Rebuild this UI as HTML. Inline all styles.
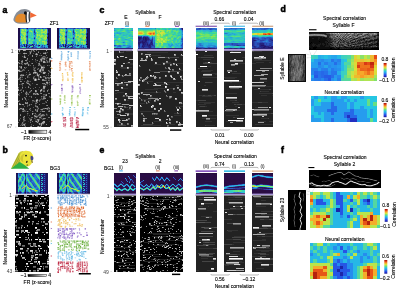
<!DOCTYPE html>
<html><head><meta charset="utf-8"><style>
html,body{margin:0;padding:0;background:#fff;}
body{width:400px;height:300px;overflow:hidden;position:relative;}
svg{position:absolute;left:0;top:0;}
text{font-family:"Liberation Sans",Arial,sans-serif;}
</style></head><body>
<svg width="400" height="300" viewBox="0 0 400 300" >
<rect width="400" height="300" fill="#fff"/>
<defs><filter id="bl" x="-5%" y="-5%" width="110%" height="110%"><feGaussianBlur stdDeviation="0.35"/></filter><filter id="bl2" x="-2%" y="-2%" width="104%" height="104%"><feGaussianBlur stdDeviation="0.3"/></filter><filter id="bl3" x="-2%" y="-2%" width="104%" height="104%"><feGaussianBlur stdDeviation="0.6"/></filter></defs>
<text x="2.6" y="12.6" font-size="8.7" text-anchor="start" font-weight="bold" fill="#000" stroke="#000" stroke-width="0.5">a</text>
<g transform="translate(0 0)">
<path d="M13.3 20.0 C14.2 15.5 17.0 11.2 21.0 9.6 C24.5 8.3 28.5 8.8 30.6 11.6 L30.4 20.6 C30.0 22.4 28.6 23.7 26.8 23.8 L20.0 23.8 C16.8 23.6 14.2 22.4 13.3 20.0Z" fill="#878e98"/>
<path d="M15.2 20.2 C15.0 16.8 17.6 14.0 21.2 13.8 C23.2 13.7 24.8 14.2 25.8 15.0 L26.0 22.4 L18.2 22.6 C16.5 22.4 15.3 21.5 15.2 20.2Z" fill="#e28a2c"/>
<path d="M26.6 12.2 C27.6 11.8 28.6 11.9 29.0 12.4 C28.4 15.5 28.4 18.8 29.2 21.8 L27.2 22.4 C26.6 19.0 26.6 15.0 26.6 12.2Z" fill="#f6f6f6"/>
<path d="M25.5 14.0 L26.6 14.0 C26.4 16.8 26.5 19.6 27.0 22.3 L26.0 22.4 C25.6 19.4 25.4 16.6 25.5 14.0Z" fill="#151515"/>
<circle cx="25.4" cy="12.9" r="1.55" fill="#111"/>
<path d="M29.0 12.2 L29.9 12.0 C29.5 15.2 29.5 18.4 30.1 21.2 L29.3 21.8 C28.6 18.8 28.5 15.4 29.0 12.2Z" fill="#2a2a2a"/>
<path d="M30.2 12.2 L36.8 15.4 L30.2 18.0Z" fill="#f26a36"/>
</g>
<text x="49.7" y="25" font-size="5" text-anchor="start" font-weight="normal" fill="#000" stroke="#000" stroke-width="0.1">ZF1</text>
<g filter="url(#bl)" shape-rendering="crispEdges"><rect x="18.1" y="28.2" width="32.5" height="20.4" fill="#1f155d"/>
<path fill="#1b0f48" d="M18.1 28.2h1.97v1.02h-1.97zM18.1 29.22h1.97v1.02h-1.97zM18.1 30.24h1.97v1.02h-1.97zM47.65 30.24h0.98v1.02h-0.98zM18.1 31.26h1.97v1.02h-1.97zM18.1 32.28h1.97v1.02h-1.97zM18.1 33.3h1.97v1.02h-1.97zM18.1 34.32h1.97v1.02h-1.97zM18.1 35.34h1.97v1.02h-1.97zM47.65 35.34h0.98v1.02h-0.98zM18.1 36.36h1.97v1.02h-1.97zM18.1 37.38h1.97v1.02h-1.97zM18.1 38.4h1.97v1.02h-1.97zM18.1 39.42h1.97v1.02h-1.97zM18.1 40.44h1.97v1.02h-1.97zM47.65 40.44h0.98v1.02h-0.98zM18.1 41.46h1.97v1.02h-1.97zM47.65 41.46h0.98v1.02h-0.98zM18.1 42.48h1.97v1.02h-1.97zM47.65 42.48h0.98v1.02h-0.98zM18.1 43.5h1.97v1.02h-1.97zM18.1 44.52h1.97v1.02h-1.97zM25.98 44.52h0.98v1.02h-0.98zM38.78 44.52h0.98v1.02h-0.98zM18.1 45.54h1.97v1.02h-1.97zM25.98 45.54h0.98v1.02h-0.98zM47.65 45.54h0.98v1.02h-0.98zM18.1 46.56h1.97v1.02h-1.97zM18.1 47.58h1.97v1.02h-1.97z"/>
<path fill="#2c52bd" d="M20.07 28.2h0.98v1.02h-0.98zM30.9 28.2h2.95v1.02h-2.95zM35.83 28.2h0.98v1.02h-0.98zM37.8 28.2h1.97v1.02h-1.97zM42.72 28.2h0.98v1.02h-0.98zM44.69 28.2h1.97v1.02h-1.97zM26.96 31.26h0.98v1.02h-0.98zM26.96 33.3h0.98v1.02h-0.98zM34.84 33.3h0.98v1.02h-0.98zM33.86 34.32h0.98v1.02h-0.98zM26.96 35.34h0.98v1.02h-0.98zM46.66 36.36h0.98v1.02h-0.98zM33.86 37.38h0.98v1.02h-0.98zM26.96 38.4h0.98v1.02h-0.98zM26.96 39.42h0.98v1.02h-0.98zM46.66 39.42h0.98v1.02h-0.98zM46.66 40.44h0.98v1.02h-0.98zM46.66 42.48h0.98v1.02h-0.98zM26.96 43.5h0.98v1.02h-0.98zM28.93 43.5h0.98v1.02h-0.98zM35.83 43.5h0.98v1.02h-0.98zM20.07 44.52h1.97v1.02h-1.97zM27.95 44.52h1.97v1.02h-1.97zM31.89 44.52h0.98v1.02h-0.98zM35.83 44.52h0.98v1.02h-0.98zM43.71 44.52h0.98v1.02h-0.98zM33.86 45.54h0.98v1.02h-0.98zM37.8 45.54h0.98v1.02h-0.98zM40.75 45.54h1.97v1.02h-1.97zM30.9 46.56h0.98v1.02h-0.98zM34.84 46.56h0.98v1.02h-0.98zM41.74 46.56h0.98v1.02h-0.98z"/>
<path fill="#2c68cb" d="M21.05 28.2h2.95v1.02h-2.95zM27.95 28.2h2.95v1.02h-2.95zM39.77 28.2h1.97v1.02h-1.97zM43.71 28.2h0.98v1.02h-0.98zM26.96 29.22h0.98v1.02h-0.98zM33.86 29.22h0.98v1.02h-0.98zM46.66 29.22h0.98v1.02h-0.98zM34.84 32.28h0.98v1.02h-0.98zM33.86 33.3h0.98v1.02h-0.98zM26.96 34.32h0.98v1.02h-0.98zM46.66 35.34h0.98v1.02h-0.98zM20.07 36.36h0.98v1.02h-0.98zM25.98 40.44h0.98v1.02h-0.98zM21.05 43.5h0.98v1.02h-0.98zM30.9 43.5h0.98v1.02h-0.98zM34.84 44.52h0.98v1.02h-0.98zM21.05 45.54h0.98v1.02h-0.98zM26.96 45.54h1.97v1.02h-1.97zM43.71 45.54h0.98v1.02h-0.98zM26.96 46.56h0.98v1.02h-0.98zM33.86 46.56h0.98v1.02h-0.98zM35.83 46.56h0.98v1.02h-0.98zM40.75 46.56h0.98v1.02h-0.98zM42.72 46.56h0.98v1.02h-0.98zM45.68 46.56h0.98v1.02h-0.98z"/>
<path fill="#2b81d2" d="M24.01 28.2h1.97v1.02h-1.97zM36.81 28.2h0.98v1.02h-0.98zM46.66 30.24h0.98v1.02h-0.98zM27.95 31.26h0.98v1.02h-0.98zM46.66 31.26h0.98v1.02h-0.98zM25.98 32.28h0.98v1.02h-0.98zM46.66 32.28h0.98v1.02h-0.98zM20.07 33.3h0.98v1.02h-0.98zM34.84 34.32h0.98v1.02h-0.98zM34.84 35.34h0.98v1.02h-0.98zM20.07 37.38h0.98v1.02h-0.98zM25.98 37.38h0.98v1.02h-0.98zM33.86 39.42h0.98v1.02h-0.98zM20.07 42.48h0.98v1.02h-0.98zM32.87 42.48h1.97v1.02h-1.97zM24.99 43.5h0.98v1.02h-0.98zM29.92 43.5h0.98v1.02h-0.98zM22.04 44.52h1.97v1.02h-1.97zM36.81 44.52h0.98v1.02h-0.98zM46.66 44.52h0.98v1.02h-0.98zM20.07 45.54h0.98v1.02h-0.98zM34.84 45.54h0.98v1.02h-0.98zM46.66 45.54h0.98v1.02h-0.98zM20.07 46.56h0.98v1.02h-0.98zM28.93 46.56h0.98v1.02h-0.98zM39.77 46.56h0.98v1.02h-0.98zM44.69 46.56h0.98v1.02h-0.98z"/>
<path fill="#2941a5" d="M25.98 28.2h0.98v1.02h-0.98zM33.86 28.2h0.98v1.02h-0.98zM41.74 28.2h0.98v1.02h-0.98zM33.86 30.24h0.98v1.02h-0.98zM46.66 33.3h0.98v1.02h-0.98zM25.98 36.36h0.98v1.02h-0.98zM26.96 37.38h0.98v1.02h-0.98zM26.96 40.44h0.98v1.02h-0.98zM23.02 43.5h0.98v1.02h-0.98zM32.87 43.5h1.97v1.02h-1.97zM41.74 44.52h0.98v1.02h-0.98zM24.99 45.54h0.98v1.02h-0.98z"/>
<path fill="#262f8c" d="M34.84 28.2h0.98v1.02h-0.98zM33.86 31.26h0.98v1.02h-0.98zM26.96 32.28h0.98v1.02h-0.98zM33.86 32.28h0.98v1.02h-0.98zM46.66 34.32h0.98v1.02h-0.98zM26.96 36.36h0.98v1.02h-0.98zM46.66 38.4h0.98v1.02h-0.98zM26.96 41.46h0.98v1.02h-0.98zM46.66 41.46h0.98v1.02h-0.98zM26.96 42.48h0.98v1.02h-0.98zM24.01 43.5h0.98v1.02h-0.98zM26.96 44.52h0.98v1.02h-0.98zM29.92 44.52h1.97v1.02h-1.97zM37.8 44.52h0.98v1.02h-0.98zM22.04 45.54h0.98v1.02h-0.98zM24.01 45.54h0.98v1.02h-0.98zM32.87 45.54h0.98v1.02h-0.98zM25.98 46.56h0.98v1.02h-0.98zM27.95 46.56h0.98v1.02h-0.98zM32.87 46.56h0.98v1.02h-0.98zM43.71 46.56h0.98v1.02h-0.98z"/>
<path fill="#241d74" d="M46.66 28.2h0.98v1.02h-0.98zM47.65 32.28h0.98v1.02h-0.98zM33.86 38.4h0.98v1.02h-0.98zM25.98 43.5h0.98v1.02h-0.98zM32.87 44.52h0.98v1.02h-0.98zM47.65 44.52h0.98v1.02h-0.98zM31.89 46.56h0.98v1.02h-0.98z"/>
<path fill="#299ad8" d="M20.07 29.22h0.98v1.02h-0.98zM27.95 29.22h0.98v1.02h-0.98zM20.07 30.24h0.98v1.02h-0.98zM26.96 30.24h1.97v1.02h-1.97zM20.07 31.26h0.98v1.02h-0.98zM32.87 31.26h0.98v1.02h-0.98zM20.07 32.28h0.98v1.02h-0.98zM27.95 32.28h0.98v1.02h-0.98zM32.87 32.28h0.98v1.02h-0.98zM20.07 34.32h0.98v1.02h-0.98zM25.98 35.34h0.98v1.02h-0.98zM34.84 36.36h0.98v1.02h-0.98zM34.84 37.38h0.98v1.02h-0.98zM32.87 38.4h0.98v1.02h-0.98zM34.84 38.4h0.98v1.02h-0.98zM20.07 39.42h0.98v1.02h-0.98zM25.98 39.42h0.98v1.02h-0.98zM25.98 41.46h0.98v1.02h-0.98zM32.87 41.46h1.97v1.02h-1.97zM25.98 42.48h0.98v1.02h-0.98zM37.8 43.5h0.98v1.02h-0.98zM45.68 43.5h0.98v1.02h-0.98zM24.99 44.52h0.98v1.02h-0.98zM39.77 44.52h1.97v1.02h-1.97zM42.72 44.52h0.98v1.02h-0.98zM44.69 44.52h0.98v1.02h-0.98zM23.02 45.54h0.98v1.02h-0.98zM38.78 45.54h0.98v1.02h-0.98zM21.05 46.56h0.98v1.02h-0.98zM29.92 46.56h0.98v1.02h-0.98z"/>
<path fill="#85e656" d="M21.05 29.22h0.98v1.02h-0.98zM24.99 29.22h0.98v1.02h-0.98zM36.81 29.22h0.98v1.02h-0.98zM40.75 29.22h1.97v1.02h-1.97zM21.05 31.26h1.97v1.02h-1.97zM29.92 31.26h0.98v1.02h-0.98zM40.75 31.26h2.95v1.02h-2.95zM24.99 32.28h0.98v1.02h-0.98zM44.69 32.28h0.98v1.02h-0.98zM22.04 33.3h1.97v1.02h-1.97zM40.75 33.3h0.98v1.02h-0.98zM38.78 34.32h0.98v1.02h-0.98zM37.8 35.34h0.98v1.02h-0.98zM39.77 35.34h0.98v1.02h-0.98zM42.72 35.34h0.98v1.02h-0.98zM44.69 35.34h0.98v1.02h-0.98zM36.81 36.36h0.98v1.02h-0.98zM41.74 36.36h1.97v1.02h-1.97zM45.68 36.36h0.98v1.02h-0.98zM21.05 37.38h0.98v1.02h-0.98zM39.77 37.38h1.97v1.02h-1.97zM22.04 38.4h1.97v1.02h-1.97zM37.8 38.4h1.97v1.02h-1.97zM42.72 38.4h0.98v1.02h-0.98zM22.04 39.42h0.98v1.02h-0.98zM28.93 39.42h0.98v1.02h-0.98zM38.78 39.42h1.97v1.02h-1.97zM43.71 39.42h0.98v1.02h-0.98zM21.05 40.44h1.97v1.02h-1.97zM24.01 40.44h1.97v1.02h-1.97zM22.04 42.48h0.98v1.02h-0.98zM28.93 42.48h0.98v1.02h-0.98zM36.81 42.48h0.98v1.02h-0.98zM44.69 42.48h1.97v1.02h-1.97z"/>
<path fill="#a9e64b" d="M22.04 29.22h0.98v1.02h-0.98zM45.68 29.22h0.98v1.02h-0.98zM22.04 30.24h1.97v1.02h-1.97zM24.99 30.24h0.98v1.02h-0.98zM40.75 30.24h1.97v1.02h-1.97zM44.69 30.24h1.97v1.02h-1.97zM30.9 31.26h0.98v1.02h-0.98zM35.83 31.26h0.98v1.02h-0.98zM43.71 31.26h2.95v1.02h-2.95zM21.05 32.28h3.94v1.02h-3.94zM36.81 32.28h0.98v1.02h-0.98zM40.75 32.28h3.94v1.02h-3.94zM45.68 32.28h0.98v1.02h-0.98zM24.01 33.3h1.97v1.02h-1.97zM44.69 33.3h0.98v1.02h-0.98zM23.02 34.32h2.95v1.02h-2.95zM36.81 34.32h0.98v1.02h-0.98zM24.01 35.34h0.98v1.02h-0.98zM36.81 35.34h0.98v1.02h-0.98zM38.78 35.34h0.98v1.02h-0.98zM40.75 35.34h1.97v1.02h-1.97zM45.68 35.34h0.98v1.02h-0.98zM21.05 36.36h0.98v1.02h-0.98zM24.01 36.36h0.98v1.02h-0.98zM39.77 36.36h1.97v1.02h-1.97zM44.69 36.36h0.98v1.02h-0.98zM23.02 37.38h1.97v1.02h-1.97zM35.83 37.38h0.98v1.02h-0.98zM43.71 37.38h2.95v1.02h-2.95zM21.05 38.4h0.98v1.02h-0.98zM24.01 38.4h1.97v1.02h-1.97zM43.71 38.4h2.95v1.02h-2.95zM24.01 39.42h1.97v1.02h-1.97zM44.69 39.42h0.98v1.02h-0.98zM38.78 40.44h0.98v1.02h-0.98zM24.99 41.46h0.98v1.02h-0.98zM41.74 41.46h2.95v1.02h-2.95zM23.02 42.48h0.98v1.02h-0.98zM24.99 42.48h0.98v1.02h-0.98zM43.71 42.48h0.98v1.02h-0.98z"/>
<path fill="#69e26b" d="M23.02 29.22h0.98v1.02h-0.98zM37.8 29.22h1.97v1.02h-1.97zM44.69 29.22h0.98v1.02h-0.98zM21.05 30.24h0.98v1.02h-0.98zM24.01 30.24h0.98v1.02h-0.98zM28.93 30.24h1.97v1.02h-1.97zM35.83 30.24h0.98v1.02h-0.98zM39.77 30.24h0.98v1.02h-0.98zM23.02 31.26h0.98v1.02h-0.98zM24.99 31.26h0.98v1.02h-0.98zM28.93 31.26h0.98v1.02h-0.98zM37.8 32.28h0.98v1.02h-0.98zM36.81 33.3h0.98v1.02h-0.98zM43.71 33.3h0.98v1.02h-0.98zM45.68 33.3h0.98v1.02h-0.98zM22.04 34.32h0.98v1.02h-0.98zM35.83 34.32h0.98v1.02h-0.98zM37.8 34.32h0.98v1.02h-0.98zM40.75 34.32h1.97v1.02h-1.97zM23.02 35.34h0.98v1.02h-0.98zM24.99 35.34h0.98v1.02h-0.98zM43.71 35.34h0.98v1.02h-0.98zM22.04 36.36h0.98v1.02h-0.98zM43.71 36.36h0.98v1.02h-0.98zM24.99 37.38h0.98v1.02h-0.98zM36.81 37.38h0.98v1.02h-0.98zM38.78 37.38h0.98v1.02h-0.98zM41.74 37.38h1.97v1.02h-1.97zM36.81 38.4h0.98v1.02h-0.98zM39.77 38.4h0.98v1.02h-0.98zM23.02 39.42h0.98v1.02h-0.98zM31.89 40.44h0.98v1.02h-0.98zM39.77 40.44h0.98v1.02h-0.98zM43.71 40.44h0.98v1.02h-0.98zM23.02 41.46h0.98v1.02h-0.98zM38.78 41.46h0.98v1.02h-0.98zM44.69 41.46h1.97v1.02h-1.97zM41.74 42.48h0.98v1.02h-0.98zM43.71 43.5h1.97v1.02h-1.97zM30.9 45.54h0.98v1.02h-0.98zM23.02 46.56h0.98v1.02h-0.98z"/>
<path fill="#52db86" d="M24.01 29.22h0.98v1.02h-0.98zM35.83 29.22h0.98v1.02h-0.98zM43.71 29.22h0.98v1.02h-0.98zM43.71 30.24h0.98v1.02h-0.98zM24.01 31.26h0.98v1.02h-0.98zM31.89 31.26h0.98v1.02h-0.98zM36.81 31.26h3.94v1.02h-3.94zM30.9 32.28h1.97v1.02h-1.97zM38.78 32.28h1.97v1.02h-1.97zM21.05 33.3h0.98v1.02h-0.98zM31.89 33.3h0.98v1.02h-0.98zM38.78 33.3h1.97v1.02h-1.97zM41.74 33.3h0.98v1.02h-0.98zM29.92 34.32h0.98v1.02h-0.98zM31.89 34.32h0.98v1.02h-0.98zM39.77 34.32h0.98v1.02h-0.98zM43.71 34.32h2.95v1.02h-2.95zM21.05 35.34h0.98v1.02h-0.98zM35.83 35.34h0.98v1.02h-0.98zM23.02 36.36h0.98v1.02h-0.98zM24.99 36.36h0.98v1.02h-0.98zM31.89 36.36h0.98v1.02h-0.98zM35.83 36.36h0.98v1.02h-0.98zM38.78 36.36h0.98v1.02h-0.98zM22.04 37.38h0.98v1.02h-0.98zM31.89 37.38h0.98v1.02h-0.98zM28.93 38.4h0.98v1.02h-0.98zM35.83 38.4h0.98v1.02h-0.98zM41.74 38.4h0.98v1.02h-0.98zM21.05 39.42h0.98v1.02h-0.98zM29.92 39.42h0.98v1.02h-0.98zM36.81 39.42h1.97v1.02h-1.97zM40.75 39.42h0.98v1.02h-0.98zM42.72 39.42h0.98v1.02h-0.98zM23.02 40.44h0.98v1.02h-0.98zM28.93 40.44h0.98v1.02h-0.98zM37.8 40.44h0.98v1.02h-0.98zM41.74 40.44h0.98v1.02h-0.98zM21.05 41.46h1.97v1.02h-1.97zM24.01 41.46h0.98v1.02h-0.98zM30.9 41.46h0.98v1.02h-0.98zM35.83 41.46h1.97v1.02h-1.97zM39.77 41.46h1.97v1.02h-1.97zM24.01 42.48h0.98v1.02h-0.98zM29.92 42.48h1.97v1.02h-1.97zM37.8 42.48h0.98v1.02h-0.98zM39.77 42.48h0.98v1.02h-0.98zM42.72 42.48h0.98v1.02h-0.98zM36.81 43.5h0.98v1.02h-0.98z"/>
<path fill="#29afd6" d="M25.98 29.22h0.98v1.02h-0.98zM30.9 29.22h0.98v1.02h-0.98zM34.84 29.22h0.98v1.02h-0.98zM34.84 30.24h0.98v1.02h-0.98zM34.84 31.26h0.98v1.02h-0.98zM25.98 33.3h0.98v1.02h-0.98zM32.87 33.3h0.98v1.02h-0.98zM32.87 34.32h0.98v1.02h-0.98zM20.07 35.34h0.98v1.02h-0.98zM27.95 35.34h0.98v1.02h-0.98zM33.86 36.36h0.98v1.02h-0.98zM25.98 38.4h0.98v1.02h-0.98zM34.84 39.42h0.98v1.02h-0.98zM20.07 40.44h0.98v1.02h-0.98zM34.84 40.44h0.98v1.02h-0.98zM27.95 41.46h0.98v1.02h-0.98zM34.84 42.48h0.98v1.02h-0.98zM27.95 43.5h0.98v1.02h-0.98zM34.84 43.5h0.98v1.02h-0.98zM40.75 43.5h0.98v1.02h-0.98zM35.83 45.54h1.97v1.02h-1.97zM42.72 45.54h0.98v1.02h-0.98zM44.69 45.54h0.98v1.02h-0.98zM24.99 46.56h0.98v1.02h-0.98z"/>
<path fill="#30c9b5" d="M28.93 29.22h1.97v1.02h-1.97zM31.89 29.22h0.98v1.02h-0.98zM25.98 30.24h0.98v1.02h-0.98zM31.89 30.24h0.98v1.02h-0.98zM42.72 30.24h0.98v1.02h-0.98zM28.93 32.28h1.97v1.02h-1.97zM28.93 33.3h0.98v1.02h-0.98zM30.9 33.3h0.98v1.02h-0.98zM30.9 34.32h0.98v1.02h-0.98zM22.04 35.34h0.98v1.02h-0.98zM30.9 35.34h0.98v1.02h-0.98zM32.87 35.34h0.98v1.02h-0.98zM32.87 36.36h0.98v1.02h-0.98zM32.87 37.38h0.98v1.02h-0.98zM27.95 39.42h0.98v1.02h-0.98zM30.9 39.42h0.98v1.02h-0.98zM35.83 39.42h0.98v1.02h-0.98zM41.74 39.42h0.98v1.02h-0.98zM45.68 39.42h0.98v1.02h-0.98zM35.83 40.44h0.98v1.02h-0.98zM45.68 40.44h0.98v1.02h-0.98zM28.93 41.46h0.98v1.02h-0.98zM27.95 42.48h0.98v1.02h-0.98zM39.77 43.5h0.98v1.02h-0.98zM42.72 43.5h0.98v1.02h-0.98zM33.86 44.52h0.98v1.02h-0.98zM24.01 46.56h0.98v1.02h-0.98z"/>
<path fill="#2cbcc6" d="M32.87 29.22h0.98v1.02h-0.98zM42.72 29.22h0.98v1.02h-0.98zM32.87 30.24h0.98v1.02h-0.98zM25.98 31.26h0.98v1.02h-0.98zM27.95 33.3h0.98v1.02h-0.98zM25.98 34.32h0.98v1.02h-0.98zM27.95 34.32h0.98v1.02h-0.98zM42.72 34.32h0.98v1.02h-0.98zM28.93 35.34h0.98v1.02h-0.98zM33.86 35.34h0.98v1.02h-0.98zM27.95 36.36h0.98v1.02h-0.98zM27.95 37.38h2.95v1.02h-2.95zM20.07 38.4h0.98v1.02h-0.98zM30.9 38.4h1.97v1.02h-1.97zM40.75 38.4h0.98v1.02h-0.98zM27.95 40.44h0.98v1.02h-0.98zM33.86 40.44h0.98v1.02h-0.98zM20.07 41.46h0.98v1.02h-0.98zM31.89 41.46h0.98v1.02h-0.98zM34.84 41.46h0.98v1.02h-0.98zM21.05 42.48h0.98v1.02h-0.98zM35.83 42.48h0.98v1.02h-0.98zM38.78 42.48h0.98v1.02h-0.98zM20.07 43.5h0.98v1.02h-0.98zM22.04 43.5h0.98v1.02h-0.98zM41.74 43.5h0.98v1.02h-0.98zM45.68 44.52h0.98v1.02h-0.98zM29.92 45.54h0.98v1.02h-0.98zM39.77 45.54h0.98v1.02h-0.98zM45.68 45.54h0.98v1.02h-0.98zM36.81 46.56h0.98v1.02h-0.98zM46.66 46.56h0.98v1.02h-0.98z"/>
<path fill="#3ad4a1" d="M39.77 29.22h0.98v1.02h-0.98zM30.9 30.24h0.98v1.02h-0.98zM36.81 30.24h2.95v1.02h-2.95zM35.83 32.28h0.98v1.02h-0.98zM29.92 33.3h0.98v1.02h-0.98zM35.83 33.3h0.98v1.02h-0.98zM37.8 33.3h0.98v1.02h-0.98zM42.72 33.3h0.98v1.02h-0.98zM21.05 34.32h0.98v1.02h-0.98zM28.93 34.32h0.98v1.02h-0.98zM29.92 35.34h0.98v1.02h-0.98zM31.89 35.34h0.98v1.02h-0.98zM28.93 36.36h2.95v1.02h-2.95zM37.8 36.36h0.98v1.02h-0.98zM30.9 37.38h0.98v1.02h-0.98zM37.8 37.38h0.98v1.02h-0.98zM27.95 38.4h0.98v1.02h-0.98zM29.92 38.4h0.98v1.02h-0.98zM31.89 39.42h1.97v1.02h-1.97zM29.92 40.44h1.97v1.02h-1.97zM32.87 40.44h0.98v1.02h-0.98zM36.81 40.44h0.98v1.02h-0.98zM40.75 40.44h0.98v1.02h-0.98zM42.72 40.44h0.98v1.02h-0.98zM44.69 40.44h0.98v1.02h-0.98zM29.92 41.46h0.98v1.02h-0.98zM37.8 41.46h0.98v1.02h-0.98zM31.89 42.48h0.98v1.02h-0.98zM40.75 42.48h0.98v1.02h-0.98zM38.78 43.5h0.98v1.02h-0.98zM31.89 45.54h0.98v1.02h-0.98zM22.04 46.56h0.98v1.02h-0.98zM37.8 46.56h1.97v1.02h-1.97z"/>
<path fill="#160a32" d="M47.65 33.3h0.98v1.02h-0.98zM47.65 34.32h0.98v1.02h-0.98zM47.65 36.36h0.98v1.02h-0.98zM47.65 37.38h0.98v1.02h-0.98zM47.65 38.4h0.98v1.02h-0.98zM47.65 39.42h0.98v1.02h-0.98zM46.66 43.5h1.97v1.02h-1.97z"/></g>
<g transform="translate(39 0)"><g filter="url(#bl)" shape-rendering="crispEdges"><rect x="18.1" y="28.2" width="32.5" height="20.4" fill="#1f155d"/>
<path fill="#1b0f48" d="M18.1 28.2h1.97v1.02h-1.97zM18.1 29.22h1.97v1.02h-1.97zM18.1 30.24h1.97v1.02h-1.97zM47.65 30.24h0.98v1.02h-0.98zM18.1 31.26h1.97v1.02h-1.97zM18.1 32.28h1.97v1.02h-1.97zM18.1 33.3h1.97v1.02h-1.97zM18.1 34.32h1.97v1.02h-1.97zM18.1 35.34h1.97v1.02h-1.97zM47.65 35.34h0.98v1.02h-0.98zM18.1 36.36h1.97v1.02h-1.97zM18.1 37.38h1.97v1.02h-1.97zM18.1 38.4h1.97v1.02h-1.97zM18.1 39.42h1.97v1.02h-1.97zM18.1 40.44h1.97v1.02h-1.97zM47.65 40.44h0.98v1.02h-0.98zM18.1 41.46h1.97v1.02h-1.97zM47.65 41.46h0.98v1.02h-0.98zM18.1 42.48h1.97v1.02h-1.97zM47.65 42.48h0.98v1.02h-0.98zM18.1 43.5h1.97v1.02h-1.97zM18.1 44.52h1.97v1.02h-1.97zM25.98 44.52h0.98v1.02h-0.98zM38.78 44.52h0.98v1.02h-0.98zM18.1 45.54h1.97v1.02h-1.97zM25.98 45.54h0.98v1.02h-0.98zM47.65 45.54h0.98v1.02h-0.98zM18.1 46.56h1.97v1.02h-1.97zM18.1 47.58h1.97v1.02h-1.97z"/>
<path fill="#2c52bd" d="M20.07 28.2h0.98v1.02h-0.98zM30.9 28.2h2.95v1.02h-2.95zM35.83 28.2h0.98v1.02h-0.98zM37.8 28.2h1.97v1.02h-1.97zM42.72 28.2h0.98v1.02h-0.98zM44.69 28.2h1.97v1.02h-1.97zM26.96 31.26h0.98v1.02h-0.98zM26.96 33.3h0.98v1.02h-0.98zM34.84 33.3h0.98v1.02h-0.98zM33.86 34.32h0.98v1.02h-0.98zM26.96 35.34h0.98v1.02h-0.98zM46.66 36.36h0.98v1.02h-0.98zM33.86 37.38h0.98v1.02h-0.98zM26.96 38.4h0.98v1.02h-0.98zM26.96 39.42h0.98v1.02h-0.98zM46.66 39.42h0.98v1.02h-0.98zM46.66 40.44h0.98v1.02h-0.98zM46.66 42.48h0.98v1.02h-0.98zM26.96 43.5h0.98v1.02h-0.98zM28.93 43.5h0.98v1.02h-0.98zM35.83 43.5h0.98v1.02h-0.98zM20.07 44.52h1.97v1.02h-1.97zM27.95 44.52h1.97v1.02h-1.97zM31.89 44.52h0.98v1.02h-0.98zM35.83 44.52h0.98v1.02h-0.98zM43.71 44.52h0.98v1.02h-0.98zM33.86 45.54h0.98v1.02h-0.98zM37.8 45.54h0.98v1.02h-0.98zM40.75 45.54h1.97v1.02h-1.97zM30.9 46.56h0.98v1.02h-0.98zM34.84 46.56h0.98v1.02h-0.98zM41.74 46.56h0.98v1.02h-0.98z"/>
<path fill="#2c68cb" d="M21.05 28.2h2.95v1.02h-2.95zM27.95 28.2h2.95v1.02h-2.95zM39.77 28.2h1.97v1.02h-1.97zM43.71 28.2h0.98v1.02h-0.98zM26.96 29.22h0.98v1.02h-0.98zM33.86 29.22h0.98v1.02h-0.98zM46.66 29.22h0.98v1.02h-0.98zM34.84 32.28h0.98v1.02h-0.98zM33.86 33.3h0.98v1.02h-0.98zM26.96 34.32h0.98v1.02h-0.98zM46.66 35.34h0.98v1.02h-0.98zM20.07 36.36h0.98v1.02h-0.98zM25.98 40.44h0.98v1.02h-0.98zM21.05 43.5h0.98v1.02h-0.98zM30.9 43.5h0.98v1.02h-0.98zM34.84 44.52h0.98v1.02h-0.98zM21.05 45.54h0.98v1.02h-0.98zM26.96 45.54h1.97v1.02h-1.97zM43.71 45.54h0.98v1.02h-0.98zM26.96 46.56h0.98v1.02h-0.98zM33.86 46.56h0.98v1.02h-0.98zM35.83 46.56h0.98v1.02h-0.98zM40.75 46.56h0.98v1.02h-0.98zM42.72 46.56h0.98v1.02h-0.98zM45.68 46.56h0.98v1.02h-0.98z"/>
<path fill="#2b81d2" d="M24.01 28.2h1.97v1.02h-1.97zM36.81 28.2h0.98v1.02h-0.98zM46.66 30.24h0.98v1.02h-0.98zM27.95 31.26h0.98v1.02h-0.98zM46.66 31.26h0.98v1.02h-0.98zM25.98 32.28h0.98v1.02h-0.98zM46.66 32.28h0.98v1.02h-0.98zM20.07 33.3h0.98v1.02h-0.98zM34.84 34.32h0.98v1.02h-0.98zM34.84 35.34h0.98v1.02h-0.98zM20.07 37.38h0.98v1.02h-0.98zM25.98 37.38h0.98v1.02h-0.98zM33.86 39.42h0.98v1.02h-0.98zM20.07 42.48h0.98v1.02h-0.98zM32.87 42.48h1.97v1.02h-1.97zM24.99 43.5h0.98v1.02h-0.98zM29.92 43.5h0.98v1.02h-0.98zM22.04 44.52h1.97v1.02h-1.97zM36.81 44.52h0.98v1.02h-0.98zM46.66 44.52h0.98v1.02h-0.98zM20.07 45.54h0.98v1.02h-0.98zM34.84 45.54h0.98v1.02h-0.98zM46.66 45.54h0.98v1.02h-0.98zM20.07 46.56h0.98v1.02h-0.98zM28.93 46.56h0.98v1.02h-0.98zM39.77 46.56h0.98v1.02h-0.98zM44.69 46.56h0.98v1.02h-0.98z"/>
<path fill="#2941a5" d="M25.98 28.2h0.98v1.02h-0.98zM33.86 28.2h0.98v1.02h-0.98zM41.74 28.2h0.98v1.02h-0.98zM33.86 30.24h0.98v1.02h-0.98zM46.66 33.3h0.98v1.02h-0.98zM25.98 36.36h0.98v1.02h-0.98zM26.96 37.38h0.98v1.02h-0.98zM26.96 40.44h0.98v1.02h-0.98zM23.02 43.5h0.98v1.02h-0.98zM32.87 43.5h1.97v1.02h-1.97zM41.74 44.52h0.98v1.02h-0.98zM24.99 45.54h0.98v1.02h-0.98z"/>
<path fill="#262f8c" d="M34.84 28.2h0.98v1.02h-0.98zM33.86 31.26h0.98v1.02h-0.98zM26.96 32.28h0.98v1.02h-0.98zM33.86 32.28h0.98v1.02h-0.98zM46.66 34.32h0.98v1.02h-0.98zM26.96 36.36h0.98v1.02h-0.98zM46.66 38.4h0.98v1.02h-0.98zM26.96 41.46h0.98v1.02h-0.98zM46.66 41.46h0.98v1.02h-0.98zM26.96 42.48h0.98v1.02h-0.98zM24.01 43.5h0.98v1.02h-0.98zM26.96 44.52h0.98v1.02h-0.98zM29.92 44.52h1.97v1.02h-1.97zM37.8 44.52h0.98v1.02h-0.98zM22.04 45.54h0.98v1.02h-0.98zM24.01 45.54h0.98v1.02h-0.98zM32.87 45.54h0.98v1.02h-0.98zM25.98 46.56h0.98v1.02h-0.98zM27.95 46.56h0.98v1.02h-0.98zM32.87 46.56h0.98v1.02h-0.98zM43.71 46.56h0.98v1.02h-0.98z"/>
<path fill="#241d74" d="M46.66 28.2h0.98v1.02h-0.98zM47.65 32.28h0.98v1.02h-0.98zM33.86 38.4h0.98v1.02h-0.98zM25.98 43.5h0.98v1.02h-0.98zM32.87 44.52h0.98v1.02h-0.98zM47.65 44.52h0.98v1.02h-0.98zM31.89 46.56h0.98v1.02h-0.98z"/>
<path fill="#299ad8" d="M20.07 29.22h0.98v1.02h-0.98zM27.95 29.22h0.98v1.02h-0.98zM20.07 30.24h0.98v1.02h-0.98zM26.96 30.24h1.97v1.02h-1.97zM20.07 31.26h0.98v1.02h-0.98zM32.87 31.26h0.98v1.02h-0.98zM20.07 32.28h0.98v1.02h-0.98zM27.95 32.28h0.98v1.02h-0.98zM32.87 32.28h0.98v1.02h-0.98zM20.07 34.32h0.98v1.02h-0.98zM25.98 35.34h0.98v1.02h-0.98zM34.84 36.36h0.98v1.02h-0.98zM34.84 37.38h0.98v1.02h-0.98zM32.87 38.4h0.98v1.02h-0.98zM34.84 38.4h0.98v1.02h-0.98zM20.07 39.42h0.98v1.02h-0.98zM25.98 39.42h0.98v1.02h-0.98zM25.98 41.46h0.98v1.02h-0.98zM32.87 41.46h1.97v1.02h-1.97zM25.98 42.48h0.98v1.02h-0.98zM37.8 43.5h0.98v1.02h-0.98zM45.68 43.5h0.98v1.02h-0.98zM24.99 44.52h0.98v1.02h-0.98zM39.77 44.52h1.97v1.02h-1.97zM42.72 44.52h0.98v1.02h-0.98zM44.69 44.52h0.98v1.02h-0.98zM23.02 45.54h0.98v1.02h-0.98zM38.78 45.54h0.98v1.02h-0.98zM21.05 46.56h0.98v1.02h-0.98zM29.92 46.56h0.98v1.02h-0.98z"/>
<path fill="#85e656" d="M21.05 29.22h0.98v1.02h-0.98zM24.99 29.22h0.98v1.02h-0.98zM36.81 29.22h0.98v1.02h-0.98zM40.75 29.22h1.97v1.02h-1.97zM21.05 31.26h1.97v1.02h-1.97zM29.92 31.26h0.98v1.02h-0.98zM40.75 31.26h2.95v1.02h-2.95zM24.99 32.28h0.98v1.02h-0.98zM44.69 32.28h0.98v1.02h-0.98zM22.04 33.3h1.97v1.02h-1.97zM40.75 33.3h0.98v1.02h-0.98zM38.78 34.32h0.98v1.02h-0.98zM37.8 35.34h0.98v1.02h-0.98zM39.77 35.34h0.98v1.02h-0.98zM42.72 35.34h0.98v1.02h-0.98zM44.69 35.34h0.98v1.02h-0.98zM36.81 36.36h0.98v1.02h-0.98zM41.74 36.36h1.97v1.02h-1.97zM45.68 36.36h0.98v1.02h-0.98zM21.05 37.38h0.98v1.02h-0.98zM39.77 37.38h1.97v1.02h-1.97zM22.04 38.4h1.97v1.02h-1.97zM37.8 38.4h1.97v1.02h-1.97zM42.72 38.4h0.98v1.02h-0.98zM22.04 39.42h0.98v1.02h-0.98zM28.93 39.42h0.98v1.02h-0.98zM38.78 39.42h1.97v1.02h-1.97zM43.71 39.42h0.98v1.02h-0.98zM21.05 40.44h1.97v1.02h-1.97zM24.01 40.44h1.97v1.02h-1.97zM22.04 42.48h0.98v1.02h-0.98zM28.93 42.48h0.98v1.02h-0.98zM36.81 42.48h0.98v1.02h-0.98zM44.69 42.48h1.97v1.02h-1.97z"/>
<path fill="#a9e64b" d="M22.04 29.22h0.98v1.02h-0.98zM45.68 29.22h0.98v1.02h-0.98zM22.04 30.24h1.97v1.02h-1.97zM24.99 30.24h0.98v1.02h-0.98zM40.75 30.24h1.97v1.02h-1.97zM44.69 30.24h1.97v1.02h-1.97zM30.9 31.26h0.98v1.02h-0.98zM35.83 31.26h0.98v1.02h-0.98zM43.71 31.26h2.95v1.02h-2.95zM21.05 32.28h3.94v1.02h-3.94zM36.81 32.28h0.98v1.02h-0.98zM40.75 32.28h3.94v1.02h-3.94zM45.68 32.28h0.98v1.02h-0.98zM24.01 33.3h1.97v1.02h-1.97zM44.69 33.3h0.98v1.02h-0.98zM23.02 34.32h2.95v1.02h-2.95zM36.81 34.32h0.98v1.02h-0.98zM24.01 35.34h0.98v1.02h-0.98zM36.81 35.34h0.98v1.02h-0.98zM38.78 35.34h0.98v1.02h-0.98zM40.75 35.34h1.97v1.02h-1.97zM45.68 35.34h0.98v1.02h-0.98zM21.05 36.36h0.98v1.02h-0.98zM24.01 36.36h0.98v1.02h-0.98zM39.77 36.36h1.97v1.02h-1.97zM44.69 36.36h0.98v1.02h-0.98zM23.02 37.38h1.97v1.02h-1.97zM35.83 37.38h0.98v1.02h-0.98zM43.71 37.38h2.95v1.02h-2.95zM21.05 38.4h0.98v1.02h-0.98zM24.01 38.4h1.97v1.02h-1.97zM43.71 38.4h2.95v1.02h-2.95zM24.01 39.42h1.97v1.02h-1.97zM44.69 39.42h0.98v1.02h-0.98zM38.78 40.44h0.98v1.02h-0.98zM24.99 41.46h0.98v1.02h-0.98zM41.74 41.46h2.95v1.02h-2.95zM23.02 42.48h0.98v1.02h-0.98zM24.99 42.48h0.98v1.02h-0.98zM43.71 42.48h0.98v1.02h-0.98z"/>
<path fill="#69e26b" d="M23.02 29.22h0.98v1.02h-0.98zM37.8 29.22h1.97v1.02h-1.97zM44.69 29.22h0.98v1.02h-0.98zM21.05 30.24h0.98v1.02h-0.98zM24.01 30.24h0.98v1.02h-0.98zM28.93 30.24h1.97v1.02h-1.97zM35.83 30.24h0.98v1.02h-0.98zM39.77 30.24h0.98v1.02h-0.98zM23.02 31.26h0.98v1.02h-0.98zM24.99 31.26h0.98v1.02h-0.98zM28.93 31.26h0.98v1.02h-0.98zM37.8 32.28h0.98v1.02h-0.98zM36.81 33.3h0.98v1.02h-0.98zM43.71 33.3h0.98v1.02h-0.98zM45.68 33.3h0.98v1.02h-0.98zM22.04 34.32h0.98v1.02h-0.98zM35.83 34.32h0.98v1.02h-0.98zM37.8 34.32h0.98v1.02h-0.98zM40.75 34.32h1.97v1.02h-1.97zM23.02 35.34h0.98v1.02h-0.98zM24.99 35.34h0.98v1.02h-0.98zM43.71 35.34h0.98v1.02h-0.98zM22.04 36.36h0.98v1.02h-0.98zM43.71 36.36h0.98v1.02h-0.98zM24.99 37.38h0.98v1.02h-0.98zM36.81 37.38h0.98v1.02h-0.98zM38.78 37.38h0.98v1.02h-0.98zM41.74 37.38h1.97v1.02h-1.97zM36.81 38.4h0.98v1.02h-0.98zM39.77 38.4h0.98v1.02h-0.98zM23.02 39.42h0.98v1.02h-0.98zM31.89 40.44h0.98v1.02h-0.98zM39.77 40.44h0.98v1.02h-0.98zM43.71 40.44h0.98v1.02h-0.98zM23.02 41.46h0.98v1.02h-0.98zM38.78 41.46h0.98v1.02h-0.98zM44.69 41.46h1.97v1.02h-1.97zM41.74 42.48h0.98v1.02h-0.98zM43.71 43.5h1.97v1.02h-1.97zM30.9 45.54h0.98v1.02h-0.98zM23.02 46.56h0.98v1.02h-0.98z"/>
<path fill="#52db86" d="M24.01 29.22h0.98v1.02h-0.98zM35.83 29.22h0.98v1.02h-0.98zM43.71 29.22h0.98v1.02h-0.98zM43.71 30.24h0.98v1.02h-0.98zM24.01 31.26h0.98v1.02h-0.98zM31.89 31.26h0.98v1.02h-0.98zM36.81 31.26h3.94v1.02h-3.94zM30.9 32.28h1.97v1.02h-1.97zM38.78 32.28h1.97v1.02h-1.97zM21.05 33.3h0.98v1.02h-0.98zM31.89 33.3h0.98v1.02h-0.98zM38.78 33.3h1.97v1.02h-1.97zM41.74 33.3h0.98v1.02h-0.98zM29.92 34.32h0.98v1.02h-0.98zM31.89 34.32h0.98v1.02h-0.98zM39.77 34.32h0.98v1.02h-0.98zM43.71 34.32h2.95v1.02h-2.95zM21.05 35.34h0.98v1.02h-0.98zM35.83 35.34h0.98v1.02h-0.98zM23.02 36.36h0.98v1.02h-0.98zM24.99 36.36h0.98v1.02h-0.98zM31.89 36.36h0.98v1.02h-0.98zM35.83 36.36h0.98v1.02h-0.98zM38.78 36.36h0.98v1.02h-0.98zM22.04 37.38h0.98v1.02h-0.98zM31.89 37.38h0.98v1.02h-0.98zM28.93 38.4h0.98v1.02h-0.98zM35.83 38.4h0.98v1.02h-0.98zM41.74 38.4h0.98v1.02h-0.98zM21.05 39.42h0.98v1.02h-0.98zM29.92 39.42h0.98v1.02h-0.98zM36.81 39.42h1.97v1.02h-1.97zM40.75 39.42h0.98v1.02h-0.98zM42.72 39.42h0.98v1.02h-0.98zM23.02 40.44h0.98v1.02h-0.98zM28.93 40.44h0.98v1.02h-0.98zM37.8 40.44h0.98v1.02h-0.98zM41.74 40.44h0.98v1.02h-0.98zM21.05 41.46h1.97v1.02h-1.97zM24.01 41.46h0.98v1.02h-0.98zM30.9 41.46h0.98v1.02h-0.98zM35.83 41.46h1.97v1.02h-1.97zM39.77 41.46h1.97v1.02h-1.97zM24.01 42.48h0.98v1.02h-0.98zM29.92 42.48h1.97v1.02h-1.97zM37.8 42.48h0.98v1.02h-0.98zM39.77 42.48h0.98v1.02h-0.98zM42.72 42.48h0.98v1.02h-0.98zM36.81 43.5h0.98v1.02h-0.98z"/>
<path fill="#29afd6" d="M25.98 29.22h0.98v1.02h-0.98zM30.9 29.22h0.98v1.02h-0.98zM34.84 29.22h0.98v1.02h-0.98zM34.84 30.24h0.98v1.02h-0.98zM34.84 31.26h0.98v1.02h-0.98zM25.98 33.3h0.98v1.02h-0.98zM32.87 33.3h0.98v1.02h-0.98zM32.87 34.32h0.98v1.02h-0.98zM20.07 35.34h0.98v1.02h-0.98zM27.95 35.34h0.98v1.02h-0.98zM33.86 36.36h0.98v1.02h-0.98zM25.98 38.4h0.98v1.02h-0.98zM34.84 39.42h0.98v1.02h-0.98zM20.07 40.44h0.98v1.02h-0.98zM34.84 40.44h0.98v1.02h-0.98zM27.95 41.46h0.98v1.02h-0.98zM34.84 42.48h0.98v1.02h-0.98zM27.95 43.5h0.98v1.02h-0.98zM34.84 43.5h0.98v1.02h-0.98zM40.75 43.5h0.98v1.02h-0.98zM35.83 45.54h1.97v1.02h-1.97zM42.72 45.54h0.98v1.02h-0.98zM44.69 45.54h0.98v1.02h-0.98zM24.99 46.56h0.98v1.02h-0.98z"/>
<path fill="#30c9b5" d="M28.93 29.22h1.97v1.02h-1.97zM31.89 29.22h0.98v1.02h-0.98zM25.98 30.24h0.98v1.02h-0.98zM31.89 30.24h0.98v1.02h-0.98zM42.72 30.24h0.98v1.02h-0.98zM28.93 32.28h1.97v1.02h-1.97zM28.93 33.3h0.98v1.02h-0.98zM30.9 33.3h0.98v1.02h-0.98zM30.9 34.32h0.98v1.02h-0.98zM22.04 35.34h0.98v1.02h-0.98zM30.9 35.34h0.98v1.02h-0.98zM32.87 35.34h0.98v1.02h-0.98zM32.87 36.36h0.98v1.02h-0.98zM32.87 37.38h0.98v1.02h-0.98zM27.95 39.42h0.98v1.02h-0.98zM30.9 39.42h0.98v1.02h-0.98zM35.83 39.42h0.98v1.02h-0.98zM41.74 39.42h0.98v1.02h-0.98zM45.68 39.42h0.98v1.02h-0.98zM35.83 40.44h0.98v1.02h-0.98zM45.68 40.44h0.98v1.02h-0.98zM28.93 41.46h0.98v1.02h-0.98zM27.95 42.48h0.98v1.02h-0.98zM39.77 43.5h0.98v1.02h-0.98zM42.72 43.5h0.98v1.02h-0.98zM33.86 44.52h0.98v1.02h-0.98zM24.01 46.56h0.98v1.02h-0.98z"/>
<path fill="#2cbcc6" d="M32.87 29.22h0.98v1.02h-0.98zM42.72 29.22h0.98v1.02h-0.98zM32.87 30.24h0.98v1.02h-0.98zM25.98 31.26h0.98v1.02h-0.98zM27.95 33.3h0.98v1.02h-0.98zM25.98 34.32h0.98v1.02h-0.98zM27.95 34.32h0.98v1.02h-0.98zM42.72 34.32h0.98v1.02h-0.98zM28.93 35.34h0.98v1.02h-0.98zM33.86 35.34h0.98v1.02h-0.98zM27.95 36.36h0.98v1.02h-0.98zM27.95 37.38h2.95v1.02h-2.95zM20.07 38.4h0.98v1.02h-0.98zM30.9 38.4h1.97v1.02h-1.97zM40.75 38.4h0.98v1.02h-0.98zM27.95 40.44h0.98v1.02h-0.98zM33.86 40.44h0.98v1.02h-0.98zM20.07 41.46h0.98v1.02h-0.98zM31.89 41.46h0.98v1.02h-0.98zM34.84 41.46h0.98v1.02h-0.98zM21.05 42.48h0.98v1.02h-0.98zM35.83 42.48h0.98v1.02h-0.98zM38.78 42.48h0.98v1.02h-0.98zM20.07 43.5h0.98v1.02h-0.98zM22.04 43.5h0.98v1.02h-0.98zM41.74 43.5h0.98v1.02h-0.98zM45.68 44.52h0.98v1.02h-0.98zM29.92 45.54h0.98v1.02h-0.98zM39.77 45.54h0.98v1.02h-0.98zM45.68 45.54h0.98v1.02h-0.98zM36.81 46.56h0.98v1.02h-0.98zM46.66 46.56h0.98v1.02h-0.98z"/>
<path fill="#3ad4a1" d="M39.77 29.22h0.98v1.02h-0.98zM30.9 30.24h0.98v1.02h-0.98zM36.81 30.24h2.95v1.02h-2.95zM35.83 32.28h0.98v1.02h-0.98zM29.92 33.3h0.98v1.02h-0.98zM35.83 33.3h0.98v1.02h-0.98zM37.8 33.3h0.98v1.02h-0.98zM42.72 33.3h0.98v1.02h-0.98zM21.05 34.32h0.98v1.02h-0.98zM28.93 34.32h0.98v1.02h-0.98zM29.92 35.34h0.98v1.02h-0.98zM31.89 35.34h0.98v1.02h-0.98zM28.93 36.36h2.95v1.02h-2.95zM37.8 36.36h0.98v1.02h-0.98zM30.9 37.38h0.98v1.02h-0.98zM37.8 37.38h0.98v1.02h-0.98zM27.95 38.4h0.98v1.02h-0.98zM29.92 38.4h0.98v1.02h-0.98zM31.89 39.42h1.97v1.02h-1.97zM29.92 40.44h1.97v1.02h-1.97zM32.87 40.44h0.98v1.02h-0.98zM36.81 40.44h0.98v1.02h-0.98zM40.75 40.44h0.98v1.02h-0.98zM42.72 40.44h0.98v1.02h-0.98zM44.69 40.44h0.98v1.02h-0.98zM29.92 41.46h0.98v1.02h-0.98zM37.8 41.46h0.98v1.02h-0.98zM31.89 42.48h0.98v1.02h-0.98zM40.75 42.48h0.98v1.02h-0.98zM38.78 43.5h0.98v1.02h-0.98zM31.89 45.54h0.98v1.02h-0.98zM22.04 46.56h0.98v1.02h-0.98zM37.8 46.56h1.97v1.02h-1.97z"/>
<path fill="#160a32" d="M47.65 33.3h0.98v1.02h-0.98zM47.65 34.32h0.98v1.02h-0.98zM47.65 36.36h0.98v1.02h-0.98zM47.65 37.38h0.98v1.02h-0.98zM47.65 38.4h0.98v1.02h-0.98zM47.65 39.42h0.98v1.02h-0.98zM46.66 43.5h1.97v1.02h-1.97z"/></g></g>
<rect x="18.1" y="48.7" width="32.5" height="1.2" fill="#c4bed4"/>
<rect x="57.1" y="48.7" width="32.3" height="1.2" fill="#c4bed4"/>
<g filter="url(#bl2)" shape-rendering="crispEdges"><rect x="18.1" y="49.9" width="32.5" height="77.5" fill="#1c1c1c"/>
<path fill="#393939" d="M18.1 49.9h1.02v0.99h-1.02zM20.13 49.9h1.02v0.99h-1.02zM32.32 49.9h1.02v0.99h-1.02zM34.35 49.9h1.02v0.99h-1.02zM33.33 50.89h1.02v0.99h-1.02zM24.19 51.89h1.02v0.99h-1.02zM29.27 51.89h1.02v0.99h-1.02zM31.3 51.89h1.02v0.99h-1.02zM43.49 51.89h1.02v0.99h-1.02zM45.52 51.89h1.02v0.99h-1.02zM19.12 52.88h2.03v0.99h-2.03zM29.27 52.88h1.02v0.99h-1.02zM35.37 52.88h1.02v0.99h-1.02zM37.4 52.88h1.02v0.99h-1.02zM45.52 52.88h1.02v0.99h-1.02zM24.19 53.87h1.02v0.99h-1.02zM29.27 53.87h2.03v0.99h-2.03zM44.51 53.87h1.02v0.99h-1.02zM36.38 54.87h2.03v0.99h-2.03zM40.44 54.87h1.02v0.99h-1.02zM23.18 55.86h1.02v0.99h-1.02zM25.21 55.86h1.02v0.99h-1.02zM42.48 55.86h1.02v0.99h-1.02zM44.51 55.86h1.02v0.99h-1.02zM23.18 56.86h1.02v0.99h-1.02zM41.46 56.86h1.02v0.99h-1.02zM45.52 56.86h1.02v0.99h-1.02zM40.44 57.85h1.02v0.99h-1.02zM44.51 57.85h1.02v0.99h-1.02zM46.54 57.85h1.02v0.99h-1.02zM26.23 58.84h1.02v0.99h-1.02zM44.51 58.84h2.03v0.99h-2.03zM21.15 59.84h1.02v0.99h-1.02zM27.24 59.84h1.02v0.99h-1.02zM35.37 59.84h2.03v0.99h-2.03zM42.48 59.84h2.03v0.99h-2.03zM46.54 59.84h1.02v0.99h-1.02zM26.23 60.83h1.02v0.99h-1.02zM35.37 60.83h1.02v0.99h-1.02zM40.44 60.83h1.02v0.99h-1.02zM42.48 60.83h1.02v0.99h-1.02zM44.51 60.83h2.03v0.99h-2.03zM47.55 60.83h1.02v0.99h-1.02zM19.12 61.82h1.02v0.99h-1.02zM26.23 61.82h1.02v0.99h-1.02zM36.38 61.82h1.02v0.99h-1.02zM39.43 61.82h1.02v0.99h-1.02zM45.52 61.82h1.02v0.99h-1.02zM47.55 61.82h1.02v0.99h-1.02zM18.1 62.82h1.02v0.99h-1.02zM20.13 62.82h1.02v0.99h-1.02zM22.16 62.82h1.02v0.99h-1.02zM28.26 62.82h1.02v0.99h-1.02zM21.15 63.81h1.02v0.99h-1.02zM24.19 63.81h1.02v0.99h-1.02zM26.23 63.81h2.03v0.99h-2.03zM29.27 63.81h1.02v0.99h-1.02zM40.44 63.81h1.02v0.99h-1.02zM29.27 64.8h1.02v0.99h-1.02zM41.46 64.8h1.02v0.99h-1.02zM43.49 64.8h1.02v0.99h-1.02zM47.55 64.8h1.02v0.99h-1.02zM33.33 65.8h1.02v0.99h-1.02zM40.44 65.8h1.02v0.99h-1.02zM43.49 65.8h1.02v0.99h-1.02zM19.12 66.79h1.02v0.99h-1.02zM25.21 66.79h1.02v0.99h-1.02zM34.35 66.79h1.02v0.99h-1.02zM20.13 67.78h1.02v0.99h-1.02zM24.19 67.78h1.02v0.99h-1.02zM33.33 67.78h1.02v0.99h-1.02zM35.37 67.78h1.02v0.99h-1.02zM37.4 67.78h1.02v0.99h-1.02zM40.44 67.78h1.02v0.99h-1.02zM43.49 67.78h1.02v0.99h-1.02zM18.1 68.78h1.02v0.99h-1.02zM22.16 68.78h1.02v0.99h-1.02zM24.19 68.78h1.02v0.99h-1.02zM38.41 68.78h2.03v0.99h-2.03zM20.13 69.77h2.03v0.99h-2.03zM33.33 69.77h1.02v0.99h-1.02zM48.57 69.77h1.02v0.99h-1.02zM22.16 70.77h1.02v0.99h-1.02zM41.46 70.77h3.05v0.99h-3.05zM47.55 70.77h1.02v0.99h-1.02zM49.58 70.77h1.02v0.99h-1.02zM37.4 71.76h1.02v0.99h-1.02zM40.44 71.76h1.02v0.99h-1.02zM42.48 71.76h1.02v0.99h-1.02zM48.57 71.76h1.02v0.99h-1.02zM29.27 72.75h2.03v0.99h-2.03zM42.48 72.75h1.02v0.99h-1.02zM44.51 72.75h1.02v0.99h-1.02zM20.13 73.75h1.02v0.99h-1.02zM28.26 73.75h1.02v0.99h-1.02zM36.38 73.75h1.02v0.99h-1.02zM47.55 73.75h1.02v0.99h-1.02zM24.19 74.74h2.03v0.99h-2.03zM27.24 74.74h1.02v0.99h-1.02zM29.27 74.74h1.02v0.99h-1.02zM35.37 74.74h2.03v0.99h-2.03zM39.43 74.74h1.02v0.99h-1.02zM20.13 75.73h3.05v0.99h-3.05zM28.26 75.73h1.02v0.99h-1.02zM33.33 75.73h1.02v0.99h-1.02zM37.4 75.73h1.02v0.99h-1.02zM39.43 75.73h1.02v0.99h-1.02zM41.46 75.73h1.02v0.99h-1.02zM44.51 75.73h1.02v0.99h-1.02zM49.58 75.73h1.02v0.99h-1.02zM19.12 76.73h1.02v0.99h-1.02zM21.15 76.73h1.02v0.99h-1.02zM28.26 76.73h2.03v0.99h-2.03zM34.35 76.73h1.02v0.99h-1.02zM39.43 76.73h1.02v0.99h-1.02zM43.49 76.73h1.02v0.99h-1.02zM18.1 77.72h1.02v0.99h-1.02zM36.38 77.72h1.02v0.99h-1.02zM39.43 77.72h1.02v0.99h-1.02zM46.54 77.72h1.02v0.99h-1.02zM49.58 77.72h1.02v0.99h-1.02zM21.15 78.71h1.02v0.99h-1.02zM33.33 78.71h1.02v0.99h-1.02zM37.4 78.71h1.02v0.99h-1.02zM43.49 78.71h3.05v0.99h-3.05zM47.55 78.71h2.03v0.99h-2.03zM20.13 79.71h1.02v0.99h-1.02zM28.26 79.71h1.02v0.99h-1.02zM26.23 80.7h1.02v0.99h-1.02zM29.27 80.7h1.02v0.99h-1.02zM45.52 80.7h2.03v0.99h-2.03zM48.57 80.7h1.02v0.99h-1.02zM28.26 81.69h1.02v0.99h-1.02zM47.55 81.69h1.02v0.99h-1.02zM21.15 82.69h1.02v0.99h-1.02zM26.23 82.69h1.02v0.99h-1.02zM29.27 82.69h1.02v0.99h-1.02zM44.51 82.69h1.02v0.99h-1.02zM47.55 82.69h2.03v0.99h-2.03zM20.13 83.68h1.02v0.99h-1.02zM28.26 83.68h1.02v0.99h-1.02zM30.29 83.68h1.02v0.99h-1.02zM43.49 83.68h1.02v0.99h-1.02zM45.52 83.68h2.03v0.99h-2.03zM29.27 84.68h1.02v0.99h-1.02zM43.49 84.68h2.03v0.99h-2.03zM46.54 84.68h1.02v0.99h-1.02zM22.16 85.67h1.02v0.99h-1.02zM29.27 86.66h1.02v0.99h-1.02zM44.51 86.66h1.02v0.99h-1.02zM18.1 87.66h1.02v0.99h-1.02zM42.48 87.66h1.02v0.99h-1.02zM20.13 88.65h1.02v0.99h-1.02zM38.41 88.65h1.02v0.99h-1.02zM40.44 88.65h1.02v0.99h-1.02zM42.48 88.65h2.03v0.99h-2.03zM19.12 89.64h1.02v0.99h-1.02zM21.15 89.64h1.02v0.99h-1.02zM30.29 89.64h1.02v0.99h-1.02zM42.48 89.64h1.02v0.99h-1.02zM47.55 89.64h1.02v0.99h-1.02zM29.27 90.64h1.02v0.99h-1.02zM31.3 90.64h1.02v0.99h-1.02zM41.46 90.64h1.02v0.99h-1.02zM25.21 91.63h1.02v0.99h-1.02zM27.24 91.63h1.02v0.99h-1.02zM30.29 91.63h1.02v0.99h-1.02zM35.37 91.63h2.03v0.99h-2.03zM40.44 91.63h1.02v0.99h-1.02zM28.26 92.62h1.02v0.99h-1.02zM38.41 92.62h1.02v0.99h-1.02zM19.12 93.62h1.02v0.99h-1.02zM25.21 93.62h1.02v0.99h-1.02zM27.24 93.62h1.02v0.99h-1.02zM18.1 94.61h1.02v0.99h-1.02zM26.23 94.61h1.02v0.99h-1.02zM43.49 94.61h1.02v0.99h-1.02zM30.29 95.61h1.02v0.99h-1.02zM42.48 95.61h1.02v0.99h-1.02zM44.51 95.61h1.02v0.99h-1.02zM49.58 95.61h1.02v0.99h-1.02zM25.21 96.6h1.02v0.99h-1.02zM41.46 96.6h1.02v0.99h-1.02zM44.51 96.6h1.02v0.99h-1.02zM48.57 96.6h1.02v0.99h-1.02zM24.19 97.59h1.02v0.99h-1.02zM42.48 97.59h1.02v0.99h-1.02zM26.23 98.59h1.02v0.99h-1.02zM28.26 98.59h1.02v0.99h-1.02zM39.43 98.59h1.02v0.99h-1.02zM41.46 98.59h1.02v0.99h-1.02zM43.49 98.59h1.02v0.99h-1.02zM18.1 99.58h1.02v0.99h-1.02zM34.35 99.58h2.03v0.99h-2.03zM38.41 99.58h1.02v0.99h-1.02zM40.44 99.58h1.02v0.99h-1.02zM19.12 100.57h1.02v0.99h-1.02zM32.32 100.57h2.03v0.99h-2.03zM35.37 100.57h1.02v0.99h-1.02zM45.52 100.57h1.02v0.99h-1.02zM32.32 101.57h1.02v0.99h-1.02zM35.37 101.57h1.02v0.99h-1.02zM44.51 101.57h1.02v0.99h-1.02zM20.13 102.56h1.02v0.99h-1.02zM21.15 103.55h1.02v0.99h-1.02zM27.24 103.55h1.02v0.99h-1.02zM30.29 103.55h1.02v0.99h-1.02zM35.37 103.55h1.02v0.99h-1.02zM23.18 104.55h1.02v0.99h-1.02zM28.26 104.55h1.02v0.99h-1.02zM36.38 104.55h1.02v0.99h-1.02zM36.38 106.53h1.02v0.99h-1.02zM38.41 106.53h1.02v0.99h-1.02zM46.54 106.53h1.02v0.99h-1.02zM48.57 106.53h1.02v0.99h-1.02zM19.12 107.53h1.02v0.99h-1.02zM29.27 107.53h1.02v0.99h-1.02zM37.4 107.53h1.02v0.99h-1.02zM42.48 107.53h1.02v0.99h-1.02zM20.13 108.52h2.03v0.99h-2.03zM24.19 108.52h1.02v0.99h-1.02zM26.23 108.52h1.02v0.99h-1.02zM30.29 108.52h1.02v0.99h-1.02zM36.38 108.52h1.02v0.99h-1.02zM38.41 108.52h1.02v0.99h-1.02zM43.49 108.52h1.02v0.99h-1.02zM45.52 108.52h1.02v0.99h-1.02zM47.55 108.52h2.03v0.99h-2.03zM22.16 109.52h1.02v0.99h-1.02zM25.21 109.52h1.02v0.99h-1.02zM41.46 109.52h2.03v0.99h-2.03zM47.55 109.52h1.02v0.99h-1.02zM26.23 110.51h1.02v0.99h-1.02zM28.26 110.51h1.02v0.99h-1.02zM33.33 110.51h1.02v0.99h-1.02zM41.46 110.51h1.02v0.99h-1.02zM22.16 111.5h1.02v0.99h-1.02zM24.19 111.5h1.02v0.99h-1.02zM27.24 111.5h1.02v0.99h-1.02zM29.27 111.5h1.02v0.99h-1.02zM34.35 111.5h1.02v0.99h-1.02zM42.48 111.5h1.02v0.99h-1.02zM23.18 112.5h1.02v0.99h-1.02zM27.24 112.5h1.02v0.99h-1.02zM35.37 112.5h1.02v0.99h-1.02zM28.26 113.49h1.02v0.99h-1.02zM34.35 113.49h1.02v0.99h-1.02zM39.43 113.49h1.02v0.99h-1.02zM45.52 113.49h1.02v0.99h-1.02zM27.24 114.48h1.02v0.99h-1.02zM35.37 114.48h2.03v0.99h-2.03zM38.41 114.48h1.02v0.99h-1.02zM41.46 114.48h1.02v0.99h-1.02zM43.49 114.48h1.02v0.99h-1.02zM46.54 114.48h1.02v0.99h-1.02zM27.24 115.48h1.02v0.99h-1.02zM36.38 115.48h2.03v0.99h-2.03zM45.52 115.48h2.03v0.99h-2.03zM23.18 116.47h1.02v0.99h-1.02zM38.41 116.47h2.03v0.99h-2.03zM42.48 116.47h1.02v0.99h-1.02zM49.58 116.47h1.02v0.99h-1.02zM28.26 117.46h1.02v0.99h-1.02zM34.35 117.46h2.03v0.99h-2.03zM37.4 117.46h1.02v0.99h-1.02zM41.46 117.46h1.02v0.99h-1.02zM30.29 118.46h2.03v0.99h-2.03zM35.37 118.46h1.02v0.99h-1.02zM39.43 118.46h2.03v0.99h-2.03zM42.48 118.46h1.02v0.99h-1.02zM29.27 119.45h1.02v0.99h-1.02zM35.37 119.45h2.03v0.99h-2.03zM43.49 119.45h1.02v0.99h-1.02zM46.54 119.45h1.02v0.99h-1.02zM35.37 120.44h2.03v0.99h-2.03zM39.43 120.44h1.02v0.99h-1.02zM24.19 121.44h1.02v0.99h-1.02zM28.26 121.44h1.02v0.99h-1.02zM30.29 121.44h1.02v0.99h-1.02zM42.48 121.44h1.02v0.99h-1.02zM48.57 121.44h1.02v0.99h-1.02zM23.18 122.43h1.02v0.99h-1.02zM36.38 122.43h1.02v0.99h-1.02zM38.41 122.43h1.02v0.99h-1.02zM41.46 122.43h1.02v0.99h-1.02zM21.15 123.43h1.02v0.99h-1.02zM23.18 123.43h2.03v0.99h-2.03zM38.41 123.43h1.02v0.99h-1.02zM43.49 123.43h1.02v0.99h-1.02zM25.21 124.42h1.02v0.99h-1.02zM42.48 124.42h1.02v0.99h-1.02zM21.15 125.41h1.02v0.99h-1.02zM25.21 125.41h1.02v0.99h-1.02zM31.3 125.41h1.02v0.99h-1.02zM40.44 125.41h1.02v0.99h-1.02zM24.19 126.41h1.02v0.99h-1.02zM41.46 126.41h1.02v0.99h-1.02z"/>
<path fill="#aaaaaa" d="M19.12 49.9h1.02v0.99h-1.02zM23.18 49.9h2.03v0.99h-2.03zM45.52 49.9h1.02v0.99h-1.02zM24.19 52.88h1.02v0.99h-1.02zM44.51 52.88h1.02v0.99h-1.02zM36.38 53.87h1.02v0.99h-1.02zM24.19 55.86h1.02v0.99h-1.02zM24.19 56.86h1.02v0.99h-1.02zM41.46 58.84h1.02v0.99h-1.02zM48.57 58.84h1.02v0.99h-1.02zM41.46 59.84h1.02v0.99h-1.02zM43.49 60.83h1.02v0.99h-1.02zM43.49 61.82h1.02v0.99h-1.02zM21.15 66.79h1.02v0.99h-1.02zM41.46 67.78h1.02v0.99h-1.02zM40.44 68.78h1.02v0.99h-1.02zM19.12 69.77h1.02v0.99h-1.02zM19.12 70.77h1.02v0.99h-1.02zM40.44 70.77h1.02v0.99h-1.02zM34.35 71.76h1.02v0.99h-1.02zM43.49 71.76h1.02v0.99h-1.02zM43.49 72.75h1.02v0.99h-1.02zM29.27 73.75h1.02v0.99h-1.02zM37.4 73.75h1.02v0.99h-1.02zM23.18 74.74h1.02v0.99h-1.02zM37.4 74.74h2.03v0.99h-2.03zM40.44 75.73h1.02v0.99h-1.02zM40.44 76.73h1.02v0.99h-1.02zM49.58 76.73h1.02v0.99h-1.02zM38.41 78.71h1.02v0.99h-1.02zM45.52 81.69h2.03v0.99h-2.03zM43.49 85.67h1.02v0.99h-1.02zM43.49 86.66h1.02v0.99h-1.02zM41.46 88.65h1.02v0.99h-1.02zM18.1 89.64h1.02v0.99h-1.02zM35.37 89.64h1.02v0.99h-1.02zM40.44 89.64h2.03v0.99h-2.03zM35.37 90.64h1.02v0.99h-1.02zM37.4 92.62h1.02v0.99h-1.02zM45.52 94.61h1.02v0.99h-1.02zM37.4 99.58h1.02v0.99h-1.02zM36.38 100.57h1.02v0.99h-1.02zM19.12 103.55h2.03v0.99h-2.03zM44.51 107.53h1.02v0.99h-1.02zM23.18 108.52h1.02v0.99h-1.02zM23.18 111.5h1.02v0.99h-1.02zM33.33 111.5h1.02v0.99h-1.02zM32.32 112.5h1.02v0.99h-1.02zM32.32 113.49h1.02v0.99h-1.02zM35.37 116.47h1.02v0.99h-1.02zM38.41 120.44h1.02v0.99h-1.02zM36.38 121.44h1.02v0.99h-1.02zM43.49 121.44h1.02v0.99h-1.02zM42.48 122.43h2.03v0.99h-2.03zM41.46 123.43h1.02v0.99h-1.02zM24.19 124.42h1.02v0.99h-1.02zM41.46 124.42h1.02v0.99h-1.02zM38.41 126.41h1.02v0.99h-1.02z"/>
<path fill="#8e8e8e" d="M25.21 49.9h1.02v0.99h-1.02zM33.33 49.9h1.02v0.99h-1.02zM19.12 50.89h1.02v0.99h-1.02zM30.29 51.89h1.02v0.99h-1.02zM38.41 51.89h1.02v0.99h-1.02zM18.1 52.88h1.02v0.99h-1.02zM23.18 52.88h1.02v0.99h-1.02zM25.21 52.88h2.03v0.99h-2.03zM30.29 52.88h1.02v0.99h-1.02zM36.38 52.88h1.02v0.99h-1.02zM43.49 52.88h1.02v0.99h-1.02zM37.4 53.87h1.02v0.99h-1.02zM32.32 54.87h1.02v0.99h-1.02zM32.32 55.86h1.02v0.99h-1.02zM25.21 56.86h1.02v0.99h-1.02zM27.24 57.85h1.02v0.99h-1.02zM42.48 57.85h2.03v0.99h-2.03zM48.57 57.85h1.02v0.99h-1.02zM40.44 58.84h1.02v0.99h-1.02zM43.49 58.84h1.02v0.99h-1.02zM25.21 59.84h2.03v0.99h-2.03zM48.57 59.84h1.02v0.99h-1.02zM21.15 60.83h2.03v0.99h-2.03zM48.57 60.83h1.02v0.99h-1.02zM18.1 61.82h1.02v0.99h-1.02zM27.24 61.82h1.02v0.99h-1.02zM19.12 62.82h1.02v0.99h-1.02zM24.19 62.82h4.06v0.99h-4.06zM32.32 62.82h1.02v0.99h-1.02zM39.43 62.82h1.02v0.99h-1.02zM28.26 63.81h1.02v0.99h-1.02zM39.43 63.81h1.02v0.99h-1.02zM28.26 64.8h1.02v0.99h-1.02zM21.15 65.8h1.02v0.99h-1.02zM41.46 65.8h1.02v0.99h-1.02zM24.19 66.79h1.02v0.99h-1.02zM43.49 66.79h1.02v0.99h-1.02zM49.58 66.79h1.02v0.99h-1.02zM42.48 68.78h1.02v0.99h-1.02zM34.35 69.77h1.02v0.99h-1.02zM39.43 69.77h1.02v0.99h-1.02zM42.48 69.77h1.02v0.99h-1.02zM20.13 70.77h1.02v0.99h-1.02zM39.43 70.77h1.02v0.99h-1.02zM33.33 71.76h1.02v0.99h-1.02zM36.38 71.76h1.02v0.99h-1.02zM44.51 71.76h1.02v0.99h-1.02zM33.33 72.75h1.02v0.99h-1.02zM37.4 72.75h1.02v0.99h-1.02zM30.29 73.75h1.02v0.99h-1.02zM20.13 74.74h3.05v0.99h-3.05zM20.13 76.73h1.02v0.99h-1.02zM44.51 76.73h1.02v0.99h-1.02zM33.33 77.72h1.02v0.99h-1.02zM44.51 77.72h1.02v0.99h-1.02zM34.35 78.71h1.02v0.99h-1.02zM36.38 78.71h1.02v0.99h-1.02zM39.43 78.71h1.02v0.99h-1.02zM42.48 78.71h1.02v0.99h-1.02zM34.35 79.71h1.02v0.99h-1.02zM42.48 79.71h2.03v0.99h-2.03zM20.13 80.7h1.02v0.99h-1.02zM22.16 82.69h2.03v0.99h-2.03zM27.24 82.69h2.03v0.99h-2.03zM43.49 82.69h1.02v0.99h-1.02zM46.54 82.69h1.02v0.99h-1.02zM29.27 83.68h1.02v0.99h-1.02zM44.51 83.68h1.02v0.99h-1.02zM22.16 86.66h1.02v0.99h-1.02zM28.26 86.66h1.02v0.99h-1.02zM43.49 87.66h1.02v0.99h-1.02zM18.1 88.65h1.02v0.99h-1.02zM31.3 89.64h1.02v0.99h-1.02zM46.54 89.64h1.02v0.99h-1.02zM36.38 90.64h1.02v0.99h-1.02zM40.44 90.64h1.02v0.99h-1.02zM26.23 91.63h1.02v0.99h-1.02zM33.33 92.62h2.03v0.99h-2.03zM41.46 92.62h1.02v0.99h-1.02zM26.23 93.62h1.02v0.99h-1.02zM35.37 93.62h1.02v0.99h-1.02zM37.4 93.62h2.03v0.99h-2.03zM45.52 93.62h1.02v0.99h-1.02zM25.21 97.59h1.02v0.99h-1.02zM43.49 97.59h2.03v0.99h-2.03zM22.16 98.59h1.02v0.99h-1.02zM37.4 98.59h1.02v0.99h-1.02zM46.54 99.58h1.02v0.99h-1.02zM18.1 100.57h1.02v0.99h-1.02zM25.21 101.57h1.02v0.99h-1.02zM27.24 101.57h1.02v0.99h-1.02zM19.12 102.56h1.02v0.99h-1.02zM25.21 102.56h3.05v0.99h-3.05zM22.16 103.55h2.03v0.99h-2.03zM46.54 104.55h1.02v0.99h-1.02zM37.4 105.54h1.02v0.99h-1.02zM20.13 107.53h2.03v0.99h-2.03zM23.18 107.53h1.02v0.99h-1.02zM45.52 107.53h2.03v0.99h-2.03zM48.57 107.53h1.02v0.99h-1.02zM22.16 108.52h1.02v0.99h-1.02zM35.37 108.52h1.02v0.99h-1.02zM41.46 108.52h2.03v0.99h-2.03zM37.4 109.52h1.02v0.99h-1.02zM23.18 110.51h1.02v0.99h-1.02zM27.24 110.51h1.02v0.99h-1.02zM37.4 110.51h1.02v0.99h-1.02zM42.48 110.51h2.03v0.99h-2.03zM48.57 110.51h1.02v0.99h-1.02zM28.26 111.5h1.02v0.99h-1.02zM45.52 111.5h1.02v0.99h-1.02zM28.26 112.5h1.02v0.99h-1.02zM34.35 112.5h1.02v0.99h-1.02zM45.52 112.5h1.02v0.99h-1.02zM32.32 114.48h1.02v0.99h-1.02zM39.43 114.48h1.02v0.99h-1.02zM20.13 115.48h1.02v0.99h-1.02zM34.35 115.48h1.02v0.99h-1.02zM41.46 115.48h2.03v0.99h-2.03zM49.58 115.48h1.02v0.99h-1.02zM24.19 116.47h1.02v0.99h-1.02zM36.38 116.47h1.02v0.99h-1.02zM23.18 117.46h1.02v0.99h-1.02zM39.43 117.46h2.03v0.99h-2.03zM43.49 118.46h1.02v0.99h-1.02zM23.18 119.45h1.02v0.99h-1.02zM31.3 119.45h1.02v0.99h-1.02zM37.4 119.45h2.03v0.99h-2.03zM30.29 120.44h1.02v0.99h-1.02zM38.41 121.44h1.02v0.99h-1.02zM37.4 122.43h1.02v0.99h-1.02zM39.43 123.43h1.02v0.99h-1.02zM42.48 123.43h1.02v0.99h-1.02zM23.18 124.42h1.02v0.99h-1.02zM39.43 124.42h1.02v0.99h-1.02zM45.52 124.42h1.02v0.99h-1.02zM22.16 125.41h1.02v0.99h-1.02zM24.19 125.41h1.02v0.99h-1.02zM41.46 125.41h1.02v0.99h-1.02zM31.3 126.41h1.02v0.99h-1.02zM40.44 126.41h1.02v0.99h-1.02z"/>
<path fill="#717171" d="M31.3 49.9h1.02v0.99h-1.02zM36.38 49.9h1.02v0.99h-1.02zM31.3 50.89h1.02v0.99h-1.02zM34.35 50.89h1.02v0.99h-1.02zM44.51 51.89h1.02v0.99h-1.02zM35.37 53.87h1.02v0.99h-1.02zM41.46 54.87h1.02v0.99h-1.02zM45.52 54.87h1.02v0.99h-1.02zM36.38 55.86h1.02v0.99h-1.02zM43.49 55.86h1.02v0.99h-1.02zM42.48 56.86h1.02v0.99h-1.02zM46.54 56.86h1.02v0.99h-1.02zM41.46 57.85h1.02v0.99h-1.02zM27.24 58.84h1.02v0.99h-1.02zM32.32 58.84h1.02v0.99h-1.02zM35.37 58.84h1.02v0.99h-1.02zM22.16 59.84h1.02v0.99h-1.02zM37.4 59.84h1.02v0.99h-1.02zM45.52 59.84h1.02v0.99h-1.02zM39.43 60.83h1.02v0.99h-1.02zM41.46 60.83h1.02v0.99h-1.02zM46.54 60.83h1.02v0.99h-1.02zM22.16 61.82h1.02v0.99h-1.02zM44.51 61.82h1.02v0.99h-1.02zM46.54 61.82h1.02v0.99h-1.02zM21.15 62.82h1.02v0.99h-1.02zM38.41 62.82h1.02v0.99h-1.02zM25.21 63.81h1.02v0.99h-1.02zM33.33 64.8h1.02v0.99h-1.02zM38.41 64.8h1.02v0.99h-1.02zM40.44 64.8h1.02v0.99h-1.02zM46.54 64.8h1.02v0.99h-1.02zM19.12 65.8h1.02v0.99h-1.02zM20.13 66.79h1.02v0.99h-1.02zM21.15 67.78h1.02v0.99h-1.02zM34.35 67.78h1.02v0.99h-1.02zM38.41 67.78h1.02v0.99h-1.02zM42.48 67.78h1.02v0.99h-1.02zM23.18 68.78h1.02v0.99h-1.02zM37.4 68.78h1.02v0.99h-1.02zM41.46 68.78h1.02v0.99h-1.02zM22.16 69.77h1.02v0.99h-1.02zM28.26 69.77h1.02v0.99h-1.02zM35.37 69.77h1.02v0.99h-1.02zM47.55 69.77h1.02v0.99h-1.02zM21.15 70.77h1.02v0.99h-1.02zM48.57 70.77h1.02v0.99h-1.02zM49.58 71.76h1.02v0.99h-1.02zM35.37 72.75h1.02v0.99h-1.02zM47.55 72.75h1.02v0.99h-1.02zM21.15 73.75h1.02v0.99h-1.02zM39.43 73.75h1.02v0.99h-1.02zM49.58 74.74h1.02v0.99h-1.02zM27.24 75.73h1.02v0.99h-1.02zM38.41 75.73h1.02v0.99h-1.02zM43.49 75.73h1.02v0.99h-1.02zM27.24 76.73h1.02v0.99h-1.02zM33.33 76.73h1.02v0.99h-1.02zM41.46 76.73h1.02v0.99h-1.02zM46.54 76.73h2.03v0.99h-2.03zM19.12 77.72h1.02v0.99h-1.02zM25.21 77.72h1.02v0.99h-1.02zM35.37 77.72h1.02v0.99h-1.02zM38.41 77.72h1.02v0.99h-1.02zM45.52 77.72h1.02v0.99h-1.02zM47.55 77.72h2.03v0.99h-2.03zM18.1 78.71h1.02v0.99h-1.02zM20.13 78.71h1.02v0.99h-1.02zM27.24 79.71h1.02v0.99h-1.02zM36.38 79.71h1.02v0.99h-1.02zM44.51 79.71h1.02v0.99h-1.02zM47.55 79.71h1.02v0.99h-1.02zM21.15 80.7h1.02v0.99h-1.02zM27.24 80.7h2.03v0.99h-2.03zM26.23 81.69h1.02v0.99h-1.02zM48.57 81.69h1.02v0.99h-1.02zM42.48 82.69h1.02v0.99h-1.02zM36.38 83.68h2.03v0.99h-2.03zM28.26 85.67h1.02v0.99h-1.02zM44.51 85.67h1.02v0.99h-1.02zM18.1 86.66h1.02v0.99h-1.02zM35.37 86.66h1.02v0.99h-1.02zM30.29 87.66h1.02v0.99h-1.02zM20.13 89.64h1.02v0.99h-1.02zM23.18 89.64h1.02v0.99h-1.02zM36.38 89.64h1.02v0.99h-1.02zM23.18 90.64h1.02v0.99h-1.02zM30.29 90.64h1.02v0.99h-1.02zM43.49 90.64h1.02v0.99h-1.02zM46.54 90.64h1.02v0.99h-1.02zM21.15 91.63h1.02v0.99h-1.02zM29.27 91.63h1.02v0.99h-1.02zM25.21 92.62h2.03v0.99h-2.03zM36.38 92.62h1.02v0.99h-1.02zM40.44 92.62h1.02v0.99h-1.02zM47.55 92.62h2.03v0.99h-2.03zM18.1 93.62h1.02v0.99h-1.02zM28.26 93.62h1.02v0.99h-1.02zM33.33 93.62h1.02v0.99h-1.02zM44.51 94.61h1.02v0.99h-1.02zM26.23 95.61h1.02v0.99h-1.02zM31.3 95.61h1.02v0.99h-1.02zM41.46 95.61h1.02v0.99h-1.02zM43.49 95.61h1.02v0.99h-1.02zM48.57 95.61h1.02v0.99h-1.02zM24.19 96.6h1.02v0.99h-1.02zM31.3 96.6h1.02v0.99h-1.02zM43.49 96.6h1.02v0.99h-1.02zM22.16 97.59h1.02v0.99h-1.02zM25.21 98.59h1.02v0.99h-1.02zM36.38 98.59h1.02v0.99h-1.02zM32.32 99.58h2.03v0.99h-2.03zM39.43 99.58h1.02v0.99h-1.02zM37.4 101.57h1.02v0.99h-1.02zM45.52 101.57h1.02v0.99h-1.02zM35.37 102.56h2.03v0.99h-2.03zM29.27 103.55h1.02v0.99h-1.02zM31.3 103.55h1.02v0.99h-1.02zM39.43 103.55h1.02v0.99h-1.02zM29.27 104.55h1.02v0.99h-1.02zM35.37 104.55h1.02v0.99h-1.02zM45.52 104.55h1.02v0.99h-1.02zM35.37 105.54h2.03v0.99h-2.03zM37.4 106.53h1.02v0.99h-1.02zM47.55 106.53h1.02v0.99h-1.02zM30.29 107.53h1.02v0.99h-1.02zM38.41 107.53h1.02v0.99h-1.02zM43.49 107.53h1.02v0.99h-1.02zM19.12 108.52h1.02v0.99h-1.02zM29.27 108.52h1.02v0.99h-1.02zM37.4 108.52h1.02v0.99h-1.02zM46.54 108.52h1.02v0.99h-1.02zM24.19 109.52h1.02v0.99h-1.02zM35.37 109.52h1.02v0.99h-1.02zM48.57 109.52h1.02v0.99h-1.02zM22.16 110.51h1.02v0.99h-1.02zM32.32 110.51h1.02v0.99h-1.02zM47.55 110.51h1.02v0.99h-1.02zM24.19 112.5h1.02v0.99h-1.02zM27.24 113.49h1.02v0.99h-1.02zM35.37 113.49h1.02v0.99h-1.02zM40.44 113.49h1.02v0.99h-1.02zM20.13 114.48h1.02v0.99h-1.02zM42.48 114.48h1.02v0.99h-1.02zM45.52 114.48h1.02v0.99h-1.02zM38.41 115.48h1.02v0.99h-1.02zM43.49 115.48h1.02v0.99h-1.02zM34.35 116.47h1.02v0.99h-1.02zM37.4 116.47h1.02v0.99h-1.02zM41.46 116.47h1.02v0.99h-1.02zM31.3 117.46h2.03v0.99h-2.03zM36.38 117.46h1.02v0.99h-1.02zM47.55 117.46h2.03v0.99h-2.03zM44.51 118.46h1.02v0.99h-1.02zM30.29 119.45h1.02v0.99h-1.02zM19.12 120.44h1.02v0.99h-1.02zM24.19 120.44h1.02v0.99h-1.02zM32.32 121.44h1.02v0.99h-1.02zM35.37 121.44h1.02v0.99h-1.02zM18.1 122.43h1.02v0.99h-1.02zM22.16 122.43h1.02v0.99h-1.02zM30.29 122.43h1.02v0.99h-1.02zM22.16 123.43h1.02v0.99h-1.02zM33.33 125.41h1.02v0.99h-1.02zM25.21 126.41h1.02v0.99h-1.02zM30.29 126.41h1.02v0.99h-1.02zM37.4 126.41h1.02v0.99h-1.02z"/>
<path fill="#555555" d="M29.27 50.89h2.03v0.99h-2.03zM38.41 50.89h1.02v0.99h-1.02zM46.54 51.89h1.02v0.99h-1.02zM33.33 52.88h1.02v0.99h-1.02zM40.44 52.88h1.02v0.99h-1.02zM24.19 54.87h1.02v0.99h-1.02zM28.26 54.87h1.02v0.99h-1.02zM39.43 54.87h1.02v0.99h-1.02zM22.16 55.86h1.02v0.99h-1.02zM43.49 56.86h2.03v0.99h-2.03zM45.52 57.85h1.02v0.99h-1.02zM42.48 58.84h1.02v0.99h-1.02zM19.12 59.84h1.02v0.99h-1.02zM40.44 59.84h1.02v0.99h-1.02zM49.58 59.84h1.02v0.99h-1.02zM29.27 60.83h1.02v0.99h-1.02zM21.15 61.82h1.02v0.99h-1.02zM48.57 61.82h1.02v0.99h-1.02zM31.3 62.82h1.02v0.99h-1.02zM22.16 63.81h1.02v0.99h-1.02zM38.41 63.81h1.02v0.99h-1.02zM30.29 64.8h1.02v0.99h-1.02zM39.43 64.8h1.02v0.99h-1.02zM48.57 64.8h1.02v0.99h-1.02zM20.13 65.8h1.02v0.99h-1.02zM42.48 65.8h1.02v0.99h-1.02zM26.23 66.79h1.02v0.99h-1.02zM33.33 66.79h1.02v0.99h-1.02zM35.37 66.79h1.02v0.99h-1.02zM25.21 67.78h1.02v0.99h-1.02zM19.12 68.78h1.02v0.99h-1.02zM33.33 68.78h2.03v0.99h-2.03zM23.18 69.77h2.03v0.99h-2.03zM41.46 69.77h1.02v0.99h-1.02zM18.1 70.77h1.02v0.99h-1.02zM34.35 70.77h2.03v0.99h-2.03zM26.23 71.76h1.02v0.99h-1.02zM29.27 71.76h1.02v0.99h-1.02zM41.46 71.76h1.02v0.99h-1.02zM34.35 72.75h1.02v0.99h-1.02zM36.38 72.75h1.02v0.99h-1.02zM22.16 73.75h2.03v0.99h-2.03zM26.23 73.75h1.02v0.99h-1.02zM38.41 73.75h1.02v0.99h-1.02zM28.26 74.74h1.02v0.99h-1.02zM45.52 74.74h1.02v0.99h-1.02zM47.55 74.74h1.02v0.99h-1.02zM34.35 75.73h1.02v0.99h-1.02zM22.16 76.73h1.02v0.99h-1.02zM38.41 76.73h1.02v0.99h-1.02zM45.52 76.73h1.02v0.99h-1.02zM48.57 76.73h1.02v0.99h-1.02zM20.13 77.72h1.02v0.99h-1.02zM34.35 77.72h1.02v0.99h-1.02zM19.12 78.71h1.02v0.99h-1.02zM22.16 78.71h1.02v0.99h-1.02zM45.52 79.71h1.02v0.99h-1.02zM48.57 79.71h1.02v0.99h-1.02zM24.19 80.7h1.02v0.99h-1.02zM30.29 80.7h1.02v0.99h-1.02zM27.24 81.69h1.02v0.99h-1.02zM32.32 82.69h1.02v0.99h-1.02zM45.52 82.69h1.02v0.99h-1.02zM19.12 83.68h1.02v0.99h-1.02zM21.15 83.68h2.03v0.99h-2.03zM48.57 83.68h1.02v0.99h-1.02zM22.16 84.68h1.02v0.99h-1.02zM30.29 84.68h1.02v0.99h-1.02zM25.21 86.66h1.02v0.99h-1.02zM39.43 86.66h1.02v0.99h-1.02zM22.16 87.66h1.02v0.99h-1.02zM33.33 87.66h1.02v0.99h-1.02zM21.15 88.65h1.02v0.99h-1.02zM47.55 88.65h1.02v0.99h-1.02zM49.58 88.65h1.02v0.99h-1.02zM43.49 89.64h1.02v0.99h-1.02zM26.23 90.64h1.02v0.99h-1.02zM19.12 92.62h1.02v0.99h-1.02zM27.24 92.62h1.02v0.99h-1.02zM35.37 92.62h1.02v0.99h-1.02zM34.35 93.62h1.02v0.99h-1.02zM36.38 93.62h1.02v0.99h-1.02zM43.49 93.62h2.03v0.99h-2.03zM19.12 94.61h1.02v0.99h-1.02zM29.27 95.61h1.02v0.99h-1.02zM35.37 96.6h1.02v0.99h-1.02zM49.58 96.6h1.02v0.99h-1.02zM41.46 97.59h1.02v0.99h-1.02zM40.44 98.59h1.02v0.99h-1.02zM42.48 98.59h1.02v0.99h-1.02zM19.12 99.58h1.02v0.99h-1.02zM26.23 99.58h1.02v0.99h-1.02zM34.35 100.57h1.02v0.99h-1.02zM37.4 100.57h1.02v0.99h-1.02zM39.43 100.57h1.02v0.99h-1.02zM44.51 100.57h1.02v0.99h-1.02zM26.23 101.57h1.02v0.99h-1.02zM36.38 101.57h1.02v0.99h-1.02zM42.48 102.56h2.03v0.99h-2.03zM27.24 104.55h1.02v0.99h-1.02zM24.19 105.54h1.02v0.99h-1.02zM27.24 105.54h1.02v0.99h-1.02zM33.33 106.53h1.02v0.99h-1.02zM22.16 107.53h1.02v0.99h-1.02zM47.55 107.53h1.02v0.99h-1.02zM40.44 108.52h1.02v0.99h-1.02zM23.18 109.52h1.02v0.99h-1.02zM30.29 109.52h1.02v0.99h-1.02zM36.38 109.52h1.02v0.99h-1.02zM24.19 110.51h2.03v0.99h-2.03zM36.38 110.51h1.02v0.99h-1.02zM40.44 110.51h1.02v0.99h-1.02zM30.29 111.5h1.02v0.99h-1.02zM32.32 111.5h1.02v0.99h-1.02zM41.46 111.5h1.02v0.99h-1.02zM29.27 112.5h1.02v0.99h-1.02zM33.33 113.49h1.02v0.99h-1.02zM40.44 114.48h1.02v0.99h-1.02zM29.27 115.48h1.02v0.99h-1.02zM35.37 115.48h1.02v0.99h-1.02zM39.43 115.48h2.03v0.99h-2.03zM40.44 116.47h1.02v0.99h-1.02zM24.19 117.46h1.02v0.99h-1.02zM20.13 118.46h1.02v0.99h-1.02zM23.18 118.46h2.03v0.99h-2.03zM29.27 118.46h1.02v0.99h-1.02zM34.35 118.46h1.02v0.99h-1.02zM41.46 118.46h1.02v0.99h-1.02zM19.12 119.45h1.02v0.99h-1.02zM24.19 119.45h1.02v0.99h-1.02zM39.43 119.45h1.02v0.99h-1.02zM42.48 119.45h1.02v0.99h-1.02zM23.18 120.44h1.02v0.99h-1.02zM25.21 120.44h1.02v0.99h-1.02zM31.3 120.44h1.02v0.99h-1.02zM37.4 120.44h1.02v0.99h-1.02zM23.18 121.44h1.02v0.99h-1.02zM37.4 121.44h1.02v0.99h-1.02zM25.21 123.43h1.02v0.99h-1.02zM40.44 123.43h1.02v0.99h-1.02zM21.15 124.42h2.03v0.99h-2.03zM31.3 124.42h1.02v0.99h-1.02zM40.44 124.42h1.02v0.99h-1.02zM20.13 125.41h1.02v0.99h-1.02zM23.18 125.41h1.02v0.99h-1.02zM39.43 126.41h1.02v0.99h-1.02z"/>
<path fill="#c6c6c6" d="M49.58 57.85h1.02v0.99h-1.02zM41.46 66.79h2.03v0.99h-2.03zM18.1 69.77h1.02v0.99h-1.02zM40.44 69.77h1.02v0.99h-1.02zM35.37 71.76h1.02v0.99h-1.02zM35.37 79.71h1.02v0.99h-1.02zM36.38 99.58h1.02v0.99h-1.02zM33.33 112.5h1.02v0.99h-1.02zM49.58 126.41h1.02v0.99h-1.02z"/>
<path fill="#e3e3e3" d="M49.58 58.84h1.02v0.99h-1.02zM35.37 78.71h1.02v0.99h-1.02z"/></g>
<path fill="#6aaee0" fill-opacity="0.75" d="M60.83 51h1.25v1.07h-1.25zM60.97 52.56h1.61v0.85h-1.61zM60.91 53.75h1.62v1.2h-1.62zM60.66 55.04h1.59v1.17h-1.59zM60.86 56.21h1.56v0.76h-1.56zM60.83 57.06h1.5v1.07h-1.5zM60.78 58.32h1.37v0.72h-1.37zM67.75 52.02h1.21v0.95h-1.21zM67.3 54.11h1.43v1h-1.43zM67.31 55.48h1.45v0.94h-1.45zM67.27 56.81h1.67v1.14h-1.67zM67.7 58.01h1.61v1.02h-1.61zM67.22 59.33h1.79v1.15h-1.79zM70.65 53.68h1.41v1.06h-1.41zM70.61 54.82h1.41v0.94h-1.41zM70.55 55.95h1.55v1.06h-1.55zM77.35 51h1.47v1.01h-1.47zM77.32 52.35h1.75v1.16h-1.75zM77.15 54.96h1.57v0.61h-1.57zM77.46 55.71h1.22v0.62h-1.22zM77.03 56.43h1.78v1.18h-1.78zM76.94 57.95h1.38v0.76h-1.38zM88.92 52.13h1.43v0.68h-1.43zM89.26 56.74h1.25v0.74h-1.25z"/>
<path fill="#6aaee0" fill-opacity="1" d="M60.75 59.14h1.44v1.15h-1.44zM67.59 51h1.78v0.98h-1.78zM70.37 52.51h1.69v1.03h-1.69zM77.38 53.63h1.49v0.94h-1.49zM77.43 58.72h1.45v0.61h-1.45zM89.37 51h1.41v0.94h-1.41zM89.27 53.16h1.7v1.2h-1.7zM89.38 55.59h1.54v1.01h-1.54zM89.04 57.81h1.48v0.77h-1.48z"/>
<path fill="#e58a5a" fill-opacity="0.75" d="M59.54 61h1.65v0.76h-1.65zM59.45 63.95h1.74v0.78h-1.74zM59.04 64.91h1.63v0.62h-1.63zM59.33 65.76h1.41v0.76h-1.41zM59.24 66.98h1.51v1.16h-1.51zM59.57 68.62h1.59v0.86h-1.59zM65.14 61h1.24v0.61h-1.24zM64.89 63.11h1.26v0.91h-1.26zM65.17 65.51h1.55v1.12h-1.55zM64.7 69.53h1.54v0.61h-1.54zM68.74 61h1.76v0.66h-1.76zM69.22 61.8h1.6v0.79h-1.6zM68.89 63.79h1.67v0.92h-1.67zM68.8 65.05h1.73v0.74h-1.73zM68.8 65.9h1.29v0.99h-1.29zM68.99 67.05h1.59v1.14h-1.59zM68.87 69.57h1.4v0.79h-1.4zM71.19 61.73h1.4v1.07h-1.4zM71.24 63.2h1.36v0.65h-1.36zM71.27 65.61h1.45v1h-1.45zM70.79 69.2h1.34v0.8h-1.34zM71.23 70.32h1.44v1.18h-1.44zM88.91 61h1.69v0.96h-1.69zM88.99 62.44h1.64v0.76h-1.64zM89.05 63.32h1.56v0.94h-1.56zM89.29 64.58h1.46v1.06h-1.46zM89.06 65.88h1.38v1.04h-1.38zM89.13 67.18h1.29v0.67h-1.29zM88.98 68.31h1.53v1.1h-1.53zM89.21 69.6h1.67v1.17h-1.67z"/>
<path fill="#e58a5a" fill-opacity="1" d="M59.09 62.81h1.7v1.12h-1.7zM59.16 69.75h1.42v1.09h-1.42zM64.74 61.89h1.76v0.78h-1.76zM64.72 64.18h1.67v1.12h-1.67zM69.26 62.78h1.62v0.89h-1.62zM70.76 61h1.36v0.67h-1.36zM71.14 68h1.58v0.92h-1.58z"/>
<path fill="#f2c35a" fill-opacity="1" d="M61.88 72.92h1.2v1.14h-1.2zM62.08 76.63h1.28v0.91h-1.28zM67 74.09h1.41v0.76h-1.41zM67.3 80.29h1.44v0.7h-1.44zM72.22 72.68h1.21v0.76h-1.21zM71.72 73.75h1.49v0.8h-1.49zM71.95 80.43h1.52v0.91h-1.52zM81.27 72h1.27v0.74h-1.27zM81.01 76.94h1.65v0.99h-1.65zM81.17 80.36h1.69v1.07h-1.69z"/>
<path fill="#f2c35a" fill-opacity="0.75" d="M61.73 74.53h1.53v0.86h-1.53zM61.99 75.67h1.5v0.78h-1.5zM62.09 77.63h1.67v0.99h-1.67zM61.88 79.12h1.76v1.13h-1.76zM61.99 80.32h1.36v0.85h-1.36zM66.78 72h1.41v0.83h-1.41zM66.8 72.84h1.29v0.94h-1.29zM67.04 75.31h1.41v0.72h-1.41zM67.18 77.64h1.33v0.99h-1.33zM67.23 79.03h1.49v1.13h-1.49zM72.03 72h1.65v0.66h-1.65zM71.77 74.7h1.45v0.94h-1.45zM72.01 75.76h1.63v0.96h-1.63zM71.82 78.02h1.63v1.11h-1.63zM71.7 79.31h1.75v0.99h-1.75zM71.84 81.83h1.34v0.97h-1.34zM81.06 73.23h1.61v1.15h-1.61zM81.11 74.43h1.27v1.03h-1.27zM81.16 75.85h1.25v0.83h-1.25zM80.99 78.05h1.64v1.04h-1.64zM80.99 79.4h1.45v0.76h-1.45zM81.03 81.69h1.72v0.91h-1.72z"/>
<path fill="#9068c0" fill-opacity="0.75" d="M60.92 84h1.76v1.07h-1.76zM61.03 85.31h1.35v0.88h-1.35zM71.56 85.34h1.56v0.8h-1.56zM71.76 88.39h1.38v1.17h-1.38zM71.7 89.7h1.59v0.61h-1.59zM79.23 87.89h1.66v0.82h-1.66zM79.78 89.01h1.41v0.82h-1.41zM79.69 90.28h1.33v0.85h-1.33zM79.62 92.89h1.48v0.79h-1.48z"/>
<path fill="#9068c0" fill-opacity="1" d="M61.02 87.86h1.66v1.18h-1.66zM61.49 89.19h1.27v0.83h-1.27zM61.21 90.25h1.48v1.03h-1.48zM61.16 92.63h1.59v0.65h-1.59zM71.57 86.27h1.76v1.01h-1.76zM71.87 87.46h1.75v0.88h-1.75zM71.58 90.8h1.75v1.03h-1.75zM71.42 92.19h1.3v0.63h-1.3zM79.23 84h1.34v1.09h-1.34zM79.43 86.84h1.2v1.01h-1.2zM79.34 91.51h1.32v1.02h-1.32z"/>
<path fill="#a0c860" fill-opacity="0.75" d="M59.51 95h1.59v0.78h-1.59zM59.48 95.8h1.78v0.88h-1.78zM59.39 98.14h1.77v0.88h-1.77zM59.39 104.29h1.57v0.66h-1.57zM64.15 95h1.29v0.96h-1.29zM63.73 98.78h1.55v0.98h-1.55zM63.85 99.92h1.7v0.97h-1.7zM71.12 95h1.77v0.92h-1.77zM71.05 96.1h1.5v1.11h-1.5zM71.05 97.52h1.56v0.94h-1.56zM71 104.9h1.43v0.65h-1.43zM77.15 95h1.62v1.04h-1.62zM76.77 97.44h1.74v0.7h-1.74zM76.72 100.66h1.29v1.04h-1.29zM76.88 102.01h1.58v0.97h-1.58zM77.01 103.29h1.28v1h-1.28zM89.22 96.49h1.32v0.95h-1.32zM88.94 99.78h1.55v0.8h-1.55zM88.73 101.59h1.69v1.03h-1.69zM89.28 104.35h1.22v0.7h-1.22z"/>
<path fill="#a0c860" fill-opacity="1" d="M59.51 99.25h1.76v0.79h-1.76zM59.69 100.5h1.47v0.64h-1.47zM59.64 101.37h1.46v1.06h-1.46zM59.8 102.79h1.25v1.06h-1.25zM63.87 96.24h1.62v0.9h-1.62zM64.21 97.54h1.26v1.04h-1.26zM64.02 102.47h1.69v0.87h-1.69zM70.79 98.55h1.71v0.86h-1.71zM71.29 100.49h1.37v1.02h-1.37zM70.98 101.98h1.65v1.17h-1.65zM71.03 103.38h1.56v1.06h-1.56zM76.86 96.33h1.76v0.75h-1.76zM76.91 104.62h1.65v1.1h-1.65zM89.06 95h1.79v1.01h-1.79zM88.96 98.89h1.38v0.78h-1.38zM88.91 102.73h1.69v1.16h-1.69z"/>
<path fill="#6cc0ea" fill-opacity="0.75" d="M61.89 107h1.3v1.14h-1.3zM61.75 109.75h1.26v1.04h-1.26zM61.91 115.29h1.51v0.98h-1.51zM69.2 108.94h1.4v1.14h-1.4zM69.16 110.14h1.4v1.12h-1.4zM68.9 111.29h1.51v0.8h-1.51zM68.76 115.38h1.52v0.71h-1.52zM73.81 107h1.34v1.08h-1.34zM74.26 109.39h1.5v0.68h-1.5zM74.26 111.59h1.73v1.16h-1.73zM74.12 115.53h1.38v1.01h-1.38zM82.23 107h1.38v1.16h-1.38zM82.12 111.88h1.54v0.86h-1.54zM81.98 112.82h1.74v1.17h-1.74zM86.81 112.34h1.3v1.13h-1.3zM86.94 113.63h1.7v0.63h-1.7z"/>
<path fill="#6cc0ea" fill-opacity="1" d="M62.22 108.53h1.31v0.74h-1.31zM61.74 112.69h1.43v1.06h-1.43zM62.12 113.87h1.71v1.11h-1.71zM69.29 107h1.65v0.95h-1.65zM69.06 112.52h1.76v0.72h-1.76zM68.72 113.25h1.27v0.7h-1.27zM68.94 114.19h1.51v1.11h-1.51zM74.3 113.09h1.3v0.65h-1.3zM73.95 114.2h1.56v1.1h-1.56zM82.25 108.65h1.67v0.99h-1.67zM82.19 109.81h1.79v0.71h-1.79zM81.94 110.76h1.28v0.82h-1.28zM81.73 114.24h1.77v0.92h-1.77zM81.76 115.25h1.42v0.94h-1.42zM87.25 107h1.71v1.16h-1.71zM86.9 108.65h1.43v0.94h-1.43zM87.2 109.93h1.44v0.87h-1.44z"/>
<path fill="#c03a5a" fill-opacity="0.75" d="M62.84 117h1.51v1.12h-1.51zM62.72 118.35h1.22v1.13h-1.22zM63.07 119.97h1.71v0.94h-1.71zM62.93 121.31h1.49v0.64h-1.49zM62.75 123.1h1.46v0.64h-1.46zM63 125.16h1.76v0.62h-1.76zM63.01 126.2h1.38v0.81h-1.38zM64.3 118.1h1.42v0.99h-1.42zM64.7 120.33h1.6v1.07h-1.6zM64.68 123.25h1.44v0.67h-1.44zM64.61 124.11h1.48v1.2h-1.48zM64.37 125.37h1.6v0.68h-1.6zM64.49 126.45h1.41v0.83h-1.41zM70.07 117h1.25v0.83h-1.25zM69.71 117.98h1.5v1.11h-1.5zM69.82 119.16h1.26v1.15h-1.26zM70.29 121.54h1.79v0.69h-1.79zM69.94 122.65h1.6v0.75h-1.6zM70.05 123.54h1.59v0.8h-1.59zM70.05 124.82h1.5v1.06h-1.5zM69.8 126.07h1.42v1h-1.42zM71.64 118.09h1.66v0.83h-1.66zM71.51 119.12h1.72v0.67h-1.72zM71.46 119.95h1.53v1.14h-1.53zM71.4 121.45h1.51v1.07h-1.51zM71.73 124.67h1.28v0.67h-1.28zM71.35 125.61h1.52v0.88h-1.52zM75.71 119.8h1.72v0.9h-1.72zM75.75 123.01h1.36v0.87h-1.36zM76.1 124.34h1.78v1.04h-1.78zM77.04 117h1.4v0.6h-1.4zM77.55 118.05h1.54v0.84h-1.54zM77.17 120.5h1.71v0.63h-1.71zM77.28 122.32h1.46v0.8h-1.46zM77.42 123.32h1.32v0.67h-1.32z"/>
<path fill="#c03a5a" fill-opacity="1" d="M63.11 124.23h1.21v0.85h-1.21zM64.31 117h1.75v0.95h-1.75zM64.55 119.31h1.67v0.68h-1.67zM69.97 120.33h1.58v0.9h-1.58zM71.45 117h1.37v0.64h-1.37zM71.53 122.55h1.52v0.63h-1.52zM71.66 123.52h1.3v0.98h-1.3zM71.58 126.77h1.65v0.65h-1.65zM76.12 117h1.53v1.07h-1.53zM76.16 118.38h1.32v0.96h-1.32zM75.89 120.75h1.33v0.85h-1.33zM75.84 122.04h1.53v0.89h-1.53zM75.85 126.87h1.32v0.84h-1.32zM77.27 121.29h1.47v0.9h-1.47zM77.53 124.32h1.74v1.13h-1.74zM77.16 125.86h1.2v0.78h-1.2zM77.05 126.83h1.68v1.14h-1.68z"/>
<path d="M51.2 57.4 l1.6 0.8 l-1.6 0.8z" fill="#3a8ad0"/>
<path d="M51.2 60.1 l1.6 0.8 l-1.6 0.8z" fill="#e0603a"/>
<path d="M51.2 67.4 l1.6 0.8 l-1.6 0.8z" fill="#f0b030"/>
<path d="M51.2 83.9 l1.6 0.8 l-1.6 0.8z" fill="#8050b0"/>
<path d="M51.2 98.2 l1.6 0.8 l-1.6 0.8z" fill="#90b840"/>
<path d="M51.2 113.2 l1.6 0.8 l-1.6 0.8z" fill="#40b0e0"/>
<path d="M51.2 121 l1.6 0.8 l-1.6 0.8z" fill="#c02040"/>
<text x="10.7" y="52.6" font-size="5" text-anchor="start" font-weight="normal" fill="#444">1</text>
<rect x="15.2" y="50.6" width="1.2" height="0.4" fill="#999"/>
<text x="6.8" y="128.3" font-size="5" text-anchor="start" font-weight="normal" fill="#444">67</text>
<rect x="15.2" y="126.8" width="1.2" height="0.4" fill="#999"/>
<text x="7.5" y="90" font-size="5" text-anchor="middle" font-weight="normal" fill="#000" transform="rotate(-90 7.5 90)" stroke="#000" stroke-width="0.1">Neuron number</text>
<defs><linearGradient id="gbar130" x1="0" x2="1"><stop offset="0" stop-color="#000"/><stop offset="1" stop-color="#fff"/></linearGradient></defs>
<rect x="28.8" y="130.2" width="18" height="3.3" fill="url(#gbar130)" stroke="#222" stroke-width="0.5"/>
<text x="21" y="133.8" font-size="5" text-anchor="start" font-weight="normal" fill="#000" stroke="#000" stroke-width="0.1">−1</text>
<text x="48.6" y="133.8" font-size="5" text-anchor="start" font-weight="normal" fill="#000" stroke="#000" stroke-width="0.1">4</text>
<text x="37.3" y="139.8" font-size="5" text-anchor="middle" font-weight="normal" fill="#000" stroke="#000" stroke-width="0.1">FR (z-score)</text>
<rect x="75.2" y="128.8" width="14" height="1.5" fill="#000"/>
<text x="2.6" y="152.5" font-size="8.7" text-anchor="start" font-weight="bold" fill="#000" stroke="#000" stroke-width="0.5">b</text>
<g transform="translate(0 0)">
<path d="M11.0 168.6 L18.6 153.2 C20.0 151.4 22.0 150.8 23.5 151.0 L24.5 156.0 L18.0 166.0 L14.0 168.6Z" fill="#c9cc3a"/>
<path d="M12.6 166.8 L19.4 153.6 M14.2 167.4 L20.8 154.4 M15.8 167.8 L22.0 155.4 M17.4 167.6 L23.2 156.8" stroke="#6f7420" stroke-width="0.45" fill="none"/>
<path d="M19.5 157.0 C19.8 153.2 22.8 150.8 26.5 150.8 C30.6 150.8 33.2 153.6 33.2 157.6 C33.2 162.6 30.6 166.4 27.2 166.4 C23.6 166.4 20.6 163.6 19.8 160.2 Z" fill="#ebe33a"/>
<path d="M20.2 158.5 C21.0 155.0 23.0 153.6 25.0 153.8 C23.0 156.0 22.4 159.0 23.4 162.5 C21.8 161.8 20.6 160.4 20.2 158.5Z" fill="#cfc633"/>
<path d="M10.8 168.8 L19.8 162.0 C22.5 163.6 25.5 165.6 29.2 168.8Z" fill="#2fb043"/>
<ellipse cx="26.0" cy="155.6" rx="1.0" ry="0.9" fill="#222"/>
<ellipse cx="26.8" cy="161.8" rx="0.8" ry="1.2" fill="#3a3418" transform="rotate(25 26.8 161.8)"/>
<ellipse cx="27.3" cy="165.0" rx="0.9" ry="0.6" fill="#3a3418"/>
<path d="M30.8 155.8 C32.4 155.6 33.4 156.8 33.4 158.4 C33.4 159.6 32.6 160.6 31.2 160.6 C30.4 159.2 30.3 157.2 30.8 155.8Z" fill="#43438a"/>
<path d="M31.0 160.4 C32.4 160.6 33.2 161.4 32.8 163.0 C32.2 163.2 31.4 162.4 31.0 160.4Z" fill="#8a7a50"/>
</g>
<text x="50" y="170.1" font-size="5" text-anchor="start" font-weight="normal" fill="#000" stroke="#000" stroke-width="0.1">BG3</text>
<g filter="url(#bl)" shape-rendering="crispEdges"><rect x="15.6" y="172.9" width="32.7" height="20.8" fill="#1f155d"/>
<path fill="#1b0f48" d="M15.6 172.9h1.98v0.99h-1.98zM46.32 172.9h1.98v0.99h-1.98zM15.6 191.72h1.98v0.99h-1.98zM24.52 191.72h0.99v0.99h-0.99zM46.32 191.72h1.98v0.99h-1.98zM15.6 192.71h1.98v0.99h-1.98zM24.52 192.71h0.99v0.99h-0.99zM46.32 192.71h1.98v0.99h-1.98z"/>
<path fill="#2c68cb" d="M17.58 172.9h0.99v0.99h-0.99zM28.48 172.9h0.99v0.99h-0.99zM18.57 173.89h1.98v0.99h-1.98zM44.34 173.89h0.99v0.99h-0.99zM28.48 174.88h1.98v0.99h-1.98zM34.43 174.88h1.98v0.99h-1.98zM21.55 175.87h0.99v0.99h-0.99zM26.5 175.87h0.99v0.99h-0.99zM28.48 175.87h0.99v0.99h-0.99zM34.43 175.87h0.99v0.99h-0.99zM44.34 175.87h0.99v0.99h-0.99zM22.54 176.86h0.99v0.99h-0.99zM29.47 176.86h1.98v0.99h-1.98zM36.41 176.86h0.99v0.99h-0.99zM29.47 177.85h0.99v0.99h-0.99zM31.45 177.85h0.99v0.99h-0.99zM37.4 177.85h0.99v0.99h-0.99zM44.34 177.85h0.99v0.99h-0.99zM21.55 178.84h0.99v0.99h-0.99zM26.5 178.84h0.99v0.99h-0.99zM29.47 178.84h0.99v0.99h-0.99zM36.41 178.84h1.98v0.99h-1.98zM21.55 179.83h0.99v0.99h-0.99zM32.45 179.83h0.99v0.99h-0.99zM36.41 179.83h0.99v0.99h-0.99zM44.34 179.83h0.99v0.99h-0.99zM23.53 180.82h0.99v0.99h-0.99zM31.45 180.82h0.99v0.99h-0.99zM18.57 181.81h0.99v0.99h-0.99zM23.53 181.81h0.99v0.99h-0.99zM25.51 181.81h0.99v0.99h-0.99zM27.49 181.81h0.99v0.99h-0.99zM31.45 181.81h2.97v0.99h-2.97zM37.4 181.81h2.97v0.99h-2.97zM44.34 181.81h0.99v0.99h-0.99zM18.57 182.8h0.99v0.99h-0.99zM23.53 182.8h0.99v0.99h-0.99zM28.48 182.8h0.99v0.99h-0.99zM33.44 182.8h1.98v0.99h-1.98zM38.39 182.8h1.98v0.99h-1.98zM18.57 183.8h1.98v0.99h-1.98zM27.49 183.8h2.97v0.99h-2.97zM34.43 183.8h0.99v0.99h-0.99zM44.34 183.8h0.99v0.99h-0.99zM27.49 184.79h2.97v0.99h-2.97zM34.43 184.79h1.98v0.99h-1.98zM29.47 185.78h0.99v0.99h-0.99zM36.41 185.78h0.99v0.99h-0.99zM44.34 185.78h0.99v0.99h-0.99zM17.58 186.77h0.99v0.99h-0.99zM20.55 186.77h0.99v0.99h-0.99zM26.5 186.77h0.99v0.99h-0.99zM29.47 186.77h0.99v0.99h-0.99zM35.42 186.77h0.99v0.99h-0.99zM37.4 187.76h0.99v0.99h-0.99zM44.34 187.76h0.99v0.99h-0.99zM30.46 188.75h0.99v0.99h-0.99zM36.41 188.75h0.99v0.99h-0.99zM30.46 189.74h0.99v0.99h-0.99zM39.38 189.74h0.99v0.99h-0.99zM44.34 189.74h0.99v0.99h-0.99zM23.53 190.73h0.99v0.99h-0.99zM32.45 190.73h2.97v0.99h-2.97zM38.39 190.73h0.99v0.99h-0.99zM29.47 191.72h0.99v0.99h-0.99zM41.36 191.72h0.99v0.99h-0.99zM20.55 192.71h0.99v0.99h-0.99zM22.54 192.71h0.99v0.99h-0.99zM25.51 192.71h0.99v0.99h-0.99zM36.41 192.71h0.99v0.99h-0.99zM38.39 192.71h0.99v0.99h-0.99z"/>
<path fill="#2941a5" d="M18.57 172.9h1.98v0.99h-1.98zM25.51 172.9h0.99v0.99h-0.99zM27.49 172.9h0.99v0.99h-0.99zM37.4 172.9h0.99v0.99h-0.99zM33.44 173.89h0.99v0.99h-0.99zM24.52 175.87h0.99v0.99h-0.99zM17.58 177.85h0.99v0.99h-0.99zM26.5 177.85h0.99v0.99h-0.99zM24.52 187.76h0.99v0.99h-0.99zM19.56 190.73h0.99v0.99h-0.99zM17.58 191.72h0.99v0.99h-0.99zM20.55 191.72h0.99v0.99h-0.99zM35.42 191.72h0.99v0.99h-0.99zM38.39 191.72h1.98v0.99h-1.98zM39.38 192.71h0.99v0.99h-0.99z"/>
<path fill="#262f8c" d="M20.55 172.9h0.99v0.99h-0.99zM23.53 172.9h0.99v0.99h-0.99zM31.45 172.9h3.96v0.99h-3.96zM38.39 172.9h1.98v0.99h-1.98zM24.52 178.84h0.99v0.99h-0.99zM18.57 191.72h0.99v0.99h-0.99zM23.53 191.72h0.99v0.99h-0.99zM27.49 191.72h1.98v0.99h-1.98zM32.45 191.72h2.97v0.99h-2.97zM44.34 191.72h0.99v0.99h-0.99zM18.57 192.71h1.98v0.99h-1.98zM23.53 192.71h0.99v0.99h-0.99zM27.49 192.71h2.97v0.99h-2.97zM32.45 192.71h0.99v0.99h-0.99z"/>
<path fill="#299ad8" d="M21.55 172.9h0.99v0.99h-0.99zM26.5 172.9h0.99v0.99h-0.99zM29.47 172.9h0.99v0.99h-0.99zM17.58 173.89h0.99v0.99h-0.99zM23.53 173.89h0.99v0.99h-0.99zM38.39 174.88h0.99v0.99h-0.99zM18.57 175.87h0.99v0.99h-0.99zM34.43 177.85h0.99v0.99h-0.99zM22.54 178.84h0.99v0.99h-0.99zM32.45 178.84h0.99v0.99h-0.99zM25.51 180.82h0.99v0.99h-0.99zM36.41 180.82h0.99v0.99h-0.99zM20.55 181.81h0.99v0.99h-0.99zM34.43 181.81h0.99v0.99h-0.99zM17.58 182.8h0.99v0.99h-0.99zM18.57 184.79h0.99v0.99h-0.99zM21.55 184.79h0.99v0.99h-0.99zM30.46 184.79h0.99v0.99h-0.99zM39.38 184.79h0.99v0.99h-0.99zM21.55 185.78h1.98v0.99h-1.98zM21.55 186.77h0.99v0.99h-0.99zM25.51 186.77h0.99v0.99h-0.99zM17.58 187.76h0.99v0.99h-0.99zM20.55 187.76h0.99v0.99h-0.99zM22.54 187.76h0.99v0.99h-0.99zM32.45 187.76h0.99v0.99h-0.99zM35.42 187.76h0.99v0.99h-0.99zM21.55 188.75h0.99v0.99h-0.99zM29.47 188.75h0.99v0.99h-0.99zM19.56 189.74h0.99v0.99h-0.99zM23.53 189.74h0.99v0.99h-0.99zM27.49 189.74h0.99v0.99h-0.99zM33.44 189.74h0.99v0.99h-0.99zM20.55 190.73h0.99v0.99h-0.99zM21.55 191.72h0.99v0.99h-0.99zM26.5 191.72h0.99v0.99h-0.99zM36.41 191.72h0.99v0.99h-0.99zM31.45 192.71h0.99v0.99h-0.99zM37.4 192.71h0.99v0.99h-0.99z"/>
<path fill="#2b81d2" d="M22.54 172.9h0.99v0.99h-0.99zM30.46 172.9h0.99v0.99h-0.99zM35.42 172.9h1.98v0.99h-1.98zM27.49 173.89h1.98v0.99h-1.98zM27.49 174.88h0.99v0.99h-0.99zM27.49 175.87h0.99v0.99h-0.99zM35.42 175.87h1.98v0.99h-1.98zM39.38 175.87h0.99v0.99h-0.99zM17.58 176.86h0.99v0.99h-0.99zM21.55 176.86h0.99v0.99h-0.99zM28.48 176.86h0.99v0.99h-0.99zM34.43 176.86h1.98v0.99h-1.98zM20.55 177.85h2.97v0.99h-2.97zM28.48 177.85h0.99v0.99h-0.99zM35.42 177.85h1.98v0.99h-1.98zM17.58 178.84h0.99v0.99h-0.99zM35.42 178.84h0.99v0.99h-0.99zM29.47 179.83h0.99v0.99h-0.99zM39.38 179.83h0.99v0.99h-0.99zM19.56 180.82h0.99v0.99h-0.99zM27.49 180.82h0.99v0.99h-0.99zM32.45 180.82h1.98v0.99h-1.98zM39.38 180.82h0.99v0.99h-0.99zM32.45 183.8h0.99v0.99h-0.99zM35.42 183.8h0.99v0.99h-0.99zM39.38 183.8h0.99v0.99h-0.99zM36.41 184.79h0.99v0.99h-0.99zM34.43 186.77h0.99v0.99h-0.99zM36.41 186.77h1.98v0.99h-1.98zM26.5 187.76h0.99v0.99h-0.99zM36.41 187.76h0.99v0.99h-0.99zM38.39 187.76h0.99v0.99h-0.99zM38.39 188.75h0.99v0.99h-0.99zM18.57 189.74h0.99v0.99h-0.99zM32.45 189.74h0.99v0.99h-0.99zM38.39 189.74h0.99v0.99h-0.99zM25.51 190.73h0.99v0.99h-0.99zM27.49 190.73h0.99v0.99h-0.99zM39.38 190.73h0.99v0.99h-0.99zM22.54 191.72h0.99v0.99h-0.99zM30.46 191.72h0.99v0.99h-0.99zM37.4 191.72h0.99v0.99h-0.99zM21.55 192.71h0.99v0.99h-0.99zM26.5 192.71h0.99v0.99h-0.99zM30.46 192.71h0.99v0.99h-0.99z"/>
<path fill="#2cbcc6" d="M20.55 173.89h0.99v0.99h-0.99zM25.51 173.89h0.99v0.99h-0.99zM37.4 173.89h0.99v0.99h-0.99zM21.55 174.88h0.99v0.99h-0.99zM19.56 175.87h0.99v0.99h-0.99zM32.45 175.87h0.99v0.99h-0.99zM20.55 176.86h0.99v0.99h-0.99zM27.49 176.86h0.99v0.99h-0.99zM31.45 176.86h0.99v0.99h-0.99zM33.44 176.86h0.99v0.99h-0.99zM38.39 177.85h0.99v0.99h-0.99zM25.51 178.84h0.99v0.99h-0.99zM19.56 179.83h1.98v0.99h-1.98zM25.51 179.83h1.98v0.99h-1.98zM33.44 179.83h0.99v0.99h-0.99zM20.55 180.82h0.99v0.99h-0.99zM22.54 182.8h0.99v0.99h-0.99zM17.58 183.8h0.99v0.99h-0.99zM26.5 183.8h0.99v0.99h-0.99zM38.39 183.8h0.99v0.99h-0.99zM20.55 185.78h0.99v0.99h-0.99zM25.51 185.78h0.99v0.99h-0.99zM37.4 185.78h0.99v0.99h-0.99zM25.51 187.76h0.99v0.99h-0.99zM25.51 188.75h0.99v0.99h-0.99zM20.55 189.74h1.98v0.99h-1.98z"/>
<path fill="#69e26b" d="M21.55 173.89h0.99v0.99h-0.99zM30.46 173.89h0.99v0.99h-0.99zM31.45 175.87h0.99v0.99h-0.99zM19.56 176.86h0.99v0.99h-0.99zM38.39 176.86h0.99v0.99h-0.99zM18.57 177.85h1.98v0.99h-1.98zM27.49 177.85h0.99v0.99h-0.99zM33.44 177.85h0.99v0.99h-0.99zM39.38 177.85h0.99v0.99h-0.99zM18.57 178.84h1.98v0.99h-1.98zM27.49 178.84h0.99v0.99h-0.99zM33.44 178.84h0.99v0.99h-0.99zM28.48 179.83h0.99v0.99h-0.99zM34.43 179.83h0.99v0.99h-0.99zM17.58 180.82h0.99v0.99h-0.99zM26.5 180.82h0.99v0.99h-0.99zM35.42 180.82h0.99v0.99h-0.99zM21.55 181.81h0.99v0.99h-0.99zM26.5 181.81h0.99v0.99h-0.99zM35.42 181.81h1.98v0.99h-1.98zM21.55 182.8h0.99v0.99h-0.99zM30.46 182.8h0.99v0.99h-0.99zM36.41 182.8h0.99v0.99h-0.99zM31.45 183.8h0.99v0.99h-0.99zM37.4 183.8h0.99v0.99h-0.99zM20.55 184.79h0.99v0.99h-0.99zM37.4 184.79h1.98v0.99h-1.98zM38.39 185.78h0.99v0.99h-0.99zM18.57 186.77h1.98v0.99h-1.98zM39.38 186.77h0.99v0.99h-0.99zM18.57 187.76h0.99v0.99h-0.99zM39.38 187.76h0.99v0.99h-0.99zM28.48 188.75h0.99v0.99h-0.99zM34.43 188.75h0.99v0.99h-0.99zM21.55 190.73h0.99v0.99h-0.99zM26.5 190.73h0.99v0.99h-0.99zM29.47 190.73h0.99v0.99h-0.99zM35.42 190.73h0.99v0.99h-0.99z"/>
<path fill="#30c9b5" d="M22.54 173.89h0.99v0.99h-0.99zM41.36 173.89h0.99v0.99h-0.99zM23.53 174.88h0.99v0.99h-0.99zM36.41 174.88h0.99v0.99h-0.99zM41.36 175.87h0.99v0.99h-0.99zM18.57 176.86h0.99v0.99h-0.99zM41.36 177.85h0.99v0.99h-0.99zM28.48 178.84h0.99v0.99h-0.99zM22.54 179.83h0.99v0.99h-0.99zM35.42 179.83h0.99v0.99h-0.99zM41.36 179.83h0.99v0.99h-0.99zM29.47 180.82h0.99v0.99h-0.99zM30.46 181.81h0.99v0.99h-0.99zM41.36 181.81h0.99v0.99h-0.99zM35.42 182.8h0.99v0.99h-0.99zM41.36 183.8h0.99v0.99h-0.99zM17.58 184.79h0.99v0.99h-0.99zM19.56 184.79h0.99v0.99h-0.99zM24.52 184.79h0.99v0.99h-0.99zM32.45 184.79h0.99v0.99h-0.99zM41.36 185.78h0.99v0.99h-0.99zM32.45 186.77h0.99v0.99h-0.99zM41.36 187.76h0.99v0.99h-0.99zM17.58 188.75h2.97v0.99h-2.97zM22.54 188.75h1.98v0.99h-1.98zM41.36 189.74h0.99v0.99h-0.99zM30.46 190.73h0.99v0.99h-0.99z"/>
<path fill="#241d74" d="M24.52 173.89h0.99v0.99h-0.99zM40.37 173.89h0.99v0.99h-0.99zM43.35 173.89h0.99v0.99h-0.99zM45.33 173.89h0.99v0.99h-0.99zM24.52 174.88h0.99v0.99h-0.99zM40.37 174.88h5.95v0.99h-5.95zM40.37 175.87h0.99v0.99h-0.99zM42.35 175.87h1.98v0.99h-1.98zM45.33 175.87h0.99v0.99h-0.99zM40.37 176.86h1.98v0.99h-1.98zM43.35 176.86h2.97v0.99h-2.97zM40.37 177.85h0.99v0.99h-0.99zM43.35 177.85h0.99v0.99h-0.99zM45.33 177.85h0.99v0.99h-0.99zM40.37 178.84h5.95v0.99h-5.95zM40.37 179.83h0.99v0.99h-0.99zM43.35 179.83h0.99v0.99h-0.99zM45.33 179.83h0.99v0.99h-0.99zM40.37 180.82h5.95v0.99h-5.95zM40.37 181.81h0.99v0.99h-0.99zM42.35 181.81h1.98v0.99h-1.98zM45.33 181.81h0.99v0.99h-0.99zM40.37 182.8h1.98v0.99h-1.98zM43.35 182.8h2.97v0.99h-2.97zM24.52 183.8h0.99v0.99h-0.99zM40.37 183.8h0.99v0.99h-0.99zM43.35 183.8h0.99v0.99h-0.99zM45.33 183.8h0.99v0.99h-0.99zM40.37 184.79h5.95v0.99h-5.95zM40.37 185.78h0.99v0.99h-0.99zM43.35 185.78h0.99v0.99h-0.99zM45.33 185.78h0.99v0.99h-0.99zM40.37 186.77h5.95v0.99h-5.95zM40.37 187.76h0.99v0.99h-0.99zM42.35 187.76h1.98v0.99h-1.98zM45.33 187.76h0.99v0.99h-0.99zM24.52 188.75h0.99v0.99h-0.99zM40.37 188.75h1.98v0.99h-1.98zM43.35 188.75h2.97v0.99h-2.97zM40.37 189.74h0.99v0.99h-0.99zM43.35 189.74h0.99v0.99h-0.99zM45.33 189.74h0.99v0.99h-0.99zM24.52 190.73h0.99v0.99h-0.99zM40.37 190.73h5.95v0.99h-5.95zM19.56 191.72h0.99v0.99h-0.99zM33.44 192.71h1.98v0.99h-1.98z"/>
<path fill="#52db86" d="M26.5 173.89h0.99v0.99h-0.99zM29.47 173.89h0.99v0.99h-0.99zM36.41 173.89h0.99v0.99h-0.99zM25.51 174.88h0.99v0.99h-0.99zM30.46 174.88h1.98v0.99h-1.98zM37.4 174.88h0.99v0.99h-0.99zM37.4 175.87h1.98v0.99h-1.98zM32.45 176.86h0.99v0.99h-0.99zM23.53 177.85h0.99v0.99h-0.99zM32.45 177.85h0.99v0.99h-0.99zM23.53 178.84h0.99v0.99h-0.99zM34.43 178.84h0.99v0.99h-0.99zM22.54 180.82h0.99v0.99h-0.99zM22.54 181.81h0.99v0.99h-0.99zM29.47 181.81h0.99v0.99h-0.99zM26.5 182.8h0.99v0.99h-0.99zM20.55 183.8h0.99v0.99h-0.99zM25.51 183.8h0.99v0.99h-0.99zM36.41 183.8h0.99v0.99h-0.99zM31.45 184.79h0.99v0.99h-0.99zM32.45 185.78h0.99v0.99h-0.99zM23.53 186.77h0.99v0.99h-0.99zM19.56 187.76h0.99v0.99h-0.99zM23.53 187.76h0.99v0.99h-0.99zM27.49 187.76h1.98v0.99h-1.98zM31.45 187.76h0.99v0.99h-0.99zM33.44 187.76h1.98v0.99h-1.98zM31.45 188.75h0.99v0.99h-0.99zM22.54 189.74h0.99v0.99h-0.99zM28.48 189.74h1.98v0.99h-1.98zM37.4 189.74h0.99v0.99h-0.99zM36.41 190.73h0.99v0.99h-0.99z"/>
<path fill="#29afd6" d="M31.45 173.89h0.99v0.99h-0.99zM35.42 173.89h0.99v0.99h-0.99zM42.35 173.89h0.99v0.99h-0.99zM17.58 174.88h0.99v0.99h-0.99zM26.5 174.88h0.99v0.99h-0.99zM17.58 175.87h0.99v0.99h-0.99zM22.54 175.87h0.99v0.99h-0.99zM30.46 175.87h0.99v0.99h-0.99zM25.51 176.86h0.99v0.99h-0.99zM37.4 176.86h0.99v0.99h-0.99zM42.35 176.86h0.99v0.99h-0.99zM25.51 177.85h0.99v0.99h-0.99zM42.35 177.85h0.99v0.99h-0.99zM20.55 178.84h0.99v0.99h-0.99zM23.53 179.83h0.99v0.99h-0.99zM42.35 179.83h0.99v0.99h-0.99zM18.57 180.82h0.99v0.99h-0.99zM28.48 181.81h0.99v0.99h-0.99zM20.55 182.8h0.99v0.99h-0.99zM25.51 182.8h0.99v0.99h-0.99zM31.45 182.8h0.99v0.99h-0.99zM42.35 182.8h0.99v0.99h-0.99zM23.53 183.8h0.99v0.99h-0.99zM42.35 183.8h0.99v0.99h-0.99zM17.58 185.78h0.99v0.99h-0.99zM31.45 185.78h0.99v0.99h-0.99zM33.44 185.78h0.99v0.99h-0.99zM42.35 185.78h0.99v0.99h-0.99zM20.55 188.75h0.99v0.99h-0.99zM26.5 188.75h0.99v0.99h-0.99zM39.38 188.75h0.99v0.99h-0.99zM42.35 188.75h0.99v0.99h-0.99zM25.51 189.74h0.99v0.99h-0.99zM42.35 189.74h0.99v0.99h-0.99zM28.48 190.73h0.99v0.99h-0.99z"/>
<path fill="#2c52bd" d="M32.45 173.89h0.99v0.99h-0.99zM34.43 173.89h0.99v0.99h-0.99zM38.39 173.89h1.98v0.99h-1.98zM18.57 174.88h1.98v0.99h-1.98zM32.45 174.88h1.98v0.99h-1.98zM39.38 174.88h0.99v0.99h-0.99zM29.47 175.87h0.99v0.99h-0.99zM33.44 175.87h0.99v0.99h-0.99zM24.52 176.86h0.99v0.99h-0.99zM26.5 176.86h0.99v0.99h-0.99zM24.52 177.85h0.99v0.99h-0.99zM30.46 177.85h0.99v0.99h-0.99zM30.46 178.84h1.98v0.99h-1.98zM38.39 178.84h0.99v0.99h-0.99zM30.46 179.83h1.98v0.99h-1.98zM37.4 179.83h1.98v0.99h-1.98zM30.46 180.82h0.99v0.99h-0.99zM37.4 180.82h1.98v0.99h-1.98zM19.56 181.81h0.99v0.99h-0.99zM19.56 182.8h0.99v0.99h-0.99zM27.49 182.8h0.99v0.99h-0.99zM32.45 182.8h0.99v0.99h-0.99zM33.44 183.8h0.99v0.99h-0.99zM33.44 184.79h0.99v0.99h-0.99zM28.48 185.78h0.99v0.99h-0.99zM30.46 185.78h0.99v0.99h-0.99zM34.43 185.78h1.98v0.99h-1.98zM24.52 186.77h0.99v0.99h-0.99zM30.46 186.77h1.98v0.99h-1.98zM37.4 188.75h0.99v0.99h-0.99zM31.45 189.74h0.99v0.99h-0.99zM18.57 190.73h0.99v0.99h-0.99zM31.45 190.73h0.99v0.99h-0.99zM25.51 191.72h0.99v0.99h-0.99zM31.45 191.72h0.99v0.99h-0.99zM42.35 191.72h0.99v0.99h-0.99zM17.58 192.71h0.99v0.99h-0.99z"/>
<path fill="#3ad4a1" d="M20.55 174.88h0.99v0.99h-0.99zM22.54 174.88h0.99v0.99h-0.99zM20.55 175.87h0.99v0.99h-0.99zM23.53 175.87h0.99v0.99h-0.99zM25.51 175.87h0.99v0.99h-0.99zM23.53 176.86h0.99v0.99h-0.99zM39.38 176.86h0.99v0.99h-0.99zM39.38 178.84h0.99v0.99h-0.99zM17.58 179.83h1.98v0.99h-1.98zM27.49 179.83h0.99v0.99h-0.99zM21.55 180.82h0.99v0.99h-0.99zM28.48 180.82h0.99v0.99h-0.99zM34.43 180.82h0.99v0.99h-0.99zM17.58 181.81h0.99v0.99h-0.99zM29.47 182.8h0.99v0.99h-0.99zM37.4 182.8h0.99v0.99h-0.99zM21.55 183.8h1.98v0.99h-1.98zM30.46 183.8h0.99v0.99h-0.99zM22.54 184.79h1.98v0.99h-1.98zM18.57 185.78h1.98v0.99h-1.98zM39.38 185.78h0.99v0.99h-0.99zM33.44 186.77h0.99v0.99h-0.99zM38.39 186.77h0.99v0.99h-0.99zM27.49 188.75h0.99v0.99h-0.99zM35.42 188.75h0.99v0.99h-0.99zM17.58 189.74h0.99v0.99h-0.99zM26.5 189.74h0.99v0.99h-0.99zM17.58 190.73h0.99v0.99h-0.99zM22.54 190.73h0.99v0.99h-0.99zM37.4 190.73h0.99v0.99h-0.99z"/>
<path fill="#e3d137" d="M25.51 184.79h0.99v0.99h-0.99zM29.47 187.76h1.98v0.99h-1.98zM32.45 188.75h0.99v0.99h-0.99zM35.42 189.74h1.98v0.99h-1.98z"/>
<path fill="#85e656" d="M26.5 184.79h0.99v0.99h-0.99zM24.52 185.78h0.99v0.99h-0.99zM26.5 185.78h1.98v0.99h-1.98zM27.49 186.77h1.98v0.99h-1.98zM34.43 189.74h0.99v0.99h-0.99z"/>
<path fill="#edae2e" d="M23.53 185.78h0.99v0.99h-0.99zM22.54 186.77h0.99v0.99h-0.99zM21.55 187.76h0.99v0.99h-0.99z"/>
<path fill="#cee640" d="M33.44 188.75h0.99v0.99h-0.99z"/></g>
<g transform="translate(41.5 0)"><g filter="url(#bl)" shape-rendering="crispEdges"><rect x="15.6" y="172.9" width="32.7" height="20.8" fill="#1f155d"/>
<path fill="#1b0f48" d="M15.6 172.9h1.98v0.99h-1.98zM46.32 172.9h1.98v0.99h-1.98zM15.6 191.72h1.98v0.99h-1.98zM24.52 191.72h0.99v0.99h-0.99zM46.32 191.72h1.98v0.99h-1.98zM15.6 192.71h1.98v0.99h-1.98zM24.52 192.71h0.99v0.99h-0.99zM46.32 192.71h1.98v0.99h-1.98z"/>
<path fill="#2c68cb" d="M17.58 172.9h0.99v0.99h-0.99zM28.48 172.9h0.99v0.99h-0.99zM18.57 173.89h1.98v0.99h-1.98zM44.34 173.89h0.99v0.99h-0.99zM28.48 174.88h1.98v0.99h-1.98zM34.43 174.88h1.98v0.99h-1.98zM21.55 175.87h0.99v0.99h-0.99zM26.5 175.87h0.99v0.99h-0.99zM28.48 175.87h0.99v0.99h-0.99zM34.43 175.87h0.99v0.99h-0.99zM44.34 175.87h0.99v0.99h-0.99zM22.54 176.86h0.99v0.99h-0.99zM29.47 176.86h1.98v0.99h-1.98zM36.41 176.86h0.99v0.99h-0.99zM29.47 177.85h0.99v0.99h-0.99zM31.45 177.85h0.99v0.99h-0.99zM37.4 177.85h0.99v0.99h-0.99zM44.34 177.85h0.99v0.99h-0.99zM21.55 178.84h0.99v0.99h-0.99zM26.5 178.84h0.99v0.99h-0.99zM29.47 178.84h0.99v0.99h-0.99zM36.41 178.84h1.98v0.99h-1.98zM21.55 179.83h0.99v0.99h-0.99zM32.45 179.83h0.99v0.99h-0.99zM36.41 179.83h0.99v0.99h-0.99zM44.34 179.83h0.99v0.99h-0.99zM23.53 180.82h0.99v0.99h-0.99zM31.45 180.82h0.99v0.99h-0.99zM18.57 181.81h0.99v0.99h-0.99zM23.53 181.81h0.99v0.99h-0.99zM25.51 181.81h0.99v0.99h-0.99zM27.49 181.81h0.99v0.99h-0.99zM31.45 181.81h2.97v0.99h-2.97zM37.4 181.81h2.97v0.99h-2.97zM44.34 181.81h0.99v0.99h-0.99zM18.57 182.8h0.99v0.99h-0.99zM23.53 182.8h0.99v0.99h-0.99zM28.48 182.8h0.99v0.99h-0.99zM33.44 182.8h1.98v0.99h-1.98zM38.39 182.8h1.98v0.99h-1.98zM18.57 183.8h1.98v0.99h-1.98zM27.49 183.8h2.97v0.99h-2.97zM34.43 183.8h0.99v0.99h-0.99zM44.34 183.8h0.99v0.99h-0.99zM27.49 184.79h2.97v0.99h-2.97zM34.43 184.79h1.98v0.99h-1.98zM29.47 185.78h0.99v0.99h-0.99zM36.41 185.78h0.99v0.99h-0.99zM44.34 185.78h0.99v0.99h-0.99zM17.58 186.77h0.99v0.99h-0.99zM20.55 186.77h0.99v0.99h-0.99zM26.5 186.77h0.99v0.99h-0.99zM29.47 186.77h0.99v0.99h-0.99zM35.42 186.77h0.99v0.99h-0.99zM37.4 187.76h0.99v0.99h-0.99zM44.34 187.76h0.99v0.99h-0.99zM30.46 188.75h0.99v0.99h-0.99zM36.41 188.75h0.99v0.99h-0.99zM30.46 189.74h0.99v0.99h-0.99zM39.38 189.74h0.99v0.99h-0.99zM44.34 189.74h0.99v0.99h-0.99zM23.53 190.73h0.99v0.99h-0.99zM32.45 190.73h2.97v0.99h-2.97zM38.39 190.73h0.99v0.99h-0.99zM29.47 191.72h0.99v0.99h-0.99zM41.36 191.72h0.99v0.99h-0.99zM20.55 192.71h0.99v0.99h-0.99zM22.54 192.71h0.99v0.99h-0.99zM25.51 192.71h0.99v0.99h-0.99zM36.41 192.71h0.99v0.99h-0.99zM38.39 192.71h0.99v0.99h-0.99z"/>
<path fill="#2941a5" d="M18.57 172.9h1.98v0.99h-1.98zM25.51 172.9h0.99v0.99h-0.99zM27.49 172.9h0.99v0.99h-0.99zM37.4 172.9h0.99v0.99h-0.99zM33.44 173.89h0.99v0.99h-0.99zM24.52 175.87h0.99v0.99h-0.99zM17.58 177.85h0.99v0.99h-0.99zM26.5 177.85h0.99v0.99h-0.99zM24.52 187.76h0.99v0.99h-0.99zM19.56 190.73h0.99v0.99h-0.99zM17.58 191.72h0.99v0.99h-0.99zM20.55 191.72h0.99v0.99h-0.99zM35.42 191.72h0.99v0.99h-0.99zM38.39 191.72h1.98v0.99h-1.98zM39.38 192.71h0.99v0.99h-0.99z"/>
<path fill="#262f8c" d="M20.55 172.9h0.99v0.99h-0.99zM23.53 172.9h0.99v0.99h-0.99zM31.45 172.9h3.96v0.99h-3.96zM38.39 172.9h1.98v0.99h-1.98zM24.52 178.84h0.99v0.99h-0.99zM18.57 191.72h0.99v0.99h-0.99zM23.53 191.72h0.99v0.99h-0.99zM27.49 191.72h1.98v0.99h-1.98zM32.45 191.72h2.97v0.99h-2.97zM44.34 191.72h0.99v0.99h-0.99zM18.57 192.71h1.98v0.99h-1.98zM23.53 192.71h0.99v0.99h-0.99zM27.49 192.71h2.97v0.99h-2.97zM32.45 192.71h0.99v0.99h-0.99z"/>
<path fill="#299ad8" d="M21.55 172.9h0.99v0.99h-0.99zM26.5 172.9h0.99v0.99h-0.99zM29.47 172.9h0.99v0.99h-0.99zM17.58 173.89h0.99v0.99h-0.99zM23.53 173.89h0.99v0.99h-0.99zM38.39 174.88h0.99v0.99h-0.99zM18.57 175.87h0.99v0.99h-0.99zM34.43 177.85h0.99v0.99h-0.99zM22.54 178.84h0.99v0.99h-0.99zM32.45 178.84h0.99v0.99h-0.99zM25.51 180.82h0.99v0.99h-0.99zM36.41 180.82h0.99v0.99h-0.99zM20.55 181.81h0.99v0.99h-0.99zM34.43 181.81h0.99v0.99h-0.99zM17.58 182.8h0.99v0.99h-0.99zM18.57 184.79h0.99v0.99h-0.99zM21.55 184.79h0.99v0.99h-0.99zM30.46 184.79h0.99v0.99h-0.99zM39.38 184.79h0.99v0.99h-0.99zM21.55 185.78h1.98v0.99h-1.98zM21.55 186.77h0.99v0.99h-0.99zM25.51 186.77h0.99v0.99h-0.99zM17.58 187.76h0.99v0.99h-0.99zM20.55 187.76h0.99v0.99h-0.99zM22.54 187.76h0.99v0.99h-0.99zM32.45 187.76h0.99v0.99h-0.99zM35.42 187.76h0.99v0.99h-0.99zM21.55 188.75h0.99v0.99h-0.99zM29.47 188.75h0.99v0.99h-0.99zM19.56 189.74h0.99v0.99h-0.99zM23.53 189.74h0.99v0.99h-0.99zM27.49 189.74h0.99v0.99h-0.99zM33.44 189.74h0.99v0.99h-0.99zM20.55 190.73h0.99v0.99h-0.99zM21.55 191.72h0.99v0.99h-0.99zM26.5 191.72h0.99v0.99h-0.99zM36.41 191.72h0.99v0.99h-0.99zM31.45 192.71h0.99v0.99h-0.99zM37.4 192.71h0.99v0.99h-0.99z"/>
<path fill="#2b81d2" d="M22.54 172.9h0.99v0.99h-0.99zM30.46 172.9h0.99v0.99h-0.99zM35.42 172.9h1.98v0.99h-1.98zM27.49 173.89h1.98v0.99h-1.98zM27.49 174.88h0.99v0.99h-0.99zM27.49 175.87h0.99v0.99h-0.99zM35.42 175.87h1.98v0.99h-1.98zM39.38 175.87h0.99v0.99h-0.99zM17.58 176.86h0.99v0.99h-0.99zM21.55 176.86h0.99v0.99h-0.99zM28.48 176.86h0.99v0.99h-0.99zM34.43 176.86h1.98v0.99h-1.98zM20.55 177.85h2.97v0.99h-2.97zM28.48 177.85h0.99v0.99h-0.99zM35.42 177.85h1.98v0.99h-1.98zM17.58 178.84h0.99v0.99h-0.99zM35.42 178.84h0.99v0.99h-0.99zM29.47 179.83h0.99v0.99h-0.99zM39.38 179.83h0.99v0.99h-0.99zM19.56 180.82h0.99v0.99h-0.99zM27.49 180.82h0.99v0.99h-0.99zM32.45 180.82h1.98v0.99h-1.98zM39.38 180.82h0.99v0.99h-0.99zM32.45 183.8h0.99v0.99h-0.99zM35.42 183.8h0.99v0.99h-0.99zM39.38 183.8h0.99v0.99h-0.99zM36.41 184.79h0.99v0.99h-0.99zM34.43 186.77h0.99v0.99h-0.99zM36.41 186.77h1.98v0.99h-1.98zM26.5 187.76h0.99v0.99h-0.99zM36.41 187.76h0.99v0.99h-0.99zM38.39 187.76h0.99v0.99h-0.99zM38.39 188.75h0.99v0.99h-0.99zM18.57 189.74h0.99v0.99h-0.99zM32.45 189.74h0.99v0.99h-0.99zM38.39 189.74h0.99v0.99h-0.99zM25.51 190.73h0.99v0.99h-0.99zM27.49 190.73h0.99v0.99h-0.99zM39.38 190.73h0.99v0.99h-0.99zM22.54 191.72h0.99v0.99h-0.99zM30.46 191.72h0.99v0.99h-0.99zM37.4 191.72h0.99v0.99h-0.99zM21.55 192.71h0.99v0.99h-0.99zM26.5 192.71h0.99v0.99h-0.99zM30.46 192.71h0.99v0.99h-0.99z"/>
<path fill="#2cbcc6" d="M20.55 173.89h0.99v0.99h-0.99zM25.51 173.89h0.99v0.99h-0.99zM37.4 173.89h0.99v0.99h-0.99zM21.55 174.88h0.99v0.99h-0.99zM19.56 175.87h0.99v0.99h-0.99zM32.45 175.87h0.99v0.99h-0.99zM20.55 176.86h0.99v0.99h-0.99zM27.49 176.86h0.99v0.99h-0.99zM31.45 176.86h0.99v0.99h-0.99zM33.44 176.86h0.99v0.99h-0.99zM38.39 177.85h0.99v0.99h-0.99zM25.51 178.84h0.99v0.99h-0.99zM19.56 179.83h1.98v0.99h-1.98zM25.51 179.83h1.98v0.99h-1.98zM33.44 179.83h0.99v0.99h-0.99zM20.55 180.82h0.99v0.99h-0.99zM22.54 182.8h0.99v0.99h-0.99zM17.58 183.8h0.99v0.99h-0.99zM26.5 183.8h0.99v0.99h-0.99zM38.39 183.8h0.99v0.99h-0.99zM20.55 185.78h0.99v0.99h-0.99zM25.51 185.78h0.99v0.99h-0.99zM37.4 185.78h0.99v0.99h-0.99zM25.51 187.76h0.99v0.99h-0.99zM25.51 188.75h0.99v0.99h-0.99zM20.55 189.74h1.98v0.99h-1.98z"/>
<path fill="#69e26b" d="M21.55 173.89h0.99v0.99h-0.99zM30.46 173.89h0.99v0.99h-0.99zM31.45 175.87h0.99v0.99h-0.99zM19.56 176.86h0.99v0.99h-0.99zM38.39 176.86h0.99v0.99h-0.99zM18.57 177.85h1.98v0.99h-1.98zM27.49 177.85h0.99v0.99h-0.99zM33.44 177.85h0.99v0.99h-0.99zM39.38 177.85h0.99v0.99h-0.99zM18.57 178.84h1.98v0.99h-1.98zM27.49 178.84h0.99v0.99h-0.99zM33.44 178.84h0.99v0.99h-0.99zM28.48 179.83h0.99v0.99h-0.99zM34.43 179.83h0.99v0.99h-0.99zM17.58 180.82h0.99v0.99h-0.99zM26.5 180.82h0.99v0.99h-0.99zM35.42 180.82h0.99v0.99h-0.99zM21.55 181.81h0.99v0.99h-0.99zM26.5 181.81h0.99v0.99h-0.99zM35.42 181.81h1.98v0.99h-1.98zM21.55 182.8h0.99v0.99h-0.99zM30.46 182.8h0.99v0.99h-0.99zM36.41 182.8h0.99v0.99h-0.99zM31.45 183.8h0.99v0.99h-0.99zM37.4 183.8h0.99v0.99h-0.99zM20.55 184.79h0.99v0.99h-0.99zM37.4 184.79h1.98v0.99h-1.98zM38.39 185.78h0.99v0.99h-0.99zM18.57 186.77h1.98v0.99h-1.98zM39.38 186.77h0.99v0.99h-0.99zM18.57 187.76h0.99v0.99h-0.99zM39.38 187.76h0.99v0.99h-0.99zM28.48 188.75h0.99v0.99h-0.99zM34.43 188.75h0.99v0.99h-0.99zM21.55 190.73h0.99v0.99h-0.99zM26.5 190.73h0.99v0.99h-0.99zM29.47 190.73h0.99v0.99h-0.99zM35.42 190.73h0.99v0.99h-0.99z"/>
<path fill="#30c9b5" d="M22.54 173.89h0.99v0.99h-0.99zM41.36 173.89h0.99v0.99h-0.99zM23.53 174.88h0.99v0.99h-0.99zM36.41 174.88h0.99v0.99h-0.99zM41.36 175.87h0.99v0.99h-0.99zM18.57 176.86h0.99v0.99h-0.99zM41.36 177.85h0.99v0.99h-0.99zM28.48 178.84h0.99v0.99h-0.99zM22.54 179.83h0.99v0.99h-0.99zM35.42 179.83h0.99v0.99h-0.99zM41.36 179.83h0.99v0.99h-0.99zM29.47 180.82h0.99v0.99h-0.99zM30.46 181.81h0.99v0.99h-0.99zM41.36 181.81h0.99v0.99h-0.99zM35.42 182.8h0.99v0.99h-0.99zM41.36 183.8h0.99v0.99h-0.99zM17.58 184.79h0.99v0.99h-0.99zM19.56 184.79h0.99v0.99h-0.99zM24.52 184.79h0.99v0.99h-0.99zM32.45 184.79h0.99v0.99h-0.99zM41.36 185.78h0.99v0.99h-0.99zM32.45 186.77h0.99v0.99h-0.99zM41.36 187.76h0.99v0.99h-0.99zM17.58 188.75h2.97v0.99h-2.97zM22.54 188.75h1.98v0.99h-1.98zM41.36 189.74h0.99v0.99h-0.99zM30.46 190.73h0.99v0.99h-0.99z"/>
<path fill="#241d74" d="M24.52 173.89h0.99v0.99h-0.99zM40.37 173.89h0.99v0.99h-0.99zM43.35 173.89h0.99v0.99h-0.99zM45.33 173.89h0.99v0.99h-0.99zM24.52 174.88h0.99v0.99h-0.99zM40.37 174.88h5.95v0.99h-5.95zM40.37 175.87h0.99v0.99h-0.99zM42.35 175.87h1.98v0.99h-1.98zM45.33 175.87h0.99v0.99h-0.99zM40.37 176.86h1.98v0.99h-1.98zM43.35 176.86h2.97v0.99h-2.97zM40.37 177.85h0.99v0.99h-0.99zM43.35 177.85h0.99v0.99h-0.99zM45.33 177.85h0.99v0.99h-0.99zM40.37 178.84h5.95v0.99h-5.95zM40.37 179.83h0.99v0.99h-0.99zM43.35 179.83h0.99v0.99h-0.99zM45.33 179.83h0.99v0.99h-0.99zM40.37 180.82h5.95v0.99h-5.95zM40.37 181.81h0.99v0.99h-0.99zM42.35 181.81h1.98v0.99h-1.98zM45.33 181.81h0.99v0.99h-0.99zM40.37 182.8h1.98v0.99h-1.98zM43.35 182.8h2.97v0.99h-2.97zM24.52 183.8h0.99v0.99h-0.99zM40.37 183.8h0.99v0.99h-0.99zM43.35 183.8h0.99v0.99h-0.99zM45.33 183.8h0.99v0.99h-0.99zM40.37 184.79h5.95v0.99h-5.95zM40.37 185.78h0.99v0.99h-0.99zM43.35 185.78h0.99v0.99h-0.99zM45.33 185.78h0.99v0.99h-0.99zM40.37 186.77h5.95v0.99h-5.95zM40.37 187.76h0.99v0.99h-0.99zM42.35 187.76h1.98v0.99h-1.98zM45.33 187.76h0.99v0.99h-0.99zM24.52 188.75h0.99v0.99h-0.99zM40.37 188.75h1.98v0.99h-1.98zM43.35 188.75h2.97v0.99h-2.97zM40.37 189.74h0.99v0.99h-0.99zM43.35 189.74h0.99v0.99h-0.99zM45.33 189.74h0.99v0.99h-0.99zM24.52 190.73h0.99v0.99h-0.99zM40.37 190.73h5.95v0.99h-5.95zM19.56 191.72h0.99v0.99h-0.99zM33.44 192.71h1.98v0.99h-1.98z"/>
<path fill="#52db86" d="M26.5 173.89h0.99v0.99h-0.99zM29.47 173.89h0.99v0.99h-0.99zM36.41 173.89h0.99v0.99h-0.99zM25.51 174.88h0.99v0.99h-0.99zM30.46 174.88h1.98v0.99h-1.98zM37.4 174.88h0.99v0.99h-0.99zM37.4 175.87h1.98v0.99h-1.98zM32.45 176.86h0.99v0.99h-0.99zM23.53 177.85h0.99v0.99h-0.99zM32.45 177.85h0.99v0.99h-0.99zM23.53 178.84h0.99v0.99h-0.99zM34.43 178.84h0.99v0.99h-0.99zM22.54 180.82h0.99v0.99h-0.99zM22.54 181.81h0.99v0.99h-0.99zM29.47 181.81h0.99v0.99h-0.99zM26.5 182.8h0.99v0.99h-0.99zM20.55 183.8h0.99v0.99h-0.99zM25.51 183.8h0.99v0.99h-0.99zM36.41 183.8h0.99v0.99h-0.99zM31.45 184.79h0.99v0.99h-0.99zM32.45 185.78h0.99v0.99h-0.99zM23.53 186.77h0.99v0.99h-0.99zM19.56 187.76h0.99v0.99h-0.99zM23.53 187.76h0.99v0.99h-0.99zM27.49 187.76h1.98v0.99h-1.98zM31.45 187.76h0.99v0.99h-0.99zM33.44 187.76h1.98v0.99h-1.98zM31.45 188.75h0.99v0.99h-0.99zM22.54 189.74h0.99v0.99h-0.99zM28.48 189.74h1.98v0.99h-1.98zM37.4 189.74h0.99v0.99h-0.99zM36.41 190.73h0.99v0.99h-0.99z"/>
<path fill="#29afd6" d="M31.45 173.89h0.99v0.99h-0.99zM35.42 173.89h0.99v0.99h-0.99zM42.35 173.89h0.99v0.99h-0.99zM17.58 174.88h0.99v0.99h-0.99zM26.5 174.88h0.99v0.99h-0.99zM17.58 175.87h0.99v0.99h-0.99zM22.54 175.87h0.99v0.99h-0.99zM30.46 175.87h0.99v0.99h-0.99zM25.51 176.86h0.99v0.99h-0.99zM37.4 176.86h0.99v0.99h-0.99zM42.35 176.86h0.99v0.99h-0.99zM25.51 177.85h0.99v0.99h-0.99zM42.35 177.85h0.99v0.99h-0.99zM20.55 178.84h0.99v0.99h-0.99zM23.53 179.83h0.99v0.99h-0.99zM42.35 179.83h0.99v0.99h-0.99zM18.57 180.82h0.99v0.99h-0.99zM28.48 181.81h0.99v0.99h-0.99zM20.55 182.8h0.99v0.99h-0.99zM25.51 182.8h0.99v0.99h-0.99zM31.45 182.8h0.99v0.99h-0.99zM42.35 182.8h0.99v0.99h-0.99zM23.53 183.8h0.99v0.99h-0.99zM42.35 183.8h0.99v0.99h-0.99zM17.58 185.78h0.99v0.99h-0.99zM31.45 185.78h0.99v0.99h-0.99zM33.44 185.78h0.99v0.99h-0.99zM42.35 185.78h0.99v0.99h-0.99zM20.55 188.75h0.99v0.99h-0.99zM26.5 188.75h0.99v0.99h-0.99zM39.38 188.75h0.99v0.99h-0.99zM42.35 188.75h0.99v0.99h-0.99zM25.51 189.74h0.99v0.99h-0.99zM42.35 189.74h0.99v0.99h-0.99zM28.48 190.73h0.99v0.99h-0.99z"/>
<path fill="#2c52bd" d="M32.45 173.89h0.99v0.99h-0.99zM34.43 173.89h0.99v0.99h-0.99zM38.39 173.89h1.98v0.99h-1.98zM18.57 174.88h1.98v0.99h-1.98zM32.45 174.88h1.98v0.99h-1.98zM39.38 174.88h0.99v0.99h-0.99zM29.47 175.87h0.99v0.99h-0.99zM33.44 175.87h0.99v0.99h-0.99zM24.52 176.86h0.99v0.99h-0.99zM26.5 176.86h0.99v0.99h-0.99zM24.52 177.85h0.99v0.99h-0.99zM30.46 177.85h0.99v0.99h-0.99zM30.46 178.84h1.98v0.99h-1.98zM38.39 178.84h0.99v0.99h-0.99zM30.46 179.83h1.98v0.99h-1.98zM37.4 179.83h1.98v0.99h-1.98zM30.46 180.82h0.99v0.99h-0.99zM37.4 180.82h1.98v0.99h-1.98zM19.56 181.81h0.99v0.99h-0.99zM19.56 182.8h0.99v0.99h-0.99zM27.49 182.8h0.99v0.99h-0.99zM32.45 182.8h0.99v0.99h-0.99zM33.44 183.8h0.99v0.99h-0.99zM33.44 184.79h0.99v0.99h-0.99zM28.48 185.78h0.99v0.99h-0.99zM30.46 185.78h0.99v0.99h-0.99zM34.43 185.78h1.98v0.99h-1.98zM24.52 186.77h0.99v0.99h-0.99zM30.46 186.77h1.98v0.99h-1.98zM37.4 188.75h0.99v0.99h-0.99zM31.45 189.74h0.99v0.99h-0.99zM18.57 190.73h0.99v0.99h-0.99zM31.45 190.73h0.99v0.99h-0.99zM25.51 191.72h0.99v0.99h-0.99zM31.45 191.72h0.99v0.99h-0.99zM42.35 191.72h0.99v0.99h-0.99zM17.58 192.71h0.99v0.99h-0.99z"/>
<path fill="#3ad4a1" d="M20.55 174.88h0.99v0.99h-0.99zM22.54 174.88h0.99v0.99h-0.99zM20.55 175.87h0.99v0.99h-0.99zM23.53 175.87h0.99v0.99h-0.99zM25.51 175.87h0.99v0.99h-0.99zM23.53 176.86h0.99v0.99h-0.99zM39.38 176.86h0.99v0.99h-0.99zM39.38 178.84h0.99v0.99h-0.99zM17.58 179.83h1.98v0.99h-1.98zM27.49 179.83h0.99v0.99h-0.99zM21.55 180.82h0.99v0.99h-0.99zM28.48 180.82h0.99v0.99h-0.99zM34.43 180.82h0.99v0.99h-0.99zM17.58 181.81h0.99v0.99h-0.99zM29.47 182.8h0.99v0.99h-0.99zM37.4 182.8h0.99v0.99h-0.99zM21.55 183.8h1.98v0.99h-1.98zM30.46 183.8h0.99v0.99h-0.99zM22.54 184.79h1.98v0.99h-1.98zM18.57 185.78h1.98v0.99h-1.98zM39.38 185.78h0.99v0.99h-0.99zM33.44 186.77h0.99v0.99h-0.99zM38.39 186.77h0.99v0.99h-0.99zM27.49 188.75h0.99v0.99h-0.99zM35.42 188.75h0.99v0.99h-0.99zM17.58 189.74h0.99v0.99h-0.99zM26.5 189.74h0.99v0.99h-0.99zM17.58 190.73h0.99v0.99h-0.99zM22.54 190.73h0.99v0.99h-0.99zM37.4 190.73h0.99v0.99h-0.99z"/>
<path fill="#e3d137" d="M25.51 184.79h0.99v0.99h-0.99zM29.47 187.76h1.98v0.99h-1.98zM32.45 188.75h0.99v0.99h-0.99zM35.42 189.74h1.98v0.99h-1.98z"/>
<path fill="#85e656" d="M26.5 184.79h0.99v0.99h-0.99zM24.52 185.78h0.99v0.99h-0.99zM26.5 185.78h1.98v0.99h-1.98zM27.49 186.77h1.98v0.99h-1.98zM34.43 189.74h0.99v0.99h-0.99z"/>
<path fill="#edae2e" d="M23.53 185.78h0.99v0.99h-0.99zM22.54 186.77h0.99v0.99h-0.99zM21.55 187.76h0.99v0.99h-0.99z"/>
<path fill="#cee640" d="M33.44 188.75h0.99v0.99h-0.99z"/></g></g>
<rect x="15.6" y="193.7" width="32.5" height="0.9" fill="#c4bed4"/>
<rect x="57.1" y="193.7" width="32.9" height="0.9" fill="#c4bed4"/>
<g filter="url(#bl2)" shape-rendering="crispEdges"><rect x="15.2" y="194.6" width="33.5" height="77.1" fill="#000000"/>
<path fill="#929292" d="M15.2 194.6h2.96v1h-2.96zM31.95 194.6h1.97v1h-1.97zM35.89 194.6h1.97v1h-1.97zM24.07 195.6h4.93v1h-4.93zM24.07 198.61h1.97v1h-1.97zM23.08 199.61h2.96v1h-2.96zM27.02 199.61h1.97v1h-1.97zM45.74 201.61h0.99v1h-0.99zM20.13 202.61h1.97v1h-1.97zM27.02 202.61h0.99v1h-0.99zM39.83 202.61h2.96v1h-2.96zM28.99 203.61h2.96v1h-2.96zM34.91 204.61h2.96v1h-2.96zM29.98 206.62h2.96v1h-2.96zM15.2 207.62h0.99v1h-0.99zM39.83 210.62h0.99v1h-0.99zM16.19 211.62h4.93v1h-4.93zM29.98 211.62h1.97v1h-1.97zM38.85 212.62h1.97v1h-1.97zM19.14 213.62h0.99v1h-0.99zM24.07 213.62h2.96v1h-2.96zM31.95 213.62h2.96v1h-2.96zM24.07 214.63h2.96v1h-2.96zM21.11 216.63h1.97v1h-1.97zM15.2 220.63h1.97v1h-1.97zM28.01 220.63h1.97v1h-1.97zM31.95 220.63h1.97v1h-1.97zM37.86 220.63h0.99v1h-0.99zM42.79 220.63h1.97v1h-1.97zM31.95 222.64h0.99v1h-0.99zM35.89 222.64h2.96v1h-2.96zM44.76 222.64h2.96v1h-2.96zM44.76 223.64h2.96v1h-2.96zM15.2 224.64h1.97v1h-1.97zM41.8 224.64h1.97v1h-1.97zM44.76 227.64h0.99v1h-0.99zM36.88 228.64h2.96v1h-2.96zM16.19 229.65h2.96v1h-2.96zM21.11 229.65h2.96v1h-2.96zM35.89 229.65h1.97v1h-1.97zM16.19 230.65h2.96v1h-2.96zM21.11 230.65h2.96v1h-2.96zM21.11 231.65h0.99v1h-0.99zM28.01 234.65h0.99v1h-0.99zM30.96 234.65h0.99v1h-0.99zM28.01 237.66h0.99v1h-0.99zM25.05 238.66h2.96v1h-2.96zM28.99 238.66h0.99v1h-0.99zM16.19 240.66h2.96v1h-2.96zM28.01 242.66h2.96v1h-2.96zM32.94 242.66h2.96v1h-2.96zM18.16 243.66h2.96v1h-2.96zM29.98 244.66h0.99v1h-0.99zM20.13 248.67h2.96v1h-2.96zM45.74 249.67h0.99v1h-0.99zM16.19 250.67h1.97v1h-1.97zM38.85 250.67h0.99v1h-0.99zM31.95 251.67h0.99v1h-0.99zM22.1 252.68h1.97v1h-1.97zM38.85 253.68h2.96v1h-2.96zM15.2 254.68h0.99v1h-0.99zM17.17 254.68h0.99v1h-0.99zM30.96 254.68h2.96v1h-2.96zM34.91 254.68h0.99v1h-0.99zM16.19 255.68h0.99v1h-0.99zM21.11 255.68h0.99v1h-0.99zM22.1 257.68h2.96v1h-2.96zM47.71 257.68h0.99v1h-0.99zM30.96 259.68h0.99v1h-0.99zM15.2 260.69h0.99v1h-0.99zM28.01 260.69h2.96v1h-2.96zM33.92 260.69h1.97v1h-1.97zM46.73 261.69h1.97v1h-1.97zM36.88 262.69h0.99v1h-0.99zM26.04 263.69h1.97v1h-1.97zM38.85 263.69h0.99v1h-0.99zM25.05 265.69h0.99v1h-0.99zM16.19 267.69h0.99v1h-0.99zM26.04 267.69h0.99v1h-0.99zM42.79 267.69h0.99v1h-0.99zM26.04 268.7h0.99v1h-0.99zM38.85 268.7h1.97v1h-1.97zM15.2 269.7h2.96v1h-2.96z"/>
<path fill="#b6b6b6" d="M24.07 194.6h2.96v1h-2.96zM16.19 197.6h2.96v1h-2.96zM37.86 199.61h0.99v1h-0.99zM29.98 200.61h1.97v1h-1.97zM20.13 201.61h1.97v1h-1.97zM24.07 201.61h0.99v1h-0.99zM15.2 204.61h2.96v1h-2.96zM30.96 208.62h0.99v1h-0.99zM19.14 210.62h1.97v1h-1.97zM29.98 210.62h2.96v1h-2.96zM46.73 213.62h1.97v1h-1.97zM21.11 215.63h1.97v1h-1.97zM24.07 215.63h0.99v1h-0.99zM15.2 217.63h0.99v1h-0.99zM47.71 220.63h0.99v1h-0.99zM21.11 226.64h0.99v1h-0.99zM34.91 227.64h1.97v1h-1.97zM45.74 228.64h0.99v1h-0.99zM27.02 231.65h2.96v1h-2.96zM28.01 233.65h0.99v1h-0.99zM30.96 233.65h0.99v1h-0.99zM15.2 236.65h0.99v1h-0.99zM28.01 236.65h0.99v1h-0.99zM41.8 238.66h2.96v1h-2.96zM42.79 240.66h2.96v1h-2.96zM19.14 241.66h0.99v1h-0.99zM18.16 242.66h2.96v1h-2.96zM30.96 245.67h1.97v1h-1.97zM34.91 245.67h1.97v1h-1.97zM38.85 245.67h1.97v1h-1.97zM27.02 247.67h1.97v1h-1.97zM16.19 249.67h1.97v1h-1.97zM38.85 249.67h0.99v1h-0.99zM29.98 250.67h2.96v1h-2.96zM20.13 252.68h0.99v1h-0.99zM45.74 252.68h0.99v1h-0.99zM47.71 252.68h0.99v1h-0.99zM22.1 256.68h2.96v1h-2.96zM30.96 256.68h1.97v1h-1.97zM47.71 256.68h0.99v1h-0.99zM28.99 269.7h1.97v1h-1.97zM36.88 269.7h1.97v1h-1.97z"/>
<path fill="#dbdbdb" d="M34.91 194.6h0.99v1h-0.99zM44.76 194.6h1.97v1h-1.97zM40.82 195.6h2.96v1h-2.96zM24.07 197.6h1.97v1h-1.97zM39.83 197.6h0.99v1h-0.99zM28.99 202.61h2.96v1h-2.96zM42.79 206.62h0.99v1h-0.99zM24.07 207.62h0.99v1h-0.99zM16.19 210.62h1.97v1h-1.97zM24.07 211.62h0.99v1h-0.99zM27.02 211.62h2.96v1h-2.96zM36.88 211.62h0.99v1h-0.99zM38.85 211.62h1.97v1h-1.97zM33.92 215.63h2.96v1h-2.96zM19.14 217.63h2.96v1h-2.96zM28.01 217.63h1.97v1h-1.97zM40.82 217.63h2.96v1h-2.96zM16.19 219.63h0.99v1h-0.99zM27.02 224.64h0.99v1h-0.99zM24.07 226.64h0.99v1h-0.99zM44.76 226.64h0.99v1h-0.99zM25.05 230.65h2.96v1h-2.96zM24.07 231.65h0.99v1h-0.99zM45.74 231.65h1.97v1h-1.97zM34.91 232.65h2.96v1h-2.96zM16.19 233.65h2.96v1h-2.96zM30.96 238.66h0.99v1h-0.99zM46.73 238.66h1.97v1h-1.97zM19.14 240.66h0.99v1h-0.99zM38.85 240.66h2.96v1h-2.96zM37.86 244.66h1.97v1h-1.97zM16.19 245.67h0.99v1h-0.99zM47.71 246.67h0.99v1h-0.99zM20.13 247.67h2.96v1h-2.96zM37.86 247.67h0.99v1h-0.99zM39.83 247.67h1.97v1h-1.97zM29.98 249.67h2.96v1h-2.96zM43.77 249.67h0.99v1h-0.99zM20.13 251.67h0.99v1h-0.99zM22.1 251.67h1.97v1h-1.97zM45.74 251.67h0.99v1h-0.99zM47.71 251.67h0.99v1h-0.99zM15.2 253.68h2.96v1h-2.96zM34.91 253.68h2.96v1h-2.96zM16.19 254.68h0.99v1h-0.99zM21.11 254.68h0.99v1h-0.99zM34.91 256.68h2.96v1h-2.96zM25.05 258.68h0.99v1h-0.99zM30.96 258.68h0.99v1h-0.99zM35.89 260.69h0.99v1h-0.99zM37.86 261.69h1.97v1h-1.97zM29.98 262.69h2.96v1h-2.96zM38.85 262.69h0.99v1h-0.99zM46.73 262.69h1.97v1h-1.97zM27.02 265.69h1.97v1h-1.97zM39.83 265.69h1.97v1h-1.97zM38.85 267.69h1.97v1h-1.97z"/>
<path fill="#6d6d6d" d="M15.2 195.6h2.96v1h-2.96zM31.95 195.6h1.97v1h-1.97zM35.89 195.6h1.97v1h-1.97zM47.71 195.6h0.99v1h-0.99zM43.77 197.6h1.97v1h-1.97zM16.19 198.61h2.96v1h-2.96zM19.14 199.61h1.97v1h-1.97zM46.73 199.61h0.99v1h-0.99zM37.86 200.61h0.99v1h-0.99zM34.91 201.61h2.96v1h-2.96zM38.85 201.61h0.99v1h-0.99zM40.82 201.61h2.96v1h-2.96zM16.19 202.61h1.97v1h-1.97zM37.86 202.61h0.99v1h-0.99zM27.02 203.61h0.99v1h-0.99zM38.85 204.61h0.99v1h-0.99zM47.71 204.61h0.99v1h-0.99zM21.11 206.62h1.97v1h-1.97zM33.92 206.62h2.96v1h-2.96zM29.98 207.62h2.96v1h-2.96zM42.79 207.62h0.99v1h-0.99zM26.04 208.62h2.96v1h-2.96zM26.04 210.62h2.96v1h-2.96zM43.77 210.62h1.97v1h-1.97zM31.95 211.62h1.97v1h-1.97zM34.91 211.62h1.97v1h-1.97zM24.07 212.62h0.99v1h-0.99zM45.74 213.62h0.99v1h-0.99zM19.14 214.63h0.99v1h-0.99zM31.95 214.63h2.96v1h-2.96zM46.73 214.63h1.97v1h-1.97zM24.07 216.63h0.99v1h-0.99zM33.92 216.63h2.96v1h-2.96zM19.14 218.63h2.96v1h-2.96zM40.82 218.63h2.96v1h-2.96zM40.82 220.63h0.99v1h-0.99zM15.2 221.64h1.97v1h-1.97zM42.79 221.64h1.97v1h-1.97zM47.71 221.64h0.99v1h-0.99zM31.95 223.64h0.99v1h-0.99zM21.11 224.64h1.97v1h-1.97zM27.02 225.64h0.99v1h-0.99zM16.19 226.64h0.99v1h-0.99zM18.16 226.64h1.97v1h-1.97zM21.11 227.64h0.99v1h-0.99zM37.86 229.65h1.97v1h-1.97zM41.8 231.65h1.97v1h-1.97zM45.74 232.65h1.97v1h-1.97zM16.19 234.65h2.96v1h-2.96zM25.05 236.65h1.97v1h-1.97zM37.86 236.65h0.99v1h-0.99zM28.99 239.66h0.99v1h-0.99zM30.96 239.66h0.99v1h-0.99zM38.85 239.66h1.97v1h-1.97zM16.19 241.66h2.96v1h-2.96zM42.79 241.66h2.96v1h-2.96zM32.94 243.66h2.96v1h-2.96zM19.14 244.66h1.97v1h-1.97zM22.1 244.66h2.96v1h-2.96zM32.94 244.66h2.96v1h-2.96zM46.73 244.66h0.99v1h-0.99zM29.98 245.67h0.99v1h-0.99zM37.86 245.67h0.99v1h-0.99zM37.86 248.67h0.99v1h-0.99zM26.04 249.67h1.97v1h-1.97zM34.91 249.67h1.97v1h-1.97zM43.77 250.67h0.99v1h-0.99zM45.74 250.67h0.99v1h-0.99zM28.01 251.67h0.99v1h-0.99zM33.92 251.67h0.99v1h-0.99zM35.89 251.67h1.97v1h-1.97zM31.95 252.68h0.99v1h-0.99zM47.71 254.68h0.99v1h-0.99zM30.96 255.68h2.96v1h-2.96zM34.91 257.68h2.96v1h-2.96zM33.92 258.68h2.96v1h-2.96zM46.73 258.68h1.97v1h-1.97zM15.2 261.69h0.99v1h-0.99zM33.92 261.69h2.96v1h-2.96zM41.8 262.69h3.94v1h-3.94zM46.73 263.69h1.97v1h-1.97zM15.2 265.69h1.97v1h-1.97zM32.94 265.69h2.96v1h-2.96zM42.79 265.69h0.99v1h-0.99zM44.76 265.69h2.96v1h-2.96zM36.88 267.69h1.97v1h-1.97zM16.19 268.7h0.99v1h-0.99zM22.1 269.7h1.97v1h-1.97zM32.94 269.7h2.96v1h-2.96zM28.99 270.7h1.97v1h-1.97z"/>
<path fill="#242424" d="M47.71 196.6h0.99v1h-0.99zM43.77 198.61h1.97v1h-1.97zM46.73 200.61h0.99v1h-0.99zM34.91 202.61h2.96v1h-2.96zM35.89 223.64h2.96v1h-2.96zM33.92 252.68h0.99v1h-0.99zM41.8 263.69h0.99v1h-0.99zM15.2 266.69h1.97v1h-1.97z"/>
<path fill="#ffffff" d="M29.98 199.61h1.97v1h-1.97zM16.19 201.61h1.97v1h-1.97zM41.8 204.61h2.96v1h-2.96zM15.2 206.62h0.99v1h-0.99zM24.07 206.62h0.99v1h-0.99zM47.71 208.62h0.99v1h-0.99zM34.91 210.62h2.96v1h-2.96zM34.91 226.64h1.97v1h-1.97zM25.05 229.65h2.96v1h-2.96zM34.91 231.65h2.96v1h-2.96zM43.77 233.65h0.99v1h-0.99zM15.2 235.65h0.99v1h-0.99zM19.14 236.65h1.97v1h-1.97zM34.91 238.66h2.96v1h-2.96zM38.85 238.66h1.97v1h-1.97zM47.71 245.67h0.99v1h-0.99zM37.86 260.69h1.97v1h-1.97zM46.73 260.69h1.97v1h-1.97zM26.04 262.69h1.97v1h-1.97z"/>
<path fill="#494949" d="M19.14 200.61h1.97v1h-1.97zM23.08 200.61h2.96v1h-2.96zM27.02 200.61h1.97v1h-1.97zM42.79 202.61h0.99v1h-0.99zM45.74 202.61h0.99v1h-0.99zM21.11 203.61h0.99v1h-0.99zM37.86 203.61h0.99v1h-0.99zM39.83 203.61h2.96v1h-2.96zM15.2 205.61h2.96v1h-2.96zM34.91 205.61h2.96v1h-2.96zM38.85 205.61h0.99v1h-0.99zM47.71 205.61h0.99v1h-0.99zM21.11 207.62h1.97v1h-1.97zM33.92 207.62h2.96v1h-2.96zM26.04 211.62h0.99v1h-0.99zM43.77 211.62h1.97v1h-1.97zM16.19 212.62h2.96v1h-2.96zM27.02 212.62h2.96v1h-2.96zM34.91 212.62h1.97v1h-1.97zM28.01 221.64h1.97v1h-1.97zM31.95 221.64h1.97v1h-1.97zM40.82 221.64h0.99v1h-0.99zM15.2 225.64h1.97v1h-1.97zM21.11 225.64h1.97v1h-1.97zM16.19 227.64h0.99v1h-0.99zM18.16 227.64h1.97v1h-1.97zM35.89 230.65h1.97v1h-1.97zM37.86 237.66h0.99v1h-0.99zM41.8 239.66h2.96v1h-2.96zM28.01 243.66h2.96v1h-2.96zM22.1 245.67h2.96v1h-2.96zM32.94 245.67h1.97v1h-1.97zM46.73 245.67h0.99v1h-0.99zM27.02 248.67h1.97v1h-1.97zM26.04 250.67h1.97v1h-1.97zM34.91 250.67h1.97v1h-1.97zM28.01 252.68h0.99v1h-0.99zM38.85 254.68h2.96v1h-2.96zM47.71 255.68h0.99v1h-0.99zM30.96 257.68h1.97v1h-1.97zM46.73 259.68h1.97v1h-1.97zM36.88 263.69h0.99v1h-0.99zM32.94 266.69h2.96v1h-2.96zM42.79 266.69h0.99v1h-0.99zM44.76 266.69h2.96v1h-2.96zM36.88 268.7h1.97v1h-1.97zM42.79 268.7h0.99v1h-0.99zM15.2 270.7h2.96v1h-2.96zM32.94 270.7h2.96v1h-2.96zM36.88 270.7h1.97v1h-1.97z"/></g>
<path fill="#4a90d0" fill-opacity="0.75" d="M57.37 195.2h1.46v1.09h-1.46zM57.47 198.29h1.56v1.18h-1.56zM57.71 200.82h1.47v0.95h-1.47zM57.75 202.19h1.41v1.22h-1.41zM59.52 195.2h1.46v0.87h-1.46zM59.87 196.54h1.43v1.37h-1.43zM59.84 198.03h1.65v1.35h-1.65zM59.56 199.8h1.42v1.57h-1.42zM61.45 196.31h1.64v1.57h-1.64zM61.11 199.25h1.17v1.06h-1.17zM61.39 203.59h1.26v1.59h-1.26zM63.77 195.2h1.24v1.39h-1.24zM63.33 198.1h1.35v1.17h-1.35zM63.86 199.35h1.23v1.43h-1.23zM65.3 195.2h1.62v1.49h-1.62zM65.38 196.94h1.47v1.58h-1.47zM65 198.61h1.02v1.54h-1.02zM64.8 200.25h1.38v1.43h-1.38zM67.24 195.2h1.61v1.23h-1.61zM66.73 196.91h1.27v0.84h-1.27zM67.22 198h1.46v1.08h-1.46zM66.7 199.36h1.39v0.85h-1.39zM66.71 200.24h1.55v1.19h-1.55zM66.91 201.76h1.09v1.13h-1.09zM66.95 203.23h1.13v1.05h-1.13zM69.06 195.2h1.1v0.82h-1.1zM69.22 196.26h1.23v1.31h-1.23zM69.31 197.85h1.02v0.87h-1.02zM69.14 198.76h1.16v0.9h-1.16zM69.21 199.97h1.58v1.17h-1.58zM71.15 195.2h1.29v1.03h-1.29zM71 204.36h1.65v1.48h-1.65zM71.9 195.2h1.45v1.36h-1.45zM72.26 198.33h1.36v0.81h-1.36zM72.64 199.63h1.03v1.25h-1.03zM71.94 202.81h1.52v1.18h-1.52zM71.97 204.02h1.51v0.97h-1.51zM74.71 195.2h1.25v0.83h-1.25zM74.32 202.76h1.48v1.6h-1.48zM75.64 195.2h1.24v1.4h-1.24zM76.15 197h1.65v1.08h-1.65zM75.76 198.27h1.63v1.54h-1.63zM75.77 200h1.29v0.84h-1.29zM75.73 200.86h1.23v0.93h-1.23zM75.78 203.65h1.54v1.03h-1.54zM78.1 195.2h1.2v1.15h-1.2zM78.16 196.64h1.1v1.18h-1.1zM78.02 197.86h1.24v1.06h-1.24zM78.21 200.33h1.08v1.37h-1.08zM78.06 201.98h1.38v1.24h-1.38zM79.48 201.02h1.27v0.81h-1.27zM79.6 202.96h1.14v0.88h-1.14zM80 203.88h1.38v1.38h-1.38zM80.13 201.97h1.08v1.12h-1.08zM82.95 199.5h1.19v0.89h-1.19zM83.01 200.52h1.36v0.85h-1.36zM85.02 198.34h1.18v1.15h-1.18zM84.94 199.63h1.13v1.36h-1.13zM85.03 201.37h1.46v1.39h-1.46zM85.15 204.5h1.6v1.23h-1.6zM86.54 195.2h1.06v0.91h-1.06zM86.76 196.44h1.52v0.9h-1.52z"/>
<path fill="#4a90d0" fill-opacity="1" d="M57.34 196.79h1.39v1.48h-1.39zM59.32 201.6h1.41v0.98h-1.41zM59.44 202.99h1.12v1.03h-1.12zM59.69 204.18h1.58v1.35h-1.58zM61.71 195.2h1.52v1.05h-1.52zM61.71 198.04h1.1v0.91h-1.1zM61.24 201.9h1.07v1.33h-1.07zM63.22 196.69h1.1v1.35h-1.1zM63.51 202.47h1.15v1.3h-1.15zM64.99 201.95h1.5v0.84h-1.5zM68.99 201.44h1.24v1.54h-1.24zM68.69 203.27h1.61v1.39h-1.61zM70.92 196.47h1.22v1.49h-1.22zM70.45 199.79h1.13v1.25h-1.13zM71.09 201.49h1.48v0.87h-1.48zM71.06 202.78h1.05v1.2h-1.05zM72.44 196.66h1.24v1.35h-1.24zM72.47 201.28h1.21v1.34h-1.21zM74.38 196.21h1v1.39h-1zM74.18 199.26h1.13v0.9h-1.13zM74.43 200.58h1.03v0.96h-1.03zM75.94 202.27h1.49v1h-1.49zM77.79 199.34h1.5v0.85h-1.5zM79.73 195.2h1.48v1.16h-1.48zM80.13 196.58h1.43v1.49h-1.43zM80.14 199.25h1.23v1.41h-1.23zM79.97 201.85h1.36v0.99h-1.36zM80.04 198.68h1.25v1.46h-1.25zM81.98 195.2h1.2v1.6h-1.2zM81.39 196.97h1.26v0.99h-1.26zM81.86 199.68h1.15v1.41h-1.15zM81.68 201.37h1.25v1.45h-1.25zM83.16 196.22h1.48v1.02h-1.48zM83.66 203.38h1.53v1.4h-1.53zM85.17 202.92h1.05v1.41h-1.05z"/>
<path fill="#e07038" fill-opacity="0.75" d="M57.99 206.5h1.62v1.22h-1.62zM57.57 207.91h1.31v1.31h-1.31zM57.57 209.71h1.54v1.42h-1.54zM57.83 211.44h1.08v1.09h-1.08zM57.44 212.74h1.53v1.18h-1.53zM57.97 214.12h1.18v1.29h-1.18zM59.87 208.29h1.55v1.08h-1.55zM59.72 209.66h1.27v1.4h-1.27zM59.7 214.56h1.19v1.31h-1.19zM61.45 207.84h1.52v1.27h-1.52zM61.19 209.32h1.29v1.49h-1.29zM61.67 213.15h1.1v0.92h-1.1zM63.37 208.19h1.32v1.34h-1.32zM63.64 210.87h1.47v0.88h-1.47zM63.27 211.88h1.64v0.94h-1.64zM63.23 214.54h1.06v1.4h-1.06zM63.16 216.22h1.48v1.18h-1.48zM65.87 206.5h1.28v1.04h-1.28zM65.17 207.54h1.45v1.35h-1.45zM65.15 209.15h1.6v1.54h-1.6zM65.5 212.71h1.44v0.99h-1.44zM67.32 207.64h1.25v1.2h-1.25zM67.08 209.03h1.27v1.4h-1.27zM66.71 212.62h1.39v0.9h-1.39zM67.09 213.61h1.54v1.19h-1.54zM66.69 214.97h1.49v0.92h-1.49zM67.08 215.97h1.6v1.57h-1.6zM68.87 207.82h1.54v1.48h-1.54zM68.88 213.52h1.59v0.94h-1.59zM69.07 214.67h1.47v1.23h-1.47zM68.83 216.21h1.1v0.97h-1.1zM70.22 209.46h1.69v1.07h-1.69zM70.12 210.84h1.54v1.23h-1.54zM70.37 212.45h1.35v1.22h-1.35zM70.32 215.94h1.19v1.58h-1.19zM72.63 211.01h1.12v1.38h-1.12zM72.4 213.64h1.19v1.48h-1.19zM72.15 215.16h1.64v1.25h-1.64zM74.08 208.28h1.06v0.86h-1.06zM73.95 212h1.34v1.06h-1.34zM74.38 213.43h1.58v1.52h-1.58zM76.2 206.5h1.34v0.87h-1.34zM75.9 209.13h1.27v0.82h-1.27zM75.78 214.28h1.03v0.8h-1.03zM76.54 215.41h1.3v1.26h-1.3zM77.26 206.5h1.28v1.15h-1.28zM77.82 207.83h1.42v1.24h-1.42zM77.28 214.41h1.69v0.97h-1.69zM77.93 215.48h1.14v1.51h-1.14zM78.72 212.97h1.31v1.28h-1.31zM79.05 214.71h1.13v1.25h-1.13zM78.81 216.09h1.18v1.24h-1.18zM81.02 208.28h1.61v1.18h-1.61zM81.27 211.23h1.58v1.36h-1.58zM81.04 214.33h1.53v1.06h-1.53zM80.79 215.78h1.51v1.29h-1.51zM82.78 213.48h1.66v1.36h-1.66zM84.11 212.23h1.43v1.57h-1.43z"/>
<path fill="#e07038" fill-opacity="1" d="M57.98 215.84h1.01v1.5h-1.01zM60.22 206.5h1.26v1.56h-1.26zM59.95 211.52h1.58v0.99h-1.58zM60.13 212.89h1.01v1.27h-1.01zM61.64 206.5h1.22v1.05h-1.22zM61.17 214.14h1.02v1.58h-1.02zM61.76 216.03h1.28v1.2h-1.28zM63.52 209.9h1.58v0.88h-1.58zM63.23 212.85h1.65v1.36h-1.65zM65.17 213.94h1.5v1.15h-1.5zM65.12 215.35h1.6v1.23h-1.6zM66.8 210.73h1.42v1.57h-1.42zM68.9 206.5h1.57v1.01h-1.57zM68.69 209.48h1.42v1.12h-1.42zM69.32 210.95h1.5v1.08h-1.5zM70.65 206.5h1.6v1.32h-1.6zM70.52 208.21h1.36v0.83h-1.36zM70.9 213.9h1.3v1.59h-1.3zM72.01 206.5h1.45v1.21h-1.45zM72.62 207.88h1.57v1.02h-1.57zM72.49 209.39h1.43v1.24h-1.43zM72.54 212.64h1.22v0.81h-1.22zM74.13 206.5h1.01v1.42h-1.01zM74.13 209.57h1v0.82h-1zM74.18 210.4h1.25v1.19h-1.25zM74.32 215.24h1.4v1.46h-1.4zM76.51 207.73h1.28v1.34h-1.28zM75.85 210.11h1.19v1.3h-1.19zM76.45 211.77h1.36v0.89h-1.36zM77.33 209.44h1.7v0.83h-1.7zM77.86 210.66h1.14v1.33h-1.14zM78.71 207.77h1.35v0.87h-1.35zM79.22 208.7h1.67v1.29h-1.67zM79.24 210.11h1.37v1.33h-1.37zM78.76 211.6h1.36v1.04h-1.36zM80.87 206.5h1.4v1.47h-1.4zM80.62 212.8h1.16v1.05h-1.16zM82.81 206.5h1.23v1.08h-1.23zM82.84 207.6h1.2v1.4h-1.2zM82.28 216.23h1.33v1.36h-1.33zM83.64 210.59h1.43v1.19h-1.43zM84.32 216.12h1.03v1.49h-1.03z"/>
<path fill="#f0c068" fill-opacity="1" d="M58.05 219.21h1.43v1.49h-1.43zM57.41 220.91h1.25v0.85h-1.25zM57.96 223.54h1.55v0.9h-1.55zM59.28 219.16h1.59v1.11h-1.59zM59.05 220.6h1.24v0.86h-1.24zM58.99 221.72h1.05v0.81h-1.05zM61.03 221.99h1.03v0.89h-1.03zM60.78 225.75h1.51v1.49h-1.51zM63.16 218.7h1.29v1.13h-1.29zM64.98 219.63h1.44v1.55h-1.44zM65.18 222.99h1.48v1.15h-1.48zM64.8 225.75h1.57v0.93h-1.57zM67.07 217.7h1.22v1.03h-1.22zM68.9 219.08h1.25v1.58h-1.25zM75.56 218.96h1.27v1.14h-1.27zM75.28 223.03h1.08v1.22h-1.08zM77.76 219.29h1.01v1.28h-1.01zM77.14 225.26h1.63v1.04h-1.63zM79.45 219.47h1v0.94h-1zM79.27 225.08h1.47v1.27h-1.47z"/>
<path fill="#f0c068" fill-opacity="0.75" d="M57.46 224.57h1.67v1.46h-1.67zM59.32 222.6h1.57v1.05h-1.57zM59.08 224.07h1.65v1.57h-1.65zM59.48 225.97h1.57v1.4h-1.57zM61.19 217.7h1.36v1.35h-1.36zM60.98 222.97h1.29v0.86h-1.29zM62.61 219.91h1.31v0.89h-1.31zM63.19 220.96h1.67v1.46h-1.67zM63.17 222.7h1.28v1.09h-1.28zM65.36 221.45h1.5v1.2h-1.5zM64.67 226.85h1.29v1.3h-1.29zM66.99 222.09h1.57v1.22h-1.57zM67.09 223.62h1.19v1.55h-1.19zM68.97 224.22h1.38v0.98h-1.38zM69.39 225.5h1.29v1.49h-1.29zM71.01 217.7h1.06v1.28h-1.06zM71.35 221.87h1.55v0.9h-1.55zM71.58 225.71h1.1v1.09h-1.1zM73.22 219.07h1.51v1.01h-1.51zM73.63 222.96h1.06v1.6h-1.06zM75.51 217.7h1.12v1.18h-1.12zM75.35 220.52h1.08v1.23h-1.08zM77.72 217.7h1.49v1.38h-1.49zM78.97 223.21h1.38v1.44h-1.38zM81.4 224.1h1.65v1.43h-1.65zM81.21 225.82h1.32v1.15h-1.32z"/>
<path fill="#8a66c8" fill-opacity="0.75" d="M57.56 228.2h1.45v1.3h-1.45zM57.81 229.57h1.64v1.23h-1.64zM57.8 235.39h1.27v1.12h-1.27zM57.32 237h1.07v1.56h-1.07zM59.44 228.2h1.25v0.96h-1.25zM59.3 236.62h1.24v1.41h-1.24zM59.32 238.08h1.13v1.12h-1.13zM61.92 229.54h1.16v0.95h-1.16zM61.87 230.95h1.59v1.51h-1.59zM61.35 233.57h1.06v1.42h-1.06zM61.94 236.77h1.4v1.05h-1.4zM63.59 229.82h1.46v1.5h-1.46zM63.52 231.36h1.25v1.53h-1.25zM63.38 232.9h1.55v0.8h-1.55zM63.32 235.76h1.32v1.38h-1.32zM65.07 229.78h1.58v0.84h-1.58zM65.73 232.69h1.4v1.03h-1.4zM65.16 236.64h1.13v1.15h-1.13zM65.17 238.23h1.34v1.55h-1.34zM67.33 233.88h1.38v1.55h-1.38zM67.17 235.87h1.38v1.26h-1.38zM66.98 237.18h1.6v1.05h-1.6zM68.83 234.26h1.42v1.19h-1.42zM69.73 231.17h1.58v0.92h-1.58zM71.14 229.61h1.38v1.56h-1.38zM71.12 231.4h1.45v1.26h-1.45zM71.49 232.94h1.67v1.21h-1.67zM71.73 236.15h1.07v1.42h-1.07zM73.11 232.15h1.26v0.92h-1.26zM74.95 228.2h1.2v1.09h-1.2zM76.78 232.14h1.44v1.44h-1.44zM77.11 235.51h1.68v1.07h-1.68zM76.82 236.6h1.09v1.1h-1.09zM78.83 228.2h1.03v0.93h-1.03zM78.99 229.56h1.09v0.82h-1.09zM86.02 232.16h1.42v1.02h-1.42z"/>
<path fill="#8a66c8" fill-opacity="1" d="M57.58 230.8h1.44v1.08h-1.44zM57.95 233.38h1.47v1.55h-1.47zM59.6 229.65h1.24v1.37h-1.24zM59.38 232.53h1.51v0.93h-1.51zM59.54 235.11h1.66v1.39h-1.66zM61.77 228.2h1.69v1.01h-1.69zM61.47 232.73h1.04v0.8h-1.04zM63.28 228.2h1.05v1.22h-1.05zM63.4 234.05h1.57v1.31h-1.57zM63.57 237.34h1.34v1.44h-1.34zM65.72 228.2h1.62v1.48h-1.62zM65.52 234.05h1.17v1.06h-1.17zM66.84 228.2h1.04v1.2h-1.04zM67.01 229.66h1.01v0.82h-1.01zM69.09 228.2h1.61v1.29h-1.61zM69.42 232.8h1.33v1.12h-1.33zM68.97 237.37h1.2v1.02h-1.2zM70.09 228.2h1.31v1.45h-1.31zM70.3 235.42h1.5v0.97h-1.5zM71.13 228.2h1.38v1.22h-1.38zM71.76 234.39h1.22v1.51h-1.22zM71.29 237.86h1.3v0.89h-1.3zM73.16 228.2h1.28v1.58h-1.28zM73.36 233.12h1.65v1.22h-1.65zM79.03 232.47h1.31v1.05h-1.31zM80.27 234.36h1.44v0.85h-1.44zM82.83 236.04h1.62v0.8h-1.62zM84.63 228.2h1.39v1.33h-1.39zM86.25 234.61h1.6v1.45h-1.6z"/>
<path fill="#6cb040" fill-opacity="1" d="M57.55 241.91h1.13v1.54h-1.13zM58.02 243.74h1.4v1.49h-1.4zM57.49 247.02h1.32v1.54h-1.32zM59.91 241.4h1.36v0.84h-1.36zM59.57 246.35h1.38v1.19h-1.38zM61.75 244.75h1.34v1.51h-1.34zM63.45 240.5h1.55v0.84h-1.55zM63.94 245.45h1.35v1.28h-1.35zM63.67 248.38h1.05v1.03h-1.05zM65.34 241.91h1.08v1.18h-1.08zM65.54 246.34h1.25v1.1h-1.25zM66.61 243.43h1.44v1.6h-1.44zM68.2 242.04h1.67v1.06h-1.67zM68.1 249.38h1.53v0.85h-1.53zM70.53 244.36h1.23v1.14h-1.23zM70.36 245.75h1.02v1.49h-1.02zM70.96 249.34h1.01v0.89h-1.01zM73.76 240.5h1.59v1.19h-1.59zM73.97 242.13h1.43v1.12h-1.43zM73.79 246.34h1.6v1.12h-1.6zM76.2 240.5h1.69v1.54h-1.69zM75.83 245.92h1.1v1.58h-1.1zM76.2 247.52h1.33v1.56h-1.33zM75.76 249.52h1.45v1.34h-1.45zM78.34 244.88h1.67v1.17h-1.67zM78.18 246.25h1.38v1.44h-1.38zM78.62 249.78h1.29v1.38h-1.29zM80.2 243.37h1.17v0.88h-1.17zM79.99 245.8h1.13v1.13h-1.13zM79.95 247.23h1.02v1.16h-1.02zM81.9 240.5h1.68v1.22h-1.68zM81.76 241.81h1.61v1.21h-1.61zM81.8 243.46h1.18v1.56h-1.18zM82.11 248.47h1.44v0.83h-1.44zM83.71 241.71h1.1v1.57h-1.1zM83.97 244.82h1.27v1.3h-1.27zM85.58 242.36h1.38v0.83h-1.38zM85.34 247.75h1.15v0.95h-1.15zM87.2 242.23h1.11v1.54h-1.11z"/>
<path fill="#6cb040" fill-opacity="0.75" d="M57.56 248.99h1.69v1.13h-1.69zM59.54 240.5h1.44v0.86h-1.44zM60.06 245.11h1.4v0.85h-1.4zM59.47 247.93h1.13v1.47h-1.13zM59.72 249.74h1.5v1.55h-1.5zM62.27 240.5h1.51v1.14h-1.51zM61.62 241.78h1.65v0.93h-1.65zM62.2 248.23h1.03v1.29h-1.03zM61.79 249.65h1.58v1.08h-1.58zM63.88 241.56h1.22v1.01h-1.22zM63.38 242.83h1.14v0.83h-1.14zM63.75 244.01h1.39v1.19h-1.39zM63.52 247.09h1.3v1.12h-1.3zM63.6 249.77h1.45v1.24h-1.45zM65.22 240.5h1.26v1.22h-1.26zM65.13 243.26h1.61v1.5h-1.61zM67.06 240.5h1.54v1.06h-1.54zM66.46 246.48h1.43v1.08h-1.43zM68.7 240.5h1.25v1.42h-1.25zM68.78 243.19h1.38v1.25h-1.38zM68.68 244.71h1.47v1.11h-1.47zM68.34 246.3h1.41v1.04h-1.41zM70.55 240.5h1.6v1.01h-1.6zM70.63 243.22h1.67v0.85h-1.67zM70.94 247.3h1.34v0.9h-1.34zM72.61 240.5h1.33v0.84h-1.33zM72.16 241.39h1.62v1.04h-1.62zM72.49 248.78h1.4v1.03h-1.4zM72.14 249.99h1.26v0.88h-1.26zM75.72 242.24h1.01v0.87h-1.01zM76.21 243.34h1.53v1.48h-1.53zM76.02 244.84h1.3v0.87h-1.3zM78.27 240.5h1.23v1.39h-1.23zM77.98 243.54h1.69v1.28h-1.69zM78.59 248.18h1.23v1.18h-1.23zM79.86 240.5h1.69v1.37h-1.69zM81.38 247.24h1.35v0.9h-1.35zM83.39 243.45h1.36v1.01h-1.36zM83.6 246.23h1.34v1.59h-1.34zM83.85 247.89h1.44v1.2h-1.44zM85.23 240.5h1.08v1.41h-1.08zM85.56 243.35h1.22v1.34h-1.22zM85.86 244.99h1.5v1.27h-1.5zM85.22 246.39h1.19v1.14h-1.19zM87.55 240.5h1.33v1.43h-1.33zM87.26 243.8h1.56v1.33h-1.56zM87.46 245.16h1.47v1.04h-1.47zM87.49 248.23h1.68v1.6h-1.68z"/>
<path fill="#6cbce6" fill-opacity="0.75" d="M58.09 251h1.14v0.85h-1.14zM57.79 254.18h1.13v1.58h-1.13zM57.62 257.85h1.54v0.85h-1.54zM59.45 255.87h1.42v0.84h-1.42zM60.19 257.14h1.34v1.1h-1.34zM60.2 258.32h1.06v1.09h-1.06zM61.43 252.27h1.42v0.98h-1.42zM61.83 253.26h1.4v1.53h-1.4zM61.97 254.97h1.61v1.02h-1.61zM64.02 251h1.31v0.97h-1.31zM63.54 258.9h1.14v1.54h-1.14zM65.98 251h1.19v0.94h-1.19zM66.3 253.48h1.4v1.49h-1.4zM65.89 255.03h1.16v1.28h-1.16zM65.71 256.53h1.25v0.89h-1.25zM66.36 257.85h1.59v1.19h-1.59zM66.32 259.3h1.02v1.28h-1.02zM68.5 251.97h1.47v1h-1.47zM68.12 253.05h1.35v1.02h-1.35zM68.11 254.27h1.39v1.11h-1.39zM68.69 256.66h1.58v1.54h-1.58zM70.46 251h1.28v1.04h-1.28zM70.23 254h1.41v1.53h-1.41zM70.54 259.68h1.07v1.31h-1.07zM72.23 252.28h1.17v0.96h-1.17zM71.93 255.27h1.01v1.19h-1.01zM71.74 258.07h1.05v1.57h-1.05zM74.63 257.45h1.52v0.84h-1.52zM76.4 251h1.66v1.07h-1.66zM76.38 252.56h1.1v0.88h-1.1zM76.67 260.2h1.05v1.38h-1.05zM78.32 254.11h1.2v1.23h-1.2zM78.42 255.74h1.28v1.23h-1.28zM78.44 258.74h1.7v1.08h-1.7zM79.84 252.02h1.03v1.23h-1.03zM80.96 251h1.68v0.95h-1.68zM81.17 252.37h1.55v1.52h-1.55zM81.22 254.03h1.44v1.21h-1.44zM82.94 252.31h1.28v1.42h-1.28zM83.35 253.78h1.03v1.57h-1.03z"/>
<path fill="#6cbce6" fill-opacity="1" d="M57.64 252.31h1.4v1.39h-1.4zM57.43 256.21h1.4v1.25h-1.4zM59.46 251h1.02v1.48h-1.02zM61.64 258.62h1.56v0.83h-1.56zM62.13 259.84h1.06v0.87h-1.06zM64.13 252.45h1.2v1.19h-1.2zM66.09 252.21h1.23v0.92h-1.23zM68.2 255.68h1.09v0.9h-1.09zM68.69 258.43h1.08v1.54h-1.08zM70.86 252.33h1.01v1.35h-1.01zM70.94 255.97h1.67v1.51h-1.67zM70.78 257.8h1.13v1.42h-1.13zM71.95 256.46h1.05v1.17h-1.05zM74.16 253.93h1.12v0.81h-1.12zM76.1 253.51h1.52v1.46h-1.52zM76.56 254.99h1.1v1.29h-1.1zM77.77 252.45h1.15v1.58h-1.15zM79.69 254.88h1.16v1.47h-1.16zM79.25 259.33h1.59v1.17h-1.59zM81.29 255.54h1.51v1.56h-1.51zM83.28 251h1.39v0.93h-1.39zM83.39 256.41h1.12v1.13h-1.12zM84.75 251h1.55v1.23h-1.55zM85 258.2h1.48v0.86h-1.48z"/>
<path fill="#c0304a" fill-opacity="1" d="M57.9 261.5h1.57v1.21h-1.57zM57.79 262.77h1.56v1.23h-1.56zM57.31 268.32h1.06v1.06h-1.06zM57.94 269.48h1.19v1.39h-1.19zM57.43 271.36h1.56v1.56h-1.56zM59.88 261.5h1.63v0.91h-1.63zM59.96 262.71h1.15v1.12h-1.15zM60.28 265.99h1.58v1.2h-1.58zM59.62 268.89h1.09v1.12h-1.09zM61.48 261.5h1.28v1.57h-1.28zM61.64 263.3h1.26v1.01h-1.26zM61.92 265.81h1.66v1.37h-1.66zM63.55 261.5h1.15v1.57h-1.15zM64.26 267.59h1.3v1.33h-1.3zM65.8 262.92h1.56v1.39h-1.56zM66.47 268.14h1.38v1.48h-1.38zM66.37 269.66h1.07v1.15h-1.07zM67.43 262.9h1.42v1.23h-1.42zM67.98 267.51h1.25v1.35h-1.25zM67.73 270.41h1.46v0.88h-1.46zM69.49 265.91h1.02v1.13h-1.02zM69.95 268.44h1.47v1.03h-1.47zM69.51 271.12h1.27v1.34h-1.27zM71.48 266.15h1.61v1.43h-1.61zM72.1 267.97h1.49v0.97h-1.49zM72.23 270.79h1.24v1.54h-1.24zM76.84 262.63h1.48v1.23h-1.48zM76.28 269.99h1.44v1.1h-1.44zM77.85 262.61h1.39v1.08h-1.39zM77.9 264.15h1.43v0.93h-1.43zM77.85 265.22h1.48v1.54h-1.48zM78.27 268.69h1.52v1.43h-1.52zM80.13 261.5h1.03v0.89h-1.03zM79.6 262.69h1.49v0.93h-1.49zM79.95 265.45h1.25v1.27h-1.25zM79.79 269.5h1.15v0.95h-1.15zM80.16 270.73h1.22v0.87h-1.22zM81.71 263.32h1.4v1.35h-1.4zM81.73 264.92h1.64v0.81h-1.64zM81.87 267.31h1.61v0.96h-1.61zM84.17 264.66h1.55v1.36h-1.55zM84.51 267.4h1.07v1.05h-1.07zM86.42 261.5h1.01v1.37h-1.01zM86.09 266.38h1.32v1.36h-1.32zM86.42 269.79h1.4v0.84h-1.4zM86.28 271.03h1.48v1.51h-1.48z"/>
<path fill="#c0304a" fill-opacity="0.75" d="M57.77 264.1h1.49v0.83h-1.49zM58.09 265.19h1.4v0.8h-1.4zM57.74 267.36h1.36v0.81h-1.36zM59.92 267.3h1.04v1.56h-1.04zM60.14 270.17h1v1.19h-1zM61.88 264.38h1.28v1.23h-1.28zM61.67 267.65h1.67v1.07h-1.67zM63.54 263.4h1.43v0.97h-1.43zM64 264.79h1.05v0.89h-1.05zM64.04 266.02h1.47v1.37h-1.47zM66.26 261.5h1.53v1.38h-1.53zM66.23 266.37h1.67v1.5h-1.67zM66.11 271.13h1.32v1.06h-1.32zM67.89 261.5h1.36v1.23h-1.36zM67.77 264.54h1.41v1.37h-1.41zM67.54 269.16h1.36v0.92h-1.36zM69.81 261.5h1.35v1.2h-1.35zM70.06 262.84h1.44v1.28h-1.44zM69.45 269.69h1.24v1.32h-1.24zM72.12 261.5h1.27v1.5h-1.27zM71.85 263.17h1.48v0.93h-1.48zM71.57 264.49h1.09v1.3h-1.09zM76.74 263.87h1.03v1.53h-1.03zM76.46 265.61h1.46v1.38h-1.46zM76.59 267.17h1.15v1.2h-1.15zM76.86 268.69h1.57v0.92h-1.57zM78.34 261.5h1.23v1.03h-1.23zM78.45 266.93h1.41v1.59h-1.41zM78.03 270.53h1.17v0.89h-1.17zM79.63 263.68h1.51v1.46h-1.51zM79.59 267.78h1.6v1.42h-1.6zM81.64 261.5h1.61v1.41h-1.61zM81.95 265.95h1.07v1.06h-1.07zM81.85 268.74h1.66v0.92h-1.66zM82.03 269.71h1.15v1.3h-1.15zM81.98 271.1h1.56v1.43h-1.56zM83.94 261.5h1.36v1.56h-1.36zM84.42 263.3h1.1v1.22h-1.1zM83.83 268.61h1.52v1.02h-1.52zM83.93 269.68h1.29v1.49h-1.29zM84.07 271.35h1.2v0.96h-1.2zM86.54 263.32h1.49v1.24h-1.49zM86.68 264.83h1.23v1.41h-1.23zM86.24 267.94h1.12v1.37h-1.12z"/>
<path d="M50.8 207.3 l1.4 0.7 l-1.4 0.7z" fill="#3a8ad0"/>
<path d="M50.8 221.3 l1.4 0.7 l-1.4 0.7z" fill="#e0603a"/>
<path d="M50.8 227.8 l1.4 0.7 l-1.4 0.7z" fill="#8050b0"/>
<path d="M50.8 240.3 l1.4 0.7 l-1.4 0.7z" fill="#90b840"/>
<path d="M50.8 242.8 l1.4 0.7 l-1.4 0.7z" fill="#40b0e0"/>
<path d="M50.8 255.3 l1.4 0.7 l-1.4 0.7z" fill="#c02040"/>
<text x="9.3" y="197.3" font-size="5" text-anchor="start" font-weight="normal" fill="#444">1</text>
<rect x="13.3" y="195.4" width="1.2" height="0.4" fill="#999"/>
<text x="6.8" y="273.3" font-size="5" text-anchor="start" font-weight="normal" fill="#444">43</text>
<rect x="13.3" y="271.3" width="1.2" height="0.4" fill="#999"/>
<text x="7" y="247" font-size="5" text-anchor="middle" font-weight="normal" fill="#000" transform="rotate(-90 7 247)" stroke="#000" stroke-width="0.1">Neuron number</text>
<defs><linearGradient id="gbar274" x1="0" x2="1"><stop offset="0" stop-color="#000"/><stop offset="1" stop-color="#fff"/></linearGradient></defs>
<rect x="28" y="274.3" width="18.5" height="2.4" fill="url(#gbar274)" stroke="#222" stroke-width="0.5"/>
<text x="20.8" y="277.3" font-size="5" text-anchor="start" font-weight="normal" fill="#000" stroke="#000" stroke-width="0.1">−1</text>
<text x="48.3" y="277.3" font-size="5" text-anchor="start" font-weight="normal" fill="#000" stroke="#000" stroke-width="0.1">4</text>
<text x="37.5" y="284.2" font-size="5" text-anchor="middle" font-weight="normal" fill="#000" stroke="#000" stroke-width="0.1">FR (z-score)</text>
<rect x="78.8" y="273" width="12" height="1.5" fill="#000"/>
<text x="99.4" y="12.6" font-size="8.7" text-anchor="start" font-weight="bold" fill="#000" stroke="#000" stroke-width="0.5">c</text>
<text x="135.2" y="14.3" font-size="5" text-anchor="start" font-weight="normal" fill="#000" stroke="#000" stroke-width="0.1">Syllables</text>
<text x="124.3" y="18.8" font-size="5" text-anchor="start" font-weight="normal" fill="#000" stroke="#000" stroke-width="0.1">E</text>
<text x="158.4" y="18.8" font-size="5" text-anchor="start" font-weight="normal" fill="#000" stroke="#000" stroke-width="0.1">F</text>
<text x="104.8" y="25" font-size="5" text-anchor="start" font-weight="normal" fill="#000" stroke="#000" stroke-width="0.1">ZF7</text>
<text x="127" y="24.6" font-size="4.6" text-anchor="middle" font-weight="normal" fill="#333" stroke="#333" stroke-width="0.08">(i)</text>
<text x="147.5" y="24.6" font-size="4.6" text-anchor="middle" font-weight="normal" fill="#333" stroke="#333" stroke-width="0.08">(ii)</text>
<text x="177" y="24.6" font-size="4.6" text-anchor="middle" font-weight="normal" fill="#333" stroke="#333" stroke-width="0.08">(iii)</text>
<rect x="125" y="25.8" width="4" height="1" fill="#3aa8e8"/>
<rect x="145.3" y="25.8" width="4" height="1" fill="#e07a50"/>
<rect x="175" y="25.8" width="4" height="1" fill="#7a3aa8"/>
<g filter="url(#bl)" shape-rendering="crispEdges"><rect x="114" y="28.1" width="18.6" height="20.5" fill="#30c8b6"/>
<path fill="#2a8ed5" d="M114 28.1h0.98v1.02h-0.98zM120.85 28.1h0.98v1.02h-0.98zM122.81 28.1h0.98v1.02h-0.98zM114 30.15h0.98v1.02h-0.98zM131.62 30.15h0.98v1.02h-0.98zM114 35.27h0.98v1.02h-0.98zM123.79 42.45h0.98v1.02h-0.98zM116.94 44.5h0.98v1.02h-0.98zM124.77 44.5h0.98v1.02h-0.98zM126.73 44.5h2.94v1.02h-2.94zM114 45.52h1.96v1.02h-1.96zM120.85 45.52h0.98v1.02h-0.98zM127.71 45.52h0.98v1.02h-0.98zM116.94 46.55h0.98v1.02h-0.98zM119.87 46.55h0.98v1.02h-0.98zM125.75 46.55h0.98v1.02h-0.98zM129.66 46.55h0.98v1.02h-0.98z"/>
<path fill="#2ab2d3" d="M114.98 28.1h0.98v1.02h-0.98zM123.79 28.1h0.98v1.02h-0.98zM131.62 28.1h0.98v1.02h-0.98zM114.98 30.15h0.98v1.02h-0.98zM126.73 30.15h1.96v1.02h-1.96zM129.66 30.15h0.98v1.02h-0.98zM115.96 32.2h0.98v1.02h-0.98zM117.92 32.2h1.96v1.02h-1.96zM122.81 32.2h0.98v1.02h-0.98zM127.71 32.2h1.96v1.02h-1.96zM114.98 33.23h1.96v1.02h-1.96zM120.85 33.23h0.98v1.02h-0.98zM114 34.25h0.98v1.02h-0.98zM122.81 35.27h1.96v1.02h-1.96zM128.68 35.27h0.98v1.02h-0.98zM114 36.3h0.98v1.02h-0.98zM114 37.33h2.94v1.02h-2.94zM131.62 38.35h0.98v1.02h-0.98zM123.79 39.38h0.98v1.02h-0.98zM126.73 39.38h0.98v1.02h-0.98zM114.98 40.4h0.98v1.02h-0.98zM128.68 40.4h1.96v1.02h-1.96zM129.66 41.42h0.98v1.02h-0.98zM114 42.45h0.98v1.02h-0.98zM114 43.48h0.98v1.02h-0.98zM128.68 43.48h0.98v1.02h-0.98zM130.64 44.5h0.98v1.02h-0.98zM121.83 45.52h0.98v1.02h-0.98zM130.64 46.55h0.98v1.02h-0.98z"/>
<path fill="#2dbdc4" d="M115.96 28.1h2.94v1.02h-2.94zM119.87 28.1h0.98v1.02h-0.98zM126.73 28.1h0.98v1.02h-0.98zM130.64 28.1h0.98v1.02h-0.98zM114 29.12h0.98v1.02h-0.98zM131.62 29.12h0.98v1.02h-0.98zM125.75 30.15h0.98v1.02h-0.98zM128.68 30.15h0.98v1.02h-0.98zM126.73 31.18h1.96v1.02h-1.96zM119.87 32.2h2.94v1.02h-2.94zM126.73 32.2h0.98v1.02h-0.98zM118.89 34.25h1.96v1.02h-1.96zM122.81 34.25h0.98v1.02h-0.98zM125.75 34.25h1.96v1.02h-1.96zM129.66 34.25h0.98v1.02h-0.98zM114.98 35.27h0.98v1.02h-0.98zM124.77 35.27h1.96v1.02h-1.96zM129.66 35.27h0.98v1.02h-0.98zM116.94 36.3h0.98v1.02h-0.98zM128.68 36.3h2.94v1.02h-2.94zM116.94 37.33h0.98v1.02h-0.98zM120.85 37.33h1.96v1.02h-1.96zM121.83 38.35h1.96v1.02h-1.96zM129.66 38.35h1.96v1.02h-1.96zM115.96 39.38h0.98v1.02h-0.98zM121.83 39.38h1.96v1.02h-1.96zM127.71 39.38h0.98v1.02h-0.98zM115.96 40.4h1.96v1.02h-1.96zM121.83 40.4h1.96v1.02h-1.96zM127.71 40.4h0.98v1.02h-0.98zM114 41.42h0.98v1.02h-0.98zM122.81 41.42h1.96v1.02h-1.96zM128.68 41.42h0.98v1.02h-0.98zM120.85 42.45h0.98v1.02h-0.98zM124.77 42.45h0.98v1.02h-0.98zM128.68 42.45h1.96v1.02h-1.96zM122.81 43.48h1.96v1.02h-1.96zM127.71 43.48h0.98v1.02h-0.98zM129.66 43.48h1.96v1.02h-1.96zM131.62 44.5h0.98v1.02h-0.98zM122.81 45.52h3.92v1.02h-3.92zM131.62 45.52h0.98v1.02h-0.98zM121.83 46.55h0.98v1.02h-0.98zM124.77 46.55h0.98v1.02h-0.98zM131.62 46.55h0.98v1.02h-0.98z"/>
<path fill="#2b78d0" d="M121.83 28.1h0.98v1.02h-0.98zM122.81 42.45h0.98v1.02h-0.98zM115.96 44.5h0.98v1.02h-0.98zM117.92 44.5h0.98v1.02h-0.98zM119.87 44.5h0.98v1.02h-0.98zM122.81 44.5h1.96v1.02h-1.96zM116.94 45.52h0.98v1.02h-0.98zM128.68 45.52h1.96v1.02h-1.96zM126.73 46.55h0.98v1.02h-0.98zM128.68 46.55h0.98v1.02h-0.98z"/>
<path fill="#35d3a7" d="M125.75 28.1h0.98v1.02h-0.98zM129.66 28.1h0.98v1.02h-0.98zM115.96 29.12h2.94v1.02h-2.94zM119.87 29.12h0.98v1.02h-0.98zM121.83 29.12h0.98v1.02h-0.98zM124.77 29.12h0.98v1.02h-0.98zM127.71 29.12h0.98v1.02h-0.98zM121.83 30.15h0.98v1.02h-0.98zM124.77 30.15h0.98v1.02h-0.98zM114.98 31.18h0.98v1.02h-0.98zM116.94 31.18h1.96v1.02h-1.96zM119.87 31.18h0.98v1.02h-0.98zM129.66 31.18h0.98v1.02h-0.98zM124.77 32.2h1.96v1.02h-1.96zM129.66 32.2h1.96v1.02h-1.96zM128.68 33.23h1.96v1.02h-1.96zM120.85 34.25h0.98v1.02h-0.98zM115.96 35.27h5.87v1.02h-5.87zM126.73 35.27h0.98v1.02h-0.98zM131.62 35.27h0.98v1.02h-0.98zM122.81 36.3h0.98v1.02h-0.98zM124.77 36.3h0.98v1.02h-0.98zM126.73 36.3h0.98v1.02h-0.98zM118.89 37.33h0.98v1.02h-0.98zM124.77 37.33h0.98v1.02h-0.98zM126.73 37.33h0.98v1.02h-0.98zM115.96 38.35h0.98v1.02h-0.98zM124.77 38.35h0.98v1.02h-0.98zM127.71 38.35h0.98v1.02h-0.98zM116.94 39.38h0.98v1.02h-0.98zM124.77 40.4h1.96v1.02h-1.96zM130.64 40.4h0.98v1.02h-0.98zM119.87 41.42h0.98v1.02h-0.98zM121.83 41.42h0.98v1.02h-0.98zM127.71 41.42h0.98v1.02h-0.98zM114.98 42.45h0.98v1.02h-0.98zM116.94 42.45h1.96v1.02h-1.96zM119.87 42.45h0.98v1.02h-0.98zM125.75 42.45h0.98v1.02h-0.98zM114.98 43.48h0.98v1.02h-0.98zM121.83 43.48h0.98v1.02h-0.98zM124.77 43.48h0.98v1.02h-0.98zM126.73 43.48h0.98v1.02h-0.98z"/>
<path fill="#49d990" d="M128.68 28.1h0.98v1.02h-0.98zM118.89 29.12h0.98v1.02h-0.98zM122.81 29.12h1.96v1.02h-1.96zM129.66 29.12h0.98v1.02h-0.98zM116.94 30.15h0.98v1.02h-0.98zM118.89 30.15h0.98v1.02h-0.98zM122.81 30.15h0.98v1.02h-0.98zM114 31.18h0.98v1.02h-0.98zM120.85 31.18h0.98v1.02h-0.98zM124.77 31.18h0.98v1.02h-0.98zM131.62 32.2h0.98v1.02h-0.98zM130.64 33.23h0.98v1.02h-0.98zM115.96 34.25h0.98v1.02h-0.98zM117.92 34.25h0.98v1.02h-0.98zM131.62 34.25h0.98v1.02h-0.98zM118.89 36.3h1.96v1.02h-1.96zM123.79 36.3h0.98v1.02h-0.98zM129.66 37.33h2.94v1.02h-2.94zM114.98 38.35h0.98v1.02h-0.98zM125.75 38.35h1.96v1.02h-1.96zM119.87 39.38h0.98v1.02h-0.98zM129.66 39.38h0.98v1.02h-0.98zM131.62 39.38h0.98v1.02h-0.98zM118.89 40.4h1.96v1.02h-1.96zM114.98 41.42h0.98v1.02h-0.98zM116.94 41.42h0.98v1.02h-0.98zM120.85 41.42h0.98v1.02h-0.98zM124.77 41.42h0.98v1.02h-0.98zM126.73 41.42h0.98v1.02h-0.98zM115.96 42.45h0.98v1.02h-0.98zM118.89 42.45h0.98v1.02h-0.98zM118.89 43.48h2.94v1.02h-2.94z"/>
<path fill="#5dde79" d="M128.68 29.12h0.98v1.02h-0.98zM117.92 30.15h0.98v1.02h-0.98zM123.79 30.15h0.98v1.02h-0.98zM121.83 31.18h0.98v1.02h-0.98zM123.79 31.18h0.98v1.02h-0.98zM130.64 31.18h0.98v1.02h-0.98zM131.62 33.23h0.98v1.02h-0.98zM116.94 34.25h0.98v1.02h-0.98zM127.71 37.33h1.96v1.02h-1.96zM114 38.35h0.98v1.02h-0.98zM117.92 38.35h0.98v1.02h-0.98zM119.87 38.35h0.98v1.02h-0.98zM114 39.38h0.98v1.02h-0.98zM117.92 39.38h1.96v1.02h-1.96zM130.64 39.38h0.98v1.02h-0.98zM115.96 41.42h0.98v1.02h-0.98zM125.75 41.42h0.98v1.02h-0.98zM115.96 43.48h0.98v1.02h-0.98zM117.92 43.48h0.98v1.02h-0.98zM125.75 43.48h0.98v1.02h-0.98zM114 46.55h0.98v1.02h-0.98z"/>
<path fill="#28a3da" d="M130.64 30.15h0.98v1.02h-0.98zM116.94 32.2h0.98v1.02h-0.98zM114 33.23h0.98v1.02h-0.98zM116.94 33.23h3.92v1.02h-3.92zM131.62 36.3h0.98v1.02h-0.98zM124.77 39.38h1.96v1.02h-1.96zM114 40.4h0.98v1.02h-0.98zM121.83 42.45h0.98v1.02h-0.98zM120.85 44.5h1.96v1.02h-1.96zM125.75 44.5h0.98v1.02h-0.98zM129.66 44.5h0.98v1.02h-0.98zM115.96 45.52h0.98v1.02h-0.98zM126.73 45.52h0.98v1.02h-0.98zM130.64 45.52h0.98v1.02h-0.98zM115.96 46.55h0.98v1.02h-0.98zM117.92 46.55h1.96v1.02h-1.96zM120.85 46.55h0.98v1.02h-0.98z"/>
<path fill="#71e462" d="M122.81 31.18h0.98v1.02h-0.98zM131.62 31.18h0.98v1.02h-0.98zM131.62 40.4h0.98v1.02h-0.98zM116.94 43.48h0.98v1.02h-0.98z"/>
<path fill="#8ce654" d="M118.89 38.35h0.98v1.02h-0.98z"/>
<path fill="#2943a8" d="M114 44.5h0.98v1.02h-0.98z"/>
<path fill="#2c52bc" d="M114.98 44.5h0.98v1.02h-0.98z"/>
<path fill="#2c63ca" d="M118.89 44.5h0.98v1.02h-0.98zM117.92 45.52h2.94v1.02h-2.94zM127.71 46.55h0.98v1.02h-0.98z"/>
<path fill="#22186a" d="M114 47.58h18.6v1.02h-18.6z"/></g>
<rect x="114" y="48.9" width="18.6" height="1.9" fill="#a898d8"/>
<rect x="114" y="50.8" width="18.6" height="0.6" fill="#111"/>
<g filter="url(#bl)" shape-rendering="crispEdges"><rect x="137.5" y="28.1" width="45.2" height="20.5" fill="#49d990"/>
<path fill="#28a3da" d="M137.5 28.1h14.06v0.98h-14.06zM173.66 28.1h1v0.98h-1zM178.68 29.08h1v0.98h-1zM180.69 30.05h1v0.98h-1zM181.7 32.98h1v0.98h-1zM181.7 34.93h1v0.98h-1zM141.52 35.91h1v0.98h-1zM152.57 36.89h1v0.98h-1zM180.69 41.77h1v0.98h-1zM177.68 42.74h1v0.98h-1zM179.69 42.74h2.01v0.98h-2.01zM167.63 43.72h2.01v0.98h-2.01zM170.65 43.72h1v0.98h-1zM175.67 43.72h1v0.98h-1zM167.63 44.7h3.01v0.98h-3.01zM171.65 44.7h1v0.98h-1zM176.67 44.7h1v0.98h-1zM168.64 45.67h1v0.98h-1zM179.69 45.67h1v0.98h-1z"/>
<path fill="#2ab2d3" d="M151.56 28.1h3.01v0.98h-3.01zM164.62 29.08h1v0.98h-1zM171.65 29.08h2.01v0.98h-2.01zM175.67 29.08h1v0.98h-1zM180.69 31.03h1v0.98h-1zM178.68 32h1v0.98h-1zM180.69 32h1v0.98h-1zM180.69 32.98h1v0.98h-1zM180.69 33.96h1v0.98h-1zM180.69 35.91h1v0.98h-1zM149.55 36.89h2.01v0.98h-2.01zM180.69 36.89h1v0.98h-1zM174.66 37.86h1v0.98h-1zM179.69 40.79h1v0.98h-1zM167.63 42.74h1v0.98h-1zM170.65 42.74h1v0.98h-1zM178.68 42.74h1v0.98h-1zM174.66 43.72h1v0.98h-1zM179.69 43.72h1v0.98h-1zM172.66 44.7h1v0.98h-1zM175.67 44.7h1v0.98h-1zM177.68 44.7h1v0.98h-1zM170.65 45.67h1v0.98h-1zM174.66 45.67h2.01v0.98h-2.01zM177.68 45.67h1v0.98h-1zM169.64 46.65h1v0.98h-1zM174.66 46.65h1v0.98h-1zM179.69 46.65h1v0.98h-1z"/>
<path fill="#2b78d0" d="M154.58 28.1h1v0.98h-1zM179.69 28.1h1v0.98h-1zM179.69 29.08h1v0.98h-1zM181.7 31.03h1v0.98h-1zM181.7 33.96h1v0.98h-1zM148.55 36.89h1v0.98h-1zM181.7 36.89h1v0.98h-1zM180.69 37.86h1v0.98h-1zM153.57 39.81h1v0.98h-1zM153.57 40.79h1v0.98h-1zM180.69 40.79h1v0.98h-1zM152.57 42.74h1v0.98h-1zM180.69 43.72h1v0.98h-1zM180.69 45.67h1v0.98h-1zM180.69 46.65h1v0.98h-1z"/>
<path fill="#30c8b6" d="M155.58 28.1h1v0.98h-1zM157.59 28.1h2.01v0.98h-2.01zM161.61 28.1h1v0.98h-1zM163.62 28.1h2.01v0.98h-2.01zM170.65 28.1h1v0.98h-1zM175.67 28.1h1v0.98h-1zM137.5 29.08h4.02v0.98h-4.02zM147.54 29.08h5.02v0.98h-5.02zM157.59 29.08h2.01v0.98h-2.01zM162.61 29.08h2.01v0.98h-2.01zM174.66 29.08h1v0.98h-1zM175.67 30.05h1v0.98h-1zM171.65 31.03h1v0.98h-1zM173.66 32h1v0.98h-1zM179.69 32h1v0.98h-1zM173.66 32.98h1v0.98h-1zM177.68 32.98h2.01v0.98h-2.01zM166.63 33.96h1v0.98h-1zM177.68 33.96h1v0.98h-1zM179.69 33.96h1v0.98h-1zM137.5 34.93h1v0.98h-1zM141.52 34.93h2.01v0.98h-2.01zM145.54 34.93h1v0.98h-1zM165.62 34.93h1v0.98h-1zM176.67 34.93h1v0.98h-1zM179.69 34.93h1v0.98h-1zM152.57 35.91h1v0.98h-1zM168.64 37.86h1v0.98h-1zM178.68 37.86h2.01v0.98h-2.01zM174.66 38.84h1v0.98h-1zM176.67 38.84h1v0.98h-1zM178.68 38.84h2.01v0.98h-2.01zM154.58 39.81h1v0.98h-1zM172.66 39.81h2.01v0.98h-2.01zM176.67 39.81h2.01v0.98h-2.01zM179.69 39.81h1v0.98h-1zM166.63 40.79h1v0.98h-1zM172.66 40.79h2.01v0.98h-2.01zM176.67 40.79h1v0.98h-1zM173.66 41.77h1v0.98h-1zM178.68 41.77h1v0.98h-1zM154.58 42.74h1v0.98h-1zM159.6 42.74h1v0.98h-1zM164.62 42.74h2.01v0.98h-2.01zM168.64 42.74h2.01v0.98h-2.01zM171.65 42.74h1v0.98h-1zM173.66 42.74h1v0.98h-1zM162.61 43.72h5.02v0.98h-5.02zM172.66 43.72h2.01v0.98h-2.01zM174.66 44.7h1v0.98h-1zM154.58 45.67h1v0.98h-1zM162.61 45.67h1v0.98h-1zM165.62 45.67h3.01v0.98h-3.01zM173.66 45.67h1v0.98h-1zM157.59 46.65h1v0.98h-1zM161.61 46.65h1v0.98h-1zM166.63 46.65h1v0.98h-1zM175.67 46.65h2.01v0.98h-2.01z"/>
<path fill="#35d3a7" d="M156.58 28.1h1v0.98h-1zM162.61 28.1h1v0.98h-1zM167.63 28.1h1v0.98h-1zM177.68 28.1h1v0.98h-1zM152.57 29.08h2.01v0.98h-2.01zM160.6 29.08h2.01v0.98h-2.01zM171.65 30.05h1v0.98h-1zM164.62 31.03h1v0.98h-1zM170.65 31.03h1v0.98h-1zM178.68 31.03h2.01v0.98h-2.01zM170.65 32h2.01v0.98h-2.01zM174.66 32h1v0.98h-1zM177.68 32h1v0.98h-1zM174.66 32.98h1v0.98h-1zM176.67 32.98h1v0.98h-1zM179.69 32.98h1v0.98h-1zM165.62 33.96h1v0.98h-1zM171.65 33.96h1v0.98h-1zM173.66 33.96h2.01v0.98h-2.01zM178.68 33.96h1v0.98h-1zM138.5 34.93h3.01v0.98h-3.01zM146.54 34.93h1v0.98h-1zM164.62 34.93h1v0.98h-1zM166.63 34.93h1v0.98h-1zM175.67 34.93h1v0.98h-1zM149.55 35.91h2.01v0.98h-2.01zM154.58 35.91h1v0.98h-1zM171.65 35.91h1v0.98h-1zM176.67 35.91h1v0.98h-1zM173.66 36.89h1v0.98h-1zM175.67 36.89h1v0.98h-1zM167.63 37.86h1v0.98h-1zM169.64 37.86h1v0.98h-1zM172.66 37.86h1v0.98h-1zM175.67 37.86h1v0.98h-1zM172.66 38.84h1v0.98h-1zM175.67 38.84h1v0.98h-1zM177.68 38.84h1v0.98h-1zM171.65 39.81h1v0.98h-1zM174.66 39.81h1v0.98h-1zM167.63 40.79h3.01v0.98h-3.01zM177.68 40.79h1v0.98h-1zM166.63 41.77h1v0.98h-1zM168.64 41.77h1v0.98h-1zM170.65 41.77h1v0.98h-1zM172.66 41.77h1v0.98h-1zM176.67 41.77h1v0.98h-1zM155.58 42.74h1v0.98h-1zM158.59 42.74h1v0.98h-1zM162.61 42.74h1v0.98h-1zM155.58 43.72h1v0.98h-1zM178.68 43.72h1v0.98h-1zM154.58 44.7h1v0.98h-1zM162.61 44.7h5.02v0.98h-5.02zM161.61 45.67h1v0.98h-1zM171.65 45.67h2.01v0.98h-2.01zM154.58 46.65h1v0.98h-1zM156.58 46.65h1v0.98h-1zM173.66 46.65h1v0.98h-1z"/>
<path fill="#5dde79" d="M160.6 28.1h1v0.98h-1zM137.5 30.05h5.02v0.98h-5.02zM146.54 30.05h6.03v0.98h-6.03zM165.62 30.05h1v0.98h-1zM172.66 30.05h3.01v0.98h-3.01zM144.53 31.03h1v0.98h-1zM159.6 31.03h1v0.98h-1zM169.64 31.03h1v0.98h-1zM173.66 31.03h2.01v0.98h-2.01zM155.58 32h1v0.98h-1zM165.62 32h1v0.98h-1zM169.64 32h1v0.98h-1zM175.67 32h2.01v0.98h-2.01zM165.62 32.98h2.01v0.98h-2.01zM175.67 32.98h1v0.98h-1zM144.53 33.96h1v0.98h-1zM168.64 33.96h3.01v0.98h-3.01zM151.56 34.93h1v0.98h-1zM167.63 34.93h2.01v0.98h-2.01zM171.65 34.93h1v0.98h-1zM173.66 34.93h1v0.98h-1zM159.6 35.91h1v0.98h-1zM162.61 35.91h1v0.98h-1zM166.63 35.91h2.01v0.98h-2.01zM172.66 35.91h3.01v0.98h-3.01zM178.68 35.91h2.01v0.98h-2.01zM154.58 36.89h2.01v0.98h-2.01zM160.6 36.89h1v0.98h-1zM162.61 36.89h2.01v0.98h-2.01zM172.66 36.89h1v0.98h-1zM167.63 38.84h1v0.98h-1zM170.65 38.84h1v0.98h-1zM155.58 39.81h1v0.98h-1zM168.64 39.81h1v0.98h-1zM170.65 40.79h1v0.98h-1zM175.67 40.79h1v0.98h-1zM171.65 41.77h1v0.98h-1zM156.58 42.74h1v0.98h-1zM155.58 44.7h1v0.98h-1zM157.59 44.7h1v0.98h-1zM155.58 45.67h3.01v0.98h-3.01zM159.6 45.67h1v0.98h-1zM158.59 46.65h1v0.98h-1zM171.65 46.65h2.01v0.98h-2.01z"/>
<path fill="#2dbdc4" d="M168.64 28.1h2.01v0.98h-2.01zM171.65 28.1h2.01v0.98h-2.01zM174.66 28.1h1v0.98h-1zM141.52 29.08h6.03v0.98h-6.03zM154.58 29.08h1v0.98h-1zM165.62 29.08h1v0.98h-1zM167.63 29.08h2.01v0.98h-2.01zM173.66 29.08h1v0.98h-1zM176.67 29.08h2.01v0.98h-2.01zM178.68 30.05h2.01v0.98h-2.01zM172.66 33.96h1v0.98h-1zM143.53 34.93h2.01v0.98h-2.01zM177.68 34.93h2.01v0.98h-2.01zM180.69 34.93h1v0.98h-1zM148.55 35.91h1v0.98h-1zM153.57 35.91h1v0.98h-1zM173.66 37.86h1v0.98h-1zM173.66 38.84h1v0.98h-1zM179.69 41.77h1v0.98h-1zM163.62 42.74h1v0.98h-1zM166.63 42.74h1v0.98h-1zM174.66 42.74h3.01v0.98h-3.01zM169.64 43.72h1v0.98h-1zM176.67 43.72h2.01v0.98h-2.01zM173.66 44.7h1v0.98h-1zM178.68 44.7h1v0.98h-1zM176.67 45.67h1v0.98h-1zM178.68 45.67h1v0.98h-1zM167.63 46.65h2.01v0.98h-2.01zM170.65 46.65h1v0.98h-1zM177.68 46.65h2.01v0.98h-2.01z"/>
<path fill="#2a8ed5" d="M178.68 28.1h1v0.98h-1zM181.7 32h1v0.98h-1zM147.54 35.91h1v0.98h-1zM151.56 35.91h1v0.98h-1zM181.7 35.91h1v0.98h-1zM153.57 36.89h1v0.98h-1zM149.55 37.86h2.01v0.98h-2.01zM152.57 37.86h2.01v0.98h-2.01zM152.57 38.84h2.01v0.98h-2.01zM152.57 39.81h1v0.98h-1zM180.69 39.81h1v0.98h-1zM152.57 40.79h1v0.98h-1zM152.57 41.77h1v0.98h-1zM171.65 43.72h1v0.98h-1zM170.65 44.7h1v0.98h-1zM179.69 44.7h1v0.98h-1zM169.64 45.67h1v0.98h-1z"/>
<path fill="#273393" d="M180.69 28.1h1v0.98h-1zM141.52 37.86h1v0.98h-1zM140.51 38.84h2.01v0.98h-2.01zM148.55 38.84h1v0.98h-1zM151.56 38.84h1v0.98h-1zM139.51 39.81h2.01v0.98h-2.01zM146.54 39.81h2.01v0.98h-2.01zM149.55 39.81h3.01v0.98h-3.01zM151.56 40.79h1v0.98h-1zM146.54 41.77h1v0.98h-1zM149.55 41.77h1v0.98h-1zM151.56 41.77h1v0.98h-1zM139.51 42.74h1v0.98h-1zM145.54 42.74h1v0.98h-1zM141.52 43.72h1v0.98h-1zM145.54 43.72h1v0.98h-1zM147.54 43.72h1v0.98h-1zM137.5 44.7h1v0.98h-1zM144.53 44.7h2.01v0.98h-2.01zM151.56 44.7h1v0.98h-1zM144.53 45.67h3.01v0.98h-3.01zM138.5 46.65h1v0.98h-1zM141.52 46.65h1v0.98h-1zM147.54 46.65h1v0.98h-1z"/>
<path fill="#22186a" d="M181.7 28.1h1v0.98h-1zM181.7 29.08h1v0.98h-1zM137.5 36.89h3.01v0.98h-3.01zM142.52 36.89h1v0.98h-1zM144.53 36.89h1v0.98h-1zM137.5 37.86h1v0.98h-1zM139.51 37.86h1v0.98h-1zM142.52 37.86h1v0.98h-1zM145.54 37.86h1v0.98h-1zM138.5 38.84h1v0.98h-1zM142.52 38.84h1v0.98h-1zM145.54 38.84h1v0.98h-1zM138.5 39.81h1v0.98h-1zM144.53 39.81h2.01v0.98h-2.01zM141.52 40.79h1v0.98h-1zM144.53 40.79h1v0.98h-1zM137.5 41.77h3.01v0.98h-3.01zM141.52 41.77h3.01v0.98h-3.01zM150.56 41.77h1v0.98h-1zM137.5 42.74h2.01v0.98h-2.01zM142.52 42.74h1v0.98h-1zM138.5 43.72h1v0.98h-1zM142.52 43.72h1v0.98h-1zM146.54 43.72h1v0.98h-1zM148.55 44.7h1v0.98h-1zM141.52 45.67h1v0.98h-1zM137.5 47.62h45.2v0.98h-45.2z"/>
<path fill="#2c52bc" d="M180.69 29.08h1v0.98h-1zM139.51 35.91h1v0.98h-1zM142.52 35.91h1v0.98h-1zM144.53 35.91h3.01v0.98h-3.01zM141.52 36.89h1v0.98h-1zM151.56 36.89h1v0.98h-1zM148.55 37.86h1v0.98h-1zM181.7 37.86h1v0.98h-1zM150.56 38.84h1v0.98h-1zM181.7 39.81h1v0.98h-1zM148.55 40.79h1v0.98h-1zM181.7 40.79h1v0.98h-1zM148.55 41.77h1v0.98h-1zM139.51 43.72h2.01v0.98h-2.01zM139.51 44.7h2.01v0.98h-2.01zM153.57 44.7h1v0.98h-1zM180.69 44.7h2.01v0.98h-2.01zM139.51 45.67h1v0.98h-1zM151.56 45.67h2.01v0.98h-2.01zM181.7 45.67h1v0.98h-1zM139.51 46.65h1v0.98h-1zM150.56 46.65h1v0.98h-1zM153.57 46.65h1v0.98h-1zM181.7 46.65h1v0.98h-1z"/>
<path fill="#8ce654" d="M152.57 30.05h2.01v0.98h-2.01zM157.59 30.05h1v0.98h-1zM162.61 30.05h1v0.98h-1zM166.63 30.05h3.01v0.98h-3.01zM142.52 31.03h1v0.98h-1zM146.54 31.03h1v0.98h-1zM160.6 31.03h1v0.98h-1zM166.63 31.03h1v0.98h-1zM145.54 32h1v0.98h-1zM157.59 32h1v0.98h-1zM143.53 32.98h1v0.98h-1zM145.54 32.98h1v0.98h-1zM156.58 32.98h1v0.98h-1zM158.59 32.98h1v0.98h-1zM164.62 32.98h1v0.98h-1zM142.52 33.96h1v0.98h-1zM145.54 33.96h1v0.98h-1zM155.58 33.96h1v0.98h-1zM158.59 33.96h1v0.98h-1zM162.61 33.96h2.01v0.98h-2.01zM153.57 34.93h1v0.98h-1zM155.58 34.93h1v0.98h-1zM156.58 35.91h1v0.98h-1zM158.59 35.91h1v0.98h-1zM160.6 35.91h1v0.98h-1zM156.58 37.86h1v0.98h-1zM158.59 37.86h1v0.98h-1zM165.62 37.86h1v0.98h-1zM159.6 38.84h1v0.98h-1zM165.62 38.84h1v0.98h-1zM159.6 39.81h1v0.98h-1zM161.61 39.81h1v0.98h-1zM164.62 39.81h2.01v0.98h-2.01zM167.63 39.81h1v0.98h-1zM157.59 40.79h1v0.98h-1zM159.6 40.79h2.01v0.98h-2.01zM164.62 40.79h1v0.98h-1zM155.58 41.77h1v0.98h-1zM158.59 41.77h2.01v0.98h-2.01zM161.61 41.77h4.02v0.98h-4.02zM160.6 42.74h1v0.98h-1zM160.6 43.72h1v0.98h-1zM156.58 44.7h1v0.98h-1zM159.6 46.65h1v0.98h-1z"/>
<path fill="#71e462" d="M155.58 30.05h1v0.98h-1zM163.62 30.05h1v0.98h-1zM169.64 30.05h1v0.98h-1zM143.53 31.03h1v0.98h-1zM145.54 31.03h1v0.98h-1zM155.58 31.03h1v0.98h-1zM163.62 31.03h1v0.98h-1zM165.62 31.03h1v0.98h-1zM168.64 31.03h1v0.98h-1zM175.67 31.03h2.01v0.98h-2.01zM143.53 32h2.01v0.98h-2.01zM168.64 32h1v0.98h-1zM144.53 32.98h1v0.98h-1zM154.58 32.98h1v0.98h-1zM143.53 33.96h1v0.98h-1zM154.58 33.96h1v0.98h-1zM159.6 33.96h1v0.98h-1zM148.55 34.93h1v0.98h-1zM150.56 34.93h1v0.98h-1zM159.6 34.93h1v0.98h-1zM169.64 34.93h2.01v0.98h-2.01zM155.58 35.91h1v0.98h-1zM161.61 35.91h1v0.98h-1zM165.62 35.91h1v0.98h-1zM168.64 35.91h2.01v0.98h-2.01zM159.6 36.89h1v0.98h-1zM164.62 36.89h1v0.98h-1zM166.63 36.89h1v0.98h-1zM177.68 36.89h1v0.98h-1zM155.58 37.86h1v0.98h-1zM162.61 37.86h3.01v0.98h-3.01zM170.65 37.86h2.01v0.98h-2.01zM176.67 37.86h1v0.98h-1zM155.58 38.84h1v0.98h-1zM162.61 38.84h2.01v0.98h-2.01zM166.63 38.84h1v0.98h-1zM168.64 38.84h1v0.98h-1zM171.65 38.84h1v0.98h-1zM166.63 39.81h1v0.98h-1zM155.58 40.79h2.01v0.98h-2.01zM161.61 40.79h1v0.98h-1zM165.62 40.79h1v0.98h-1zM171.65 40.79h1v0.98h-1zM157.59 41.77h1v0.98h-1zM165.62 41.77h1v0.98h-1zM157.59 42.74h1v0.98h-1zM156.58 43.72h2.01v0.98h-2.01zM161.61 43.72h1v0.98h-1zM160.6 44.7h2.01v0.98h-2.01zM163.62 46.65h2.01v0.98h-2.01z"/>
<path fill="#abe64b" d="M156.58 30.05h1v0.98h-1zM158.59 30.05h4.02v0.98h-4.02zM137.5 31.03h2.01v0.98h-2.01zM140.51 31.03h2.01v0.98h-2.01zM147.54 31.03h5.02v0.98h-5.02zM156.58 31.03h2.01v0.98h-2.01zM161.61 31.03h2.01v0.98h-2.01zM142.52 32h1v0.98h-1zM156.58 32h1v0.98h-1zM158.59 32h2.01v0.98h-2.01zM163.62 32h1v0.98h-1zM157.59 32.98h1v0.98h-1zM162.61 32.98h2.01v0.98h-2.01zM161.61 33.96h1v0.98h-1zM149.55 34.93h1v0.98h-1zM152.57 34.93h1v0.98h-1zM158.59 34.93h1v0.98h-1zM160.6 34.93h2.01v0.98h-2.01zM157.59 35.91h1v0.98h-1zM156.58 36.89h3.01v0.98h-3.01zM165.62 36.89h1v0.98h-1zM157.59 37.86h1v0.98h-1zM159.6 37.86h1v0.98h-1zM161.61 37.86h1v0.98h-1zM158.59 38.84h1v0.98h-1zM164.62 38.84h1v0.98h-1zM156.58 39.81h3.01v0.98h-3.01zM160.6 39.81h1v0.98h-1zM162.61 39.81h2.01v0.98h-2.01zM158.59 40.79h1v0.98h-1zM156.58 41.77h1v0.98h-1zM161.61 42.74h1v0.98h-1z"/>
<path fill="#2c63ca" d="M181.7 30.05h1v0.98h-1zM149.55 38.84h1v0.98h-1zM180.69 38.84h1v0.98h-1zM153.57 41.77h1v0.98h-1zM181.7 41.77h1v0.98h-1zM153.57 42.74h1v0.98h-1zM152.57 43.72h2.01v0.98h-2.01zM137.5 46.65h1v0.98h-1zM151.56 46.65h2.01v0.98h-2.01z"/>
<path fill="#c9e642" d="M139.51 31.03h1v0.98h-1zM158.59 31.03h1v0.98h-1zM146.54 32h1v0.98h-1zM160.6 32h1v0.98h-1zM142.52 32.98h1v0.98h-1zM159.6 32.98h3.01v0.98h-3.01zM137.5 33.96h2.01v0.98h-2.01zM140.51 33.96h2.01v0.98h-2.01zM146.54 33.96h1v0.98h-1zM160.6 33.96h1v0.98h-1zM156.58 34.93h2.01v0.98h-2.01zM160.6 37.86h1v0.98h-1zM156.58 38.84h2.01v0.98h-2.01zM160.6 38.84h2.01v0.98h-2.01zM162.61 40.79h2.01v0.98h-2.01zM160.6 41.77h1v0.98h-1z"/>
<path fill="#e0da39" d="M152.57 31.03h2.01v0.98h-2.01zM137.5 32h1v0.98h-1zM141.52 32h1v0.98h-1zM147.54 32h1v0.98h-1zM161.61 32h2.01v0.98h-2.01zM146.54 32.98h1v0.98h-1zM139.51 33.96h1v0.98h-1zM147.54 33.96h1v0.98h-1zM156.58 33.96h1v0.98h-1z"/>
<path fill="#e9bd32" d="M138.5 32h3.01v0.98h-3.01zM148.55 32h4.02v0.98h-4.02zM137.5 32.98h1v0.98h-1zM141.52 32.98h1v0.98h-1zM151.56 33.96h1v0.98h-1zM157.59 33.96h1v0.98h-1z"/>
<path fill="#f29f2a" d="M152.57 32h2.01v0.98h-2.01zM138.5 32.98h3.01v0.98h-3.01zM147.54 32.98h1v0.98h-1zM151.56 32.98h1v0.98h-1zM148.55 33.96h1v0.98h-1zM150.56 33.96h1v0.98h-1zM153.57 33.96h1v0.98h-1z"/>
<path fill="#ed7b24" d="M148.55 32.98h1v0.98h-1zM150.56 32.98h1v0.98h-1zM153.57 32.98h1v0.98h-1zM149.55 33.96h1v0.98h-1zM152.57 33.96h1v0.98h-1z"/>
<path fill="#e2541f" d="M149.55 32.98h1v0.98h-1zM152.57 32.98h1v0.98h-1z"/>
<path fill="#2943a8" d="M137.5 35.91h2.01v0.98h-2.01zM140.51 35.91h1v0.98h-1zM143.53 35.91h1v0.98h-1zM147.54 36.89h1v0.98h-1zM151.56 37.86h1v0.98h-1zM181.7 38.84h1v0.98h-1zM148.55 39.81h1v0.98h-1zM146.54 40.79h2.01v0.98h-2.01zM149.55 40.79h1v0.98h-1zM147.54 41.77h1v0.98h-1zM140.51 42.74h1v0.98h-1zM147.54 42.74h2.01v0.98h-2.01zM181.7 42.74h1v0.98h-1zM181.7 43.72h1v0.98h-1zM150.56 44.7h1v0.98h-1zM152.57 44.7h1v0.98h-1zM137.5 45.67h1v0.98h-1zM140.51 45.67h1v0.98h-1zM150.56 45.67h1v0.98h-1zM153.57 45.67h1v0.98h-1zM140.51 46.65h1v0.98h-1zM143.53 46.65h4.02v0.98h-4.02z"/>
<path fill="#25247e" d="M140.51 36.89h1v0.98h-1zM143.53 36.89h1v0.98h-1zM145.54 36.89h2.01v0.98h-2.01zM140.51 37.86h1v0.98h-1zM143.53 37.86h1v0.98h-1zM146.54 37.86h2.01v0.98h-2.01zM137.5 38.84h1v0.98h-1zM139.51 38.84h1v0.98h-1zM143.53 38.84h1v0.98h-1zM146.54 38.84h2.01v0.98h-2.01zM137.5 39.81h1v0.98h-1zM141.52 39.81h3.01v0.98h-3.01zM137.5 40.79h4.02v0.98h-4.02zM142.52 40.79h2.01v0.98h-2.01zM145.54 40.79h1v0.98h-1zM150.56 40.79h1v0.98h-1zM140.51 41.77h1v0.98h-1zM144.53 41.77h2.01v0.98h-2.01zM141.52 42.74h1v0.98h-1zM143.53 42.74h2.01v0.98h-2.01zM146.54 42.74h1v0.98h-1zM149.55 42.74h3.01v0.98h-3.01zM137.5 43.72h1v0.98h-1zM143.53 43.72h2.01v0.98h-2.01zM148.55 43.72h4.02v0.98h-4.02zM138.5 44.7h1v0.98h-1zM141.52 44.7h3.01v0.98h-3.01zM146.54 44.7h2.01v0.98h-2.01zM149.55 44.7h1v0.98h-1zM138.5 45.67h1v0.98h-1zM142.52 45.67h2.01v0.98h-2.01zM147.54 45.67h3.01v0.98h-3.01zM142.52 46.65h1v0.98h-1zM148.55 46.65h2.01v0.98h-2.01z"/>
<path fill="#1e1357" d="M138.5 37.86h1v0.98h-1zM144.53 37.86h1v0.98h-1zM144.53 38.84h1v0.98h-1z"/></g>
<rect x="137.5" y="48.9" width="45.2" height="1.9" fill="#a898d8"/>
<rect x="137.5" y="50.8" width="45.2" height="0.6" fill="#111"/>
<g filter="url(#bl)" shape-rendering="crispEdges"><rect x="195.6" y="28.1" width="21.3" height="20.5" fill="#35d3a7"/>
<path fill="#2b78d0" d="M195.6 28.1h1.01v1.02h-1.01zM204.73 28.1h2.03v1.02h-2.03zM214.87 28.1h1.01v1.02h-1.01zM200.67 29.12h2.03v1.02h-2.03zM205.74 29.12h3.04v1.02h-3.04zM212.84 29.12h2.03v1.02h-2.03zM198.64 43.48h2.03v1.02h-2.03zM198.64 44.5h1.01v1.02h-1.01zM200.67 44.5h2.03v1.02h-2.03zM197.63 45.52h1.01v1.02h-1.01zM213.86 45.52h2.03v1.02h-2.03zM203.71 46.55h1.01v1.02h-1.01zM206.76 46.55h1.01v1.02h-1.01zM214.87 46.55h1.01v1.02h-1.01z"/>
<path fill="#2c63ca" d="M196.61 28.1h1.01v1.02h-1.01zM200.67 28.1h4.06v1.02h-4.06zM206.76 28.1h1.01v1.02h-1.01zM211.83 28.1h3.04v1.02h-3.04zM199.66 29.12h1.01v1.02h-1.01zM202.7 29.12h3.04v1.02h-3.04zM211.83 29.12h1.01v1.02h-1.01zM214.87 29.12h2.03v1.02h-2.03zM199.66 44.5h1.01v1.02h-1.01zM202.7 46.55h1.01v1.02h-1.01zM209.8 46.55h5.07v1.02h-5.07zM215.89 46.55h1.01v1.02h-1.01z"/>
<path fill="#2c52bc" d="M197.63 28.1h1.01v1.02h-1.01zM207.77 28.1h4.06v1.02h-4.06zM195.6 29.12h4.06v1.02h-4.06zM208.79 29.12h1.01v1.02h-1.01zM210.81 29.12h1.01v1.02h-1.01zM197.63 46.55h5.07v1.02h-5.07zM207.77 46.55h2.03v1.02h-2.03z"/>
<path fill="#2943a8" d="M198.64 28.1h2.03v1.02h-2.03zM209.8 29.12h1.01v1.02h-1.01zM195.6 46.55h2.03v1.02h-2.03z"/>
<path fill="#2a8ed5" d="M215.89 28.1h1.01v1.02h-1.01zM197.63 43.48h1.01v1.02h-1.01zM200.67 43.48h1.01v1.02h-1.01zM195.6 44.5h3.04v1.02h-3.04zM207.77 44.5h7.1v1.02h-7.1zM195.6 45.52h2.03v1.02h-2.03zM198.64 45.52h4.06v1.02h-4.06zM206.76 45.52h3.04v1.02h-3.04zM212.84 45.52h1.01v1.02h-1.01zM215.89 45.52h1.01v1.02h-1.01zM204.73 46.55h2.03v1.02h-2.03z"/>
<path fill="#2ab2d3" d="M195.6 30.15h3.04v1.02h-3.04zM202.7 30.15h7.1v1.02h-7.1zM211.83 30.15h1.01v1.02h-1.01zM214.87 30.15h1.01v1.02h-1.01zM208.79 31.18h1.01v1.02h-1.01zM215.89 31.18h1.01v1.02h-1.01zM207.77 40.4h1.01v1.02h-1.01zM211.83 42.45h1.01v1.02h-1.01zM203.71 43.48h4.06v1.02h-4.06zM211.83 43.48h4.06v1.02h-4.06zM203.71 44.5h2.03v1.02h-2.03zM215.89 44.5h1.01v1.02h-1.01zM203.71 45.52h2.03v1.02h-2.03zM210.81 45.52h1.01v1.02h-1.01z"/>
<path fill="#2dbdc4" d="M198.64 30.15h2.03v1.02h-2.03zM201.69 30.15h1.01v1.02h-1.01zM212.84 30.15h2.03v1.02h-2.03zM195.6 31.18h1.01v1.02h-1.01zM202.7 31.18h3.04v1.02h-3.04zM207.77 31.18h1.01v1.02h-1.01zM211.83 31.18h1.01v1.02h-1.01zM214.87 31.18h1.01v1.02h-1.01zM205.74 40.4h2.03v1.02h-2.03zM208.79 40.4h6.09v1.02h-6.09zM201.69 41.42h1.01v1.02h-1.01zM195.6 42.45h4.06v1.02h-4.06zM200.67 42.45h8.11v1.02h-8.11zM209.8 42.45h2.03v1.02h-2.03zM212.84 42.45h1.01v1.02h-1.01zM195.6 43.48h1.01v1.02h-1.01zM215.89 43.48h1.01v1.02h-1.01z"/>
<path fill="#30c8b6" d="M200.67 30.15h1.01v1.02h-1.01zM196.61 31.18h4.06v1.02h-4.06zM201.69 31.18h1.01v1.02h-1.01zM205.74 31.18h2.03v1.02h-2.03zM212.84 31.18h2.03v1.02h-2.03zM203.71 32.2h1.01v1.02h-1.01zM208.79 32.2h1.01v1.02h-1.01zM208.79 33.23h1.01v1.02h-1.01zM195.6 35.27h3.04v1.02h-3.04zM205.74 39.38h7.1v1.02h-7.1zM200.67 40.4h2.03v1.02h-2.03zM204.73 40.4h1.01v1.02h-1.01zM214.87 40.4h2.03v1.02h-2.03zM195.6 41.42h6.09v1.02h-6.09zM202.7 41.42h1.01v1.02h-1.01zM207.77 41.42h3.04v1.02h-3.04zM215.89 41.42h1.01v1.02h-1.01zM199.66 42.45h1.01v1.02h-1.01zM208.79 42.45h1.01v1.02h-1.01zM213.86 42.45h3.04v1.02h-3.04z"/>
<path fill="#28a3da" d="M209.8 30.15h2.03v1.02h-2.03zM215.89 30.15h1.01v1.02h-1.01zM209.8 31.18h2.03v1.02h-2.03zM196.61 43.48h1.01v1.02h-1.01zM201.69 43.48h2.03v1.02h-2.03zM207.77 43.48h4.06v1.02h-4.06zM202.7 44.5h1.01v1.02h-1.01zM205.74 44.5h2.03v1.02h-2.03zM214.87 44.5h1.01v1.02h-1.01zM202.7 45.52h1.01v1.02h-1.01zM205.74 45.52h1.01v1.02h-1.01zM209.8 45.52h1.01v1.02h-1.01zM211.83 45.52h1.01v1.02h-1.01z"/>
<path fill="#49d990" d="M195.6 32.2h1.01v1.02h-1.01zM200.67 32.2h2.03v1.02h-2.03zM211.83 32.2h2.03v1.02h-2.03zM215.89 32.2h1.01v1.02h-1.01zM201.69 33.23h1.01v1.02h-1.01zM204.73 33.23h3.04v1.02h-3.04zM214.87 33.23h2.03v1.02h-2.03zM196.61 34.25h2.03v1.02h-2.03zM210.81 34.25h2.03v1.02h-2.03zM199.66 35.27h1.01v1.02h-1.01zM214.87 35.27h1.01v1.02h-1.01zM195.6 36.3h1.01v1.02h-1.01zM197.63 36.3h1.01v1.02h-1.01zM202.7 37.33h1.01v1.02h-1.01zM204.73 37.33h2.03v1.02h-2.03zM208.79 37.33h2.03v1.02h-2.03zM214.87 37.33h2.03v1.02h-2.03zM198.64 38.35h6.09v1.02h-6.09zM207.77 38.35h1.01v1.02h-1.01zM200.67 39.38h1.01v1.02h-1.01zM203.71 39.38h1.01v1.02h-1.01zM214.87 39.38h1.01v1.02h-1.01zM197.63 40.4h2.03v1.02h-2.03zM205.74 41.42h1.01v1.02h-1.01z"/>
<path fill="#5dde79" d="M196.61 32.2h2.03v1.02h-2.03zM213.86 32.2h2.03v1.02h-2.03zM195.6 33.23h4.06v1.02h-4.06zM200.67 33.23h1.01v1.02h-1.01zM195.6 34.25h1.01v1.02h-1.01zM198.64 34.25h1.01v1.02h-1.01zM203.71 34.25h2.03v1.02h-2.03zM208.79 34.25h2.03v1.02h-2.03zM215.89 34.25h1.01v1.02h-1.01zM200.67 35.27h4.06v1.02h-4.06zM208.79 35.27h1.01v1.02h-1.01zM211.83 35.27h1.01v1.02h-1.01zM198.64 36.3h1.01v1.02h-1.01zM215.89 36.3h1.01v1.02h-1.01zM195.6 37.33h1.01v1.02h-1.01zM200.67 37.33h2.03v1.02h-2.03zM206.76 37.33h2.03v1.02h-2.03zM212.84 37.33h2.03v1.02h-2.03zM196.61 38.35h2.03v1.02h-2.03zM204.73 38.35h3.04v1.02h-3.04zM208.79 38.35h2.03v1.02h-2.03zM211.83 38.35h4.06v1.02h-4.06zM201.69 39.38h2.03v1.02h-2.03zM215.89 39.38h1.01v1.02h-1.01z"/>
<path fill="#71e462" d="M199.66 33.23h1.01v1.02h-1.01zM199.66 34.25h1.01v1.02h-1.01zM201.69 34.25h2.03v1.02h-2.03zM205.74 34.25h3.04v1.02h-3.04zM212.84 34.25h3.04v1.02h-3.04zM204.73 35.27h4.06v1.02h-4.06zM212.84 35.27h2.03v1.02h-2.03zM199.66 36.3h1.01v1.02h-1.01zM202.7 36.3h8.11v1.02h-8.11zM214.87 36.3h1.01v1.02h-1.01zM196.61 37.33h4.06v1.02h-4.06zM210.81 37.33h2.03v1.02h-2.03zM195.6 38.35h1.01v1.02h-1.01zM210.81 38.35h1.01v1.02h-1.01zM215.89 38.35h1.01v1.02h-1.01z"/>
<path fill="#8ce654" d="M200.67 34.25h1.01v1.02h-1.01zM200.67 36.3h2.03v1.02h-2.03zM210.81 36.3h4.06v1.02h-4.06z"/>
<path fill="#1a0f45" d="M195.6 47.58h3.04v1.02h-3.04z"/>
<path fill="#1e1357" d="M198.64 47.58h1.01v1.02h-1.01zM204.73 47.58h2.03v1.02h-2.03zM208.79 47.58h2.03v1.02h-2.03z"/>
<path fill="#22186a" d="M199.66 47.58h1.01v1.02h-1.01zM203.71 47.58h1.01v1.02h-1.01zM206.76 47.58h2.03v1.02h-2.03zM210.81 47.58h4.06v1.02h-4.06z"/>
<path fill="#25247e" d="M200.67 47.58h1.01v1.02h-1.01zM202.7 47.58h1.01v1.02h-1.01zM214.87 47.58h1.01v1.02h-1.01z"/>
<path fill="#273393" d="M201.69 47.58h1.01v1.02h-1.01zM215.89 47.58h1.01v1.02h-1.01z"/></g>
<rect x="195.6" y="48.9" width="21.3" height="1.9" fill="#a898d8"/>
<rect x="195.6" y="50.8" width="21.3" height="0.6" fill="#111"/>
<g filter="url(#bl)" shape-rendering="crispEdges"><rect x="224" y="28.1" width="21" height="20.5" fill="#30c8b6"/>
<path fill="#2a8ed5" d="M224 28.1h2v1.02h-2zM227 28.1h2v1.02h-2zM243 28.1h2v1.02h-2zM230 29.12h5v1.02h-5zM236 29.12h1v1.02h-1zM244 29.12h1v1.02h-1zM224 33.23h1v1.02h-1zM227 33.23h1v1.02h-1zM226 44.5h2v1.02h-2zM229 44.5h1v1.02h-1zM240 46.55h2v1.02h-2z"/>
<path fill="#2b78d0" d="M226 28.1h1v1.02h-1zM229 28.1h1v1.02h-1zM237 28.1h3v1.02h-3zM242 28.1h1v1.02h-1zM224 29.12h6v1.02h-6zM235 29.12h1v1.02h-1zM225 33.23h2v1.02h-2zM225 44.5h1v1.02h-1zM230 44.5h2v1.02h-2z"/>
<path fill="#2c63ca" d="M230 28.1h1v1.02h-1zM232 28.1h5v1.02h-5zM240 28.1h2v1.02h-2zM225 43.48h6v1.02h-6zM238 43.48h7v1.02h-7zM224 44.5h1v1.02h-1zM232 44.5h2v1.02h-2z"/>
<path fill="#2c52bc" d="M231 28.1h1v1.02h-1zM224 43.48h1v1.02h-1zM231 43.48h1v1.02h-1zM233 43.48h5v1.02h-5zM234 44.5h2v1.02h-2zM241 44.5h2v1.02h-2z"/>
<path fill="#28a3da" d="M237 29.12h1v1.02h-1zM240 29.12h4v1.02h-4zM232 33.23h1v1.02h-1zM242 33.23h2v1.02h-2zM229 34.25h2v1.02h-2zM234 34.25h1v1.02h-1zM228 35.27h1v1.02h-1zM230 37.33h2v1.02h-2zM233 41.42h1v1.02h-1zM228 44.5h1v1.02h-1zM230 46.55h1v1.02h-1zM242 46.55h1v1.02h-1z"/>
<path fill="#2ab2d3" d="M238 29.12h2v1.02h-2zM228 32.2h1v1.02h-1zM244 32.2h1v1.02h-1zM228 33.23h1v1.02h-1zM231 33.23h1v1.02h-1zM233 33.23h2v1.02h-2zM240 33.23h2v1.02h-2zM244 33.23h1v1.02h-1zM225 34.25h4v1.02h-4zM231 34.25h1v1.02h-1zM233 34.25h1v1.02h-1zM235 34.25h1v1.02h-1zM227 35.27h1v1.02h-1zM229 35.27h1v1.02h-1zM244 36.3h1v1.02h-1zM228 37.33h2v1.02h-2zM232 37.33h1v1.02h-1zM224 38.35h2v1.02h-2zM230 38.35h2v1.02h-2zM236 38.35h3v1.02h-3zM244 38.35h1v1.02h-1zM224 39.38h2v1.02h-2zM231 39.38h1v1.02h-1zM244 39.38h1v1.02h-1zM232 41.42h1v1.02h-1zM234 41.42h1v1.02h-1zM239 41.42h1v1.02h-1zM243 41.42h2v1.02h-2zM231 42.45h1v1.02h-1zM241 42.45h4v1.02h-4zM232 45.52h2v1.02h-2zM239 45.52h6v1.02h-6zM228 46.55h2v1.02h-2zM231 46.55h2v1.02h-2zM239 46.55h1v1.02h-1zM243 46.55h1v1.02h-1z"/>
<path fill="#49d990" d="M224 30.15h5v1.02h-5zM241 30.15h1v1.02h-1zM226 31.18h1v1.02h-1zM228 31.18h4v1.02h-4zM236 31.18h1v1.02h-1zM241 31.18h2v1.02h-2zM224 36.3h2v1.02h-2zM231 36.3h1v1.02h-1zM234 36.3h1v1.02h-1zM240 36.3h1v1.02h-1zM228 41.42h2v1.02h-2zM224 45.52h2v1.02h-2z"/>
<path fill="#35d3a7" d="M229 30.15h2v1.02h-2zM233 30.15h1v1.02h-1zM236 30.15h5v1.02h-5zM225 31.18h1v1.02h-1zM227 31.18h1v1.02h-1zM232 31.18h4v1.02h-4zM243 31.18h2v1.02h-2zM233 32.2h3v1.02h-3zM238 34.25h1v1.02h-1zM232 35.27h2v1.02h-2zM236 35.27h4v1.02h-4zM226 36.3h2v1.02h-2zM230 36.3h1v1.02h-1zM241 36.3h1v1.02h-1zM234 37.33h1v1.02h-1zM244 37.33h1v1.02h-1zM225 40.4h7v1.02h-7zM234 40.4h3v1.02h-3zM239 40.4h3v1.02h-3zM227 41.42h1v1.02h-1zM230 41.42h1v1.02h-1zM236 42.45h1v1.02h-1zM226 45.52h4v1.02h-4zM235 45.52h3v1.02h-3zM224 46.55h2v1.02h-2z"/>
<path fill="#5dde79" d="M242 30.15h3v1.02h-3zM237 31.18h4v1.02h-4zM232 36.3h2v1.02h-2zM235 36.3h5v1.02h-5z"/>
<path fill="#2dbdc4" d="M224 32.2h4v1.02h-4zM229 32.2h1v1.02h-1zM238 32.2h3v1.02h-3zM243 32.2h1v1.02h-1zM229 33.23h2v1.02h-2zM235 33.23h1v1.02h-1zM239 33.23h1v1.02h-1zM224 34.25h1v1.02h-1zM232 34.25h1v1.02h-1zM236 34.25h1v1.02h-1zM240 34.25h4v1.02h-4zM226 35.27h1v1.02h-1zM230 35.27h1v1.02h-1zM243 36.3h1v1.02h-1zM224 37.33h1v1.02h-1zM227 37.33h1v1.02h-1zM237 37.33h3v1.02h-3zM241 37.33h2v1.02h-2zM226 38.35h2v1.02h-2zM229 38.35h1v1.02h-1zM232 38.35h1v1.02h-1zM235 38.35h1v1.02h-1zM239 38.35h1v1.02h-1zM242 38.35h2v1.02h-2zM226 39.38h2v1.02h-2zM230 39.38h1v1.02h-1zM232 39.38h1v1.02h-1zM239 39.38h3v1.02h-3zM225 41.42h1v1.02h-1zM231 41.42h1v1.02h-1zM235 41.42h2v1.02h-2zM238 41.42h1v1.02h-1zM240 41.42h1v1.02h-1zM226 42.45h5v1.02h-5zM232 42.45h3v1.02h-3zM239 42.45h2v1.02h-2zM231 45.52h1v1.02h-1zM227 46.55h1v1.02h-1zM233 46.55h1v1.02h-1zM237 46.55h2v1.02h-2zM244 46.55h1v1.02h-1z"/>
<path fill="#2943a8" d="M232 43.48h1v1.02h-1zM236 44.5h1v1.02h-1zM239 44.5h2v1.02h-2zM243 44.5h2v1.02h-2z"/>
<path fill="#273393" d="M237 44.5h2v1.02h-2zM238 47.58h2v1.02h-2z"/>
<path fill="#25247e" d="M224 47.58h5v1.02h-5zM232 47.58h2v1.02h-2zM237 47.58h1v1.02h-1zM244 47.58h1v1.02h-1z"/>
<path fill="#22186a" d="M229 47.58h3v1.02h-3zM234 47.58h3v1.02h-3zM240 47.58h1v1.02h-1zM243 47.58h1v1.02h-1z"/>
<path fill="#1e1357" d="M241 47.58h2v1.02h-2z"/></g>
<rect x="224" y="48.9" width="21" height="1.9" fill="#a898d8"/>
<rect x="224" y="50.8" width="21" height="0.6" fill="#111"/>
<g filter="url(#bl)" shape-rendering="crispEdges"><rect x="252.2" y="28.1" width="21" height="20.5" fill="#2c52bc"/>
<path fill="#2c63ca" d="M253.2 28.1h1v1.02h-1zM260.2 28.1h4v1.02h-4zM268.2 28.1h1v1.02h-1zM252.2 29.12h2v1.02h-2zM257.2 29.12h1v1.02h-1zM261.2 29.12h3v1.02h-3zM265.2 29.12h1v1.02h-1zM252.2 37.33h1v1.02h-1zM255.2 37.33h1v1.02h-1zM262.2 37.33h3v1.02h-3zM266.2 37.33h1v1.02h-1zM271.2 37.33h1v1.02h-1zM261.2 38.35h1v1.02h-1zM256.2 39.38h1v1.02h-1zM260.2 39.38h2v1.02h-2zM266.2 39.38h2v1.02h-2zM257.2 40.4h3v1.02h-3zM265.2 40.4h1v1.02h-1zM256.2 41.42h1v1.02h-1zM259.2 41.42h1v1.02h-1zM262.2 41.42h1v1.02h-1zM268.2 41.42h1v1.02h-1zM266.2 42.45h4v1.02h-4z"/>
<path fill="#2b78d0" d="M254.2 28.1h6v1.02h-6zM269.2 28.1h4v1.02h-4zM254.2 29.12h1v1.02h-1zM256.2 29.12h1v1.02h-1zM258.2 29.12h3v1.02h-3zM266.2 29.12h1v1.02h-1zM271.2 29.12h2v1.02h-2zM256.2 37.33h3v1.02h-3zM261.2 37.33h1v1.02h-1zM265.2 37.33h1v1.02h-1zM272.2 37.33h1v1.02h-1zM259.2 38.35h2v1.02h-2zM266.2 40.4h2v1.02h-2zM257.2 41.42h2v1.02h-2zM263.2 41.42h3v1.02h-3zM267.2 41.42h1v1.02h-1z"/>
<path fill="#2a8ed5" d="M255.2 29.12h1v1.02h-1zM267.2 29.12h1v1.02h-1zM270.2 29.12h1v1.02h-1zM259.2 37.33h2v1.02h-2zM266.2 41.42h1v1.02h-1z"/>
<path fill="#28a3da" d="M268.2 29.12h1v1.02h-1zM254.2 30.15h1v1.02h-1zM272.2 30.15h1v1.02h-1zM269.2 36.3h1v1.02h-1z"/>
<path fill="#2ab2d3" d="M269.2 29.12h1v1.02h-1zM255.2 30.15h2v1.02h-2zM271.2 30.15h1v1.02h-1zM252.2 32.2h1v1.02h-1zM252.2 36.3h6v1.02h-6zM263.2 36.3h1v1.02h-1zM268.2 36.3h1v1.02h-1zM270.2 36.3h3v1.02h-3z"/>
<path fill="#30c8b6" d="M252.2 30.15h1v1.02h-1zM258.2 30.15h1v1.02h-1zM267.2 30.15h1v1.02h-1zM252.2 31.18h1v1.02h-1zM258.2 31.18h3v1.02h-3zM262.2 31.18h1v1.02h-1zM266.2 31.18h1v1.02h-1zM271.2 31.18h1v1.02h-1zM255.2 32.2h1v1.02h-1zM260.2 32.2h1v1.02h-1zM263.2 32.2h1v1.02h-1zM265.2 32.2h1v1.02h-1zM271.2 32.2h1v1.02h-1zM254.2 35.27h1v1.02h-1zM256.2 35.27h1v1.02h-1zM259.2 36.3h1v1.02h-1z"/>
<path fill="#2dbdc4" d="M253.2 30.15h1v1.02h-1zM257.2 30.15h1v1.02h-1zM259.2 30.15h8v1.02h-8zM270.2 30.15h1v1.02h-1zM253.2 31.18h5v1.02h-5zM263.2 31.18h3v1.02h-3zM272.2 31.18h1v1.02h-1zM253.2 32.2h2v1.02h-2zM264.2 32.2h1v1.02h-1zM255.2 35.27h1v1.02h-1zM258.2 36.3h1v1.02h-1zM262.2 36.3h1v1.02h-1zM264.2 36.3h4v1.02h-4z"/>
<path fill="#35d3a7" d="M268.2 30.15h2v1.02h-2zM261.2 31.18h1v1.02h-1zM267.2 31.18h1v1.02h-1zM269.2 31.18h2v1.02h-2zM256.2 32.2h4v1.02h-4zM261.2 32.2h2v1.02h-2zM266.2 32.2h1v1.02h-1zM270.2 32.2h1v1.02h-1zM272.2 32.2h1v1.02h-1zM252.2 35.27h2v1.02h-2zM257.2 35.27h1v1.02h-1zM264.2 35.27h1v1.02h-1zM268.2 35.27h4v1.02h-4zM260.2 36.3h2v1.02h-2z"/>
<path fill="#49d990" d="M268.2 31.18h1v1.02h-1zM262.2 35.27h2v1.02h-2zM265.2 35.27h1v1.02h-1zM267.2 35.27h1v1.02h-1zM272.2 35.27h1v1.02h-1z"/>
<path fill="#5dde79" d="M267.2 32.2h1v1.02h-1zM269.2 32.2h1v1.02h-1zM258.2 35.27h4v1.02h-4zM266.2 35.27h1v1.02h-1z"/>
<path fill="#71e462" d="M268.2 32.2h1v1.02h-1z"/>
<path fill="#abe64b" d="M252.2 33.23h2v1.02h-2z"/>
<path fill="#c9e642" d="M254.2 33.23h1v1.02h-1zM260.2 33.23h2v1.02h-2zM252.2 34.25h3v1.02h-3z"/>
<path fill="#e0da39" d="M255.2 33.23h2v1.02h-2zM259.2 33.23h1v1.02h-1zM262.2 33.23h1v1.02h-1zM255.2 34.25h2v1.02h-2z"/>
<path fill="#e9bd32" d="M257.2 33.23h2v1.02h-2zM257.2 34.25h6v1.02h-6z"/>
<path fill="#ed7b24" d="M263.2 33.23h3v1.02h-3zM267.2 33.23h1v1.02h-1zM270.2 33.23h1v1.02h-1zM267.2 34.25h1v1.02h-1zM271.2 34.25h1v1.02h-1z"/>
<path fill="#f29f2a" d="M266.2 33.23h1v1.02h-1zM271.2 33.23h2v1.02h-2zM272.2 34.25h1v1.02h-1z"/>
<path fill="#e2541f" d="M268.2 33.23h2v1.02h-2zM263.2 34.25h2v1.02h-2zM266.2 34.25h1v1.02h-1zM268.2 34.25h1v1.02h-1zM270.2 34.25h1v1.02h-1z"/>
<path fill="#d72d19" d="M265.2 34.25h1v1.02h-1zM269.2 34.25h1v1.02h-1z"/>
<path fill="#273393" d="M252.2 38.35h3v1.02h-3zM252.2 39.38h2v1.02h-2zM270.2 39.38h2v1.02h-2zM252.2 40.4h1v1.02h-1zM271.2 40.4h1v1.02h-1zM253.2 41.42h1v1.02h-1zM253.2 42.45h1v1.02h-1zM253.2 43.48h1v1.02h-1zM259.2 43.48h1v1.02h-1zM253.2 44.5h1v1.02h-1zM259.2 44.5h1v1.02h-1zM265.2 44.5h1v1.02h-1zM269.2 44.5h2v1.02h-2zM253.2 45.52h1v1.02h-1zM255.2 45.52h1v1.02h-1zM259.2 45.52h1v1.02h-1zM269.2 45.52h1v1.02h-1zM254.2 46.55h2v1.02h-2zM258.2 46.55h3v1.02h-3z"/>
<path fill="#2943a8" d="M255.2 38.35h3v1.02h-3zM264.2 38.35h2v1.02h-2zM269.2 38.35h3v1.02h-3zM254.2 39.38h1v1.02h-1zM258.2 39.38h1v1.02h-1zM269.2 39.38h1v1.02h-1zM272.2 39.38h1v1.02h-1zM256.2 40.4h1v1.02h-1zM260.2 40.4h4v1.02h-4zM269.2 40.4h2v1.02h-2zM254.2 41.42h1v1.02h-1zM269.2 41.42h4v1.02h-4zM254.2 42.45h1v1.02h-1zM260.2 42.45h3v1.02h-3zM271.2 42.45h2v1.02h-2zM254.2 43.48h1v1.02h-1zM257.2 43.48h2v1.02h-2zM264.2 43.48h1v1.02h-1zM266.2 43.48h1v1.02h-1zM269.2 43.48h3v1.02h-3zM254.2 44.5h1v1.02h-1zM266.2 44.5h3v1.02h-3zM271.2 44.5h1v1.02h-1zM252.2 45.52h1v1.02h-1zM256.2 45.52h1v1.02h-1zM270.2 45.52h1v1.02h-1zM253.2 46.55h1v1.02h-1zM256.2 46.55h2v1.02h-2z"/>
<path fill="#25247e" d="M253.2 40.4h1v1.02h-1zM255.2 40.4h1v1.02h-1zM272.2 40.4h1v1.02h-1zM252.2 41.42h1v1.02h-1zM252.2 42.45h1v1.02h-1zM252.2 43.48h1v1.02h-1zM260.2 43.48h4v1.02h-4zM252.2 44.5h1v1.02h-1zM260.2 44.5h1v1.02h-1zM264.2 44.5h1v1.02h-1zM254.2 45.52h1v1.02h-1zM260.2 45.52h4v1.02h-4zM266.2 45.52h3v1.02h-3zM271.2 45.52h1v1.02h-1zM261.2 46.55h2v1.02h-2zM265.2 46.55h3v1.02h-3z"/>
<path fill="#22186a" d="M254.2 40.4h1v1.02h-1zM261.2 44.5h3v1.02h-3zM264.2 45.52h2v1.02h-2zM272.2 45.52h1v1.02h-1zM263.2 46.55h2v1.02h-2zM268.2 46.55h5v1.02h-5zM252.2 47.58h21v1.02h-21z"/></g>
<rect x="252.2" y="48.9" width="21" height="1.9" fill="#a898d8"/>
<rect x="252.2" y="50.8" width="21" height="0.6" fill="#111"/>
<g filter="url(#bl2)" shape-rendering="crispEdges"><rect x="114" y="51.3" width="18.6" height="76.1" fill="#222222"/>
<path fill="#aaaaaa" d="M118.89 51.3h0.98v1h-0.98zM122.81 56.31h0.98v1h-0.98zM116.94 57.31h0.98v1h-0.98zM128.68 59.31h3.92v1h-3.92zM114 60.31h1.96v1h-1.96zM120.85 66.32h1.96v1h-1.96zM127.71 67.32h0.98v1h-0.98zM126.73 68.32h0.98v1h-0.98zM121.83 75.33h0.98v1h-0.98zM114.98 83.34h6.85v1h-6.85zM121.83 88.35h0.98v1h-0.98zM114.98 98.36h1.96v1h-1.96zM116.94 104.37h0.98v1h-0.98zM119.87 111.38h0.98v1h-0.98zM118.89 112.38h0.98v1h-0.98zM126.73 115.38h0.98v1h-0.98zM120.85 123.39h0.98v1h-0.98z"/>
<path fill="#333333" d="M122.81 51.3h0.98v1h-0.98zM125.75 51.3h5.87v1h-5.87zM126.73 57.31h0.98v1h-0.98zM126.73 62.31h0.98v1h-0.98zM125.75 63.32h6.85v1h-6.85zM129.66 64.32h2.94v1h-2.94zM119.87 67.32h6.85v1h-6.85zM128.68 67.32h2.94v1h-2.94zM120.85 68.32h5.87v1h-5.87zM119.87 75.33h1.96v1h-1.96zM122.81 75.33h0.98v1h-0.98zM114.98 80.34h1.96v1h-1.96zM122.81 80.34h1.96v1h-1.96zM114.98 81.34h2.94v1h-2.94zM119.87 84.34h5.87v1h-5.87zM115.96 85.34h0.98v1h-0.98zM118.89 85.34h5.87v1h-5.87zM122.81 88.35h4.89v1h-4.89zM116.94 92.35h6.85v1h-6.85zM114.98 93.36h1.96v1h-1.96zM121.83 96.36h0.98v1h-0.98zM126.73 100.36h1.96v1h-1.96zM118.89 104.37h2.94v1h-2.94zM128.68 104.37h0.98v1h-0.98zM122.81 106.37h0.98v1h-0.98zM127.71 106.37h3.92v1h-3.92zM116.94 107.37h5.87v1h-5.87zM126.73 109.38h4.89v1h-4.89zM120.85 111.38h2.94v1h-2.94zM128.68 113.38h3.92v1h-3.92zM128.68 114.38h3.92v1h-3.92zM114.98 117.39h2.94v1h-2.94zM120.85 118.39h3.92v1h-3.92zM116.94 124.4h3.92v1h-3.92zM122.81 124.4h1.96v1h-1.96zM116.94 125.4h1.96v1h-1.96z"/>
<path fill="#888888" d="M118.89 52.3h0.98v1h-0.98zM127.71 68.32h0.98v1h-0.98zM115.96 71.33h1.96v1h-1.96zM129.66 73.33h0.98v1h-0.98zM123.79 75.33h0.98v1h-0.98zM125.75 75.33h4.89v1h-4.89zM115.96 77.33h0.98v1h-0.98zM123.79 82.34h6.85v1h-6.85zM121.83 83.34h0.98v1h-0.98zM116.94 85.34h0.98v1h-0.98zM120.85 88.35h0.98v1h-0.98zM122.81 95.36h0.98v1h-0.98zM125.75 95.36h0.98v1h-0.98zM128.68 97.36h0.98v1h-0.98zM123.79 100.36h0.98v1h-0.98zM114.98 103.37h1.96v1h-1.96zM118.89 103.37h1.96v1h-1.96zM114 108.38h2.94v1h-2.94zM119.87 109.38h0.98v1h-0.98zM122.81 109.38h0.98v1h-0.98zM121.83 110.38h0.98v1h-0.98zM115.96 111.38h2.94v1h-2.94zM124.77 113.38h3.92v1h-3.92zM116.94 114.38h3.92v1h-3.92zM127.71 118.39h1.96v1h-1.96zM126.73 119.39h0.98v1h-0.98zM126.73 123.39h0.98v1h-0.98zM130.64 126.4h1.96v1h-1.96z"/>
<path fill="#555555" d="M119.87 52.3h0.98v1h-0.98zM123.79 96.36h0.98v1h-0.98zM125.75 96.36h1.96v1h-1.96zM124.77 106.37h0.98v1h-0.98zM123.79 107.37h0.98v1h-0.98zM128.68 119.39h0.98v1h-0.98z"/>
<path fill="#444444" d="M120.85 52.3h2.94v1h-2.94zM118.89 84.34h0.98v1h-0.98zM125.75 107.37h1.96v1h-1.96zM129.66 108.38h0.98v1h-0.98zM118.89 125.4h6.85v1h-6.85z"/>
<path fill="#dddddd" d="M116.94 56.31h0.98v1h-0.98zM114 59.31h0.98v1h-0.98zM114 63.32h0.98v1h-0.98zM126.73 67.32h0.98v1h-0.98zM115.96 70.33h0.98v1h-0.98zM117.92 74.33h0.98v1h-0.98zM120.85 82.34h0.98v1h-0.98zM120.85 87.35h0.98v1h-0.98zM124.77 93.36h1.96v1h-1.96zM119.87 108.38h0.98v1h-0.98zM118.89 119.39h0.98v1h-0.98z"/>
<path fill="#cccccc" d="M119.87 56.31h2.94v1h-2.94zM124.77 57.31h1.96v1h-1.96zM114.98 59.31h0.98v1h-0.98zM120.85 65.32h0.98v1h-0.98zM115.96 72.33h1.96v1h-1.96zM127.71 81.34h4.89v1h-4.89zM121.83 82.34h0.98v1h-0.98zM121.83 87.35h0.98v1h-0.98zM127.71 96.36h0.98v1h-0.98zM127.71 98.36h4.89v1h-4.89zM123.79 99.36h0.98v1h-0.98zM116.94 103.37h1.96v1h-1.96zM128.68 105.37h3.92v1h-3.92zM120.85 108.38h0.98v1h-0.98zM121.83 109.38h0.98v1h-0.98zM118.89 111.38h0.98v1h-0.98zM126.73 114.38h0.98v1h-0.98zM119.87 115.38h5.87v1h-5.87zM125.75 119.39h0.98v1h-0.98zM117.92 120.39h0.98v1h-0.98z"/>
<path fill="#999999" d="M117.92 57.31h0.98v1h-0.98zM114 61.31h0.98v1h-0.98zM127.71 62.31h1.96v1h-1.96zM114.98 63.32h0.98v1h-0.98zM114.98 64.32h0.98v1h-0.98zM128.68 73.33h0.98v1h-0.98zM125.75 74.33h0.98v1h-0.98zM118.89 75.33h0.98v1h-0.98zM124.77 75.33h0.98v1h-0.98zM116.94 84.34h0.98v1h-0.98zM114.98 90.35h3.92v1h-3.92zM127.71 97.36h0.98v1h-0.98zM124.77 100.36h0.98v1h-0.98zM121.83 104.37h6.85v1h-6.85zM118.89 110.38h0.98v1h-0.98zM126.73 120.39h0.98v1h-0.98zM118.89 122.39h0.98v1h-0.98zM120.85 124.4h0.98v1h-0.98z"/>
<path fill="#666666" d="M114.98 61.31h0.98v1h-0.98zM129.66 74.33h0.98v1h-0.98zM121.83 76.33h1.96v1h-1.96zM116.94 78.34h0.98v1h-0.98zM123.79 95.36h0.98v1h-0.98zM126.73 95.36h0.98v1h-0.98zM122.81 96.36h0.98v1h-0.98zM124.77 107.37h0.98v1h-0.98zM128.68 108.38h0.98v1h-0.98zM119.87 122.39h0.98v1h-0.98zM127.71 123.39h0.98v1h-0.98zM127.71 124.4h0.98v1h-0.98z"/>
<path fill="#bbbbbb" d="M122.81 63.32h1.96v1h-1.96zM114 64.32h0.98v1h-0.98zM121.83 65.32h0.98v1h-0.98zM118.89 74.33h0.98v1h-0.98zM124.77 74.33h0.98v1h-0.98zM117.92 75.33h0.98v1h-0.98zM125.75 84.34h1.96v1h-1.96zM124.77 94.36h0.98v1h-0.98zM128.68 96.36h3.92v1h-3.92zM124.77 99.36h0.98v1h-0.98zM117.92 106.37h4.89v1h-4.89zM127.71 114.38h0.98v1h-0.98zM118.89 120.39h0.98v1h-0.98zM121.83 120.39h4.89v1h-4.89zM118.89 121.39h0.98v1h-0.98zM130.64 125.4h1.96v1h-1.96z"/>
<path fill="#777777" d="M128.68 74.33h0.98v1h-0.98zM115.96 78.34h0.98v1h-0.98zM117.92 84.34h0.98v1h-0.98zM117.92 85.34h0.98v1h-0.98zM125.75 85.34h1.96v1h-1.96zM125.75 94.36h0.98v1h-0.98zM114.98 99.36h1.96v1h-1.96zM117.92 104.37h0.98v1h-0.98zM123.79 106.37h0.98v1h-0.98zM128.68 107.37h1.96v1h-1.96zM120.85 109.38h0.98v1h-0.98zM119.87 110.38h0.98v1h-0.98zM122.81 110.38h0.98v1h-0.98zM119.87 112.38h0.98v1h-0.98zM127.71 115.38h0.98v1h-0.98zM127.71 119.39h0.98v1h-0.98zM119.87 120.39h0.98v1h-0.98zM121.83 123.39h0.98v1h-0.98zM121.83 124.4h0.98v1h-0.98zM126.73 124.4h0.98v1h-0.98z"/>
<path fill="#eeeeee" d="M117.92 119.39h0.98v1h-0.98z"/></g>
<g filter="url(#bl2)" shape-rendering="crispEdges"><rect x="137.5" y="51.3" width="45.2" height="76.1" fill="#222222"/>
<path fill="#333333" d="M146.54 52.3h21.09v1h-21.09zM143.53 55.31h5.02v1h-5.02zM149.55 55.31h11.05v1h-11.05zM179.69 55.31h1v1h-1zM161.61 62.31h4.02v1h-4.02zM167.63 62.31h3.01v1h-3.01zM164.62 63.32h8.04v1h-8.04zM174.66 63.32h8.04v1h-8.04zM153.57 64.32h7.03v1h-7.03zM179.69 70.33h3.01v1h-3.01zM178.68 75.33h4.02v1h-4.02zM143.53 81.34h9.04v1h-9.04zM155.58 82.34h8.04v1h-8.04zM165.62 82.34h17.08v1h-17.08zM156.58 84.34h9.04v1h-9.04zM167.63 84.34h2.01v1h-2.01zM153.57 88.35h19.08v1h-19.08zM144.53 89.35h13.06v1h-13.06zM139.51 92.35h1v1h-1zM142.52 92.35h13.06v1h-13.06zM157.59 92.35h3.01v1h-3.01zM165.62 92.35h1v1h-1zM172.66 92.35h3.01v1h-3.01zM149.55 97.36h3.01v1h-3.01zM141.52 99.36h9.04v1h-9.04zM147.54 100.36h3.01v1h-3.01zM139.51 103.37h5.02v1h-5.02zM174.66 106.37h8.04v1h-8.04zM139.51 111.38h14.06v1h-14.06zM173.66 113.38h3.01v1h-3.01zM178.68 113.38h2.01v1h-2.01zM173.66 115.38h7.03v1h-7.03zM153.57 121.39h8.04v1h-8.04zM169.64 124.4h5.02v1h-5.02zM140.51 125.4h20.09v1h-20.09z"/>
<path fill="#999999" d="M140.51 53.3h1v1h-1zM174.66 54.3h1v1h-1zM181.7 55.31h1v1h-1zM146.54 57.31h1v1h-1zM157.59 57.31h7.03v1h-7.03zM144.53 59.31h1v1h-1zM166.63 61.31h1v1h-1zM155.58 62.31h1v1h-1zM175.67 65.32h1v1h-1zM167.63 68.32h1v1h-1zM165.62 75.33h1v1h-1zM170.65 75.33h1v1h-1zM146.54 76.33h1v1h-1zM149.55 76.33h2.01v1h-2.01zM169.64 76.33h1v1h-1zM139.51 77.33h1v1h-1zM158.59 77.33h1v1h-1zM179.69 77.33h1v1h-1zM153.57 78.34h2.01v1h-2.01zM180.69 78.34h1v1h-1zM144.53 79.34h1v1h-1zM172.66 79.34h1v1h-1zM142.52 80.34h1v1h-1zM146.54 82.34h1v1h-1zM164.62 83.34h1v1h-1zM138.5 85.34h1v1h-1zM176.67 88.35h1v1h-1zM167.63 90.35h1v1h-1zM178.68 90.35h2.01v1h-2.01zM181.7 93.36h1v1h-1zM137.5 94.36h2.01v1h-2.01zM170.65 96.36h1v1h-1zM138.5 97.36h1v1h-1zM169.64 97.36h1v1h-1zM154.58 99.36h2.01v1h-2.01zM174.66 99.36h2.01v1h-2.01zM154.58 100.36h1v1h-1zM158.59 104.37h1v1h-1zM140.51 106.37h1v1h-1zM152.57 106.37h1v1h-1zM151.56 107.37h1v1h-1zM178.68 107.37h1v1h-1zM154.58 108.38h1v1h-1zM154.58 109.38h1v1h-1zM153.57 113.38h1v1h-1zM169.64 119.39h1v1h-1zM142.52 121.39h2.01v1h-2.01zM176.67 121.39h1v1h-1zM175.67 122.39h1v1h-1zM166.63 123.39h1v1h-1zM178.68 123.39h1v1h-1z"/>
<path fill="#777777" d="M141.52 53.3h1v1h-1zM180.69 55.31h1v1h-1zM148.55 56.31h1v1h-1zM141.52 59.31h1v1h-1zM165.62 62.31h2.01v1h-2.01zM163.62 64.32h1v1h-1zM172.66 64.32h1v1h-1zM164.62 67.32h1v1h-1zM172.66 69.32h1v1h-1zM148.55 70.33h1v1h-1zM167.63 72.33h1v1h-1zM165.62 76.33h1v1h-1zM140.51 77.33h1v1h-1zM147.54 77.33h1v1h-1zM155.58 77.33h1v1h-1zM159.6 77.33h1v1h-1zM180.69 77.33h1v1h-1zM145.54 78.34h1v1h-1zM158.59 78.34h1v1h-1zM174.66 79.34h1v1h-1zM181.7 79.34h1v1h-1zM143.53 80.34h1v1h-1zM166.63 84.34h1v1h-1zM173.66 88.35h1v1h-1zM172.66 89.35h1v1h-1zM163.62 90.35h1v1h-1zM164.62 91.35h1v1h-1zM155.58 92.35h1v1h-1zM168.64 97.36h1v1h-1zM140.51 99.36h1v1h-1zM143.53 100.36h1v1h-1zM156.58 100.36h2.01v1h-2.01zM154.58 101.37h1v1h-1zM145.54 102.37h1v1h-1zM147.54 102.37h1v1h-1zM178.68 108.38h1v1h-1zM141.52 113.38h1v1h-1zM152.57 113.38h1v1h-1zM154.58 113.38h2.01v1h-2.01zM142.52 119.39h1v1h-1zM176.67 122.39h1v1h-1zM151.56 123.39h1v1h-1zM169.64 123.39h1v1h-1zM166.63 125.4h1v1h-1zM179.69 125.4h1v1h-1z"/>
<path fill="#888888" d="M140.51 54.3h1v1h-1zM173.66 55.31h2.01v1h-2.01zM149.55 56.31h1v1h-1zM167.63 57.31h1v1h-1zM141.52 58.31h1v1h-1zM140.51 59.31h1v1h-1zM151.56 59.31h1v1h-1zM151.56 60.31h1v1h-1zM174.66 60.31h2.01v1h-2.01zM173.66 63.32h1v1h-1zM162.61 64.32h1v1h-1zM170.65 64.32h1v1h-1zM173.66 64.32h1v1h-1zM169.64 65.32h1v1h-1zM176.67 65.32h1v1h-1zM168.64 67.32h1v1h-1zM148.55 69.32h1v1h-1zM168.64 69.32h2.01v1h-2.01zM171.65 69.32h1v1h-1zM153.57 72.33h6.03v1h-6.03zM151.56 76.33h3.01v1h-3.01zM146.54 77.33h1v1h-1zM171.65 77.33h1v1h-1zM146.54 78.34h1v1h-1zM142.52 79.34h2.01v1h-2.01zM180.69 79.34h1v1h-1zM142.52 81.34h1v1h-1zM163.62 83.34h1v1h-1zM172.66 88.35h1v1h-1zM177.68 88.35h1v1h-1zM155.58 91.35h1v1h-1zM180.69 93.36h1v1h-1zM150.56 95.36h1v1h-1zM165.62 95.36h1v1h-1zM149.55 96.36h1v1h-1zM168.64 96.36h1v1h-1zM147.54 98.36h10.04v1h-10.04zM153.57 101.37h1v1h-1zM180.69 102.37h1v1h-1zM178.68 103.37h1v1h-1zM180.69 103.37h1v1h-1zM159.6 104.37h1v1h-1zM175.67 107.37h1v1h-1zM160.6 109.38h1v1h-1zM163.62 110.38h1v1h-1zM157.59 111.38h1v1h-1zM176.67 112.38h1v1h-1zM140.51 113.38h1v1h-1zM151.56 113.38h1v1h-1zM142.52 115.38h1v1h-1zM170.65 116.39h1v1h-1zM144.53 118.39h2.01v1h-2.01zM143.53 119.39h1v1h-1zM168.64 120.39h1v1h-1zM151.56 122.39h1v1h-1zM169.64 122.39h1v1h-1zM179.69 123.39h1v1h-1zM177.68 125.4h2.01v1h-2.01z"/>
<path fill="#555555" d="M141.52 54.3h1v1h-1zM167.63 58.31h2.01v1h-2.01zM139.51 66.32h1v1h-1zM164.62 68.32h2.01v1h-2.01zM149.55 70.33h1v1h-1zM171.65 70.33h1v1h-1zM140.51 78.34h1v1h-1zM159.6 78.34h1v1h-1zM147.54 83.34h1v1h-1zM173.66 89.35h1v1h-1zM156.58 92.35h1v1h-1zM145.54 95.36h1v1h-1zM150.56 96.36h1v1h-1zM165.62 96.36h1v1h-1zM139.51 98.36h1v1h-1zM168.64 98.36h1v1h-1zM144.53 100.36h1v1h-1zM148.55 102.37h1v1h-1zM175.67 108.38h2.01v1h-2.01zM164.62 111.38h1v1h-1zM140.51 114.38h1v1h-1zM142.52 116.39h1v1h-1zM170.65 117.39h2.01v1h-2.01z"/>
<path fill="#aaaaaa" d="M144.53 54.3h6.03v1h-6.03zM148.55 55.31h1v1h-1zM145.54 57.31h1v1h-1zM140.51 58.31h1v1h-1zM150.56 60.31h1v1h-1zM165.62 61.31h1v1h-1zM155.58 63.32h1v1h-1zM163.62 63.32h1v1h-1zM169.64 64.32h1v1h-1zM138.5 65.32h1v1h-1zM167.63 67.32h1v1h-1zM178.68 69.32h1v1h-1zM177.68 72.33h1v1h-1zM176.67 73.33h2.01v1h-2.01zM169.64 75.33h1v1h-1zM164.62 76.33h1v1h-1zM180.69 76.33h1v1h-1zM154.58 77.33h1v1h-1zM170.65 77.33h1v1h-1zM144.53 78.34h1v1h-1zM172.66 78.34h1v1h-1zM173.66 79.34h1v1h-1zM138.5 80.34h1v1h-1zM164.62 82.34h1v1h-1zM153.57 83.34h2.01v1h-2.01zM155.58 84.34h1v1h-1zM165.62 87.35h1v1h-1zM177.68 87.35h1v1h-1zM141.52 92.35h1v1h-1zM140.51 93.36h1v1h-1zM142.52 94.36h7.03v1h-7.03zM169.64 96.36h1v1h-1zM156.58 99.36h2.01v1h-2.01zM147.54 101.37h1v1h-1zM179.69 102.37h1v1h-1zM152.57 105.37h1v1h-1zM139.51 106.37h1v1h-1zM151.56 106.37h1v1h-1zM153.57 109.38h1v1h-1zM166.63 116.39h1v1h-1zM142.52 118.39h2.01v1h-2.01zM168.64 118.39h1v1h-1zM165.62 119.39h2.01v1h-2.01zM143.53 120.39h1v1h-1z"/>
<path fill="#cccccc" d="M173.66 54.3h1v1h-1zM180.69 54.3h1v1h-1zM154.58 62.31h1v1h-1zM162.61 63.32h1v1h-1zM168.64 68.32h1v1h-1zM167.63 71.33h1v1h-1zM164.62 75.33h1v1h-1zM163.62 82.34h1v1h-1zM154.58 85.34h1v1h-1zM165.62 86.35h1v1h-1zM166.63 90.35h1v1h-1zM180.69 92.35h1v1h-1zM137.5 93.36h1v1h-1zM158.59 98.36h2.01v1h-2.01zM166.63 115.38h2.01v1h-2.01zM154.58 118.39h4.02v1h-4.02zM159.6 119.39h1v1h-1zM178.68 122.39h1v1h-1zM177.68 124.4h5.02v1h-5.02z"/>
<path fill="#ffffff" d="M145.54 56.31h1v1h-1zM175.67 64.32h1v1h-1zM149.55 75.33h1v1h-1zM164.62 86.35h1v1h-1zM166.63 89.35h1v1h-1zM150.56 106.37h1v1h-1zM176.67 109.38h1v1h-1z"/>
<path fill="#eeeeee" d="M146.54 56.31h1v1h-1zM170.65 76.33h1v1h-1zM165.62 83.34h1v1h-1zM154.58 84.34h1v1h-1zM167.63 89.35h1v1h-1zM174.66 98.36h1v1h-1zM158.59 103.37h1v1h-1zM139.51 105.37h1v1h-1zM177.68 109.38h1v1h-1zM158.59 119.39h1v1h-1zM165.62 122.39h1v1h-1z"/>
<path fill="#444444" d="M164.62 57.31h3.01v1h-3.01zM168.64 57.31h10.04v1h-10.04zM146.54 58.31h1v1h-1zM159.6 71.33h8.04v1h-8.04zM169.64 71.33h10.04v1h-10.04zM175.67 85.34h3.01v1h-3.01zM146.54 95.36h1v1h-1zM169.64 98.36h1v1h-1zM141.52 100.36h1v1h-1zM144.53 101.37h1v1h-1zM146.54 103.37h1v1h-1zM181.7 103.37h1v1h-1zM152.57 114.38h1v1h-1zM154.58 114.38h1v1h-1zM156.58 114.38h1v1h-1zM143.53 116.39h1v1h-1zM152.57 123.39h1v1h-1zM142.52 124.4h10.04v1h-10.04zM167.63 126.4h1v1h-1z"/>
<path fill="#666666" d="M145.54 58.31h1v1h-1zM145.54 59.31h1v1h-1zM170.65 65.32h1v1h-1zM138.5 66.32h1v1h-1zM179.69 69.32h1v1h-1zM172.66 70.33h1v1h-1zM168.64 72.33h1v1h-1zM139.51 78.34h1v1h-1zM145.54 79.34h1v1h-1zM139.51 80.34h1v1h-1zM146.54 83.34h1v1h-1zM163.62 91.35h1v1h-1zM164.62 92.35h1v1h-1zM141.52 93.36h1v1h-1zM166.63 96.36h1v1h-1zM170.65 97.36h1v1h-1zM138.5 98.36h1v1h-1zM140.51 100.36h1v1h-1zM143.53 101.37h1v1h-1zM145.54 103.37h1v1h-1zM179.69 103.37h1v1h-1zM179.69 108.38h1v1h-1zM158.59 111.38h1v1h-1zM163.62 111.38h1v1h-1zM156.58 113.38h1v1h-1zM176.67 113.38h2.01v1h-2.01zM141.52 114.38h1v1h-1zM151.56 114.38h1v1h-1zM153.57 114.38h1v1h-1zM155.58 114.38h1v1h-1zM167.63 116.39h1v1h-1zM171.65 116.39h1v1h-1zM169.64 120.39h1v1h-1zM168.64 123.39h1v1h-1zM167.63 125.4h1v1h-1zM166.63 126.4h1v1h-1z"/>
<path fill="#dddddd" d="M150.56 58.31h1v1h-1zM174.66 59.31h1v1h-1zM176.67 72.33h1v1h-1zM179.69 76.33h1v1h-1zM173.66 78.34h1v1h-1zM141.52 80.34h1v1h-1zM137.5 84.34h1v1h-1zM164.62 87.35h1v1h-1zM159.6 103.37h1v1h-1zM151.56 105.37h1v1h-1zM153.57 108.38h1v1h-1zM159.6 108.38h1v1h-1zM176.67 110.38h1v1h-1zM142.52 120.39h1v1h-1z"/>
<path fill="#bbbbbb" d="M150.56 59.31h1v1h-1zM175.67 59.31h1v1h-1zM139.51 60.31h7.03v1h-7.03zM154.58 63.32h1v1h-1zM172.66 63.32h1v1h-1zM178.68 68.32h1v1h-1zM168.64 71.33h1v1h-1zM150.56 75.33h1v1h-1zM152.57 75.33h1v1h-1zM154.58 76.33h1v1h-1zM145.54 77.33h1v1h-1zM153.57 77.33h1v1h-1zM138.5 79.34h1v1h-1zM141.52 81.34h1v1h-1zM138.5 84.34h1v1h-1zM165.62 84.34h1v1h-1zM137.5 85.34h1v1h-1zM152.57 85.34h2.01v1h-2.01zM155.58 85.34h5.02v1h-5.02zM176.67 87.35h1v1h-1zM178.68 89.35h2.01v1h-2.01zM140.51 92.35h1v1h-1zM181.7 92.35h1v1h-1zM138.5 93.36h1v1h-1zM149.55 95.36h1v1h-1zM175.67 98.36h1v1h-1zM153.57 100.36h1v1h-1zM178.68 102.37h1v1h-1zM150.56 107.37h1v1h-1zM160.6 108.38h1v1h-1zM159.6 109.38h1v1h-1zM157.59 110.38h2.01v1h-2.01zM177.68 110.38h1v1h-1zM168.64 119.39h1v1h-1zM158.59 120.39h2.01v1h-2.01zM175.67 121.39h1v1h-1zM168.64 122.39h1v1h-1zM165.62 123.39h1v1h-1z"/></g>
<g filter="url(#bl2)" shape-rendering="crispEdges"><rect x="195.6" y="51.3" width="21.3" height="76.1" fill="#222222"/>
<path fill="#eeeeee" d="M204.73 51.3h2.03v1h-2.03zM201.69 115.38h5.07v1h-5.07z"/>
<path fill="#ffffff" d="M195.6 54.3h2.03v1h-2.03zM207.77 62.31h2.03v1h-2.03zM199.66 66.32h7.1v1h-7.1z"/>
<path fill="#333333" d="M203.71 55.31h9.13v1h-9.13zM197.63 57.31h3.04v1h-3.04zM202.7 59.31h8.11v1h-8.11zM202.7 62.31h2.03v1h-2.03zM209.8 62.31h2.03v1h-2.03zM206.76 66.32h4.06v1h-4.06zM198.64 68.32h9.13v1h-9.13zM201.69 70.33h11.16v1h-11.16zM200.67 71.33h10.14v1h-10.14zM203.71 73.33h13.19v1h-13.19zM214.87 74.33h2.03v1h-2.03zM201.69 77.33h15.21v1h-15.21zM211.83 82.34h1.01v1h-1.01zM203.71 85.34h2.03v1h-2.03zM198.64 95.36h4.06v1h-4.06zM204.73 95.36h3.04v1h-3.04zM210.81 95.36h3.04v1h-3.04zM201.69 96.36h10.14v1h-10.14zM195.6 100.36h2.03v1h-2.03zM198.64 102.37h16.23v1h-16.23zM203.71 103.37h7.1v1h-7.1zM197.63 104.37h8.11v1h-8.11zM198.64 106.37h1.01v1h-1.01zM204.73 106.37h2.03v1h-2.03zM197.63 109.38h1.01v1h-1.01zM208.79 111.38h4.06v1h-4.06zM207.77 115.38h9.13v1h-9.13zM201.69 118.39h4.06v1h-4.06zM209.8 118.39h6.09v1h-6.09zM204.73 121.39h7.1v1h-7.1zM205.74 125.4h9.13v1h-9.13z"/>
<path fill="#444444" d="M200.67 57.31h13.19v1h-13.19zM204.73 62.31h3.04v1h-3.04zM202.7 63.32h14.2v1h-14.2zM197.63 68.32h1.01v1h-1.01zM204.73 82.34h7.1v1h-7.1zM202.7 95.36h2.03v1h-2.03zM207.77 95.36h3.04v1h-3.04zM213.86 95.36h2.03v1h-2.03zM197.63 100.36h8.11v1h-8.11zM199.66 106.37h5.07v1h-5.07zM204.73 125.4h1.01v1h-1.01z"/>
<path fill="#cccccc" d="M202.7 74.33h9.13v1h-9.13z"/>
<path fill="#888888" d="M202.7 75.33h9.13v1h-9.13zM195.6 111.38h13.19v1h-13.19z"/>
<path fill="#dddddd" d="M197.63 81.34h2.03v1h-2.03zM201.69 89.35h6.09v1h-6.09z"/>
<path fill="#999999" d="M201.69 90.35h6.09v1h-6.09zM205.74 118.39h4.06v1h-4.06z"/>
<path fill="#bbbbbb" d="M195.6 110.38h13.19v1h-13.19z"/>
<path fill="#aaaaaa" d="M201.69 116.39h5.07v1h-5.07z"/>
<path fill="#666666" d="M205.74 119.39h4.06v1h-4.06z"/></g>
<g filter="url(#bl2)" shape-rendering="crispEdges"><rect x="224" y="51.3" width="21" height="76.1" fill="#222222"/>
<path fill="#444444" d="M231 51.3h2v1h-2zM234 71.33h3v1h-3zM239 81.34h2v1h-2zM230 88.35h9v1h-9zM235 100.36h2v1h-2zM234 104.37h2v1h-2zM237 104.37h5v1h-5zM226 111.38h7v1h-7zM233 117.39h2v1h-2z"/>
<path fill="#333333" d="M233 51.3h12v1h-12zM242 57.31h3v1h-3zM234 63.32h1v1h-1zM238 63.32h7v1h-7zM232 71.33h2v1h-2zM232 73.33h9v1h-9zM224 77.33h13v1h-13zM225 78.34h10v1h-10zM230 82.34h2v1h-2zM234 85.34h1v1h-1zM239 85.34h1v1h-1zM225 93.36h12v1h-12zM230 100.36h5v1h-5zM232 102.37h7v1h-7zM236 104.37h1v1h-1zM242 104.37h3v1h-3zM225 106.37h2v1h-2zM235 106.37h2v1h-2zM237 110.38h3v1h-3zM224 111.38h2v1h-2zM226 115.38h13v1h-13zM235 117.39h10v1h-10zM226 121.39h10v1h-10z"/>
<path fill="#eeeeee" d="M230 52.3h11v1h-11zM235 63.32h3v1h-3zM229 86.35h13v1h-13zM237 118.39h7v1h-7z"/>
<path fill="#dddddd" d="M234 59.31h2v1h-2zM226 97.36h11v1h-11zM240 120.39h3v1h-3z"/>
<path fill="#bbbbbb" d="M230 60.31h13v1h-13zM233 110.38h2v1h-2z"/>
<path fill="#888888" d="M230 61.31h13v1h-13zM227 70.33h5v1h-5z"/>
<path fill="#aaaaaa" d="M231 64.32h7v1h-7zM224 81.34h15v1h-15zM229 87.35h13v1h-13zM226 109.38h11v1h-11zM225 110.38h1v1h-1zM230 122.39h3v1h-3z"/>
<path fill="#777777" d="M231 65.32h4v1h-4zM226 110.38h7v1h-7zM235 110.38h2v1h-2z"/>
<path fill="#666666" d="M227 71.33h5v1h-5z"/>
<path fill="#ffffff" d="M228 72.33h2v1h-2zM224 80.34h15v1h-15zM228 120.39h12v1h-12z"/>
<path fill="#999999" d="M226 98.36h11v1h-11zM236 121.39h7v1h-7z"/>
<path fill="#cccccc" d="M238 107.37h2v1h-2z"/></g>
<g filter="url(#bl2)" shape-rendering="crispEdges"><rect x="252.2" y="51.3" width="21" height="76.1" fill="#222222"/>
<path fill="#444444" d="M252.2 51.3h2v1h-2zM258.2 59.31h4v1h-4zM269.2 89.35h2v1h-2zM260.2 91.35h1v1h-1zM272.2 93.36h1v1h-1zM258.2 102.37h4v1h-4zM257.2 113.38h10v1h-10zM271.2 113.38h2v1h-2zM268.2 118.39h1v1h-1z"/>
<path fill="#333333" d="M254.2 51.3h8v1h-8zM255.2 59.31h3v1h-3zM254.2 60.31h17v1h-17zM256.2 62.31h8v1h-8zM269.2 62.31h2v1h-2zM252.2 63.32h4v1h-4zM269.2 70.33h4v1h-4zM259.2 81.34h8v1h-8zM265.2 86.35h8v1h-8zM254.2 89.35h15v1h-15zM261.2 91.35h8v1h-8zM259.2 93.36h13v1h-13zM261.2 95.36h6v1h-6zM272.2 95.36h1v1h-1zM252.2 102.37h6v1h-6zM262.2 102.37h6v1h-6zM255.2 107.37h3v1h-3zM269.2 109.38h3v1h-3zM267.2 113.38h4v1h-4zM261.2 118.39h7v1h-7zM258.2 121.39h8v1h-8zM269.2 121.39h4v1h-4zM255.2 124.4h18v1h-18z"/>
<path fill="#dddddd" d="M259.2 56.31h5v1h-5z"/>
<path fill="#cccccc" d="M254.2 57.31h5v1h-5zM264.2 57.31h2v1h-2zM252.2 82.34h12v1h-12zM252.2 109.38h2v1h-2zM262.2 116.39h2v1h-2z"/>
<path fill="#999999" d="M259.2 57.31h2v1h-2zM263.2 57.31h1v1h-1zM254.2 75.33h10v1h-10zM260.2 78.34h7v1h-7zM252.2 85.34h14v1h-14zM258.2 107.37h10v1h-10zM254.2 109.38h15v1h-15zM258.2 122.39h6v1h-6z"/>
<path fill="#eeeeee" d="M261.2 57.31h2v1h-2zM269.2 107.37h2v1h-2z"/>
<path fill="#888888" d="M254.2 58.31h12v1h-12zM260.2 68.32h12v1h-12zM262.2 71.33h3v1h-3z"/>
<path fill="#bbbbbb" d="M256.2 70.33h13v1h-13zM258.2 88.35h2v1h-2zM253.2 114.38h14v1h-14z"/>
<path fill="#aaaaaa" d="M261.2 74.33h7v1h-7z"/>
<path fill="#666666" d="M260.2 79.34h7v1h-7zM252.2 86.35h13v1h-13zM254.2 110.38h15v1h-15z"/>
<path fill="#777777" d="M253.2 115.38h14v1h-14z"/></g>
<rect x="195.6" y="25.7" width="21.3" height="1.1" fill="#7a4aa8"/>
<rect x="224" y="25.7" width="21" height="1.1" fill="#40b8e8"/>
<rect x="252.2" y="25.7" width="21" height="1.1" fill="#c89a78"/>
<text x="206" y="24.6" font-size="4.6" text-anchor="middle" font-weight="normal" fill="#333" stroke="#333" stroke-width="0.08">(iii)</text>
<text x="234" y="24.6" font-size="4.6" text-anchor="middle" font-weight="normal" fill="#333" stroke="#333" stroke-width="0.08">(i)</text>
<text x="261.8" y="24.6" font-size="4.6" text-anchor="middle" font-weight="normal" fill="#333" stroke="#333" stroke-width="0.08">(ii)</text>
<text x="234.8" y="14.3" font-size="5" text-anchor="middle" font-weight="normal" fill="#000" stroke="#000" stroke-width="0.1">Spectral correlation</text>
<text x="219.4" y="20.6" font-size="5" text-anchor="middle" font-weight="normal" fill="#000" stroke="#000" stroke-width="0.1">0.66</text>
<text x="248.7" y="20.6" font-size="5" text-anchor="middle" font-weight="normal" fill="#000" stroke="#000" stroke-width="0.1">0.04</text>
<path d="M210.8 24.2 Q210.8 23.2 212 23.2 L228.3 23.2 Q229.5 23.2 229.5 24.2" stroke="#888" stroke-width="0.6" fill="none"/>
<path d="M239.4 24.2 Q239.4 23.2 240.6 23.2 L256.6 23.2 Q257.8 23.2 257.8 24.2" stroke="#888" stroke-width="0.6" fill="none"/>
<path d="M210.8 129 Q210.8 130 212 130 L228.3 130 Q229.5 130 229.5 129" stroke="#888" stroke-width="0.6" fill="none"/>
<path d="M240 129 Q240 130 241.2 130 L257.4 130 Q258.6 130 258.6 129" stroke="#888" stroke-width="0.6" fill="none"/>
<text x="219.8" y="136.9" font-size="5" text-anchor="middle" font-weight="normal" fill="#000" stroke="#000" stroke-width="0.1">0.01</text>
<text x="248.8" y="136.9" font-size="5" text-anchor="middle" font-weight="normal" fill="#000" stroke="#000" stroke-width="0.1">0.00</text>
<text x="234.4" y="143.6" font-size="5" text-anchor="middle" font-weight="normal" fill="#000" stroke="#000" stroke-width="0.1">Neural correlation</text>
<text x="106.2" y="53.1" font-size="5" text-anchor="start" font-weight="normal" fill="#444">1</text>
<rect x="110.5" y="51.4" width="1.2" height="0.4" fill="#999"/>
<text x="103.3" y="128.5" font-size="5" text-anchor="start" font-weight="normal" fill="#444">55</text>
<rect x="110.5" y="126.9" width="1.2" height="0.4" fill="#999"/>
<text x="104.4" y="90" font-size="5" text-anchor="middle" font-weight="normal" fill="#000" transform="rotate(-90 104.4 90)" stroke="#000" stroke-width="0.1">Neuron number</text>
<rect x="170" y="129.3" width="11.3" height="1.5" fill="#000"/>
<text x="99.4" y="152.8" font-size="8.7" text-anchor="start" font-weight="bold" fill="#000" stroke="#000" stroke-width="0.5">e</text>
<text x="135.3" y="158.3" font-size="5" text-anchor="start" font-weight="normal" fill="#000" stroke="#000" stroke-width="0.1">Syllables</text>
<text x="125" y="163.1" font-size="5" text-anchor="middle" font-weight="normal" fill="#000" stroke="#000" stroke-width="0.1">23</text>
<text x="158.7" y="162.8" font-size="5" text-anchor="start" font-weight="normal" fill="#000" stroke="#000" stroke-width="0.1">2</text>
<text x="103.9" y="169.8" font-size="5" text-anchor="start" font-weight="normal" fill="#000" stroke="#000" stroke-width="0.1">BG1</text>
<text x="120.8" y="169.3" font-size="4.6" text-anchor="middle" font-weight="normal" fill="#333" stroke="#333" stroke-width="0.08">(i)</text>
<text x="157.8" y="169.3" font-size="4.6" text-anchor="middle" font-weight="normal" fill="#333" stroke="#333" stroke-width="0.08">(ii)</text>
<text x="176.2" y="169.3" font-size="4.6" text-anchor="middle" font-weight="normal" fill="#333" stroke="#333" stroke-width="0.08">(iii)</text>
<rect x="119.2" y="170.4" width="3.6" height="1" fill="#3aa8e8"/>
<rect x="156" y="170.4" width="3.6" height="1" fill="#e07a50"/>
<rect x="174.4" y="170.4" width="3.6" height="1" fill="#7a3aa8"/>
<g filter="url(#bl)" shape-rendering="crispEdges"><rect x="114" y="172.8" width="22.1" height="20.8" fill="#2a0f47"/>
<path fill="#280c3c" d="M114 172.8h22.1v0.99h-22.1zM124.05 191.62h1v0.99h-1zM126.05 192.61h1v0.99h-1z"/>
<path fill="#290d42" d="M115 173.79h7.03v0.99h-7.03zM124.05 173.79h2.01v0.99h-2.01zM115 174.78h6.03v0.99h-6.03zM128.06 174.78h2.01v0.99h-2.01zM117.01 175.77h1v0.99h-1zM125.05 175.77h1v0.99h-1zM114 176.76h3.01v0.99h-3.01zM124.05 176.76h1v0.99h-1zM115 177.75h2.01v0.99h-2.01zM119.02 177.75h3.01v0.99h-3.01zM128.06 177.75h1v0.99h-1zM115 178.74h1v0.99h-1zM119.02 178.74h4.02v0.99h-4.02zM127.06 178.74h2.01v0.99h-2.01zM134.09 178.74h2.01v0.99h-2.01zM116.01 179.73h1v0.99h-1zM119.02 179.73h4.02v0.99h-4.02zM128.06 179.73h1v0.99h-1zM133.09 179.73h3.01v0.99h-3.01zM114 180.72h2.01v0.99h-2.01zM119.02 180.72h2.01v0.99h-2.01zM125.05 180.72h1v0.99h-1zM128.06 180.72h1v0.99h-1zM131.08 180.72h1v0.99h-1zM134.09 180.72h1v0.99h-1zM124.05 181.71h5.02v0.99h-5.02zM134.09 181.71h1v0.99h-1zM124.05 182.7h1v0.99h-1zM128.06 182.7h1v0.99h-1zM134.09 182.7h1v0.99h-1zM126.05 185.68h1v0.99h-1zM126.05 186.67h2.01v0.99h-2.01zM114 189.64h1v0.99h-1zM118.02 190.63h3.01v0.99h-3.01zM123.04 190.63h3.01v0.99h-3.01zM119.02 191.62h5.02v0.99h-5.02zM125.05 191.62h3.01v0.99h-3.01zM119.02 192.61h7.03v0.99h-7.03zM127.06 192.61h3.01v0.99h-3.01zM131.08 192.61h1v0.99h-1zM134.09 192.61h2.01v0.99h-2.01z"/>
<path fill="#315ec3" d="M133.09 174.78h1v0.99h-1zM134.09 175.77h1v0.99h-1zM129.07 176.76h1v0.99h-1zM129.07 177.75h1v0.99h-1zM126.05 178.74h1v0.99h-1zM126.05 179.73h1v0.99h-1zM122.04 181.71h1v0.99h-1zM133.09 181.71h1v0.99h-1zM124.05 184.69h1v0.99h-1zM121.03 188.65h1v0.99h-1zM120.03 189.64h1v0.99h-1z"/>
<path fill="#2b104d" d="M134.09 174.78h1v0.99h-1zM133.09 175.77h1v0.99h-1zM134.09 176.76h1v0.99h-1zM126.05 177.75h1v0.99h-1zM122.04 180.72h1v0.99h-1zM121.03 181.71h1v0.99h-1zM123.04 181.71h1v0.99h-1zM115 182.7h1v0.99h-1zM119.02 182.7h1v0.99h-1zM122.04 182.7h1v0.99h-1zM127.06 182.7h1v0.99h-1zM131.08 182.7h1v0.99h-1zM116.01 183.7h1v0.99h-1zM128.06 183.7h1v0.99h-1zM130.07 183.7h1v0.99h-1zM117.01 184.69h1v0.99h-1zM129.07 184.69h1v0.99h-1zM135.1 184.69h1v0.99h-1zM115 185.68h1v0.99h-1zM125.05 185.68h1v0.99h-1zM115 186.67h2.01v0.99h-2.01zM119.02 186.67h1v0.99h-1zM122.04 186.67h1v0.99h-1zM125.05 186.67h1v0.99h-1zM128.06 186.67h1v0.99h-1zM131.08 186.67h1v0.99h-1zM135.1 186.67h1v0.99h-1zM116.01 187.66h1v0.99h-1zM119.02 189.64h1v0.99h-1zM125.05 189.64h1v0.99h-1zM135.1 189.64h1v0.99h-1zM135.1 190.63h1v0.99h-1z"/>
<path fill="#29a8e1" d="M128.06 175.77h1v0.99h-1zM125.05 177.75h1v0.99h-1zM130.07 178.74h1v0.99h-1zM129.07 181.71h1v0.99h-1zM127.06 183.7h1v0.99h-1zM115 184.69h1v0.99h-1zM128.06 184.69h1v0.99h-1zM117.01 185.68h1v0.99h-1zM124.05 185.68h1v0.99h-1zM119.02 187.66h1v0.99h-1zM134.09 187.66h1v0.99h-1zM116.01 188.65h1v0.99h-1z"/>
<path fill="#2d1358" d="M128.06 176.76h1v0.99h-1zM130.07 177.75h1v0.99h-1zM125.05 178.74h1v0.99h-1zM120.03 184.69h2.01v0.99h-2.01zM122.04 185.68h1v0.99h-1zM123.04 186.67h2.01v0.99h-2.01zM134.09 186.67h1v0.99h-1zM120.03 187.66h1v0.99h-1zM132.08 187.66h1v0.99h-1zM118.02 189.64h1v0.99h-1zM123.04 189.64h1v0.99h-1zM129.07 189.64h1v0.99h-1zM134.09 189.64h1v0.99h-1zM117.01 190.63h1v0.99h-1z"/>
<path fill="#3149b3" d="M135.1 176.76h1v0.99h-1zM130.07 179.73h1v0.99h-1zM121.03 180.72h1v0.99h-1zM129.07 180.72h1v0.99h-1zM123.04 182.7h1v0.99h-1zM119.02 183.7h1v0.99h-1zM123.04 184.69h1v0.99h-1zM130.07 184.69h1v0.99h-1zM123.04 187.66h1v0.99h-1zM127.06 188.65h1v0.99h-1z"/>
<path fill="#2e76cd" d="M131.08 178.74h1v0.99h-1zM118.02 184.69h1v0.99h-1zM127.06 184.69h1v0.99h-1zM114 186.67h1v0.99h-1zM126.05 189.64h1v0.99h-1z"/>
<path fill="#2c1252" d="M127.06 179.73h1v0.99h-1zM129.07 179.73h1v0.99h-1zM131.08 179.73h1v0.99h-1zM130.07 180.72h1v0.99h-1zM133.09 180.72h1v0.99h-1zM132.08 182.7h1v0.99h-1zM114 184.69h1v0.99h-1zM126.05 184.69h1v0.99h-1zM119.02 185.68h1v0.99h-1zM118.02 186.67h1v0.99h-1zM117.01 187.66h1v0.99h-1zM122.04 187.66h1v0.99h-1zM128.06 187.66h1v0.99h-1zM133.09 187.66h1v0.99h-1zM131.08 189.64h1v0.99h-1zM121.03 190.63h1v0.99h-1zM128.06 190.63h1v0.99h-1z"/>
<path fill="#303b9a" d="M132.08 179.73h1v0.99h-1zM132.08 180.72h1v0.99h-1zM114 182.7h1v0.99h-1zM120.03 182.7h1v0.99h-1zM122.04 183.7h1v0.99h-1zM125.05 183.7h1v0.99h-1zM132.08 184.69h1v0.99h-1zM134.09 184.69h1v0.99h-1zM117.01 186.67h1v0.99h-1z"/>
<path fill="#2c8fd7" d="M127.06 180.72h1v0.99h-1zM115 183.7h1v0.99h-1zM131.08 183.7h1v0.99h-1zM116.01 184.69h1v0.99h-1zM116.01 185.68h1v0.99h-1zM118.02 185.68h1v0.99h-1zM128.06 185.68h2.01v0.99h-2.01zM135.1 187.66h1v0.99h-1zM124.05 188.65h1v0.99h-1zM132.08 189.64h1v0.99h-1z"/>
<path fill="#2f2c82" d="M121.03 182.7h1v0.99h-1zM130.07 188.65h1v0.99h-1zM135.1 188.65h1v0.99h-1zM116.01 190.63h1v0.99h-1z"/>
<path fill="#2e1d69" d="M126.05 182.7h1v0.99h-1zM133.09 183.7h1v0.99h-1zM131.08 185.68h1v0.99h-1zM133.09 185.68h1v0.99h-1zM135.1 185.68h1v0.99h-1zM126.05 187.66h1v0.99h-1zM114 188.65h1v0.99h-1zM115 189.64h1v0.99h-1zM127.06 190.63h1v0.99h-1z"/>
<path fill="#2ab9df" d="M114 183.7h1v0.99h-1zM119.02 184.69h1v0.99h-1zM125.05 184.69h1v0.99h-1zM130.07 186.67h1v0.99h-1zM115 187.66h1v0.99h-1zM131.08 187.66h1v0.99h-1zM122.04 189.64h1v0.99h-1zM133.09 189.64h1v0.99h-1z"/>
<path fill="#2fc3d0" d="M120.03 183.7h2.01v0.99h-2.01zM126.05 183.7h1v0.99h-1zM132.08 183.7h1v0.99h-1zM122.04 184.69h1v0.99h-1zM131.08 184.69h1v0.99h-1zM133.09 184.69h1v0.99h-1zM123.04 185.68h1v0.99h-1zM134.09 185.68h1v0.99h-1zM129.07 186.67h1v0.99h-1zM125.05 187.66h1v0.99h-1zM129.07 187.66h1v0.99h-1zM117.01 188.65h1v0.99h-1zM122.04 188.65h1v0.99h-1zM125.05 188.65h1v0.99h-1zM128.06 189.64h1v0.99h-1z"/>
<path fill="#34cdc1" d="M130.07 185.68h1v0.99h-1zM118.02 187.66h1v0.99h-1zM118.02 188.65h2.01v0.99h-2.01zM128.06 188.65h1v0.99h-1z"/>
<path fill="#48dea0" d="M114 187.66h1v0.99h-1zM115 188.65h1v0.99h-1zM120.03 188.65h1v0.99h-1zM129.07 188.65h1v0.99h-1zM132.08 188.65h1v0.99h-1zM121.03 189.64h1v0.99h-1z"/>
<path fill="#39d7b2" d="M124.05 187.66h1v0.99h-1zM131.08 188.65h1v0.99h-1zM133.09 188.65h2.01v0.99h-2.01zM117.01 189.64h1v0.99h-1z"/>
<path fill="#7be672" d="M130.07 187.66h1v0.99h-1z"/>
<path fill="#61e289" d="M123.04 188.65h1v0.99h-1zM126.05 188.65h1v0.99h-1zM116.01 189.64h1v0.99h-1zM127.06 189.64h1v0.99h-1z"/></g>
<rect x="114" y="193.6" width="22.1" height="1.5" fill="#a898d8"/>
<rect x="114" y="195.1" width="22.1" height="0.5" fill="#111"/>
<g filter="url(#bl)" shape-rendering="crispEdges"><rect x="140.3" y="172.8" width="42.7" height="20.8" fill="#2a0f47"/>
<path fill="#280c3c" d="M140.3 172.8h42.7v0.99h-42.7zM181.01 191.62h1.99v0.99h-1.99z"/>
<path fill="#290d42" d="M140.3 173.79h0.99v0.99h-0.99zM144.27 173.79h6.95v0.99h-6.95zM158.17 173.79h1.99v0.99h-1.99zM163.14 173.79h0.99v0.99h-0.99zM170.09 173.79h3.97v0.99h-3.97zM176.05 173.79h2.98v0.99h-2.98zM159.17 174.78h0.99v0.99h-0.99zM163.14 174.78h0.99v0.99h-0.99zM167.11 174.78h1.99v0.99h-1.99zM171.08 174.78h2.98v0.99h-2.98zM175.06 174.78h3.97v0.99h-3.97zM142.29 175.77h1.99v0.99h-1.99zM145.27 175.77h0.99v0.99h-0.99zM164.13 175.77h0.99v0.99h-0.99zM167.11 175.77h1.99v0.99h-1.99zM171.08 175.77h1.99v0.99h-1.99zM175.06 175.77h2.98v0.99h-2.98zM182.01 175.77h0.99v0.99h-0.99zM143.28 176.76h3.97v0.99h-3.97zM150.23 176.76h0.99v0.99h-0.99zM164.13 176.76h0.99v0.99h-0.99zM170.09 176.76h2.98v0.99h-2.98zM175.06 176.76h2.98v0.99h-2.98zM143.28 177.75h2.98v0.99h-2.98zM147.25 177.75h3.97v0.99h-3.97zM170.09 177.75h2.98v0.99h-2.98zM176.05 177.75h1.99v0.99h-1.99zM140.3 178.74h0.99v0.99h-0.99zM143.28 178.74h1.99v0.99h-1.99zM147.25 178.74h2.98v0.99h-2.98zM157.18 178.74h0.99v0.99h-0.99zM171.08 178.74h2.98v0.99h-2.98zM176.05 178.74h1.99v0.99h-1.99zM140.3 179.73h1.99v0.99h-1.99zM147.25 179.73h3.97v0.99h-3.97zM156.19 179.73h1.99v0.99h-1.99zM162.15 179.73h0.99v0.99h-0.99zM167.11 179.73h0.99v0.99h-0.99zM174.06 179.73h2.98v0.99h-2.98zM146.26 180.72h3.97v0.99h-3.97zM156.19 180.72h0.99v0.99h-0.99zM174.06 180.72h1.99v0.99h-1.99zM182.01 180.72h0.99v0.99h-0.99zM146.26 181.71h3.97v0.99h-3.97zM162.15 181.71h2.98v0.99h-2.98zM168.1 181.71h1.99v0.99h-1.99zM174.06 181.71h2.98v0.99h-2.98zM178.03 181.71h0.99v0.99h-0.99zM181.01 181.71h1.99v0.99h-1.99zM147.25 182.7h2.98v0.99h-2.98zM157.18 182.7h0.99v0.99h-0.99zM162.15 182.7h3.97v0.99h-3.97zM174.06 182.7h2.98v0.99h-2.98zM180.02 182.7h2.98v0.99h-2.98zM143.28 183.7h0.99v0.99h-0.99zM148.24 183.7h1.99v0.99h-1.99zM158.17 183.7h1.99v0.99h-1.99zM164.13 183.7h0.99v0.99h-0.99zM181.01 183.7h0.99v0.99h-0.99zM158.17 188.65h1.99v0.99h-1.99zM162.15 188.65h0.99v0.99h-0.99zM146.26 189.64h1.99v0.99h-1.99zM159.17 189.64h3.97v0.99h-3.97zM182.01 189.64h0.99v0.99h-0.99zM140.3 190.63h0.99v0.99h-0.99zM145.27 190.63h1.99v0.99h-1.99zM151.22 190.63h3.97v0.99h-3.97zM161.15 190.63h1.99v0.99h-1.99zM168.1 190.63h0.99v0.99h-0.99zM172.08 190.63h1.99v0.99h-1.99zM176.05 190.63h0.99v0.99h-0.99zM181.01 190.63h1.99v0.99h-1.99zM143.28 191.62h0.99v0.99h-0.99zM151.22 191.62h2.98v0.99h-2.98zM162.15 191.62h0.99v0.99h-0.99zM166.12 191.62h10.92v0.99h-10.92zM180.02 191.62h0.99v0.99h-0.99zM142.29 192.61h1.99v0.99h-1.99zM148.24 192.61h4.97v0.99h-4.97zM164.13 192.61h0.99v0.99h-0.99zM168.1 192.61h1.99v0.99h-1.99zM171.08 192.61h2.98v0.99h-2.98zM175.06 192.61h2.98v0.99h-2.98zM181.01 192.61h1.99v0.99h-1.99z"/>
<path fill="#3149b3" d="M156.19 175.77h0.99v0.99h-0.99zM166.12 176.76h0.99v0.99h-0.99zM153.21 177.75h0.99v0.99h-0.99zM160.16 177.75h1.99v0.99h-1.99zM174.06 177.75h0.99v0.99h-0.99zM175.06 178.74h0.99v0.99h-0.99zM163.14 179.73h0.99v0.99h-0.99zM141.29 180.72h1.99v0.99h-1.99zM164.13 180.72h0.99v0.99h-0.99zM151.22 182.7h0.99v0.99h-0.99zM150.23 183.7h0.99v0.99h-0.99zM177.04 183.7h0.99v0.99h-0.99zM142.29 185.68h0.99v0.99h-0.99zM169.1 185.68h0.99v0.99h-0.99zM149.24 186.67h0.99v0.99h-0.99zM151.22 186.67h0.99v0.99h-0.99zM155.2 186.67h0.99v0.99h-0.99zM166.12 186.67h0.99v0.99h-0.99zM144.27 187.66h0.99v0.99h-0.99zM150.23 187.66h0.99v0.99h-0.99zM168.1 187.66h0.99v0.99h-0.99z"/>
<path fill="#2c1252" d="M157.18 175.77h0.99v0.99h-0.99zM155.2 176.76h0.99v0.99h-0.99zM181.01 177.75h0.99v0.99h-0.99zM162.15 178.74h0.99v0.99h-0.99zM142.29 179.73h0.99v0.99h-0.99zM169.1 180.72h0.99v0.99h-0.99zM166.12 182.7h0.99v0.99h-0.99zM179.03 182.7h0.99v0.99h-0.99zM165.13 183.7h0.99v0.99h-0.99zM174.06 183.7h0.99v0.99h-0.99zM180.02 183.7h0.99v0.99h-0.99zM159.17 184.69h0.99v0.99h-0.99zM181.01 184.69h0.99v0.99h-0.99zM145.27 185.68h0.99v0.99h-0.99zM144.27 186.67h1.99v0.99h-1.99zM170.09 186.67h1.99v0.99h-1.99zM175.06 186.67h0.99v0.99h-0.99zM143.28 187.66h0.99v0.99h-0.99zM179.03 187.66h0.99v0.99h-0.99zM146.26 188.65h0.99v0.99h-0.99zM165.13 188.65h1.99v0.99h-1.99zM177.04 188.65h0.99v0.99h-0.99zM179.03 190.63h0.99v0.99h-0.99z"/>
<path fill="#2d1358" d="M161.15 175.77h0.99v0.99h-0.99zM154.2 178.74h0.99v0.99h-0.99zM153.21 179.73h0.99v0.99h-0.99zM155.2 179.73h0.99v0.99h-0.99zM154.2 180.72h0.99v0.99h-0.99zM141.29 181.71h0.99v0.99h-0.99zM145.27 183.7h0.99v0.99h-0.99zM157.18 183.7h0.99v0.99h-0.99zM149.24 184.69h0.99v0.99h-0.99zM173.07 184.69h0.99v0.99h-0.99zM175.06 184.69h0.99v0.99h-0.99zM174.06 185.68h0.99v0.99h-0.99zM177.04 185.68h0.99v0.99h-0.99zM159.17 187.66h0.99v0.99h-0.99zM164.13 187.66h0.99v0.99h-0.99zM175.06 187.66h0.99v0.99h-0.99zM147.25 188.65h0.99v0.99h-0.99zM142.29 189.64h0.99v0.99h-0.99zM176.05 189.64h0.99v0.99h-0.99z"/>
<path fill="#2b104d" d="M162.15 175.77h0.99v0.99h-0.99zM158.17 176.76h0.99v0.99h-0.99zM160.16 176.76h0.99v0.99h-0.99zM174.06 176.76h0.99v0.99h-0.99zM173.07 177.75h0.99v0.99h-0.99zM179.03 177.75h0.99v0.99h-0.99zM152.22 178.74h0.99v0.99h-0.99zM164.13 178.74h0.99v0.99h-0.99zM166.12 178.74h1.99v0.99h-1.99zM178.03 178.74h0.99v0.99h-0.99zM180.02 178.74h0.99v0.99h-0.99zM182.01 178.74h0.99v0.99h-0.99zM168.1 179.73h0.99v0.99h-0.99zM179.03 179.73h0.99v0.99h-0.99zM181.01 179.73h0.99v0.99h-0.99zM143.28 180.72h0.99v0.99h-0.99zM170.09 180.72h0.99v0.99h-0.99zM167.11 182.7h0.99v0.99h-0.99zM173.07 182.7h0.99v0.99h-0.99zM147.25 183.7h0.99v0.99h-0.99zM153.21 183.7h0.99v0.99h-0.99zM160.16 183.7h0.99v0.99h-0.99zM168.1 183.7h0.99v0.99h-0.99zM143.28 184.69h0.99v0.99h-0.99zM148.24 184.69h0.99v0.99h-0.99zM151.22 184.69h0.99v0.99h-0.99zM172.08 184.69h0.99v0.99h-0.99zM178.03 184.69h0.99v0.99h-0.99zM146.26 185.68h0.99v0.99h-0.99zM151.22 185.68h0.99v0.99h-0.99zM167.11 185.68h0.99v0.99h-0.99zM171.08 185.68h0.99v0.99h-0.99zM178.03 185.68h0.99v0.99h-0.99zM142.29 186.67h0.99v0.99h-0.99zM150.23 186.67h0.99v0.99h-0.99zM174.06 186.67h0.99v0.99h-0.99zM181.01 186.67h0.99v0.99h-0.99zM157.18 187.66h0.99v0.99h-0.99zM140.3 188.65h0.99v0.99h-0.99zM152.22 188.65h1.99v0.99h-1.99zM156.19 188.65h0.99v0.99h-0.99zM168.1 188.65h0.99v0.99h-0.99zM148.24 189.64h0.99v0.99h-0.99zM151.22 189.64h0.99v0.99h-0.99zM169.1 189.64h0.99v0.99h-0.99zM181.01 189.64h0.99v0.99h-0.99zM175.06 190.63h0.99v0.99h-0.99zM145.27 192.61h0.99v0.99h-0.99zM155.2 192.61h1.99v0.99h-1.99z"/>
<path fill="#315ec3" d="M152.22 176.76h0.99v0.99h-0.99zM173.07 176.76h0.99v0.99h-0.99zM158.17 178.74h1.99v0.99h-1.99zM141.29 183.7h0.99v0.99h-0.99zM152.22 183.7h0.99v0.99h-0.99zM141.29 184.69h0.99v0.99h-0.99zM158.17 184.69h0.99v0.99h-0.99zM168.1 184.69h0.99v0.99h-0.99zM152.22 185.68h0.99v0.99h-0.99zM156.19 185.68h0.99v0.99h-0.99zM182.01 186.67h0.99v0.99h-0.99zM153.21 187.66h0.99v0.99h-0.99zM170.09 187.66h0.99v0.99h-0.99zM141.29 188.65h0.99v0.99h-0.99zM154.2 188.65h0.99v0.99h-0.99zM173.07 188.65h0.99v0.99h-0.99zM149.24 189.64h0.99v0.99h-0.99zM174.06 189.64h0.99v0.99h-0.99z"/>
<path fill="#2fc3d0" d="M156.19 176.76h0.99v0.99h-0.99zM179.03 183.7h0.99v0.99h-0.99zM145.27 184.69h0.99v0.99h-0.99zM144.27 185.68h0.99v0.99h-0.99zM148.24 185.68h1.99v0.99h-1.99zM175.06 185.68h0.99v0.99h-0.99zM167.11 186.67h0.99v0.99h-0.99zM171.08 187.66h0.99v0.99h-0.99zM181.01 187.66h0.99v0.99h-0.99z"/>
<path fill="#2ab9df" d="M157.18 176.76h0.99v0.99h-0.99zM161.15 176.76h0.99v0.99h-0.99zM153.21 178.74h0.99v0.99h-0.99zM160.16 178.74h0.99v0.99h-0.99zM163.14 178.74h0.99v0.99h-0.99zM165.13 178.74h0.99v0.99h-0.99zM154.2 179.73h0.99v0.99h-0.99zM169.1 179.73h0.99v0.99h-0.99zM166.12 183.7h0.99v0.99h-0.99zM172.08 183.7h1.99v0.99h-1.99zM150.23 184.69h0.99v0.99h-0.99zM160.16 184.69h0.99v0.99h-0.99zM165.13 184.69h0.99v0.99h-0.99zM171.08 184.69h0.99v0.99h-0.99zM174.06 184.69h0.99v0.99h-0.99zM180.02 184.69h0.99v0.99h-0.99zM170.09 185.68h0.99v0.99h-0.99zM167.11 187.66h0.99v0.99h-0.99zM177.04 187.66h0.99v0.99h-0.99zM148.24 188.65h0.99v0.99h-0.99zM179.03 188.65h0.99v0.99h-0.99z"/>
<path fill="#2e76cd" d="M162.15 176.76h0.99v0.99h-0.99zM152.22 177.75h0.99v0.99h-0.99zM155.2 177.75h0.99v0.99h-0.99zM159.17 179.73h0.99v0.99h-0.99zM140.3 183.7h0.99v0.99h-0.99zM151.22 183.7h0.99v0.99h-0.99zM156.19 183.7h0.99v0.99h-0.99zM167.11 183.7h0.99v0.99h-0.99zM153.21 184.69h0.99v0.99h-0.99zM155.2 184.69h1.99v0.99h-1.99zM167.11 184.69h0.99v0.99h-0.99zM176.05 184.69h1.99v0.99h-1.99zM155.2 185.68h0.99v0.99h-0.99zM165.13 185.68h0.99v0.99h-0.99zM176.05 185.68h0.99v0.99h-0.99zM157.18 186.67h0.99v0.99h-0.99zM173.07 186.67h0.99v0.99h-0.99zM152.22 187.66h0.99v0.99h-0.99zM174.06 187.66h0.99v0.99h-0.99zM151.22 188.65h0.99v0.99h-0.99zM169.1 188.65h0.99v0.99h-0.99zM150.23 189.64h0.99v0.99h-0.99zM180.02 189.64h0.99v0.99h-0.99z"/>
<path fill="#2f2c82" d="M167.11 176.76h0.99v0.99h-0.99zM156.19 177.75h0.99v0.99h-0.99zM168.1 177.75h0.99v0.99h-0.99zM165.13 179.73h0.99v0.99h-0.99zM171.08 183.7h0.99v0.99h-0.99zM161.15 184.69h0.99v0.99h-0.99zM170.09 184.69h0.99v0.99h-0.99zM179.03 184.69h0.99v0.99h-0.99zM147.25 185.68h0.99v0.99h-0.99zM148.24 186.67h0.99v0.99h-0.99zM178.03 186.67h0.99v0.99h-0.99zM172.08 188.65h0.99v0.99h-0.99zM144.27 189.64h0.99v0.99h-0.99zM178.03 189.64h0.99v0.99h-0.99z"/>
<path fill="#303b9a" d="M157.18 177.75h0.99v0.99h-0.99zM140.3 182.7h0.99v0.99h-0.99zM178.03 182.7h0.99v0.99h-0.99zM162.15 183.7h0.99v0.99h-0.99zM146.26 184.69h0.99v0.99h-0.99zM160.16 185.68h1.99v0.99h-1.99zM180.02 185.68h1.99v0.99h-1.99zM143.28 186.67h0.99v0.99h-0.99zM176.05 186.67h0.99v0.99h-0.99zM161.15 187.66h0.99v0.99h-0.99z"/>
<path fill="#2c8fd7" d="M158.17 177.75h0.99v0.99h-0.99zM180.02 177.75h0.99v0.99h-0.99zM179.03 178.74h0.99v0.99h-0.99zM181.01 178.74h0.99v0.99h-0.99zM143.28 179.73h0.99v0.99h-0.99zM178.03 179.73h0.99v0.99h-0.99zM182.01 179.73h0.99v0.99h-0.99zM142.29 184.69h0.99v0.99h-0.99zM152.22 184.69h0.99v0.99h-0.99zM140.3 186.67h0.99v0.99h-0.99zM147.25 186.67h0.99v0.99h-0.99zM162.15 186.67h0.99v0.99h-0.99zM142.29 187.66h0.99v0.99h-0.99zM156.19 187.66h0.99v0.99h-0.99zM145.27 188.65h0.99v0.99h-0.99zM155.2 188.65h0.99v0.99h-0.99zM143.28 189.64h0.99v0.99h-0.99zM170.09 189.64h0.99v0.99h-0.99z"/>
<path fill="#29a8e1" d="M162.15 177.75h0.99v0.99h-0.99zM166.12 177.75h1.99v0.99h-1.99zM155.2 178.74h0.99v0.99h-0.99zM168.1 178.74h0.99v0.99h-0.99zM164.13 179.73h0.99v0.99h-0.99zM140.3 181.71h0.99v0.99h-0.99zM146.26 183.7h0.99v0.99h-0.99zM161.15 183.7h0.99v0.99h-0.99zM178.03 183.7h0.99v0.99h-0.99zM147.25 184.69h0.99v0.99h-0.99zM143.28 185.68h0.99v0.99h-0.99zM154.2 185.68h0.99v0.99h-0.99zM146.26 186.67h0.99v0.99h-0.99zM158.17 186.67h0.99v0.99h-0.99zM172.08 186.67h0.99v0.99h-0.99zM160.16 187.66h0.99v0.99h-0.99z"/>
<path fill="#2e1d69" d="M163.14 177.75h0.99v0.99h-0.99zM165.13 177.75h0.99v0.99h-0.99zM169.1 178.74h0.99v0.99h-0.99zM160.16 179.73h0.99v0.99h-0.99zM170.09 179.73h0.99v0.99h-0.99zM172.08 182.7h0.99v0.99h-0.99zM144.27 184.69h0.99v0.99h-0.99zM164.13 184.69h0.99v0.99h-0.99zM166.12 184.69h0.99v0.99h-0.99zM150.23 185.68h0.99v0.99h-0.99zM141.29 186.67h0.99v0.99h-0.99zM163.14 186.67h0.99v0.99h-0.99zM149.24 187.66h0.99v0.99h-0.99zM180.02 187.66h0.99v0.99h-0.99zM182.01 188.65h0.99v0.99h-0.99zM171.08 189.64h0.99v0.99h-0.99z"/>
<path fill="#7be672" d="M157.18 184.69h0.99v0.99h-0.99zM162.15 185.68h0.99v0.99h-0.99zM152.22 186.67h0.99v0.99h-0.99zM156.19 186.67h0.99v0.99h-0.99zM161.15 186.67h0.99v0.99h-0.99zM177.04 186.67h0.99v0.99h-0.99zM141.29 187.66h0.99v0.99h-0.99zM151.22 187.66h0.99v0.99h-0.99zM154.2 187.66h1.99v0.99h-1.99zM173.07 187.66h0.99v0.99h-0.99zM144.27 188.65h0.99v0.99h-0.99zM149.24 188.65h1.99v0.99h-1.99zM170.09 188.65h0.99v0.99h-0.99zM174.06 188.65h0.99v0.99h-0.99z"/>
<path fill="#34cdc1" d="M162.15 184.69h0.99v0.99h-0.99zM168.1 185.68h0.99v0.99h-0.99zM154.2 186.67h0.99v0.99h-0.99zM140.3 187.66h0.99v0.99h-0.99zM148.24 187.66h0.99v0.99h-0.99zM175.06 188.65h0.99v0.99h-0.99zM181.01 188.65h0.99v0.99h-0.99z"/>
<path fill="#94eb5b" d="M163.14 184.69h0.99v0.99h-0.99zM153.21 186.67h0.99v0.99h-0.99zM168.1 186.67h0.99v0.99h-0.99zM169.1 187.66h0.99v0.99h-0.99z"/>
<path fill="#61e289" d="M153.21 185.68h0.99v0.99h-0.99zM145.27 187.66h0.99v0.99h-0.99zM147.25 187.66h0.99v0.99h-0.99zM166.12 187.66h0.99v0.99h-0.99zM172.08 187.66h0.99v0.99h-0.99zM176.05 187.66h0.99v0.99h-0.99zM182.01 187.66h0.99v0.99h-0.99zM142.29 188.65h1.99v0.99h-1.99zM171.08 188.65h0.99v0.99h-0.99zM180.02 188.65h0.99v0.99h-0.99zM179.03 189.64h0.99v0.99h-0.99z"/>
<path fill="#adea51" d="M157.18 185.68h0.99v0.99h-0.99zM159.17 185.68h0.99v0.99h-0.99zM159.17 186.67h0.99v0.99h-0.99z"/>
<path fill="#f59628" d="M158.17 185.68h0.99v0.99h-0.99zM163.14 185.68h1.99v0.99h-1.99z"/>
<path fill="#39d7b2" d="M160.16 186.67h0.99v0.99h-0.99zM165.13 186.67h0.99v0.99h-0.99zM146.26 187.66h0.99v0.99h-0.99zM165.13 187.66h0.99v0.99h-0.99zM176.05 188.65h0.99v0.99h-0.99zM178.03 188.65h0.99v0.99h-0.99z"/>
<path fill="#dfe63f" d="M164.13 186.67h0.99v0.99h-0.99zM169.1 186.67h0.99v0.99h-0.99z"/>
<path fill="#48dea0" d="M178.03 187.66h0.99v0.99h-0.99zM175.06 189.64h0.99v0.99h-0.99z"/></g>
<rect x="140.3" y="193.6" width="42.7" height="1.5" fill="#a898d8"/>
<rect x="140.3" y="195.1" width="42.7" height="0.5" fill="#111"/>
<g filter="url(#bl)" shape-rendering="crispEdges"><rect x="195.6" y="172.8" width="21.3" height="20.8" fill="#2a0f47"/>
<path fill="#280c3c" d="M195.6 172.8h21.3v1.04h-21.3z"/>
<path fill="#2b104d" d="M201.69 173.84h1.01v1.04h-1.01zM200.67 175.92h1.01v1.04h-1.01zM198.64 184.24h1.01v1.04h-1.01zM212.84 184.24h1.01v1.04h-1.01zM199.66 187.36h1.01v1.04h-1.01zM201.69 187.36h1.01v1.04h-1.01zM209.8 187.36h1.01v1.04h-1.01zM212.84 187.36h1.01v1.04h-1.01zM195.6 188.4h1.01v1.04h-1.01zM203.71 188.4h7.1v1.04h-7.1zM214.87 188.4h2.03v1.04h-2.03zM196.61 189.44h1.01v1.04h-1.01zM196.61 192.56h4.06v1.04h-4.06zM208.79 192.56h1.01v1.04h-1.01zM213.86 192.56h2.03v1.04h-2.03z"/>
<path fill="#290d42" d="M206.76 173.84h3.04v1.04h-3.04zM213.86 173.84h1.01v1.04h-1.01zM205.74 174.88h2.03v1.04h-2.03zM213.86 174.88h2.03v1.04h-2.03zM195.6 175.92h1.01v1.04h-1.01zM202.7 175.92h1.01v1.04h-1.01zM205.74 175.92h1.01v1.04h-1.01zM208.79 175.92h1.01v1.04h-1.01zM213.86 175.92h2.03v1.04h-2.03zM195.6 176.96h1.01v1.04h-1.01zM197.63 176.96h2.03v1.04h-2.03zM202.7 176.96h1.01v1.04h-1.01zM208.79 176.96h1.01v1.04h-1.01zM211.83 176.96h4.06v1.04h-4.06zM198.64 178h5.07v1.04h-5.07zM209.8 178h4.06v1.04h-4.06zM199.66 179.04h5.07v1.04h-5.07zM209.8 179.04h2.03v1.04h-2.03zM198.64 180.08h2.03v1.04h-2.03zM202.7 180.08h2.03v1.04h-2.03zM211.83 180.08h3.04v1.04h-3.04zM215.89 180.08h1.01v1.04h-1.01zM196.61 181.12h3.04v1.04h-3.04zM203.71 181.12h4.06v1.04h-4.06zM212.84 181.12h2.03v1.04h-2.03zM196.61 182.16h3.04v1.04h-3.04zM204.73 182.16h4.06v1.04h-4.06zM212.84 182.16h2.03v1.04h-2.03zM197.63 183.2h2.03v1.04h-2.03zM212.84 183.2h1.01v1.04h-1.01zM200.67 188.4h1.01v1.04h-1.01zM211.83 188.4h1.01v1.04h-1.01zM210.81 192.56h2.03v1.04h-2.03z"/>
<path fill="#2c1252" d="M199.66 184.24h1.01v1.04h-1.01zM211.83 184.24h1.01v1.04h-1.01zM196.61 185.28h1.01v1.04h-1.01zM205.74 186.32h1.01v1.04h-1.01zM213.86 187.36h1.01v1.04h-1.01zM197.63 189.44h1.01v1.04h-1.01zM195.6 192.56h1.01v1.04h-1.01z"/>
<path fill="#2d1358" d="M200.67 184.24h1.01v1.04h-1.01zM204.73 186.32h1.01v1.04h-1.01zM206.76 186.32h2.03v1.04h-2.03zM198.64 187.36h1.01v1.04h-1.01zM198.64 189.44h1.01v1.04h-1.01zM215.89 189.44h1.01v1.04h-1.01z"/>
<path fill="#2e1d69" d="M201.69 184.24h1.01v1.04h-1.01zM209.8 184.24h2.03v1.04h-2.03zM203.71 186.32h1.01v1.04h-1.01zM214.87 187.36h1.01v1.04h-1.01zM199.66 189.44h1.01v1.04h-1.01zM213.86 189.44h2.03v1.04h-2.03zM202.7 191.52h6.09v1.04h-6.09zM209.8 191.52h2.03v1.04h-2.03z"/>
<path fill="#2f2c82" d="M202.7 184.24h1.01v1.04h-1.01zM208.79 184.24h1.01v1.04h-1.01zM197.63 185.28h1.01v1.04h-1.01zM215.89 185.28h1.01v1.04h-1.01zM202.7 186.32h1.01v1.04h-1.01zM208.79 186.32h1.01v1.04h-1.01zM197.63 187.36h1.01v1.04h-1.01zM208.79 191.52h1.01v1.04h-1.01z"/>
<path fill="#3149b3" d="M203.71 184.24h1.01v1.04h-1.01zM213.86 185.28h1.01v1.04h-1.01zM200.67 186.32h1.01v1.04h-1.01zM201.69 189.44h1.01v1.04h-1.01zM210.81 189.44h1.01v1.04h-1.01zM200.67 191.52h1.01v1.04h-1.01zM212.84 191.52h1.01v1.04h-1.01z"/>
<path fill="#315ec3" d="M204.73 184.24h1.01v1.04h-1.01zM206.76 184.24h1.01v1.04h-1.01zM198.64 185.28h1.01v1.04h-1.01zM210.81 186.32h1.01v1.04h-1.01zM196.61 187.36h1.01v1.04h-1.01z"/>
<path fill="#2e76cd" d="M205.74 184.24h1.01v1.04h-1.01zM211.83 186.32h1.01v1.04h-1.01zM202.7 189.44h1.01v1.04h-1.01zM205.74 189.44h5.07v1.04h-5.07zM199.66 191.52h1.01v1.04h-1.01zM213.86 191.52h1.01v1.04h-1.01z"/>
<path fill="#303b9a" d="M207.77 184.24h1.01v1.04h-1.01zM214.87 185.28h1.01v1.04h-1.01zM201.69 186.32h1.01v1.04h-1.01zM209.8 186.32h1.01v1.04h-1.01zM215.89 187.36h1.01v1.04h-1.01zM200.67 189.44h1.01v1.04h-1.01zM211.83 189.44h2.03v1.04h-2.03zM201.69 191.52h1.01v1.04h-1.01zM211.83 191.52h1.01v1.04h-1.01z"/>
<path fill="#29a8e1" d="M199.66 185.28h1.01v1.04h-1.01zM213.86 186.32h1.01v1.04h-1.01zM215.89 191.52h1.01v1.04h-1.01z"/>
<path fill="#2fc3d0" d="M200.67 185.28h2.03v1.04h-2.03zM204.73 185.28h1.01v1.04h-1.01zM206.76 185.28h3.04v1.04h-3.04zM197.63 186.32h2.03v1.04h-2.03zM214.87 186.32h1.01v1.04h-1.01zM196.61 190.48h1.01v1.04h-1.01zM196.61 191.52h1.01v1.04h-1.01z"/>
<path fill="#34cdc1" d="M202.7 185.28h2.03v1.04h-2.03zM209.8 185.28h2.03v1.04h-2.03zM215.89 186.32h1.01v1.04h-1.01zM195.6 191.52h1.01v1.04h-1.01z"/>
<path fill="#2ab9df" d="M205.74 185.28h1.01v1.04h-1.01zM211.83 185.28h1.01v1.04h-1.01zM196.61 186.32h1.01v1.04h-1.01zM195.6 190.48h1.01v1.04h-1.01zM197.63 191.52h1.01v1.04h-1.01z"/>
<path fill="#2c8fd7" d="M212.84 185.28h1.01v1.04h-1.01zM195.6 186.32h1.01v1.04h-1.01zM199.66 186.32h1.01v1.04h-1.01zM212.84 186.32h1.01v1.04h-1.01zM195.6 187.36h1.01v1.04h-1.01zM203.71 189.44h2.03v1.04h-2.03zM198.64 191.52h1.01v1.04h-1.01zM214.87 191.52h1.01v1.04h-1.01z"/>
<path fill="#39d7b2" d="M197.63 190.48h1.01v1.04h-1.01z"/>
<path fill="#61e289" d="M198.64 190.48h1.01v1.04h-1.01zM202.7 190.48h1.01v1.04h-1.01zM204.73 190.48h7.1v1.04h-7.1zM213.86 190.48h3.04v1.04h-3.04z"/>
<path fill="#7be672" d="M199.66 190.48h3.04v1.04h-3.04zM203.71 190.48h1.01v1.04h-1.01zM211.83 190.48h2.03v1.04h-2.03z"/></g>
<rect x="195.6" y="193.6" width="21.3" height="1.5" fill="#a898d8"/>
<rect x="195.6" y="195.1" width="21.3" height="0.5" fill="#111"/>
<g filter="url(#bl)" shape-rendering="crispEdges"><rect x="224" y="172.8" width="21" height="20.8" fill="#2a0f47"/>
<path fill="#280c3c" d="M224 172.8h21v1.04h-21z"/>
<path fill="#290d42" d="M224 173.84h1v1.04h-1zM233 173.84h3v1.04h-3zM232 174.88h1v1.04h-1zM234 174.88h1v1.04h-1zM226 175.92h1v1.04h-1zM243 175.92h2v1.04h-2zM227 176.96h1v1.04h-1zM242 176.96h3v1.04h-3zM227 178h1v1.04h-1zM242 178h3v1.04h-3zM226 179.04h5v1.04h-5zM233 179.04h2v1.04h-2zM241 179.04h2v1.04h-2zM227 180.08h8v1.04h-8zM236 180.08h2v1.04h-2zM239 180.08h5v1.04h-5zM229 181.12h5v1.04h-5zM235 181.12h1v1.04h-1zM240 181.12h3v1.04h-3zM224 182.16h2v1.04h-2zM234 182.16h2v1.04h-2zM240 182.16h3v1.04h-3zM224 183.2h3v1.04h-3zM233 183.2h3v1.04h-3zM225 184.24h2v1.04h-2z"/>
<path fill="#2b104d" d="M239 173.84h1v1.04h-1zM228 174.88h3v1.04h-3zM229 175.92h2v1.04h-2zM238 176.96h1v1.04h-1zM232 178h1v1.04h-1zM238 178h1v1.04h-1zM242 183.2h1v1.04h-1zM228 184.24h7v1.04h-7zM226 185.28h1v1.04h-1zM231 192.56h2v1.04h-2zM237 192.56h1v1.04h-1zM242 192.56h2v1.04h-2z"/>
<path fill="#2c1252" d="M243 183.2h2v1.04h-2zM235 184.24h1v1.04h-1zM241 186.32h4v1.04h-4zM235 187.36h1v1.04h-1zM242 189.44h3v1.04h-3zM226 192.56h4v1.04h-4zM244 192.56h1v1.04h-1z"/>
<path fill="#2d1358" d="M236 184.24h1v1.04h-1zM227 185.28h1v1.04h-1zM239 186.32h2v1.04h-2zM230 187.36h5v1.04h-5zM236 187.36h3v1.04h-3zM243 188.4h2v1.04h-2zM226 189.44h9v1.04h-9zM241 189.44h1v1.04h-1zM225 192.56h1v1.04h-1zM230 192.56h1v1.04h-1z"/>
<path fill="#2e1d69" d="M237 184.24h1v1.04h-1zM238 186.32h1v1.04h-1zM229 187.36h1v1.04h-1zM242 188.4h1v1.04h-1zM224 189.44h2v1.04h-2zM235 189.44h2v1.04h-2zM240 189.44h1v1.04h-1zM224 192.56h1v1.04h-1z"/>
<path fill="#303b9a" d="M238 184.24h1v1.04h-1zM236 186.32h1v1.04h-1zM228 187.36h1v1.04h-1zM242 187.36h2v1.04h-2zM235 188.4h6v1.04h-6z"/>
<path fill="#3149b3" d="M239 184.24h2v1.04h-2zM235 186.32h1v1.04h-1zM244 187.36h1v1.04h-1zM233 188.4h2v1.04h-2z"/>
<path fill="#315ec3" d="M241 184.24h1v1.04h-1zM229 185.28h2v1.04h-2zM225 186.32h1v1.04h-1zM227 187.36h1v1.04h-1zM227 188.4h6v1.04h-6zM237 191.52h2v1.04h-2z"/>
<path fill="#2c8fd7" d="M242 184.24h1v1.04h-1zM232 185.28h2v1.04h-2zM244 185.28h1v1.04h-1zM226 186.32h1v1.04h-1zM233 186.32h1v1.04h-1zM225 188.4h1v1.04h-1zM225 190.48h1v1.04h-1zM233 191.52h1v1.04h-1zM240 191.52h1v1.04h-1z"/>
<path fill="#29a8e1" d="M243 184.24h2v1.04h-2zM234 185.28h1v1.04h-1zM241 185.28h1v1.04h-1zM243 185.28h1v1.04h-1zM231 186.32h2v1.04h-2zM226 187.36h1v1.04h-1zM226 190.48h1v1.04h-1zM241 191.52h1v1.04h-1z"/>
<path fill="#2f2c82" d="M228 185.28h1v1.04h-1zM224 186.32h1v1.04h-1zM237 186.32h1v1.04h-1zM239 187.36h3v1.04h-3zM241 188.4h1v1.04h-1zM237 189.44h3v1.04h-3z"/>
<path fill="#2e76cd" d="M231 185.28h1v1.04h-1zM234 186.32h1v1.04h-1zM226 188.4h1v1.04h-1zM224 190.48h1v1.04h-1zM234 191.52h3v1.04h-3zM239 191.52h1v1.04h-1z"/>
<path fill="#2ab9df" d="M235 185.28h1v1.04h-1zM240 185.28h1v1.04h-1zM242 185.28h1v1.04h-1zM227 186.32h1v1.04h-1zM230 186.32h1v1.04h-1zM224 188.4h1v1.04h-1zM227 190.48h2v1.04h-2zM231 191.52h2v1.04h-2zM242 191.52h1v1.04h-1z"/>
<path fill="#2fc3d0" d="M236 185.28h4v1.04h-4zM228 186.32h2v1.04h-2zM225 187.36h1v1.04h-1zM229 190.48h1v1.04h-1zM243 191.52h1v1.04h-1z"/>
<path fill="#34cdc1" d="M224 187.36h1v1.04h-1zM230 190.48h1v1.04h-1zM243 190.48h2v1.04h-2zM228 191.52h3v1.04h-3zM244 191.52h1v1.04h-1z"/>
<path fill="#39d7b2" d="M231 190.48h2v1.04h-2zM242 190.48h1v1.04h-1zM227 191.52h1v1.04h-1z"/>
<path fill="#48dea0" d="M233 190.48h2v1.04h-2zM241 190.48h1v1.04h-1zM224 191.52h3v1.04h-3z"/>
<path fill="#61e289" d="M235 190.48h3v1.04h-3zM239 190.48h2v1.04h-2z"/>
<path fill="#7be672" d="M238 190.48h1v1.04h-1z"/></g>
<rect x="224" y="193.6" width="21" height="1.5" fill="#a898d8"/>
<rect x="224" y="195.1" width="21" height="0.5" fill="#111"/>
<g filter="url(#bl)" shape-rendering="crispEdges"><rect x="252.2" y="172.8" width="21" height="20.8" fill="#2a0f47"/>
<path fill="#280c3c" d="M252.2 172.8h21v1.04h-21z"/>
<path fill="#290d42" d="M252.2 173.84h1v1.04h-1zM271.2 173.84h1v1.04h-1zM271.2 174.88h1v1.04h-1zM254.2 178h1v1.04h-1zM253.2 179.04h2v1.04h-2zM258.2 180.08h1v1.04h-1zM266.2 181.12h2v1.04h-2zM258.2 182.16h2v1.04h-2zM264.2 182.16h4v1.04h-4zM269.2 182.16h3v1.04h-3zM257.2 183.2h1v1.04h-1zM259.2 183.2h1v1.04h-1zM265.2 183.2h2v1.04h-2zM269.2 183.2h2v1.04h-2zM255.2 190.48h2v1.04h-2zM259.2 190.48h7v1.04h-7zM252.2 191.52h1v1.04h-1zM258.2 191.52h8v1.04h-8zM255.2 192.56h2v1.04h-2zM258.2 192.56h2v1.04h-2zM262.2 192.56h4v1.04h-4zM269.2 192.56h2v1.04h-2z"/>
<path fill="#2b104d" d="M255.2 173.84h1v1.04h-1zM263.2 173.84h1v1.04h-1zM268.2 174.88h2v1.04h-2zM256.2 176.96h1v1.04h-1zM260.2 176.96h1v1.04h-1zM252.2 178h1v1.04h-1zM266.2 178h2v1.04h-2zM255.2 180.08h1v1.04h-1zM253.2 182.16h2v1.04h-2zM252.2 183.2h1v1.04h-1zM254.2 183.2h2v1.04h-2zM256.2 184.24h2v1.04h-2zM267.2 184.24h2v1.04h-2zM268.2 188.4h1v1.04h-1zM271.2 190.48h1v1.04h-1z"/>
<path fill="#2d1358" d="M256.2 173.84h1v1.04h-1zM260.2 173.84h1v1.04h-1zM253.2 174.88h1v1.04h-1zM265.2 174.88h1v1.04h-1zM258.2 175.92h1v1.04h-1zM262.2 176.96h2v1.04h-2zM271.2 178h1v1.04h-1zM265.2 184.24h1v1.04h-1zM259.2 187.36h1v1.04h-1zM262.2 187.36h1v1.04h-1zM264.2 188.4h1v1.04h-1zM270.2 188.4h2v1.04h-2zM259.2 189.44h2v1.04h-2z"/>
<path fill="#2e1d69" d="M257.2 173.84h1v1.04h-1zM259.2 173.84h1v1.04h-1zM264.2 174.88h1v1.04h-1zM254.2 176.96h1v1.04h-1zM272.2 178h1v1.04h-1zM255.2 184.24h1v1.04h-1zM263.2 184.24h2v1.04h-2zM263.2 187.36h2v1.04h-2zM262.2 188.4h2v1.04h-2zM272.2 188.4h1v1.04h-1zM261.2 189.44h2v1.04h-2z"/>
<path fill="#303b9a" d="M258.2 173.84h1v1.04h-1zM271.2 175.92h1v1.04h-1zM252.2 184.24h2v1.04h-2zM262.2 184.24h1v1.04h-1zM270.2 185.28h1v1.04h-1zM252.2 187.36h1v1.04h-1zM266.2 187.36h1v1.04h-1zM257.2 188.4h3v1.04h-3zM264.2 189.44h2v1.04h-2z"/>
<path fill="#2c1252" d="M261.2 173.84h2v1.04h-2zM252.2 174.88h1v1.04h-1zM266.2 174.88h2v1.04h-2zM255.2 176.96h1v1.04h-1zM261.2 176.96h1v1.04h-1zM268.2 178h3v1.04h-3zM253.2 183.2h1v1.04h-1zM258.2 184.24h1v1.04h-1zM266.2 184.24h1v1.04h-1zM260.2 187.36h2v1.04h-2zM265.2 188.4h3v1.04h-3zM269.2 188.4h1v1.04h-1zM252.2 189.44h7v1.04h-7zM272.2 190.48h1v1.04h-1z"/>
<path fill="#3149b3" d="M254.2 174.88h1v1.04h-1zM263.2 174.88h1v1.04h-1zM270.2 175.92h1v1.04h-1zM253.2 176.96h1v1.04h-1zM265.2 176.96h1v1.04h-1zM260.2 184.24h2v1.04h-2zM266.2 189.44h3v1.04h-3z"/>
<path fill="#2c8fd7" d="M255.2 174.88h1v1.04h-1zM262.2 174.88h1v1.04h-1zM252.2 175.92h1v1.04h-1zM261.2 175.92h1v1.04h-1zM266.2 175.92h2v1.04h-2zM252.2 176.96h1v1.04h-1zM266.2 176.96h1v1.04h-1zM268.2 185.28h1v1.04h-1zM269.2 187.36h1v1.04h-1z"/>
<path fill="#2ab9df" d="M256.2 174.88h1v1.04h-1zM258.2 174.88h1v1.04h-1zM262.2 175.92h1v1.04h-1zM265.2 175.92h1v1.04h-1zM268.2 176.96h3v1.04h-3zM260.2 186.32h1v1.04h-1zM255.2 187.36h2v1.04h-2zM270.2 187.36h1v1.04h-1z"/>
<path fill="#2fc3d0" d="M257.2 174.88h1v1.04h-1zM259.2 174.88h2v1.04h-2zM253.2 175.92h2v1.04h-2zM263.2 175.92h2v1.04h-2zM271.2 176.96h2v1.04h-2zM255.2 185.28h1v1.04h-1zM266.2 185.28h1v1.04h-1zM261.2 186.32h1v1.04h-1z"/>
<path fill="#29a8e1" d="M261.2 174.88h1v1.04h-1zM255.2 175.92h1v1.04h-1zM267.2 176.96h1v1.04h-1zM257.2 185.28h1v1.04h-1zM267.2 185.28h1v1.04h-1zM254.2 187.36h1v1.04h-1z"/>
<path fill="#315ec3" d="M256.2 175.92h1v1.04h-1zM260.2 175.92h1v1.04h-1zM269.2 175.92h1v1.04h-1zM269.2 185.28h1v1.04h-1zM267.2 187.36h1v1.04h-1zM252.2 188.4h1v1.04h-1zM256.2 188.4h1v1.04h-1zM269.2 189.44h1v1.04h-1zM272.2 189.44h1v1.04h-1z"/>
<path fill="#2f2c82" d="M257.2 175.92h1v1.04h-1zM259.2 175.92h1v1.04h-1zM272.2 175.92h1v1.04h-1zM264.2 176.96h1v1.04h-1zM254.2 184.24h1v1.04h-1zM259.2 184.24h1v1.04h-1zM271.2 185.28h2v1.04h-2zM258.2 187.36h1v1.04h-1zM265.2 187.36h1v1.04h-1zM260.2 188.4h2v1.04h-2zM263.2 189.44h1v1.04h-1z"/>
<path fill="#2e76cd" d="M268.2 175.92h1v1.04h-1zM256.2 185.28h1v1.04h-1zM253.2 187.36h1v1.04h-1zM257.2 187.36h1v1.04h-1zM268.2 187.36h1v1.04h-1zM253.2 188.4h3v1.04h-3zM270.2 189.44h2v1.04h-2z"/>
<path fill="#94eb5b" d="M252.2 185.28h2v1.04h-2zM260.2 185.28h2v1.04h-2zM252.2 186.32h1v1.04h-1zM257.2 186.32h1v1.04h-1zM267.2 186.32h3v1.04h-3z"/>
<path fill="#61e289" d="M254.2 185.28h1v1.04h-1zM259.2 185.28h1v1.04h-1zM263.2 185.28h1v1.04h-1zM264.2 186.32h2v1.04h-2zM272.2 186.32h1v1.04h-1z"/>
<path fill="#34cdc1" d="M258.2 185.28h1v1.04h-1zM271.2 187.36h1v1.04h-1z"/>
<path fill="#7be672" d="M262.2 185.28h1v1.04h-1zM258.2 186.32h1v1.04h-1zM266.2 186.32h1v1.04h-1zM270.2 186.32h2v1.04h-2z"/>
<path fill="#48dea0" d="M264.2 185.28h1v1.04h-1zM263.2 186.32h1v1.04h-1zM272.2 187.36h1v1.04h-1z"/>
<path fill="#39d7b2" d="M265.2 185.28h1v1.04h-1zM259.2 186.32h1v1.04h-1zM262.2 186.32h1v1.04h-1z"/>
<path fill="#ead137" d="M253.2 186.32h1v1.04h-1z"/>
<path fill="#efb42f" d="M254.2 186.32h1v1.04h-1z"/>
<path fill="#dfe63f" d="M255.2 186.32h1v1.04h-1z"/>
<path fill="#adea51" d="M256.2 186.32h1v1.04h-1z"/></g>
<rect x="252.2" y="193.6" width="21" height="1.5" fill="#a898d8"/>
<rect x="252.2" y="195.1" width="21" height="0.5" fill="#111"/>
<g filter="url(#bl2)" shape-rendering="crispEdges"><rect x="114" y="195.6" width="22.1" height="76.2" fill="#000000"/>
<path fill="#b6b6b6" d="M115 195.6h1v1h-1zM132.08 195.6h1v1h-1zM131.08 200.61h1v1h-1zM118.02 204.62h1v1h-1zM128.06 204.62h1v1h-1zM115 208.63h1v1h-1zM114 213.65h1v1h-1zM121.03 215.65h1v1h-1zM128.06 215.65h1v1h-1zM129.07 220.67h1v1h-1zM114 221.67h1v1h-1zM132.08 221.67h1v1h-1zM121.03 222.67h1v1h-1zM134.09 223.67h1v1h-1zM135.1 225.68h1v1h-1zM131.08 227.68h1v1h-1zM127.06 230.69h1v1h-1zM130.07 234.7h1v1h-1zM117.01 239.72h1v1h-1zM124.05 239.72h1v1h-1zM122.04 240.72h1v1h-1zM135.1 240.72h1v1h-1zM120.03 241.72h1v1h-1zM134.09 242.72h1v1h-1zM131.08 243.73h1v1h-1zM128.06 245.73h1v1h-1zM135.1 249.74h1v1h-1zM120.03 250.74h1v1h-1zM130.07 252.75h1v1h-1zM123.04 253.75h1v1h-1zM132.08 253.75h1v1h-1zM121.03 254.76h1v1h-1zM122.04 259.77h1v1h-1zM125.05 259.77h1v1h-1zM122.04 260.77h1v1h-1zM117.01 261.77h1v1h-1zM124.05 262.78h1v1h-1zM123.04 265.78h1v1h-1zM119.02 267.79h1v1h-1zM116.01 269.79h1v1h-1zM116.01 270.8h1v1h-1z"/>
<path fill="#242424" d="M116.01 195.6h15.07v1h-15.07zM114 196.6h8.04v1h-8.04zM118.02 201.62h7.03v1h-7.03zM126.05 201.62h8.04v1h-8.04zM122.04 202.62h5.02v1h-5.02zM119.02 205.63h3.01v1h-3.01zM125.05 205.63h5.02v1h-5.02zM118.02 208.63h2.01v1h-2.01zM121.03 208.63h1v1h-1zM124.05 208.63h3.01v1h-3.01zM121.03 212.64h6.03v1h-6.03zM129.07 212.64h7.03v1h-7.03zM114 215.65h3.01v1h-3.01zM119.02 215.65h1v1h-1zM125.05 215.65h2.01v1h-2.01zM116.01 221.67h4.02v1h-4.02zM124.05 221.67h2.01v1h-2.01zM117.01 222.67h4.02v1h-4.02zM122.04 222.67h2.01v1h-2.01zM120.03 224.68h13.06v1h-13.06zM116.01 236.71h9.04v1h-9.04zM121.03 238.71h9.04v1h-9.04zM121.03 241.72h7.03v1h-7.03zM115 246.73h13.06v1h-13.06zM115 249.74h10.05v1h-10.05zM122.04 250.74h4.02v1h-4.02zM127.06 250.74h9.04v1h-9.04zM120.03 257.76h6.03v1h-6.03zM131.08 257.76h2.01v1h-2.01zM120.03 261.77h11.05v1h-11.05zM118.02 264.78h7.03v1h-7.03zM127.06 264.78h8.04v1h-8.04zM121.03 267.79h6.03v1h-6.03z"/>
<path fill="#494949" d="M131.08 195.6h1v1h-1zM122.04 196.6h1v1h-1zM117.01 199.61h1v1h-1zM128.06 200.61h1v1h-1zM121.03 202.62h1v1h-1zM133.09 202.62h1v1h-1zM120.03 203.62h1v1h-1zM122.04 205.63h3.01v1h-3.01zM122.04 208.63h2.01v1h-2.01zM130.07 208.63h4.02v1h-4.02zM135.1 208.63h1v1h-1zM121.03 209.64h1v1h-1zM114 211.64h1v1h-1zM127.06 212.64h1v1h-1zM117.01 215.65h2.01v1h-2.01zM120.03 221.67h4.02v1h-4.02zM127.06 221.67h1v1h-1zM134.09 221.67h2.01v1h-2.01zM123.04 226.68h1v1h-1zM132.08 227.68h1v1h-1zM129.07 228.69h1v1h-1zM135.1 229.69h1v1h-1zM123.04 230.69h1v1h-1zM132.08 230.69h1v1h-1zM130.07 232.7h1v1h-1zM123.04 240.72h1v1h-1zM128.06 246.73h1v1h-1zM130.07 246.73h1v1h-1zM133.09 252.75h1v1h-1zM124.05 253.75h1v1h-1zM127.06 253.75h1v1h-1zM127.06 255.76h1v1h-1zM126.05 257.76h5.02v1h-5.02zM126.05 259.77h1v1h-1zM116.01 261.77h1v1h-1zM119.02 261.77h1v1h-1zM125.05 262.78h1v1h-1zM126.05 264.78h1v1h-1zM119.02 265.78h1v1h-1zM124.05 265.78h1v1h-1zM120.03 267.79h1v1h-1zM127.06 267.79h4.02v1h-4.02zM132.08 267.79h3.01v1h-3.01zM117.01 269.79h1v1h-1zM117.01 270.8h1v1h-1zM125.05 270.8h1v1h-1zM135.1 270.8h1v1h-1z"/>
<path fill="#6d6d6d" d="M133.09 195.6h1v1h-1zM117.01 198.61h1v1h-1zM130.07 198.61h1v1h-1zM115 199.61h1v1h-1zM134.09 199.61h1v1h-1zM132.08 200.61h1v1h-1zM117.01 201.62h1v1h-1zM134.09 201.62h1v1h-1zM129.07 202.62h1v1h-1zM121.03 203.62h1v1h-1zM117.01 204.62h1v1h-1zM129.07 204.62h2.01v1h-2.01zM134.09 207.63h1v1h-1zM127.06 208.63h2.01v1h-2.01zM133.09 209.64h2.01v1h-2.01zM128.06 210.64h3.01v1h-3.01zM127.06 211.64h1v1h-1zM128.06 212.64h1v1h-1zM115 213.65h1v1h-1zM119.02 213.65h1v1h-1zM124.05 214.65h1v1h-1zM124.05 215.65h1v1h-1zM117.01 216.66h1v1h-1zM132.08 216.66h1v1h-1zM126.05 218.66h2.01v1h-2.01zM129.07 218.66h1v1h-1zM126.05 220.67h1v1h-1zM130.07 220.67h1v1h-1zM133.09 221.67h1v1h-1zM118.02 223.67h1v1h-1zM121.03 223.67h2.01v1h-2.01zM124.05 223.67h1v1h-1zM135.1 223.67h1v1h-1zM114 225.68h1v1h-1zM122.04 226.68h1v1h-1zM115 228.69h1v1h-1zM133.09 228.69h1v1h-1zM122.04 230.69h1v1h-1zM129.07 230.69h1v1h-1zM121.03 231.69h2.01v1h-2.01zM131.08 231.69h3.01v1h-3.01zM129.07 232.7h1v1h-1zM120.03 233.7h2.01v1h-2.01zM114 237.71h1v1h-1zM115 241.72h1v1h-1zM129.07 241.72h2.01v1h-2.01zM124.05 243.73h1v1h-1zM116.01 244.73h2.01v1h-2.01zM119.02 244.73h1v1h-1zM129.07 244.73h3.01v1h-3.01zM129.07 245.73h1v1h-1zM135.1 246.73h1v1h-1zM124.05 247.74h1v1h-1zM129.07 249.74h2.01v1h-2.01zM117.01 250.74h1v1h-1zM121.03 250.74h1v1h-1zM126.05 250.74h1v1h-1zM132.08 251.75h2.01v1h-2.01zM135.1 251.75h1v1h-1zM133.09 253.75h1v1h-1zM119.02 254.76h1v1h-1zM122.04 254.76h1v1h-1zM127.06 254.76h1v1h-1zM115 255.76h1v1h-1zM123.04 256.76h1v1h-1zM131.08 258.77h1v1h-1zM123.04 259.77h1v1h-1zM114 260.77h1v1h-1zM123.04 260.77h1v1h-1zM118.02 261.77h1v1h-1zM133.09 261.77h1v1h-1zM128.06 266.79h1v1h-1zM131.08 267.79h1v1h-1zM123.04 270.8h2.01v1h-2.01zM129.07 270.8h1v1h-1z"/>
<path fill="#929292" d="M122.04 197.61h2.01v1h-2.01zM118.02 198.61h1v1h-1zM116.01 199.61h1v1h-1zM133.09 199.61h1v1h-1zM129.07 200.61h1v1h-1zM116.01 201.62h1v1h-1zM135.1 201.62h1v1h-1zM128.06 202.62h1v1h-1zM132.08 202.62h1v1h-1zM114 203.62h1v1h-1zM131.08 203.62h2.01v1h-2.01zM116.01 204.62h1v1h-1zM114 206.63h1v1h-1zM130.07 206.63h1v1h-1zM135.1 206.63h1v1h-1zM129.07 208.63h1v1h-1zM124.05 209.64h1v1h-1zM135.1 209.64h1v1h-1zM128.06 211.64h1v1h-1zM118.02 213.65h1v1h-1zM125.05 213.65h1v1h-1zM125.05 214.65h1v1h-1zM122.04 215.65h1v1h-1zM129.07 215.65h1v1h-1zM131.08 216.66h1v1h-1zM126.05 221.67h1v1h-1zM119.02 223.67h1v1h-1zM123.04 223.67h1v1h-1zM132.08 225.68h1v1h-1zM114 230.69h1v1h-1zM130.07 230.69h1v1h-1zM118.02 231.69h1v1h-1zM123.04 231.69h1v1h-1zM134.09 231.69h1v1h-1zM114 233.7h1v1h-1zM116.01 233.7h1v1h-1zM131.08 234.7h1v1h-1zM118.02 239.72h1v1h-1zM133.09 239.72h1v1h-1zM120.03 240.72h2.01v1h-2.01zM122.04 245.73h1v1h-1zM114 246.73h1v1h-1zM129.07 246.73h1v1h-1zM129.07 248.74h1v1h-1zM114 249.74h1v1h-1zM118.02 250.74h1v1h-1zM126.05 251.75h2.01v1h-2.01zM124.05 252.75h1v1h-1zM126.05 253.75h1v1h-1zM128.06 255.76h1v1h-1zM122.04 258.77h1v1h-1zM115 260.77h1v1h-1zM129.07 263.78h1v1h-1zM125.05 264.78h1v1h-1zM120.03 265.78h1v1h-1zM127.06 266.79h1v1h-1zM134.09 270.8h1v1h-1z"/>
<path fill="#dbdbdb" d="M129.07 198.61h1v1h-1zM124.05 204.62h1v1h-1zM117.01 206.63h1v1h-1zM120.03 208.63h1v1h-1zM134.09 208.63h1v1h-1zM120.03 209.64h1v1h-1zM124.05 213.65h1v1h-1zM120.03 215.65h1v1h-1zM123.04 215.65h1v1h-1zM124.05 216.66h1v1h-1zM124.05 217.66h1v1h-1zM128.06 218.66h1v1h-1zM128.06 219.66h1v1h-1zM133.09 225.68h1v1h-1zM120.03 228.69h1v1h-1zM130.07 233.7h1v1h-1zM123.04 235.71h1v1h-1zM126.05 239.72h2.01v1h-2.01zM114 241.72h1v1h-1zM121.03 245.73h1v1h-1zM118.02 254.76h1v1h-1zM121.03 255.76h1v1h-1zM132.08 261.77h1v1h-1zM128.06 270.8h1v1h-1z"/></g>
<g filter="url(#bl2)" shape-rendering="crispEdges"><rect x="140.3" y="195.6" width="42.7" height="76.2" fill="#000000"/>
<path fill="#929292" d="M141.29 195.6h0.99v1h-0.99zM153.21 195.6h0.99v1h-0.99zM178.03 195.6h0.99v1h-0.99zM180.02 195.6h0.99v1h-0.99zM141.29 196.6h0.99v1h-0.99zM144.27 196.6h0.99v1h-0.99zM165.13 196.6h0.99v1h-0.99zM169.1 196.6h0.99v1h-0.99zM173.07 196.6h0.99v1h-0.99zM141.29 197.61h0.99v1h-0.99zM146.26 197.61h0.99v1h-0.99zM152.22 197.61h0.99v1h-0.99zM153.21 198.61h0.99v1h-0.99zM140.3 199.61h0.99v1h-0.99zM142.29 199.61h0.99v1h-0.99zM163.14 199.61h0.99v1h-0.99zM175.06 199.61h0.99v1h-0.99zM142.29 200.61h1.99v1h-1.99zM162.15 200.61h0.99v1h-0.99zM145.27 201.62h0.99v1h-0.99zM141.29 202.62h0.99v1h-0.99zM147.25 202.62h1.99v1h-1.99zM180.02 202.62h1.99v1h-1.99zM143.28 203.62h0.99v1h-0.99zM179.03 203.62h0.99v1h-0.99zM181.01 203.62h0.99v1h-0.99zM145.27 204.62h1.99v1h-1.99zM171.08 204.62h1.99v1h-1.99zM148.24 205.63h0.99v1h-0.99zM163.14 205.63h0.99v1h-0.99zM165.13 205.63h0.99v1h-0.99zM176.05 205.63h0.99v1h-0.99zM162.15 206.63h0.99v1h-0.99zM164.13 206.63h0.99v1h-0.99zM146.26 207.63h0.99v1h-0.99zM164.13 207.63h0.99v1h-0.99zM153.21 208.63h0.99v1h-0.99zM161.15 208.63h0.99v1h-0.99zM147.25 209.64h0.99v1h-0.99zM159.17 209.64h0.99v1h-0.99zM152.22 212.64h0.99v1h-0.99zM181.01 213.65h0.99v1h-0.99zM143.28 214.65h0.99v1h-0.99zM169.1 214.65h0.99v1h-0.99zM180.02 214.65h0.99v1h-0.99zM157.18 215.65h0.99v1h-0.99zM142.29 216.66h0.99v1h-0.99zM168.1 216.66h0.99v1h-0.99zM152.22 217.66h0.99v1h-0.99zM143.28 218.66h0.99v1h-0.99zM167.11 219.66h0.99v1h-0.99zM154.2 220.67h0.99v1h-0.99zM165.13 221.67h0.99v1h-0.99zM170.09 221.67h0.99v1h-0.99zM161.15 222.67h0.99v1h-0.99zM149.24 223.67h0.99v1h-0.99zM146.26 225.68h0.99v1h-0.99zM152.22 227.68h0.99v1h-0.99zM168.1 227.68h0.99v1h-0.99zM172.08 228.69h0.99v1h-0.99zM178.03 228.69h0.99v1h-0.99zM180.02 229.69h0.99v1h-0.99zM169.1 230.69h0.99v1h-0.99zM151.22 231.69h0.99v1h-0.99zM173.07 232.7h0.99v1h-0.99zM159.17 235.71h0.99v1h-0.99zM167.11 235.71h0.99v1h-0.99zM171.08 235.71h1.99v1h-1.99zM180.02 235.71h0.99v1h-0.99zM182.01 235.71h0.99v1h-0.99zM149.24 236.71h0.99v1h-0.99zM173.07 236.71h1.99v1h-1.99zM145.27 237.71h0.99v1h-0.99zM161.15 237.71h0.99v1h-0.99zM181.01 237.71h1.99v1h-1.99zM149.24 238.71h0.99v1h-0.99zM177.04 238.71h0.99v1h-0.99zM160.16 239.72h0.99v1h-0.99zM175.06 239.72h0.99v1h-0.99zM153.21 241.72h0.99v1h-0.99zM166.12 241.72h0.99v1h-0.99zM157.18 243.73h1.99v1h-1.99zM176.05 243.73h0.99v1h-0.99zM141.29 244.73h1.99v1h-1.99zM163.14 244.73h0.99v1h-0.99zM141.29 245.73h0.99v1h-0.99zM149.24 246.73h0.99v1h-0.99zM156.19 246.73h0.99v1h-0.99zM164.13 246.73h0.99v1h-0.99zM166.12 246.73h0.99v1h-0.99zM145.27 247.74h0.99v1h-0.99zM153.21 247.74h0.99v1h-0.99zM179.03 248.74h0.99v1h-0.99zM144.27 249.74h0.99v1h-0.99zM143.28 251.75h0.99v1h-0.99zM149.24 251.75h0.99v1h-0.99zM154.2 251.75h0.99v1h-0.99zM168.1 254.76h0.99v1h-0.99zM181.01 254.76h0.99v1h-0.99zM175.06 255.76h1.99v1h-1.99zM144.27 256.76h0.99v1h-0.99zM176.05 256.76h0.99v1h-0.99zM179.03 257.76h0.99v1h-0.99zM182.01 258.77h0.99v1h-0.99zM140.3 259.77h0.99v1h-0.99zM143.28 259.77h0.99v1h-0.99zM164.13 259.77h0.99v1h-0.99zM169.1 259.77h0.99v1h-0.99zM178.03 260.77h0.99v1h-0.99zM157.18 261.77h0.99v1h-0.99zM162.15 261.77h0.99v1h-0.99zM165.13 261.77h0.99v1h-0.99zM177.04 262.78h0.99v1h-0.99zM154.2 264.78h1.99v1h-1.99zM173.07 264.78h0.99v1h-0.99zM152.22 265.78h0.99v1h-0.99zM173.07 266.79h0.99v1h-0.99zM176.05 266.79h0.99v1h-0.99zM147.25 267.79h0.99v1h-0.99zM149.24 267.79h0.99v1h-0.99zM151.22 267.79h0.99v1h-0.99zM181.01 267.79h1.99v1h-1.99zM149.24 268.79h0.99v1h-0.99zM163.14 269.79h0.99v1h-0.99zM167.11 269.79h0.99v1h-0.99zM146.26 270.8h0.99v1h-0.99zM160.16 270.8h0.99v1h-0.99z"/>
<path fill="#494949" d="M142.29 195.6h0.99v1h-0.99zM142.29 196.6h0.99v1h-0.99zM175.06 196.6h1.99v1h-1.99zM147.25 197.61h0.99v1h-0.99zM152.22 198.61h0.99v1h-0.99zM154.2 198.61h2.98v1h-2.98zM162.15 198.61h6.95v1h-6.95zM146.26 199.61h0.99v1h-0.99zM156.19 199.61h1.99v1h-1.99zM140.3 200.61h0.99v1h-0.99zM148.24 200.61h0.99v1h-0.99zM163.14 200.61h0.99v1h-0.99zM175.06 200.61h0.99v1h-0.99zM173.07 205.63h0.99v1h-0.99zM170.09 206.63h0.99v1h-0.99zM144.27 207.63h0.99v1h-0.99zM147.25 207.63h6.95v1h-6.95zM162.15 207.63h0.99v1h-0.99zM165.13 207.63h2.98v1h-2.98zM145.27 208.63h0.99v1h-0.99zM151.22 212.64h0.99v1h-0.99zM140.3 214.65h1.99v1h-1.99zM177.04 214.65h0.99v1h-0.99zM158.17 215.65h0.99v1h-0.99zM170.09 215.65h0.99v1h-0.99zM153.21 217.66h0.99v1h-0.99zM173.07 217.66h0.99v1h-0.99zM160.16 218.66h0.99v1h-0.99zM142.29 219.66h0.99v1h-0.99zM168.1 219.66h0.99v1h-0.99zM180.02 220.67h0.99v1h-0.99zM159.17 221.67h0.99v1h-0.99zM170.09 222.67h0.99v1h-0.99zM150.23 224.68h0.99v1h-0.99zM152.22 224.68h0.99v1h-0.99zM157.18 226.68h0.99v1h-0.99zM159.17 227.68h0.99v1h-0.99zM171.08 227.68h0.99v1h-0.99zM156.19 228.69h0.99v1h-0.99zM151.22 230.69h0.99v1h-0.99zM161.15 230.69h0.99v1h-0.99zM164.13 230.69h1.99v1h-1.99zM148.24 232.7h0.99v1h-0.99zM158.17 235.71h0.99v1h-0.99zM170.09 235.71h0.99v1h-0.99zM162.15 236.71h0.99v1h-0.99zM149.24 237.71h0.99v1h-0.99zM158.17 237.71h0.99v1h-0.99zM170.09 237.71h0.99v1h-0.99zM156.19 239.72h0.99v1h-0.99zM140.3 240.72h0.99v1h-0.99zM181.01 240.72h0.99v1h-0.99zM141.29 241.72h0.99v1h-0.99zM152.22 241.72h0.99v1h-0.99zM166.12 242.72h0.99v1h-0.99zM164.13 244.73h0.99v1h-0.99zM178.03 244.73h0.99v1h-0.99zM181.01 244.73h0.99v1h-0.99zM168.1 245.73h0.99v1h-0.99zM141.29 248.74h0.99v1h-0.99zM145.27 249.74h0.99v1h-0.99zM168.1 251.75h0.99v1h-0.99zM178.03 252.75h0.99v1h-0.99zM144.27 254.76h0.99v1h-0.99zM180.02 254.76h0.99v1h-0.99zM177.04 256.76h0.99v1h-0.99zM149.24 257.76h0.99v1h-0.99zM155.2 257.76h0.99v1h-0.99zM171.08 257.76h0.99v1h-0.99zM146.26 258.77h0.99v1h-0.99zM159.17 258.77h0.99v1h-0.99zM181.01 258.77h0.99v1h-0.99zM144.27 259.77h0.99v1h-0.99zM170.09 259.77h0.99v1h-0.99zM168.1 260.77h0.99v1h-0.99zM166.12 261.77h0.99v1h-0.99zM140.3 263.78h0.99v1h-0.99zM142.29 263.78h0.99v1h-0.99zM165.13 263.78h0.99v1h-0.99zM142.29 264.78h0.99v1h-0.99zM149.24 264.78h0.99v1h-0.99zM157.18 264.78h0.99v1h-0.99zM143.28 266.79h0.99v1h-0.99zM150.23 266.79h0.99v1h-0.99zM167.11 266.79h0.99v1h-0.99zM174.06 266.79h0.99v1h-0.99zM151.22 268.79h0.99v1h-0.99zM177.04 268.79h0.99v1h-0.99zM148.24 270.8h0.99v1h-0.99z"/>
<path fill="#6d6d6d" d="M152.22 195.6h0.99v1h-0.99zM150.23 196.6h0.99v1h-0.99zM181.01 197.61h0.99v1h-0.99zM143.28 199.61h0.99v1h-0.99zM147.25 199.61h0.99v1h-0.99zM173.07 199.61h0.99v1h-0.99zM176.05 199.61h0.99v1h-0.99zM141.29 200.61h0.99v1h-0.99zM160.16 200.61h0.99v1h-0.99zM146.26 201.62h0.99v1h-0.99zM173.07 201.62h0.99v1h-0.99zM140.3 202.62h0.99v1h-0.99zM179.03 202.62h0.99v1h-0.99zM142.29 203.62h0.99v1h-0.99zM157.18 203.62h1.99v1h-1.99zM160.16 203.62h1.99v1h-1.99zM169.1 203.62h0.99v1h-0.99zM147.25 205.63h0.99v1h-0.99zM151.22 205.63h1.99v1h-1.99zM158.17 205.63h1.99v1h-1.99zM175.06 205.63h0.99v1h-0.99zM161.15 207.63h0.99v1h-0.99zM160.16 209.64h0.99v1h-0.99zM153.21 210.64h0.99v1h-0.99zM157.18 210.64h0.99v1h-0.99zM177.04 210.64h0.99v1h-0.99zM150.23 211.64h0.99v1h-0.99zM153.21 212.64h1.99v1h-1.99zM144.27 214.65h0.99v1h-0.99zM168.1 214.65h0.99v1h-0.99zM176.05 214.65h0.99v1h-0.99zM181.01 214.65h0.99v1h-0.99zM155.2 215.65h1.99v1h-1.99zM169.1 215.65h0.99v1h-0.99zM169.1 216.66h0.99v1h-0.99zM145.27 217.66h0.99v1h-0.99zM140.3 218.66h1.99v1h-1.99zM170.09 218.66h0.99v1h-0.99zM176.05 218.66h0.99v1h-0.99zM157.18 220.67h0.99v1h-0.99zM170.09 220.67h0.99v1h-0.99zM179.03 220.67h0.99v1h-0.99zM175.06 221.67h1.99v1h-1.99zM150.23 222.67h0.99v1h-0.99zM162.15 222.67h0.99v1h-0.99zM171.08 222.67h0.99v1h-0.99zM150.23 223.67h0.99v1h-0.99zM167.11 223.67h0.99v1h-0.99zM174.06 223.67h0.99v1h-0.99zM166.12 224.68h0.99v1h-0.99zM141.29 225.68h0.99v1h-0.99zM158.17 225.68h0.99v1h-0.99zM173.07 225.68h0.99v1h-0.99zM141.29 226.68h0.99v1h-0.99zM163.14 226.68h0.99v1h-0.99zM151.22 227.68h0.99v1h-0.99zM170.09 227.68h0.99v1h-0.99zM157.18 228.69h0.99v1h-0.99zM168.1 228.69h0.99v1h-0.99zM158.17 230.69h1.99v1h-1.99zM170.09 232.7h0.99v1h-0.99zM166.12 235.71h0.99v1h-0.99zM169.1 235.71h0.99v1h-0.99zM179.03 235.71h0.99v1h-0.99zM142.29 236.71h0.99v1h-0.99zM160.16 236.71h0.99v1h-0.99zM144.27 237.71h0.99v1h-0.99zM154.2 237.71h0.99v1h-0.99zM160.16 237.71h0.99v1h-0.99zM178.03 237.71h0.99v1h-0.99zM180.02 237.71h0.99v1h-0.99zM147.25 238.71h0.99v1h-0.99zM159.17 238.71h0.99v1h-0.99zM168.1 238.71h0.99v1h-0.99zM182.01 238.71h0.99v1h-0.99zM153.21 239.72h0.99v1h-0.99zM155.2 239.72h0.99v1h-0.99zM161.15 239.72h0.99v1h-0.99zM142.29 240.72h1.99v1h-1.99zM148.24 240.72h1.99v1h-1.99zM155.2 240.72h0.99v1h-0.99zM162.15 240.72h0.99v1h-0.99zM140.3 241.72h0.99v1h-0.99zM148.24 242.72h0.99v1h-0.99zM141.29 243.73h0.99v1h-0.99zM171.08 244.73h0.99v1h-0.99zM180.02 244.73h0.99v1h-0.99zM164.13 245.73h0.99v1h-0.99zM148.24 246.73h0.99v1h-0.99zM176.05 247.74h0.99v1h-0.99zM151.22 248.74h0.99v1h-0.99zM176.05 248.74h0.99v1h-0.99zM142.29 249.74h0.99v1h-0.99zM156.19 250.74h0.99v1h-0.99zM174.06 250.74h1.99v1h-1.99zM181.01 250.74h0.99v1h-0.99zM144.27 251.75h0.99v1h-0.99zM179.03 253.75h0.99v1h-0.99zM168.1 255.76h1.99v1h-1.99zM154.2 257.76h0.99v1h-0.99zM170.09 257.76h0.99v1h-0.99zM145.27 258.77h0.99v1h-0.99zM153.21 258.77h1.99v1h-1.99zM158.17 258.77h0.99v1h-0.99zM167.11 258.77h0.99v1h-0.99zM141.29 259.77h0.99v1h-0.99zM157.18 259.77h0.99v1h-0.99zM179.03 260.77h0.99v1h-0.99zM148.24 261.77h1.99v1h-1.99zM161.15 261.77h0.99v1h-0.99zM176.05 262.78h0.99v1h-0.99zM141.29 263.78h0.99v1h-0.99zM155.2 263.78h0.99v1h-0.99zM171.08 263.78h0.99v1h-0.99zM182.01 263.78h0.99v1h-0.99zM140.3 264.78h1.99v1h-1.99zM158.17 264.78h0.99v1h-0.99zM144.27 265.78h0.99v1h-0.99zM147.25 265.78h1.99v1h-1.99zM154.2 265.78h0.99v1h-0.99zM142.29 266.79h0.99v1h-0.99zM177.04 266.79h0.99v1h-0.99zM143.28 268.79h0.99v1h-0.99zM180.02 268.79h0.99v1h-0.99zM162.15 269.79h0.99v1h-0.99zM174.06 269.79h0.99v1h-0.99zM147.25 270.8h0.99v1h-0.99zM157.18 270.8h0.99v1h-0.99zM174.06 270.8h0.99v1h-0.99z"/>
<path fill="#242424" d="M155.2 195.6h1.99v1h-1.99zM158.17 195.6h18.87v1h-18.87zM181.01 195.6h1.99v1h-1.99zM163.14 196.6h1.99v1h-1.99zM166.12 196.6h2.98v1h-2.98zM170.09 196.6h1.99v1h-1.99zM174.06 196.6h0.99v1h-0.99zM177.04 196.6h1.99v1h-1.99zM150.23 198.61h1.99v1h-1.99zM157.18 198.61h4.97v1h-4.97zM169.1 198.61h5.96v1h-5.96zM176.05 198.61h6.95v1h-6.95zM144.27 202.62h2.98v1h-2.98zM149.24 202.62h7.94v1h-7.94zM158.17 202.62h3.97v1h-3.97zM154.2 207.63h6.95v1h-6.95zM168.1 207.63h12.91v1h-12.91zM144.27 208.63h0.99v1h-0.99zM146.26 208.63h6.95v1h-6.95zM154.2 208.63h6.95v1h-6.95zM162.15 208.63h0.99v1h-0.99zM157.18 216.66h5.96v1h-5.96zM167.11 216.66h0.99v1h-0.99zM170.09 216.66h6.95v1h-6.95zM153.21 221.67h0.99v1h-0.99zM155.2 221.67h3.97v1h-3.97zM160.16 221.67h3.97v1h-3.97zM167.11 221.67h2.98v1h-2.98zM171.08 221.67h0.99v1h-0.99zM149.24 224.68h0.99v1h-0.99zM153.21 224.68h12.91v1h-12.91zM167.11 224.68h6.95v1h-6.95zM147.25 232.7h0.99v1h-0.99zM149.24 232.7h20.85v1h-20.85zM171.08 232.7h1.99v1h-1.99zM174.06 232.7h6.95v1h-6.95zM153.21 233.7h15.89v1h-15.89zM152.22 235.71h5.96v1h-5.96zM160.16 235.71h0.99v1h-0.99zM162.15 235.71h3.97v1h-3.97zM173.07 235.71h5.96v1h-5.96zM181.01 235.71h0.99v1h-0.99zM155.2 236.71h2.98v1h-2.98zM159.17 236.71h0.99v1h-0.99zM175.06 236.71h7.94v1h-7.94zM150.23 239.72h2.98v1h-2.98zM154.2 239.72h0.99v1h-0.99zM157.18 239.72h1.99v1h-1.99zM166.12 239.72h8.94v1h-8.94zM176.05 239.72h6.95v1h-6.95zM144.27 241.72h7.94v1h-7.94zM154.2 241.72h11.92v1h-11.92zM175.06 241.72h0.99v1h-0.99zM159.17 243.73h6.95v1h-6.95zM169.1 243.73h5.96v1h-5.96zM177.04 243.73h1.99v1h-1.99zM154.2 244.73h8.94v1h-8.94zM165.13 244.73h2.98v1h-2.98zM169.1 244.73h1.99v1h-1.99zM142.29 253.75h16.88v1h-16.88zM160.16 253.75h0.99v1h-0.99zM153.21 255.76h7.94v1h-7.94zM167.11 255.76h0.99v1h-0.99zM170.09 255.76h4.97v1h-4.97zM177.04 255.76h3.97v1h-3.97zM151.22 258.77h1.99v1h-1.99zM155.2 258.77h2.98v1h-2.98zM160.16 258.77h6.95v1h-6.95zM168.1 258.77h12.91v1h-12.91zM144.27 260.77h22.84v1h-22.84zM154.2 263.78h0.99v1h-0.99zM156.19 263.78h5.96v1h-5.96zM163.14 263.78h1.99v1h-1.99zM166.12 263.78h0.99v1h-0.99zM168.1 263.78h1.99v1h-1.99zM172.08 263.78h3.97v1h-3.97z"/>
<path fill="#dbdbdb" d="M157.18 195.6h0.99v1h-0.99zM162.15 202.62h0.99v1h-0.99zM145.27 207.63h0.99v1h-0.99zM163.14 208.63h0.99v1h-0.99zM180.02 213.65h0.99v1h-0.99zM182.01 214.65h0.99v1h-0.99zM172.08 217.66h0.99v1h-0.99zM154.2 221.67h0.99v1h-0.99zM166.12 221.67h0.99v1h-0.99zM149.24 222.67h0.99v1h-0.99zM160.16 230.69h0.99v1h-0.99zM149.24 231.69h0.99v1h-0.99zM154.2 236.71h0.99v1h-0.99zM158.17 236.71h0.99v1h-0.99zM176.05 238.71h0.99v1h-0.99zM141.29 240.72h0.99v1h-0.99zM150.23 240.72h0.99v1h-0.99zM168.1 244.73h0.99v1h-0.99zM165.13 246.73h0.99v1h-0.99zM179.03 246.73h0.99v1h-0.99zM144.27 247.74h0.99v1h-0.99zM140.3 248.74h0.99v1h-0.99zM150.23 248.74h0.99v1h-0.99zM182.01 250.74h0.99v1h-0.99zM165.13 253.75h0.99v1h-0.99zM162.15 263.78h0.99v1h-0.99zM149.24 266.79h0.99v1h-0.99zM150.23 268.79h0.99v1h-0.99zM173.07 270.8h0.99v1h-0.99z"/>
<path fill="#b6b6b6" d="M177.04 195.6h0.99v1h-0.99zM179.03 195.6h0.99v1h-0.99zM172.08 196.6h0.99v1h-0.99zM175.06 198.61h0.99v1h-0.99zM174.06 199.61h0.99v1h-0.99zM170.09 200.61h0.99v1h-0.99zM172.08 201.62h0.99v1h-0.99zM157.18 202.62h0.99v1h-0.99zM178.03 203.62h0.99v1h-0.99zM144.27 204.62h0.99v1h-0.99zM157.18 205.63h0.99v1h-0.99zM164.13 205.63h0.99v1h-0.99zM169.1 205.63h0.99v1h-0.99zM172.08 205.63h0.99v1h-0.99zM165.13 206.63h0.99v1h-0.99zM169.1 206.63h0.99v1h-0.99zM163.14 207.63h0.99v1h-0.99zM176.05 208.63h0.99v1h-0.99zM144.27 211.64h0.99v1h-0.99zM172.08 212.64h0.99v1h-0.99zM145.27 213.65h1.99v1h-1.99zM166.12 213.65h0.99v1h-0.99zM141.29 215.65h0.99v1h-0.99zM165.13 215.65h0.99v1h-0.99zM141.29 216.66h0.99v1h-0.99zM171.08 218.66h0.99v1h-0.99zM155.2 219.66h0.99v1h-0.99zM156.19 220.67h0.99v1h-0.99zM164.13 221.67h0.99v1h-0.99zM156.19 222.67h0.99v1h-0.99zM159.17 222.67h0.99v1h-0.99zM154.2 223.67h0.99v1h-0.99zM166.12 223.67h0.99v1h-0.99zM173.07 223.67h0.99v1h-0.99zM151.22 224.68h0.99v1h-0.99zM157.18 225.68h0.99v1h-0.99zM172.08 225.68h0.99v1h-0.99zM140.3 226.68h0.99v1h-0.99zM162.15 226.68h0.99v1h-0.99zM158.17 227.68h0.99v1h-0.99zM165.13 228.69h0.99v1h-0.99zM159.17 229.69h0.99v1h-0.99zM150.23 230.69h0.99v1h-0.99zM157.18 230.69h0.99v1h-0.99zM168.1 230.69h0.99v1h-0.99zM176.05 230.69h0.99v1h-0.99zM180.02 230.69h0.99v1h-0.99zM144.27 231.69h0.99v1h-0.99zM169.1 234.7h0.99v1h-0.99zM181.01 234.7h0.99v1h-0.99zM161.15 235.71h0.99v1h-0.99zM148.24 236.71h0.99v1h-0.99zM161.15 236.71h0.99v1h-0.99zM169.1 237.71h0.99v1h-0.99zM148.24 238.71h0.99v1h-0.99zM169.1 238.71h0.99v1h-0.99zM143.28 239.72h0.99v1h-0.99zM151.22 240.72h0.99v1h-0.99zM182.01 240.72h0.99v1h-0.99zM165.13 242.72h0.99v1h-0.99zM167.11 242.72h0.99v1h-0.99zM153.21 243.73h0.99v1h-0.99zM175.06 243.73h0.99v1h-0.99zM140.3 245.73h0.99v1h-0.99zM162.15 245.73h0.99v1h-0.99zM166.12 245.73h1.99v1h-1.99zM169.1 246.73h1.99v1h-1.99zM168.1 247.74h0.99v1h-0.99zM172.08 247.74h0.99v1h-0.99zM175.06 247.74h0.99v1h-0.99zM154.2 248.74h0.99v1h-0.99zM146.26 249.74h1.99v1h-1.99zM144.27 250.74h0.99v1h-0.99zM179.03 250.74h1.99v1h-1.99zM181.01 251.75h0.99v1h-0.99zM177.04 252.75h0.99v1h-0.99zM181.01 252.75h0.99v1h-0.99zM159.17 253.75h0.99v1h-0.99zM161.15 253.75h0.99v1h-0.99zM143.28 254.76h0.99v1h-0.99zM152.22 254.76h0.99v1h-0.99zM167.11 254.76h0.99v1h-0.99zM150.23 255.76h0.99v1h-0.99zM143.28 256.76h0.99v1h-0.99zM145.27 256.76h0.99v1h-0.99zM149.24 256.76h0.99v1h-0.99zM148.24 257.76h0.99v1h-0.99zM173.07 257.76h0.99v1h-0.99zM155.2 259.77h0.99v1h-0.99zM182.01 259.77h0.99v1h-0.99zM167.11 260.77h0.99v1h-0.99zM167.11 263.78h0.99v1h-0.99zM170.09 263.78h0.99v1h-0.99zM148.24 264.78h0.99v1h-0.99zM167.11 264.78h0.99v1h-0.99zM182.01 264.78h0.99v1h-0.99zM165.13 265.78h0.99v1h-0.99zM153.21 266.79h0.99v1h-0.99zM182.01 266.79h0.99v1h-0.99zM176.05 268.79h0.99v1h-0.99zM156.19 270.8h0.99v1h-0.99zM176.05 270.8h0.99v1h-0.99z"/></g>
<g filter="url(#bl2)" shape-rendering="crispEdges"><rect x="195.6" y="195.6" width="21.3" height="76.2" fill="#222222"/>
<path fill="#333333" d="M198.64 196.6h5.07v1h-5.07zM198.64 205.63h4.06v1h-4.06zM207.77 205.63h1.01v1h-1.01zM212.84 210.64h4.06v1h-4.06zM200.67 215.65h11.16v1h-11.16zM204.73 216.66h1.01v1h-1.01zM212.84 230.69h2.03v1h-2.03zM195.6 232.7h3.04v1h-3.04zM200.67 239.72h1.01v1h-1.01zM198.64 247.74h14.2v1h-14.2zM205.74 252.75h3.04v1h-3.04zM200.67 257.76h7.1v1h-7.1zM195.6 269.79h3.04v1h-3.04zM206.76 269.79h4.06v1h-4.06z"/>
<path fill="#bbbbbb" d="M203.71 196.6h10.14v1h-10.14zM198.64 232.7h14.2v1h-14.2z"/>
<path fill="#555555" d="M198.64 198.61h3.04v1h-3.04zM195.6 221.67h9.13v1h-9.13zM201.69 226.68h3.04v1h-3.04zM213.86 226.68h3.04v1h-3.04zM210.81 227.68h1.01v1h-1.01zM204.73 241.72h4.06v1h-4.06zM206.76 255.76h4.06v1h-4.06z"/>
<path fill="#444444" d="M201.69 198.61h2.03v1h-2.03zM203.71 202.62h9.13v1h-9.13zM208.79 216.66h3.04v1h-3.04zM195.6 219.66h11.16v1h-11.16zM204.73 221.67h6.09v1h-6.09zM200.67 226.68h1.01v1h-1.01zM204.73 226.68h9.13v1h-9.13zM203.71 227.68h5.07v1h-5.07zM200.67 230.69h12.17v1h-12.17zM198.64 235.71h14.2v1h-14.2zM198.64 239.72h2.03v1h-2.03zM202.7 241.72h2.03v1h-2.03zM208.79 241.72h6.09v1h-6.09zM202.7 243.73h12.17v1h-12.17zM196.61 244.73h9.13v1h-9.13zM207.77 244.73h1.01v1h-1.01zM212.84 247.74h4.06v1h-4.06zM197.63 252.75h8.11v1h-8.11zM208.79 252.75h6.09v1h-6.09zM208.79 253.75h4.06v1h-4.06zM200.67 255.76h6.09v1h-6.09zM210.81 255.76h2.03v1h-2.03zM201.69 260.77h12.17v1h-12.17z"/>
<path fill="#eeeeee" d="M203.71 198.61h12.17v1h-12.17zM208.79 227.68h2.03v1h-2.03zM210.81 267.79h3.04v1h-3.04z"/>
<path fill="#aaaaaa" d="M203.71 199.61h12.17v1h-12.17zM200.67 203.62h3.04v1h-3.04zM210.81 268.79h3.04v1h-3.04z"/>
<path fill="#ffffff" d="M200.67 202.62h3.04v1h-3.04zM206.76 238.71h2.03v1h-2.03z"/>
<path fill="#999999" d="M197.63 207.63h8.11v1h-8.11zM205.74 216.66h3.04v1h-3.04zM205.74 244.73h2.03v1h-2.03zM212.84 258.77h3.04v1h-3.04z"/>
<path fill="#666666" d="M197.63 208.63h8.11v1h-8.11zM198.64 254.76h10.14v1h-10.14z"/>
<path fill="#cccccc" d="M201.69 238.71h5.07v1h-5.07zM208.79 238.71h1.01v1h-1.01z"/>
<path fill="#888888" d="M201.69 239.72h8.11v1h-8.11zM198.64 253.75h10.14v1h-10.14z"/>
<path fill="#dddddd" d="M198.64 241.72h2.03v1h-2.03zM212.84 257.76h3.04v1h-3.04z"/></g>
<g filter="url(#bl2)" shape-rendering="crispEdges"><rect x="224" y="195.6" width="21" height="76.2" fill="#222222"/>
<path fill="#333333" d="M233 195.6h12v1h-12zM228 196.6h7v1h-7zM242 196.6h3v1h-3zM228 198.61h13v1h-13zM226 201.62h2v1h-2zM236 207.63h5v1h-5zM243 207.63h2v1h-2zM229 208.63h12v1h-12zM224 218.66h8v1h-8zM228 229.69h10v1h-10zM228 230.69h4v1h-4zM234 235.71h11v1h-11zM226 238.71h7v1h-7zM241 239.72h4v1h-4zM233 241.72h12v1h-12zM232 243.73h2v1h-2zM233 250.74h7v1h-7zM237 253.75h3v1h-3zM238 255.76h6v1h-6zM230 260.77h12v1h-12zM239 261.77h5v1h-5zM224 263.78h3v1h-3zM225 264.78h4v1h-4zM239 264.78h1v1h-1z"/>
<path fill="#444444" d="M235 196.6h7v1h-7zM241 198.61h1v1h-1zM228 201.62h1v1h-1zM235 205.63h5v1h-5zM242 205.63h2v1h-2zM230 207.63h6v1h-6zM224 208.63h5v1h-5zM235 213.65h2v1h-2zM244 213.65h1v1h-1zM227 222.67h6v1h-6zM227 229.69h1v1h-1zM232 236.71h13v1h-13zM233 238.71h8v1h-8zM224 243.73h8v1h-8zM226 253.75h11v1h-11zM227 263.78h7v1h-7zM240 263.78h1v1h-1z"/>
<path fill="#bbbbbb" d="M229 201.62h14v1h-14zM241 207.63h2v1h-2zM236 267.79h8v1h-8z"/>
<path fill="#777777" d="M229 202.62h14v1h-14zM230 247.74h14v1h-14z"/>
<path fill="#dddddd" d="M233 205.63h2v1h-2zM225 211.64h2v1h-2zM229 255.76h9v1h-9z"/>
<path fill="#cccccc" d="M240 205.63h2v1h-2zM226 261.77h13v1h-13zM234 263.78h6v1h-6zM227 269.79h9v1h-9z"/>
<path fill="#555555" d="M244 205.63h1v1h-1zM233 213.65h2v1h-2zM237 213.65h7v1h-7zM226 269.79h1v1h-1z"/>
<path fill="#999999" d="M228 213.65h5v1h-5zM233 222.67h8v1h-8z"/>
<path fill="#666666" d="M233 223.67h8v1h-8z"/>
<path fill="#aaaaaa" d="M230 246.73h14v1h-14zM226 252.75h4v1h-4zM229 258.77h14v1h-14zM236 269.79h8v1h-8z"/>
<path fill="#ffffff" d="M229 257.76h14v1h-14z"/>
<path fill="#888888" d="M226 262.78h13v1h-13z"/></g>
<g filter="url(#bl2)" shape-rendering="crispEdges"><rect x="252.2" y="195.6" width="21" height="76.2" fill="#222222"/>
<path fill="#999999" d="M253.2 195.6h8v1h-8zM255.2 212.64h12v1h-12zM262.2 244.73h8v1h-8zM254.2 246.73h12v1h-12zM253.2 247.74h3v1h-3zM260.2 256.76h2v1h-2zM255.2 258.77h15v1h-15zM261.2 264.78h8v1h-8z"/>
<path fill="#444444" d="M254.2 196.6h18v1h-18zM271.2 210.64h2v1h-2zM261.2 213.65h4v1h-4zM269.2 215.65h4v1h-4zM260.2 218.66h4v1h-4zM269.2 218.66h4v1h-4zM259.2 227.68h9v1h-9zM272.2 227.68h1v1h-1zM257.2 232.7h16v1h-16zM262.2 235.71h3v1h-3zM260.2 244.73h1v1h-1zM266.2 246.73h3v1h-3zM263.2 247.74h1v1h-1zM258.2 252.75h8v1h-8zM260.2 253.75h6v1h-6zM258.2 255.76h8v1h-8zM270.2 257.76h3v1h-3zM270.2 258.77h3v1h-3zM269.2 263.78h4v1h-4z"/>
<path fill="#333333" d="M261.2 199.61h5v1h-5zM256.2 205.63h10v1h-10zM270.2 205.63h1v1h-1zM261.2 210.64h10v1h-10zM265.2 213.65h8v1h-8zM264.2 218.66h5v1h-5zM259.2 226.68h1v1h-1zM263.2 226.68h4v1h-4zM268.2 227.68h4v1h-4zM252.2 233.7h1v1h-1zM265.2 233.7h2v1h-2zM257.2 235.71h5v1h-5zM265.2 235.71h8v1h-8zM262.2 238.71h4v1h-4zM253.2 239.72h13v1h-13zM254.2 244.73h3v1h-3zM261.2 244.73h1v1h-1zM259.2 247.74h4v1h-4zM264.2 247.74h6v1h-6zM256.2 249.74h17v1h-17zM261.2 250.74h8v1h-8zM254.2 252.75h4v1h-4zM266.2 253.75h3v1h-3zM252.2 255.76h6v1h-6zM254.2 261.77h8v1h-8zM256.2 267.79h8v1h-8z"/>
<path fill="#bbbbbb" d="M256.2 202.62h5v1h-5z"/>
<path fill="#888888" d="M261.2 202.62h11v1h-11zM256.2 203.62h5v1h-5zM262.2 225.68h9v1h-9z"/>
<path fill="#666666" d="M261.2 203.62h9v1h-9zM262.2 245.73h8v1h-8z"/>
<path fill="#dddddd" d="M270.2 203.62h2v1h-2zM253.2 246.73h1v1h-1zM264.2 257.76h2v1h-2zM261.2 263.78h8v1h-8z"/>
<path fill="#aaaaaa" d="M255.2 215.65h14v1h-14zM253.2 227.68h6v1h-6zM259.2 231.69h2v1h-2zM253.2 233.7h12v1h-12z"/>
<path fill="#777777" d="M255.2 216.66h14v1h-14z"/>
<path fill="#cccccc" d="M262.2 224.68h9v1h-9z"/>
<path fill="#eeeeee" d="M253.2 226.68h6v1h-6zM257.2 244.73h3v1h-3zM255.2 257.76h9v1h-9zM266.2 257.76h4v1h-4z"/></g>
<rect x="195.6" y="170.3" width="21.3" height="1.7" fill="#8a5ac0"/>
<rect x="224" y="170.3" width="21" height="1.7" fill="#40c0e8"/>
<rect x="252.2" y="170.3" width="21" height="1.7" fill="#e0b898"/>
<text x="206" y="168.4" font-size="4.6" text-anchor="middle" font-weight="normal" fill="#333" stroke="#333" stroke-width="0.08">(iii)</text>
<text x="234" y="168.4" font-size="4.6" text-anchor="middle" font-weight="normal" fill="#333" stroke="#333" stroke-width="0.08">(i)</text>
<text x="262.5" y="168.4" font-size="4.6" text-anchor="middle" font-weight="normal" fill="#333" stroke="#333" stroke-width="0.08">(i)</text>
<text x="235.3" y="158.4" font-size="5" text-anchor="middle" font-weight="normal" fill="#000" stroke="#000" stroke-width="0.1">Spectral correlation</text>
<text x="219.7" y="166" font-size="5" text-anchor="middle" font-weight="normal" fill="#000" stroke="#000" stroke-width="0.1">0.74</text>
<text x="249" y="165.7" font-size="5" text-anchor="middle" font-weight="normal" fill="#000" stroke="#000" stroke-width="0.1">0.13</text>
<path d="M210.8 168.4 Q210.8 167.4 212 167.4 L228.3 167.4 Q229.5 167.4 229.5 168.4" stroke="#888" stroke-width="0.6" fill="none"/>
<path d="M239.8 168.4 Q239.8 167.4 241 167.4 L257 167.4 Q258.2 167.4 258.2 168.4" stroke="#888" stroke-width="0.6" fill="none"/>
<path d="M210.8 274 Q210.8 275 212 275 L228.3 275 Q229.5 275 229.5 274" stroke="#888" stroke-width="0.6" fill="none"/>
<path d="M240 274 Q240 275 241.2 275 L257.4 275 Q258.6 275 258.6 274" stroke="#888" stroke-width="0.6" fill="none"/>
<text x="219.8" y="281.3" font-size="5" text-anchor="middle" font-weight="normal" fill="#000" stroke="#000" stroke-width="0.1">0.56</text>
<text x="249" y="281.3" font-size="5" text-anchor="middle" font-weight="normal" fill="#000" stroke="#000" stroke-width="0.1">−0.12</text>
<text x="234.4" y="288.4" font-size="5" text-anchor="middle" font-weight="normal" fill="#000" stroke="#000" stroke-width="0.1">Neural correlation</text>
<text x="106.7" y="197.5" font-size="5" text-anchor="start" font-weight="normal" fill="#444">1</text>
<rect x="110.5" y="195.8" width="1.2" height="0.4" fill="#999"/>
<text x="103.3" y="274" font-size="5" text-anchor="start" font-weight="normal" fill="#444">49</text>
<rect x="110.5" y="271.4" width="1.2" height="0.4" fill="#999"/>
<text x="104.4" y="236.5" font-size="5" text-anchor="middle" font-weight="normal" fill="#000" transform="rotate(-90 104.4 236.5)" stroke="#000" stroke-width="0.1">Neuron number</text>
<rect x="172" y="273.6" width="8.2" height="1.5" fill="#000"/>
<text x="280.6" y="12.2" font-size="8.7" text-anchor="start" font-weight="bold" fill="#000" stroke="#000" stroke-width="0.5">d</text>
<text x="344.6" y="20" font-size="5" text-anchor="middle" font-weight="normal" fill="#000" stroke="#000" stroke-width="0.1">Spectral correlation</text>
<text x="343.6" y="26.8" font-size="5" text-anchor="middle" font-weight="normal" fill="#000" stroke="#000" stroke-width="0.1">Syllable F</text>
<rect x="309" y="29.2" width="7.5" height="1.1" fill="#000"/>
<g filter="url(#bl)" shape-rendering="crispEdges"><rect x="309.3" y="32.2" width="70" height="18.1" fill="#0d0d0d"/>
<path fill="#000000" d="M377.3 32.2h2v1.01h-2zM319.3 41.25h1v1.01h-1zM311.3 42.26h1v1.01h-1zM310.3 43.26h1v1.01h-1zM377.3 43.26h1v1.01h-1zM377.3 44.27h1v1.01h-1zM313.3 47.28h4v1.01h-4zM377.3 47.28h1v1.01h-1zM310.3 48.29h1v1.01h-1zM313.3 48.29h3v1.01h-3zM330.3 48.29h2v1.01h-2zM338.3 48.29h1v1.01h-1zM359.3 48.29h1v1.01h-1zM363.3 48.29h1v1.01h-1zM371.3 48.29h8v1.01h-8zM309.3 49.29h70v1.01h-70z"/>
<path fill="#1b1b1b" d="M309.3 33.21h3v1.01h-3zM319.3 33.21h7v1.01h-7zM326.3 34.21h1v1.01h-1zM378.3 34.21h1v1.01h-1zM327.3 35.22h1v1.01h-1zM377.3 35.22h1v1.01h-1zM312.3 36.22h8v1.01h-8zM327.3 36.22h2v1.01h-2zM337.3 36.22h1v1.01h-1zM318.3 37.23h2v1.01h-2zM322.3 37.23h1v1.01h-1zM327.3 37.23h2v1.01h-2zM312.3 38.23h2v1.01h-2zM318.3 38.23h2v1.01h-2zM327.3 38.23h1v1.01h-1zM329.3 38.23h1v1.01h-1zM356.3 38.23h2v1.01h-2zM366.3 38.23h1v1.01h-1zM369.3 38.23h1v1.01h-1zM377.3 38.23h1v1.01h-1zM318.3 39.24h1v1.01h-1zM326.3 39.24h3v1.01h-3zM330.3 39.24h1v1.01h-1zM353.3 39.24h1v1.01h-1zM360.3 39.24h1v1.01h-1zM364.3 39.24h1v1.01h-1zM374.3 39.24h2v1.01h-2zM378.3 39.24h1v1.01h-1zM327.3 40.24h1v1.01h-1zM329.3 40.24h1v1.01h-1zM343.3 40.24h1v1.01h-1zM359.3 40.24h1v1.01h-1zM361.3 40.24h1v1.01h-1zM373.3 40.24h1v1.01h-1zM377.3 40.24h1v1.01h-1zM325.3 41.25h2v1.01h-2zM329.3 41.25h1v1.01h-1zM350.3 41.25h1v1.01h-1zM355.3 41.25h1v1.01h-1zM357.3 41.25h1v1.01h-1zM368.3 41.25h1v1.01h-1zM374.3 41.25h1v1.01h-1zM377.3 41.25h1v1.01h-1zM325.3 42.26h2v1.01h-2zM329.3 42.26h2v1.01h-2zM338.3 42.26h1v1.01h-1zM340.3 42.26h1v1.01h-1zM351.3 42.26h1v1.01h-1zM353.3 42.26h2v1.01h-2zM362.3 42.26h2v1.01h-2zM365.3 42.26h2v1.01h-2zM378.3 42.26h1v1.01h-1zM313.3 43.26h1v1.01h-1zM320.3 43.26h1v1.01h-1zM322.3 43.26h2v1.01h-2zM326.3 43.26h1v1.01h-1zM358.3 43.26h3v1.01h-3zM371.3 43.26h1v1.01h-1zM312.3 44.27h4v1.01h-4zM318.3 44.27h3v1.01h-3zM322.3 44.27h3v1.01h-3zM326.3 44.27h1v1.01h-1zM328.3 44.27h1v1.01h-1zM355.3 44.27h1v1.01h-1zM363.3 44.27h1v1.01h-1zM370.3 44.27h2v1.01h-2zM373.3 44.27h1v1.01h-1zM312.3 45.27h3v1.01h-3zM316.3 45.27h4v1.01h-4zM323.3 45.27h1v1.01h-1zM326.3 45.27h4v1.01h-4zM332.3 45.27h1v1.01h-1zM339.3 45.27h1v1.01h-1zM342.3 45.27h1v1.01h-1zM360.3 45.27h4v1.01h-4zM367.3 45.27h1v1.01h-1zM309.3 46.28h1v1.01h-1zM313.3 46.28h1v1.01h-1zM317.3 46.28h3v1.01h-3zM325.3 46.28h4v1.01h-4zM335.3 46.28h1v1.01h-1zM345.3 46.28h1v1.01h-1zM351.3 46.28h1v1.01h-1zM353.3 46.28h1v1.01h-1zM356.3 46.28h1v1.01h-1zM358.3 46.28h1v1.01h-1zM360.3 46.28h1v1.01h-1zM363.3 46.28h1v1.01h-1zM369.3 46.28h1v1.01h-1zM377.3 46.28h2v1.01h-2zM338.3 47.28h1v1.01h-1zM340.3 47.28h2v1.01h-2zM343.3 47.28h2v1.01h-2zM348.3 47.28h3v1.01h-3zM352.3 47.28h1v1.01h-1zM356.3 47.28h1v1.01h-1zM359.3 47.28h1v1.01h-1zM361.3 47.28h1v1.01h-1zM365.3 47.28h1v1.01h-1zM367.3 47.28h4v1.01h-4zM373.3 47.28h1v1.01h-1zM335.3 48.29h2v1.01h-2zM341.3 48.29h1v1.01h-1zM344.3 48.29h1v1.01h-1zM346.3 48.29h1v1.01h-1zM348.3 48.29h2v1.01h-2zM351.3 48.29h1v1.01h-1zM353.3 48.29h2v1.01h-2zM358.3 48.29h1v1.01h-1z"/>
<path fill="#282828" d="M312.3 33.21h7v1.01h-7zM325.3 34.21h1v1.01h-1zM327.3 34.21h3v1.01h-3zM367.3 34.21h1v1.01h-1zM377.3 34.21h1v1.01h-1zM328.3 35.22h2v1.01h-2zM357.3 35.22h1v1.01h-1zM309.3 36.22h3v1.01h-3zM320.3 36.22h2v1.01h-2zM375.3 36.22h1v1.01h-1zM325.3 37.23h2v1.01h-2zM328.3 38.23h1v1.01h-1zM330.3 38.23h1v1.01h-1zM351.3 38.23h1v1.01h-1zM364.3 38.23h2v1.01h-2zM367.3 38.23h2v1.01h-2zM378.3 38.23h1v1.01h-1zM329.3 39.24h1v1.01h-1zM331.3 39.24h1v1.01h-1zM334.3 39.24h1v1.01h-1zM345.3 39.24h1v1.01h-1zM361.3 39.24h2v1.01h-2zM328.3 40.24h1v1.01h-1zM330.3 40.24h1v1.01h-1zM341.3 40.24h1v1.01h-1zM351.3 40.24h1v1.01h-1zM357.3 40.24h2v1.01h-2zM364.3 40.24h1v1.01h-1zM328.3 41.25h1v1.01h-1zM330.3 41.25h1v1.01h-1zM332.3 41.25h1v1.01h-1zM335.3 41.25h1v1.01h-1zM344.3 41.25h1v1.01h-1zM359.3 41.25h1v1.01h-1zM365.3 41.25h1v1.01h-1zM367.3 41.25h1v1.01h-1zM371.3 41.25h2v1.01h-2zM327.3 42.26h1v1.01h-1zM343.3 42.26h1v1.01h-1zM347.3 42.26h2v1.01h-2zM358.3 42.26h1v1.01h-1zM360.3 42.26h1v1.01h-1zM368.3 42.26h1v1.01h-1zM328.3 43.26h2v1.01h-2zM337.3 43.26h1v1.01h-1zM348.3 43.26h2v1.01h-2zM357.3 43.26h1v1.01h-1zM364.3 43.26h1v1.01h-1zM366.3 43.26h1v1.01h-1zM372.3 43.26h1v1.01h-1zM374.3 43.26h2v1.01h-2zM329.3 44.27h1v1.01h-1zM331.3 44.27h1v1.01h-1zM339.3 44.27h1v1.01h-1zM341.3 44.27h1v1.01h-1zM354.3 44.27h1v1.01h-1zM356.3 44.27h1v1.01h-1zM367.3 44.27h1v1.01h-1zM376.3 44.27h1v1.01h-1zM331.3 45.27h1v1.01h-1zM337.3 45.27h1v1.01h-1zM365.3 45.27h1v1.01h-1zM372.3 45.27h1v1.01h-1zM330.3 46.28h1v1.01h-1zM339.3 46.28h1v1.01h-1zM359.3 46.28h1v1.01h-1zM368.3 46.28h1v1.01h-1zM334.3 47.28h1v1.01h-1zM337.3 47.28h1v1.01h-1zM342.3 47.28h1v1.01h-1zM354.3 47.28h2v1.01h-2zM357.3 47.28h2v1.01h-2zM362.3 47.28h1v1.01h-1zM371.3 47.28h1v1.01h-1zM340.3 48.29h1v1.01h-1zM342.3 48.29h2v1.01h-2zM345.3 48.29h1v1.01h-1zM347.3 48.29h1v1.01h-1zM362.3 48.29h1v1.01h-1z"/>
<path fill="#434343" d="M326.3 33.21h1v1.01h-1zM377.3 33.21h1v1.01h-1zM324.3 34.21h1v1.01h-1zM332.3 34.21h1v1.01h-1zM366.3 34.21h1v1.01h-1zM354.3 35.22h1v1.01h-1zM364.3 35.22h2v1.01h-2zM368.3 35.22h1v1.01h-1zM372.3 35.22h1v1.01h-1zM374.3 35.22h1v1.01h-1zM323.3 36.22h1v1.01h-1zM329.3 36.22h1v1.01h-1zM339.3 36.22h1v1.01h-1zM346.3 36.22h1v1.01h-1zM362.3 36.22h1v1.01h-1zM369.3 36.22h1v1.01h-1zM372.3 36.22h1v1.01h-1zM377.3 36.22h1v1.01h-1zM329.3 37.23h2v1.01h-2zM342.3 37.23h1v1.01h-1zM345.3 37.23h1v1.01h-1zM353.3 37.23h1v1.01h-1zM360.3 37.23h1v1.01h-1zM367.3 37.23h5v1.01h-5zM331.3 38.23h2v1.01h-2zM336.3 38.23h1v1.01h-1zM346.3 38.23h1v1.01h-1zM354.3 38.23h2v1.01h-2zM359.3 38.23h1v1.01h-1zM335.3 39.24h1v1.01h-1zM348.3 39.24h1v1.01h-1zM352.3 39.24h1v1.01h-1zM355.3 39.24h1v1.01h-1zM358.3 39.24h2v1.01h-2zM367.3 39.24h1v1.01h-1zM370.3 39.24h1v1.01h-1zM372.3 39.24h1v1.01h-1zM332.3 40.24h2v1.01h-2zM337.3 40.24h1v1.01h-1zM339.3 40.24h2v1.01h-2zM346.3 40.24h2v1.01h-2zM362.3 40.24h2v1.01h-2zM367.3 40.24h1v1.01h-1zM334.3 41.25h1v1.01h-1zM342.3 41.25h1v1.01h-1zM345.3 41.25h2v1.01h-2zM348.3 41.25h1v1.01h-1zM354.3 41.25h1v1.01h-1zM356.3 41.25h1v1.01h-1zM360.3 41.25h1v1.01h-1zM363.3 41.25h2v1.01h-2zM375.3 41.25h1v1.01h-1zM332.3 42.26h1v1.01h-1zM334.3 42.26h2v1.01h-2zM341.3 42.26h2v1.01h-2zM344.3 42.26h1v1.01h-1zM356.3 42.26h1v1.01h-1zM361.3 42.26h1v1.01h-1zM367.3 42.26h1v1.01h-1zM370.3 42.26h1v1.01h-1zM375.3 42.26h2v1.01h-2zM336.3 43.26h1v1.01h-1zM338.3 43.26h1v1.01h-1zM344.3 43.26h1v1.01h-1zM350.3 43.26h1v1.01h-1zM352.3 43.26h1v1.01h-1zM362.3 43.26h1v1.01h-1zM365.3 43.26h1v1.01h-1zM370.3 43.26h1v1.01h-1zM373.3 43.26h1v1.01h-1zM332.3 44.27h1v1.01h-1zM338.3 44.27h1v1.01h-1zM340.3 44.27h1v1.01h-1zM343.3 44.27h1v1.01h-1zM357.3 44.27h3v1.01h-3zM362.3 44.27h1v1.01h-1zM364.3 44.27h1v1.01h-1zM333.3 45.27h2v1.01h-2zM347.3 45.27h1v1.01h-1zM349.3 45.27h1v1.01h-1zM354.3 45.27h1v1.01h-1zM356.3 45.27h2v1.01h-2zM375.3 45.27h1v1.01h-1zM332.3 46.28h2v1.01h-2zM340.3 46.28h1v1.01h-1zM342.3 46.28h1v1.01h-1zM346.3 46.28h1v1.01h-1zM348.3 46.28h3v1.01h-3zM355.3 46.28h1v1.01h-1zM361.3 46.28h1v1.01h-1zM365.3 46.28h1v1.01h-1zM367.3 46.28h1v1.01h-1zM374.3 46.28h2v1.01h-2z"/>
<path fill="#515151" d="M327.3 33.21h2v1.01h-2zM354.3 33.21h1v1.01h-1zM330.3 34.21h2v1.01h-2zM335.3 34.21h1v1.01h-1zM345.3 34.21h1v1.01h-1zM348.3 34.21h2v1.01h-2zM354.3 34.21h1v1.01h-1zM357.3 34.21h1v1.01h-1zM359.3 34.21h2v1.01h-2zM365.3 34.21h1v1.01h-1zM368.3 34.21h1v1.01h-1zM330.3 35.22h3v1.01h-3zM340.3 35.22h1v1.01h-1zM347.3 35.22h2v1.01h-2zM352.3 35.22h1v1.01h-1zM369.3 35.22h1v1.01h-1zM373.3 35.22h1v1.01h-1zM343.3 36.22h2v1.01h-2zM349.3 36.22h1v1.01h-1zM356.3 36.22h1v1.01h-1zM360.3 36.22h2v1.01h-2zM370.3 36.22h2v1.01h-2zM333.3 37.23h3v1.01h-3zM348.3 37.23h2v1.01h-2zM365.3 37.23h1v1.01h-1zM372.3 37.23h2v1.01h-2zM335.3 38.23h1v1.01h-1zM344.3 38.23h1v1.01h-1zM347.3 38.23h1v1.01h-1zM352.3 38.23h1v1.01h-1zM358.3 38.23h1v1.01h-1zM360.3 38.23h3v1.01h-3zM370.3 38.23h2v1.01h-2zM373.3 38.23h4v1.01h-4zM344.3 39.24h1v1.01h-1zM349.3 39.24h1v1.01h-1zM356.3 39.24h1v1.01h-1zM365.3 39.24h1v1.01h-1zM368.3 39.24h1v1.01h-1zM334.3 40.24h3v1.01h-3zM344.3 40.24h2v1.01h-2zM365.3 40.24h1v1.01h-1zM368.3 40.24h1v1.01h-1zM340.3 41.25h2v1.01h-2zM347.3 41.25h1v1.01h-1zM349.3 41.25h1v1.01h-1zM352.3 41.25h2v1.01h-2zM358.3 41.25h1v1.01h-1zM362.3 41.25h1v1.01h-1zM376.3 41.25h1v1.01h-1zM337.3 42.26h1v1.01h-1zM350.3 42.26h1v1.01h-1zM355.3 42.26h1v1.01h-1zM357.3 42.26h1v1.01h-1zM331.3 43.26h1v1.01h-1zM333.3 43.26h3v1.01h-3zM339.3 43.26h3v1.01h-3zM345.3 43.26h1v1.01h-1zM354.3 43.26h1v1.01h-1zM356.3 43.26h1v1.01h-1zM368.3 43.26h1v1.01h-1zM345.3 44.27h1v1.01h-1zM365.3 44.27h1v1.01h-1zM335.3 45.27h2v1.01h-2zM355.3 45.27h1v1.01h-1zM359.3 45.27h1v1.01h-1zM334.3 46.28h1v1.01h-1zM337.3 46.28h2v1.01h-2zM347.3 46.28h1v1.01h-1zM373.3 46.28h1v1.01h-1z"/>
<path fill="#5e5e5e" d="M329.3 33.21h1v1.01h-1zM368.3 33.21h1v1.01h-1zM333.3 34.21h1v1.01h-1zM341.3 34.21h1v1.01h-1zM346.3 34.21h1v1.01h-1zM352.3 34.21h2v1.01h-2zM369.3 34.21h1v1.01h-1zM372.3 34.21h1v1.01h-1zM334.3 35.22h1v1.01h-1zM344.3 35.22h2v1.01h-2zM353.3 35.22h1v1.01h-1zM355.3 35.22h2v1.01h-2zM362.3 35.22h1v1.01h-1zM367.3 35.22h1v1.01h-1zM324.3 36.22h1v1.01h-1zM330.3 36.22h1v1.01h-1zM332.3 36.22h3v1.01h-3zM336.3 36.22h1v1.01h-1zM352.3 36.22h1v1.01h-1zM355.3 36.22h1v1.01h-1zM357.3 36.22h1v1.01h-1zM359.3 36.22h1v1.01h-1zM367.3 36.22h1v1.01h-1zM376.3 36.22h1v1.01h-1zM338.3 37.23h1v1.01h-1zM340.3 37.23h1v1.01h-1zM343.3 37.23h1v1.01h-1zM352.3 37.23h1v1.01h-1zM376.3 37.23h1v1.01h-1zM334.3 38.23h1v1.01h-1zM337.3 38.23h2v1.01h-2zM341.3 38.23h2v1.01h-2zM349.3 38.23h1v1.01h-1zM353.3 38.23h1v1.01h-1zM372.3 38.23h1v1.01h-1zM336.3 39.24h2v1.01h-2zM339.3 39.24h1v1.01h-1zM341.3 39.24h1v1.01h-1zM347.3 39.24h1v1.01h-1zM350.3 39.24h1v1.01h-1zM369.3 39.24h1v1.01h-1zM373.3 39.24h1v1.01h-1zM342.3 40.24h1v1.01h-1zM348.3 40.24h2v1.01h-2zM353.3 40.24h1v1.01h-1zM356.3 40.24h1v1.01h-1zM336.3 41.25h1v1.01h-1zM351.3 41.25h1v1.01h-1zM361.3 41.25h1v1.01h-1zM349.3 42.26h1v1.01h-1zM371.3 42.26h1v1.01h-1zM343.3 43.26h1v1.01h-1zM353.3 43.26h1v1.01h-1zM369.3 43.26h1v1.01h-1zM334.3 44.27h3v1.01h-3zM344.3 44.27h1v1.01h-1zM349.3 44.27h2v1.01h-2zM360.3 44.27h1v1.01h-1zM344.3 45.27h1v1.01h-1zM346.3 45.27h1v1.01h-1zM336.3 46.28h1v1.01h-1zM341.3 46.28h1v1.01h-1zM362.3 46.28h1v1.01h-1zM371.3 46.28h1v1.01h-1z"/>
<path fill="#949494" d="M330.3 33.21h1v1.01h-1zM340.3 33.21h2v1.01h-2zM353.3 33.21h1v1.01h-1zM366.3 33.21h1v1.01h-1zM375.3 33.21h1v1.01h-1zM314.3 34.21h1v1.01h-1zM339.3 34.21h1v1.01h-1zM363.3 34.21h1v1.01h-1zM309.3 35.22h1v1.01h-1zM321.3 35.22h3v1.01h-3zM339.3 35.22h1v1.01h-1zM350.3 35.22h1v1.01h-1zM360.3 35.22h2v1.01h-2zM345.3 36.22h1v1.01h-1zM348.3 36.22h1v1.01h-1zM341.3 37.23h1v1.01h-1z"/>
<path fill="#797979" d="M331.3 33.21h1v1.01h-1zM337.3 33.21h1v1.01h-1zM339.3 33.21h1v1.01h-1zM347.3 33.21h1v1.01h-1zM350.3 33.21h1v1.01h-1zM355.3 33.21h1v1.01h-1zM359.3 33.21h1v1.01h-1zM370.3 33.21h2v1.01h-2zM376.3 33.21h1v1.01h-1zM309.3 34.21h2v1.01h-2zM320.3 34.21h2v1.01h-2zM336.3 34.21h2v1.01h-2zM340.3 34.21h1v1.01h-1zM342.3 34.21h1v1.01h-1zM344.3 34.21h1v1.01h-1zM350.3 34.21h2v1.01h-2zM355.3 34.21h2v1.01h-2zM362.3 34.21h1v1.01h-1zM375.3 34.21h2v1.01h-2zM313.3 35.22h4v1.01h-4zM336.3 35.22h2v1.01h-2zM343.3 35.22h1v1.01h-1zM351.3 35.22h1v1.01h-1zM359.3 35.22h1v1.01h-1zM371.3 35.22h1v1.01h-1zM326.3 36.22h1v1.01h-1zM331.3 36.22h1v1.01h-1zM351.3 36.22h1v1.01h-1zM366.3 36.22h1v1.01h-1zM336.3 37.23h2v1.01h-2zM339.3 37.23h1v1.01h-1zM344.3 37.23h1v1.01h-1zM362.3 37.23h2v1.01h-2zM348.3 38.23h1v1.01h-1zM346.3 39.24h1v1.01h-1zM338.3 40.24h1v1.01h-1zM354.3 40.24h1v1.01h-1zM337.3 41.25h1v1.01h-1zM345.3 45.27h1v1.01h-1zM353.3 45.27h1v1.01h-1z"/>
<path fill="#868686" d="M332.3 33.21h1v1.01h-1zM334.3 33.21h1v1.01h-1zM342.3 33.21h1v1.01h-1zM344.3 33.21h1v1.01h-1zM358.3 33.21h1v1.01h-1zM367.3 33.21h1v1.01h-1zM369.3 33.21h1v1.01h-1zM372.3 33.21h2v1.01h-2zM311.3 34.21h3v1.01h-3zM315.3 34.21h5v1.01h-5zM370.3 34.21h2v1.01h-2zM374.3 34.21h1v1.01h-1zM310.3 35.22h3v1.01h-3zM317.3 35.22h4v1.01h-4zM325.3 35.22h1v1.01h-1zM341.3 35.22h1v1.01h-1zM346.3 35.22h1v1.01h-1zM325.3 36.22h1v1.01h-1zM338.3 36.22h1v1.01h-1zM340.3 36.22h1v1.01h-1zM342.3 36.22h1v1.01h-1zM347.3 36.22h1v1.01h-1zM354.3 36.22h1v1.01h-1zM358.3 36.22h1v1.01h-1zM347.3 37.23h1v1.01h-1zM355.3 37.23h1v1.01h-1zM364.3 37.23h1v1.01h-1zM343.3 39.24h1v1.01h-1z"/>
<path fill="#a1a1a1" d="M333.3 33.21h1v1.01h-1zM336.3 33.21h1v1.01h-1zM343.3 33.21h1v1.01h-1zM351.3 33.21h1v1.01h-1zM357.3 33.21h1v1.01h-1zM363.3 33.21h3v1.01h-3zM324.3 35.22h1v1.01h-1zM349.3 35.22h1v1.01h-1zM335.3 36.22h1v1.01h-1zM350.3 37.23h1v1.01h-1zM356.3 37.23h1v1.01h-1z"/>
<path fill="#aeaeae" d="M335.3 33.21h1v1.01h-1zM349.3 33.21h1v1.01h-1zM352.3 33.21h1v1.01h-1zM374.3 33.21h1v1.01h-1z"/>
<path fill="#c9c9c9" d="M338.3 33.21h1v1.01h-1z"/>
<path fill="#bcbcbc" d="M345.3 33.21h1v1.01h-1zM348.3 33.21h1v1.01h-1z"/>
<path fill="#6b6b6b" d="M346.3 33.21h1v1.01h-1zM356.3 33.21h1v1.01h-1zM360.3 33.21h3v1.01h-3zM322.3 34.21h2v1.01h-2zM334.3 34.21h1v1.01h-1zM338.3 34.21h1v1.01h-1zM343.3 34.21h1v1.01h-1zM347.3 34.21h1v1.01h-1zM364.3 34.21h1v1.01h-1zM373.3 34.21h1v1.01h-1zM326.3 35.22h1v1.01h-1zM333.3 35.22h1v1.01h-1zM335.3 35.22h1v1.01h-1zM338.3 35.22h1v1.01h-1zM342.3 35.22h1v1.01h-1zM358.3 35.22h1v1.01h-1zM363.3 35.22h1v1.01h-1zM366.3 35.22h1v1.01h-1zM370.3 35.22h1v1.01h-1zM341.3 36.22h1v1.01h-1zM353.3 36.22h1v1.01h-1zM364.3 36.22h2v1.01h-2zM368.3 36.22h1v1.01h-1zM331.3 37.23h2v1.01h-2zM346.3 37.23h1v1.01h-1zM351.3 37.23h1v1.01h-1zM354.3 37.23h1v1.01h-1zM357.3 37.23h1v1.01h-1zM361.3 37.23h1v1.01h-1zM333.3 38.23h1v1.01h-1zM340.3 38.23h1v1.01h-1zM345.3 38.23h1v1.01h-1zM333.3 39.24h1v1.01h-1zM351.3 39.24h1v1.01h-1zM357.3 39.24h1v1.01h-1zM366.3 39.24h1v1.01h-1zM333.3 42.26h1v1.01h-1zM336.3 42.26h1v1.01h-1zM339.3 42.26h1v1.01h-1zM345.3 42.26h1v1.01h-1zM342.3 43.26h1v1.01h-1zM346.3 43.26h1v1.01h-1zM361.3 44.27h1v1.01h-1zM338.3 45.27h1v1.01h-1zM352.3 45.27h1v1.01h-1zM376.3 46.28h1v1.01h-1z"/>
<path fill="#363636" d="M378.3 33.21h1v1.01h-1zM358.3 34.21h1v1.01h-1zM361.3 34.21h1v1.01h-1zM375.3 35.22h2v1.01h-2zM322.3 36.22h1v1.01h-1zM350.3 36.22h1v1.01h-1zM363.3 36.22h1v1.01h-1zM373.3 36.22h1v1.01h-1zM378.3 36.22h1v1.01h-1zM358.3 37.23h2v1.01h-2zM366.3 37.23h1v1.01h-1zM374.3 37.23h2v1.01h-2zM377.3 37.23h2v1.01h-2zM339.3 38.23h1v1.01h-1zM343.3 38.23h1v1.01h-1zM350.3 38.23h1v1.01h-1zM332.3 39.24h1v1.01h-1zM338.3 39.24h1v1.01h-1zM342.3 39.24h1v1.01h-1zM371.3 39.24h1v1.01h-1zM331.3 40.24h1v1.01h-1zM350.3 40.24h1v1.01h-1zM352.3 40.24h1v1.01h-1zM355.3 40.24h1v1.01h-1zM360.3 40.24h1v1.01h-1zM366.3 40.24h1v1.01h-1zM369.3 40.24h1v1.01h-1zM331.3 41.25h1v1.01h-1zM333.3 41.25h1v1.01h-1zM338.3 41.25h2v1.01h-2zM343.3 41.25h1v1.01h-1zM373.3 41.25h1v1.01h-1zM346.3 42.26h1v1.01h-1zM359.3 42.26h1v1.01h-1zM364.3 42.26h1v1.01h-1zM369.3 42.26h1v1.01h-1zM372.3 42.26h3v1.01h-3zM330.3 43.26h1v1.01h-1zM332.3 43.26h1v1.01h-1zM347.3 43.26h1v1.01h-1zM351.3 43.26h1v1.01h-1zM355.3 43.26h1v1.01h-1zM361.3 43.26h1v1.01h-1zM363.3 43.26h1v1.01h-1zM367.3 43.26h1v1.01h-1zM333.3 44.27h1v1.01h-1zM337.3 44.27h1v1.01h-1zM342.3 44.27h1v1.01h-1zM346.3 44.27h3v1.01h-3zM351.3 44.27h2v1.01h-2zM366.3 44.27h1v1.01h-1zM368.3 44.27h1v1.01h-1zM330.3 45.27h1v1.01h-1zM340.3 45.27h2v1.01h-2zM343.3 45.27h1v1.01h-1zM351.3 45.27h1v1.01h-1zM358.3 45.27h1v1.01h-1zM368.3 45.27h1v1.01h-1zM373.3 45.27h2v1.01h-2zM331.3 46.28h1v1.01h-1zM343.3 46.28h1v1.01h-1zM352.3 46.28h1v1.01h-1zM364.3 46.28h1v1.01h-1zM366.3 46.28h1v1.01h-1zM370.3 46.28h1v1.01h-1zM372.3 46.28h1v1.01h-1zM335.3 47.28h1v1.01h-1z"/></g>
<g filter="url(#bl)" shape-rendering="crispEdges"><rect x="287.6" y="53.8" width="18" height="28" fill="#666666"/>
<path fill="#111111" d="M287.6 53.8h18v1h-18zM287.6 54.8h1v1h-1zM304.6 54.8h1v1h-1zM287.6 55.8h1v1h-1zM304.6 55.8h1v1h-1zM287.6 56.8h1v1h-1zM304.6 56.8h1v1h-1zM287.6 57.8h1v1h-1zM304.6 57.8h1v1h-1zM287.6 58.8h1v1h-1zM304.6 58.8h1v1h-1zM287.6 59.8h1v1h-1zM304.6 59.8h1v1h-1zM287.6 60.8h1v1h-1zM304.6 60.8h1v1h-1zM287.6 61.8h1v1h-1zM304.6 61.8h1v1h-1zM287.6 62.8h1v1h-1zM304.6 62.8h1v1h-1zM287.6 63.8h1v1h-1zM304.6 63.8h1v1h-1zM287.6 64.8h1v1h-1zM304.6 64.8h1v1h-1zM287.6 65.8h1v1h-1zM304.6 65.8h1v1h-1zM287.6 66.8h1v1h-1zM304.6 66.8h1v1h-1zM287.6 67.8h1v1h-1zM304.6 67.8h1v1h-1zM287.6 68.8h1v1h-1zM304.6 68.8h1v1h-1zM287.6 69.8h1v1h-1zM304.6 69.8h1v1h-1zM287.6 70.8h1v1h-1zM304.6 70.8h1v1h-1zM287.6 71.8h1v1h-1zM304.6 71.8h1v1h-1zM287.6 72.8h1v1h-1zM304.6 72.8h1v1h-1zM287.6 73.8h1v1h-1zM304.6 73.8h1v1h-1zM287.6 74.8h1v1h-1zM304.6 74.8h1v1h-1zM287.6 75.8h1v1h-1zM304.6 75.8h1v1h-1zM287.6 76.8h1v1h-1zM304.6 76.8h1v1h-1zM287.6 77.8h1v1h-1zM304.6 77.8h1v1h-1zM287.6 78.8h1v1h-1zM304.6 78.8h1v1h-1zM287.6 79.8h1v1h-1zM304.6 79.8h1v1h-1zM287.6 80.8h18v1h-18z"/>
<path fill="#444444" d="M288.6 54.8h1v1h-1zM291.6 54.8h1v1h-1zM288.6 55.8h1v1h-1zM290.6 55.8h1v1h-1zM299.6 55.8h1v1h-1zM303.6 55.8h1v1h-1zM288.6 56.8h3v1h-3zM297.6 56.8h1v1h-1zM299.6 56.8h1v1h-1zM303.6 56.8h1v1h-1zM288.6 57.8h1v1h-1zM290.6 57.8h1v1h-1zM297.6 57.8h1v1h-1zM299.6 57.8h1v1h-1zM302.6 57.8h2v1h-2zM288.6 58.8h1v1h-1zM290.6 58.8h1v1h-1zM297.6 58.8h1v1h-1zM299.6 58.8h1v1h-1zM302.6 58.8h2v1h-2zM289.6 59.8h1v1h-1zM298.6 59.8h2v1h-2zM303.6 59.8h1v1h-1zM290.6 60.8h1v1h-1zM298.6 60.8h2v1h-2zM303.6 60.8h1v1h-1zM288.6 61.8h1v1h-1zM301.6 61.8h1v1h-1zM303.6 61.8h1v1h-1zM293.6 62.8h1v1h-1zM301.6 62.8h1v1h-1zM290.6 63.8h1v1h-1zM293.6 63.8h1v1h-1zM301.6 63.8h3v1h-3zM289.6 64.8h2v1h-2zM293.6 64.8h1v1h-1zM303.6 64.8h1v1h-1zM289.6 65.8h1v1h-1zM291.6 65.8h2v1h-2zM302.6 65.8h2v1h-2zM290.6 66.8h2v1h-2zM302.6 66.8h2v1h-2zM288.6 67.8h1v1h-1zM291.6 67.8h1v1h-1zM297.6 67.8h1v1h-1zM302.6 67.8h2v1h-2zM291.6 68.8h1v1h-1zM302.6 68.8h2v1h-2zM288.6 70.8h1v1h-1zM288.6 71.8h2v1h-2zM288.6 72.8h2v1h-2zM303.6 72.8h1v1h-1zM289.6 73.8h1v1h-1zM301.6 73.8h1v1h-1zM303.6 73.8h1v1h-1zM289.6 74.8h1v1h-1zM303.6 74.8h1v1h-1zM290.6 75.8h1v1h-1zM303.6 75.8h1v1h-1zM300.6 76.8h1v1h-1zM302.6 76.8h1v1h-1zM300.6 77.8h3v1h-3zM289.6 78.8h1v1h-1zM294.6 78.8h1v1h-1zM300.6 78.8h3v1h-3zM289.6 79.8h1v1h-1zM294.6 79.8h1v1h-1zM300.6 79.8h2v1h-2z"/>
<path fill="#333333" d="M289.6 54.8h2v1h-2zM302.6 54.8h2v1h-2zM289.6 55.8h1v1h-1zM302.6 55.8h1v1h-1zM302.6 56.8h1v1h-1zM290.6 59.8h1v1h-1zM302.6 59.8h1v1h-1zM289.6 60.8h1v1h-1zM289.6 61.8h1v1h-1zM288.6 62.8h2v1h-2zM302.6 62.8h1v1h-1zM288.6 63.8h2v1h-2zM288.6 64.8h1v1h-1zM288.6 65.8h1v1h-1zM290.6 65.8h1v1h-1zM288.6 66.8h2v1h-2zM292.6 66.8h1v1h-1zM289.6 67.8h1v1h-1zM288.6 68.8h2v1h-2zM288.6 69.8h2v1h-2zM302.6 69.8h2v1h-2zM289.6 70.8h1v1h-1zM302.6 70.8h2v1h-2zM302.6 71.8h2v1h-2zM302.6 72.8h1v1h-1zM288.6 73.8h1v1h-1zM288.6 74.8h1v1h-1zM301.6 74.8h1v1h-1zM288.6 75.8h2v1h-2zM301.6 75.8h2v1h-2zM288.6 76.8h2v1h-2zM301.6 76.8h1v1h-1zM303.6 76.8h1v1h-1zM288.6 77.8h2v1h-2zM303.6 77.8h1v1h-1zM288.6 78.8h1v1h-1zM303.6 78.8h1v1h-1zM288.6 79.8h1v1h-1zM302.6 79.8h2v1h-2z"/>
<path fill="#555555" d="M293.6 54.8h1v1h-1zM300.6 54.8h1v1h-1zM291.6 55.8h1v1h-1zM297.6 55.8h1v1h-1zM300.6 55.8h1v1h-1zM291.6 56.8h1v1h-1zM300.6 56.8h1v1h-1zM289.6 57.8h1v1h-1zM291.6 57.8h1v1h-1zM294.6 57.8h1v1h-1zM300.6 57.8h2v1h-2zM289.6 58.8h1v1h-1zM291.6 58.8h2v1h-2zM294.6 58.8h1v1h-1zM298.6 58.8h1v1h-1zM300.6 58.8h2v1h-2zM288.6 59.8h1v1h-1zM294.6 59.8h1v1h-1zM297.6 59.8h1v1h-1zM301.6 59.8h1v1h-1zM288.6 60.8h1v1h-1zM301.6 60.8h1v1h-1zM290.6 61.8h1v1h-1zM293.6 61.8h1v1h-1zM298.6 61.8h2v1h-2zM290.6 62.8h1v1h-1zM298.6 62.8h3v1h-3zM303.6 62.8h1v1h-1zM291.6 63.8h1v1h-1zM294.6 63.8h1v1h-1zM298.6 63.8h2v1h-2zM291.6 64.8h2v1h-2zM294.6 64.8h1v1h-1zM298.6 64.8h2v1h-2zM301.6 64.8h2v1h-2zM293.6 65.8h2v1h-2zM298.6 65.8h1v1h-1zM301.6 65.8h1v1h-1zM293.6 66.8h2v1h-2zM297.6 66.8h2v1h-2zM300.6 66.8h2v1h-2zM290.6 67.8h1v1h-1zM292.6 67.8h2v1h-2zM298.6 67.8h1v1h-1zM301.6 67.8h1v1h-1zM290.6 68.8h1v1h-1zM293.6 68.8h1v1h-1zM295.6 68.8h1v1h-1zM297.6 68.8h1v1h-1zM290.6 69.8h2v1h-2zM293.6 69.8h1v1h-1zM295.6 69.8h1v1h-1zM291.6 70.8h1v1h-1zM295.6 70.8h1v1h-1zM300.6 71.8h1v1h-1zM291.6 72.8h2v1h-2zM301.6 72.8h1v1h-1zM290.6 73.8h3v1h-3zM290.6 74.8h3v1h-3zM291.6 75.8h1v1h-1zM299.6 75.8h2v1h-2zM290.6 76.8h2v1h-2zM299.6 76.8h1v1h-1zM290.6 77.8h2v1h-2zM294.6 77.8h1v1h-1zM299.6 77.8h1v1h-1zM290.6 78.8h1v1h-1zM299.6 78.8h1v1h-1zM290.6 79.8h1v1h-1zM296.6 79.8h2v1h-2zM299.6 79.8h1v1h-1z"/>
<path fill="#777777" d="M294.6 54.8h1v1h-1zM298.6 54.8h1v1h-1zM292.6 55.8h1v1h-1zM294.6 55.8h1v1h-1zM298.6 55.8h1v1h-1zM292.6 56.8h1v1h-1zM298.6 56.8h1v1h-1zM296.6 59.8h1v1h-1zM291.6 60.8h1v1h-1zM296.6 60.8h1v1h-1zM291.6 61.8h1v1h-1zM296.6 61.8h1v1h-1zM297.6 62.8h1v1h-1zM297.6 63.8h1v1h-1zM297.6 64.8h1v1h-1zM300.6 64.8h1v1h-1zM296.6 65.8h1v1h-1zM296.6 66.8h1v1h-1zM296.6 67.8h1v1h-1zM296.6 68.8h1v1h-1zM292.6 69.8h1v1h-1zM296.6 69.8h1v1h-1zM300.6 69.8h1v1h-1zM294.6 70.8h1v1h-1zM297.6 70.8h3v1h-3zM290.6 71.8h1v1h-1zM293.6 71.8h1v1h-1zM297.6 71.8h3v1h-3zM296.6 72.8h1v1h-1zM298.6 72.8h2v1h-2zM293.6 73.8h1v1h-1zM295.6 73.8h2v1h-2zM298.6 73.8h2v1h-2zM295.6 74.8h2v1h-2zM298.6 74.8h1v1h-1zM293.6 75.8h1v1h-1zM298.6 75.8h1v1h-1zM292.6 76.8h2v1h-2zM297.6 76.8h1v1h-1zM292.6 77.8h2v1h-2zM297.6 77.8h1v1h-1zM292.6 78.8h2v1h-2zM293.6 79.8h1v1h-1z"/>
<path fill="#222222" d="M302.6 60.8h1v1h-1zM302.6 61.8h1v1h-1zM302.6 73.8h1v1h-1zM302.6 74.8h1v1h-1z"/>
<path fill="#888888" d="M299.6 67.8h1v1h-1zM299.6 68.8h1v1h-1zM299.6 69.8h1v1h-1zM293.6 72.8h1v1h-1zM292.6 79.8h1v1h-1z"/></g>
<text x="284.3" y="68.5" font-size="5" text-anchor="middle" font-weight="normal" fill="#000" transform="rotate(-90 284.3 68.5)" stroke="#000" stroke-width="0.1">Syllable E</text>
<line x1="309.3" y1="50.5" x2="311.2" y2="55.2" stroke="#999" stroke-width="0.4" stroke-dasharray="0.8 0.6"/>
<line x1="316.5" y1="50.5" x2="313.5" y2="55.2" stroke="#999" stroke-width="0.4" stroke-dasharray="0.8 0.6"/>
<line x1="305.6" y1="54" x2="311.2" y2="55.2" stroke="#999" stroke-width="0.4" stroke-dasharray="0.8 0.6"/>
<line x1="305.6" y1="58" x2="311.2" y2="57.5" stroke="#999" stroke-width="0.4" stroke-dasharray="0.8 0.6"/>
<g filter="url(#bl3)" shape-rendering="crispEdges"><rect x="311.2" y="55.3" width="3.33" height="3.25" fill="#44d2b7"/>
<rect x="314.48" y="55.3" width="3.33" height="3.25" fill="#3acec6"/>
<rect x="317.76" y="55.3" width="3.33" height="3.25" fill="#28abea"/>
<rect x="321.04" y="55.3" width="3.33" height="3.25" fill="#28b5e7"/>
<rect x="324.32" y="55.3" width="3.33" height="3.25" fill="#28c0e4"/>
<rect x="327.6" y="55.3" width="3.33" height="3.25" fill="#28b1e8"/>
<rect x="330.88" y="55.3" width="3.33" height="3.25" fill="#28a7eb"/>
<rect x="334.16" y="55.3" width="3.33" height="3.25" fill="#28a4ec"/>
<rect x="337.44" y="55.3" width="3.33" height="3.25" fill="#28bae5"/>
<rect x="340.72" y="55.3" width="3.33" height="3.25" fill="#3ccfc3"/>
<rect x="344" y="55.3" width="3.33" height="3.25" fill="#43d2b9"/>
<rect x="347.28" y="55.3" width="3.33" height="3.25" fill="#4cd5ab"/>
<rect x="350.56" y="55.3" width="3.33" height="3.25" fill="#7ee26f"/>
<rect x="353.84" y="55.3" width="3.33" height="3.25" fill="#e2d136"/>
<rect x="357.12" y="55.3" width="3.33" height="3.25" fill="#cbe543"/>
<rect x="360.4" y="55.3" width="3.33" height="3.25" fill="#8ae268"/>
<rect x="363.68" y="55.3" width="3.33" height="3.25" fill="#c1e549"/>
<rect x="366.96" y="55.3" width="3.33" height="3.25" fill="#9de35d"/>
<rect x="370.24" y="55.3" width="3.33" height="3.25" fill="#eeb92f"/>
<rect x="373.52" y="55.3" width="3.33" height="3.25" fill="#e54a17"/>
<rect x="311.2" y="58.5" width="3.33" height="3.25" fill="#28bee4"/>
<rect x="314.48" y="58.5" width="3.33" height="3.25" fill="#289aef"/>
<rect x="317.76" y="58.5" width="3.33" height="3.25" fill="#2890ef"/>
<rect x="321.04" y="58.5" width="3.33" height="3.25" fill="#2887ed"/>
<rect x="324.32" y="58.5" width="3.33" height="3.25" fill="#2898ef"/>
<rect x="327.6" y="58.5" width="3.33" height="3.25" fill="#289eee"/>
<rect x="330.88" y="58.5" width="3.33" height="3.25" fill="#2874ea"/>
<rect x="334.16" y="58.5" width="3.33" height="3.25" fill="#288dee"/>
<rect x="337.44" y="58.5" width="3.33" height="3.25" fill="#2880ec"/>
<rect x="340.72" y="58.5" width="3.33" height="3.25" fill="#28bde4"/>
<rect x="344" y="58.5" width="3.33" height="3.25" fill="#28c6e2"/>
<rect x="347.28" y="58.5" width="3.33" height="3.25" fill="#64dd88"/>
<rect x="350.56" y="58.5" width="3.33" height="3.25" fill="#9ce35d"/>
<rect x="353.84" y="58.5" width="3.33" height="3.25" fill="#e5c934"/>
<rect x="357.12" y="58.5" width="3.33" height="3.25" fill="#e4cd35"/>
<rect x="360.4" y="58.5" width="3.33" height="3.25" fill="#eabf31"/>
<rect x="363.68" y="58.5" width="3.33" height="3.25" fill="#e3ce35"/>
<rect x="366.96" y="58.5" width="3.33" height="3.25" fill="#e0d337"/>
<rect x="370.24" y="58.5" width="3.33" height="3.25" fill="#f1b32d"/>
<rect x="373.52" y="58.5" width="3.33" height="3.25" fill="#f68e24"/>
<rect x="311.2" y="61.7" width="3.33" height="3.25" fill="#28a3ec"/>
<rect x="314.48" y="61.7" width="3.33" height="3.25" fill="#289cee"/>
<rect x="317.76" y="61.7" width="3.33" height="3.25" fill="#286ee9"/>
<rect x="321.04" y="61.7" width="3.33" height="3.25" fill="#2896f0"/>
<rect x="324.32" y="61.7" width="3.33" height="3.25" fill="#287eec"/>
<rect x="327.6" y="61.7" width="3.33" height="3.25" fill="#2892ef"/>
<rect x="330.88" y="61.7" width="3.33" height="3.25" fill="#2892ef"/>
<rect x="334.16" y="61.7" width="3.33" height="3.25" fill="#286ee9"/>
<rect x="337.44" y="61.7" width="3.33" height="3.25" fill="#288dee"/>
<rect x="340.72" y="61.7" width="3.33" height="3.25" fill="#28bce5"/>
<rect x="344" y="61.7" width="3.33" height="3.25" fill="#50d6a5"/>
<rect x="347.28" y="61.7" width="3.33" height="3.25" fill="#4dd5aa"/>
<rect x="350.56" y="61.7" width="3.33" height="3.25" fill="#b6e44f"/>
<rect x="353.84" y="61.7" width="3.33" height="3.25" fill="#ddd938"/>
<rect x="357.12" y="61.7" width="3.33" height="3.25" fill="#ec671d"/>
<rect x="360.4" y="61.7" width="3.33" height="3.25" fill="#ef7620"/>
<rect x="363.68" y="61.7" width="3.33" height="3.25" fill="#d93713"/>
<rect x="366.96" y="61.7" width="3.33" height="3.25" fill="#e54d17"/>
<rect x="370.24" y="61.7" width="3.33" height="3.25" fill="#bf280f"/>
<rect x="373.52" y="61.7" width="3.33" height="3.25" fill="#f5aa2b"/>
<rect x="311.2" y="64.9" width="3.33" height="3.25" fill="#289eee"/>
<rect x="314.48" y="64.9" width="3.33" height="3.25" fill="#289eee"/>
<rect x="317.76" y="64.9" width="3.33" height="3.25" fill="#2886ed"/>
<rect x="321.04" y="64.9" width="3.33" height="3.25" fill="#2890ef"/>
<rect x="324.32" y="64.9" width="3.33" height="3.25" fill="#28a6eb"/>
<rect x="327.6" y="64.9" width="3.33" height="3.25" fill="#288aee"/>
<rect x="330.88" y="64.9" width="3.33" height="3.25" fill="#2894f0"/>
<rect x="334.16" y="64.9" width="3.33" height="3.25" fill="#2891ef"/>
<rect x="337.44" y="64.9" width="3.33" height="3.25" fill="#289bef"/>
<rect x="340.72" y="64.9" width="3.33" height="3.25" fill="#28bae5"/>
<rect x="344" y="64.9" width="3.33" height="3.25" fill="#3bcfc5"/>
<rect x="347.28" y="64.9" width="3.33" height="3.25" fill="#68df81"/>
<rect x="350.56" y="64.9" width="3.33" height="3.25" fill="#a1e35b"/>
<rect x="353.84" y="64.9" width="3.33" height="3.25" fill="#e0d537"/>
<rect x="357.12" y="64.9" width="3.33" height="3.25" fill="#d83713"/>
<rect x="360.4" y="64.9" width="3.33" height="3.25" fill="#ef731f"/>
<rect x="363.68" y="64.9" width="3.33" height="3.25" fill="#ee701e"/>
<rect x="366.96" y="64.9" width="3.33" height="3.25" fill="#ef721f"/>
<rect x="370.24" y="64.9" width="3.33" height="3.25" fill="#d73613"/>
<rect x="373.52" y="64.9" width="3.33" height="3.25" fill="#dfd637"/>
<rect x="311.2" y="68.1" width="3.33" height="3.25" fill="#2880ec"/>
<rect x="314.48" y="68.1" width="3.33" height="3.25" fill="#287dec"/>
<rect x="317.76" y="68.1" width="3.33" height="3.25" fill="#2898ef"/>
<rect x="321.04" y="68.1" width="3.33" height="3.25" fill="#287fec"/>
<rect x="324.32" y="68.1" width="3.33" height="3.25" fill="#287beb"/>
<rect x="327.6" y="68.1" width="3.33" height="3.25" fill="#289bef"/>
<rect x="330.88" y="68.1" width="3.33" height="3.25" fill="#287cec"/>
<rect x="334.16" y="68.1" width="3.33" height="3.25" fill="#288bee"/>
<rect x="337.44" y="68.1" width="3.33" height="3.25" fill="#2891ef"/>
<rect x="340.72" y="68.1" width="3.33" height="3.25" fill="#28b9e5"/>
<rect x="344" y="68.1" width="3.33" height="3.25" fill="#3dcfc2"/>
<rect x="347.28" y="68.1" width="3.33" height="3.25" fill="#88e269"/>
<rect x="350.56" y="68.1" width="3.33" height="3.25" fill="#8ce267"/>
<rect x="353.84" y="68.1" width="3.33" height="3.25" fill="#dcdd39"/>
<rect x="357.12" y="68.1" width="3.33" height="3.25" fill="#f79325"/>
<rect x="360.4" y="68.1" width="3.33" height="3.25" fill="#eb631c"/>
<rect x="363.68" y="68.1" width="3.33" height="3.25" fill="#ec681d"/>
<rect x="366.96" y="68.1" width="3.33" height="3.25" fill="#e75619"/>
<rect x="370.24" y="68.1" width="3.33" height="3.25" fill="#ed6b1d"/>
<rect x="373.52" y="68.1" width="3.33" height="3.25" fill="#d8e43b"/>
<rect x="311.2" y="71.3" width="3.33" height="3.25" fill="#2884ed"/>
<rect x="314.48" y="71.3" width="3.33" height="3.25" fill="#2865e8"/>
<rect x="317.76" y="71.3" width="3.33" height="3.25" fill="#2871ea"/>
<rect x="321.04" y="71.3" width="3.33" height="3.25" fill="#2867e8"/>
<rect x="324.32" y="71.3" width="3.33" height="3.25" fill="#2870ea"/>
<rect x="327.6" y="71.3" width="3.33" height="3.25" fill="#288fef"/>
<rect x="330.88" y="71.3" width="3.33" height="3.25" fill="#2876eb"/>
<rect x="334.16" y="71.3" width="3.33" height="3.25" fill="#2875eb"/>
<rect x="337.44" y="71.3" width="3.33" height="3.25" fill="#28abea"/>
<rect x="340.72" y="71.3" width="3.33" height="3.25" fill="#39cec7"/>
<rect x="344" y="71.3" width="3.33" height="3.25" fill="#41d1bb"/>
<rect x="347.28" y="71.3" width="3.33" height="3.25" fill="#9fe35c"/>
<rect x="350.56" y="71.3" width="3.33" height="3.25" fill="#c4e547"/>
<rect x="353.84" y="71.3" width="3.33" height="3.25" fill="#e2d036"/>
<rect x="357.12" y="71.3" width="3.33" height="3.25" fill="#f9a128"/>
<rect x="360.4" y="71.3" width="3.33" height="3.25" fill="#f6a92a"/>
<rect x="363.68" y="71.3" width="3.33" height="3.25" fill="#f58e24"/>
<rect x="366.96" y="71.3" width="3.33" height="3.25" fill="#ee701e"/>
<rect x="370.24" y="71.3" width="3.33" height="3.25" fill="#f89927"/>
<rect x="373.52" y="71.3" width="3.33" height="3.25" fill="#dbdd3a"/>
<rect x="311.2" y="74.5" width="3.33" height="3.25" fill="#28ade9"/>
<rect x="314.48" y="74.5" width="3.33" height="3.25" fill="#2859e6"/>
<rect x="317.76" y="74.5" width="3.33" height="3.25" fill="#2873ea"/>
<rect x="321.04" y="74.5" width="3.33" height="3.25" fill="#2869e8"/>
<rect x="324.32" y="74.5" width="3.33" height="3.25" fill="#285be6"/>
<rect x="327.6" y="74.5" width="3.33" height="3.25" fill="#285ce6"/>
<rect x="330.88" y="74.5" width="3.33" height="3.25" fill="#286ee9"/>
<rect x="334.16" y="74.5" width="3.33" height="3.25" fill="#2898ef"/>
<rect x="337.44" y="74.5" width="3.33" height="3.25" fill="#2888ee"/>
<rect x="340.72" y="74.5" width="3.33" height="3.25" fill="#34cccf"/>
<rect x="344" y="74.5" width="3.33" height="3.25" fill="#61dc8c"/>
<rect x="347.28" y="74.5" width="3.33" height="3.25" fill="#8be267"/>
<rect x="350.56" y="74.5" width="3.33" height="3.25" fill="#dae03a"/>
<rect x="353.84" y="74.5" width="3.33" height="3.25" fill="#edba2f"/>
<rect x="357.12" y="74.5" width="3.33" height="3.25" fill="#edb92f"/>
<rect x="360.4" y="74.5" width="3.33" height="3.25" fill="#f99d27"/>
<rect x="363.68" y="74.5" width="3.33" height="3.25" fill="#efb62e"/>
<rect x="366.96" y="74.5" width="3.33" height="3.25" fill="#eac031"/>
<rect x="370.24" y="74.5" width="3.33" height="3.25" fill="#f0b52e"/>
<rect x="373.52" y="74.5" width="3.33" height="3.25" fill="#a5e458"/>
<rect x="311.2" y="77.7" width="3.33" height="3.25" fill="#288bee"/>
<rect x="314.48" y="77.7" width="3.33" height="3.25" fill="#287cec"/>
<rect x="317.76" y="77.7" width="3.33" height="3.25" fill="#2879eb"/>
<rect x="321.04" y="77.7" width="3.33" height="3.25" fill="#2889ee"/>
<rect x="324.32" y="77.7" width="3.33" height="3.25" fill="#286ee9"/>
<rect x="327.6" y="77.7" width="3.33" height="3.25" fill="#2854e5"/>
<rect x="330.88" y="77.7" width="3.33" height="3.25" fill="#2890ef"/>
<rect x="334.16" y="77.7" width="3.33" height="3.25" fill="#28a2ec"/>
<rect x="337.44" y="77.7" width="3.33" height="3.25" fill="#287eec"/>
<rect x="340.72" y="77.7" width="3.33" height="3.25" fill="#4dd5aa"/>
<rect x="344" y="77.7" width="3.33" height="3.25" fill="#54d89f"/>
<rect x="347.28" y="77.7" width="3.33" height="3.25" fill="#57d99b"/>
<rect x="350.56" y="77.7" width="3.33" height="3.25" fill="#b6e44f"/>
<rect x="353.84" y="77.7" width="3.33" height="3.25" fill="#a9e456"/>
<rect x="357.12" y="77.7" width="3.33" height="3.25" fill="#ded738"/>
<rect x="360.4" y="77.7" width="3.33" height="3.25" fill="#a0e35b"/>
<rect x="363.68" y="77.7" width="3.33" height="3.25" fill="#b2e451"/>
<rect x="366.96" y="77.7" width="3.33" height="3.25" fill="#b1e452"/>
<rect x="370.24" y="77.7" width="3.33" height="3.25" fill="#aee454"/>
<rect x="373.52" y="77.7" width="3.33" height="3.25" fill="#7fe26e"/></g>
<defs><linearGradient id="jb1" x1="0" y1="0" x2="0" y2="1"><stop offset="0" stop-color="#960f0a"/><stop offset="0.1" stop-color="#e13c14"/><stop offset="0.22" stop-color="#faa028"/><stop offset="0.34" stop-color="#d7e63c"/><stop offset="0.45" stop-color="#6ee178"/><stop offset="0.58" stop-color="#28c8e1"/><stop offset="0.7" stop-color="#2896f0"/><stop offset="0.88" stop-color="#283ce1"/><stop offset="1" stop-color="#19198c"/></linearGradient></defs>
<rect x="383.6" y="63" width="3" height="14.2" fill="url(#jb1)"/>
<text x="384.9" y="61" font-size="5" text-anchor="middle" font-weight="normal" fill="#000" stroke="#000" stroke-width="0.1">0.8</text>
<text x="384.2" y="82.3" font-size="5" text-anchor="middle" font-weight="normal" fill="#000" stroke="#000" stroke-width="0.1">−0.1</text>
<text x="395.2" y="69.8" font-size="5" text-anchor="middle" font-weight="normal" fill="#000" transform="rotate(-90 395.2 69.8)" stroke="#000" stroke-width="0.1">Correlation</text>
<text x="344.3" y="94" font-size="5" text-anchor="middle" font-weight="normal" fill="#000" stroke="#000" stroke-width="0.1">Neural correlation</text>
<g filter="url(#bl3)" shape-rendering="crispEdges"><rect x="311" y="95.9" width="3.33" height="3.27" fill="#28c6e2"/>
<rect x="314.29" y="95.9" width="3.33" height="3.27" fill="#289cee"/>
<rect x="317.57" y="95.9" width="3.33" height="3.27" fill="#28c6e2"/>
<rect x="320.86" y="95.9" width="3.33" height="3.27" fill="#28c6e2"/>
<rect x="324.14" y="95.9" width="3.33" height="3.27" fill="#289cee"/>
<rect x="327.43" y="95.9" width="3.33" height="3.27" fill="#28c6e2"/>
<rect x="330.71" y="95.9" width="3.33" height="3.27" fill="#289cee"/>
<rect x="334" y="95.9" width="3.33" height="3.27" fill="#289cee"/>
<rect x="337.28" y="95.9" width="3.33" height="3.27" fill="#28c6e2"/>
<rect x="340.56" y="95.9" width="3.33" height="3.27" fill="#289cee"/>
<rect x="343.85" y="95.9" width="3.33" height="3.27" fill="#289cee"/>
<rect x="347.13" y="95.9" width="3.33" height="3.27" fill="#28c6e2"/>
<rect x="350.42" y="95.9" width="3.33" height="3.27" fill="#28c6e2"/>
<rect x="353.7" y="95.9" width="3.33" height="3.27" fill="#28c6e2"/>
<rect x="356.99" y="95.9" width="3.33" height="3.27" fill="#28c6e2"/>
<rect x="360.27" y="95.9" width="3.33" height="3.27" fill="#289cee"/>
<rect x="363.56" y="95.9" width="3.33" height="3.27" fill="#28c6e2"/>
<rect x="366.85" y="95.9" width="3.33" height="3.27" fill="#28c6e2"/>
<rect x="370.13" y="95.9" width="3.33" height="3.27" fill="#28c6e2"/>
<rect x="373.42" y="95.9" width="3.33" height="3.27" fill="#28c6e2"/>
<rect x="311" y="99.12" width="3.33" height="3.27" fill="#289cee"/>
<rect x="314.29" y="99.12" width="3.33" height="3.27" fill="#28c6e2"/>
<rect x="317.57" y="99.12" width="3.33" height="3.27" fill="#66de84"/>
<rect x="320.86" y="99.12" width="3.33" height="3.27" fill="#28c6e2"/>
<rect x="324.14" y="99.12" width="3.33" height="3.27" fill="#28c6e2"/>
<rect x="327.43" y="99.12" width="3.33" height="3.27" fill="#28c6e2"/>
<rect x="330.71" y="99.12" width="3.33" height="3.27" fill="#289cee"/>
<rect x="334" y="99.12" width="3.33" height="3.27" fill="#289cee"/>
<rect x="337.28" y="99.12" width="3.33" height="3.27" fill="#289cee"/>
<rect x="340.56" y="99.12" width="3.33" height="3.27" fill="#289cee"/>
<rect x="343.85" y="99.12" width="3.33" height="3.27" fill="#28c6e2"/>
<rect x="347.13" y="99.12" width="3.33" height="3.27" fill="#289cee"/>
<rect x="350.42" y="99.12" width="3.33" height="3.27" fill="#28c6e2"/>
<rect x="353.7" y="99.12" width="3.33" height="3.27" fill="#289cee"/>
<rect x="356.99" y="99.12" width="3.33" height="3.27" fill="#28c6e2"/>
<rect x="360.27" y="99.12" width="3.33" height="3.27" fill="#28c6e2"/>
<rect x="363.56" y="99.12" width="3.33" height="3.27" fill="#28c6e2"/>
<rect x="366.85" y="99.12" width="3.33" height="3.27" fill="#66de84"/>
<rect x="370.13" y="99.12" width="3.33" height="3.27" fill="#28c6e2"/>
<rect x="373.42" y="99.12" width="3.33" height="3.27" fill="#28c6e2"/>
<rect x="311" y="102.35" width="3.33" height="3.27" fill="#289cee"/>
<rect x="314.29" y="102.35" width="3.33" height="3.27" fill="#28c6e2"/>
<rect x="317.57" y="102.35" width="3.33" height="3.27" fill="#28c6e2"/>
<rect x="320.86" y="102.35" width="3.33" height="3.27" fill="#289cee"/>
<rect x="324.14" y="102.35" width="3.33" height="3.27" fill="#289cee"/>
<rect x="327.43" y="102.35" width="3.33" height="3.27" fill="#289cee"/>
<rect x="330.71" y="102.35" width="3.33" height="3.27" fill="#2867e8"/>
<rect x="334" y="102.35" width="3.33" height="3.27" fill="#289cee"/>
<rect x="337.28" y="102.35" width="3.33" height="3.27" fill="#289cee"/>
<rect x="340.56" y="102.35" width="3.33" height="3.27" fill="#289cee"/>
<rect x="343.85" y="102.35" width="3.33" height="3.27" fill="#289cee"/>
<rect x="347.13" y="102.35" width="3.33" height="3.27" fill="#28c6e2"/>
<rect x="350.42" y="102.35" width="3.33" height="3.27" fill="#289cee"/>
<rect x="353.7" y="102.35" width="3.33" height="3.27" fill="#28c6e2"/>
<rect x="356.99" y="102.35" width="3.33" height="3.27" fill="#28c6e2"/>
<rect x="360.27" y="102.35" width="3.33" height="3.27" fill="#28c6e2"/>
<rect x="363.56" y="102.35" width="3.33" height="3.27" fill="#28c6e2"/>
<rect x="366.85" y="102.35" width="3.33" height="3.27" fill="#66de84"/>
<rect x="370.13" y="102.35" width="3.33" height="3.27" fill="#28c6e2"/>
<rect x="373.42" y="102.35" width="3.33" height="3.27" fill="#66de84"/>
<rect x="311" y="105.58" width="3.33" height="3.27" fill="#28c6e2"/>
<rect x="314.29" y="105.58" width="3.33" height="3.27" fill="#289cee"/>
<rect x="317.57" y="105.58" width="3.33" height="3.27" fill="#289cee"/>
<rect x="320.86" y="105.58" width="3.33" height="3.27" fill="#289cee"/>
<rect x="324.14" y="105.58" width="3.33" height="3.27" fill="#289cee"/>
<rect x="327.43" y="105.58" width="3.33" height="3.27" fill="#289cee"/>
<rect x="330.71" y="105.58" width="3.33" height="3.27" fill="#2867e8"/>
<rect x="334" y="105.58" width="3.33" height="3.27" fill="#2867e8"/>
<rect x="337.28" y="105.58" width="3.33" height="3.27" fill="#289cee"/>
<rect x="340.56" y="105.58" width="3.33" height="3.27" fill="#289cee"/>
<rect x="343.85" y="105.58" width="3.33" height="3.27" fill="#289cee"/>
<rect x="347.13" y="105.58" width="3.33" height="3.27" fill="#28c6e2"/>
<rect x="350.42" y="105.58" width="3.33" height="3.27" fill="#289cee"/>
<rect x="353.7" y="105.58" width="3.33" height="3.27" fill="#28c6e2"/>
<rect x="356.99" y="105.58" width="3.33" height="3.27" fill="#28c6e2"/>
<rect x="360.27" y="105.58" width="3.33" height="3.27" fill="#289cee"/>
<rect x="363.56" y="105.58" width="3.33" height="3.27" fill="#28c6e2"/>
<rect x="366.85" y="105.58" width="3.33" height="3.27" fill="#28c6e2"/>
<rect x="370.13" y="105.58" width="3.33" height="3.27" fill="#28c6e2"/>
<rect x="373.42" y="105.58" width="3.33" height="3.27" fill="#28c6e2"/>
<rect x="311" y="108.8" width="3.33" height="3.27" fill="#28c6e2"/>
<rect x="314.29" y="108.8" width="3.33" height="3.27" fill="#289cee"/>
<rect x="317.57" y="108.8" width="3.33" height="3.27" fill="#289cee"/>
<rect x="320.86" y="108.8" width="3.33" height="3.27" fill="#289cee"/>
<rect x="324.14" y="108.8" width="3.33" height="3.27" fill="#289cee"/>
<rect x="327.43" y="108.8" width="3.33" height="3.27" fill="#2867e8"/>
<rect x="330.71" y="108.8" width="3.33" height="3.27" fill="#2867e8"/>
<rect x="334" y="108.8" width="3.33" height="3.27" fill="#2867e8"/>
<rect x="337.28" y="108.8" width="3.33" height="3.27" fill="#289cee"/>
<rect x="340.56" y="108.8" width="3.33" height="3.27" fill="#289cee"/>
<rect x="343.85" y="108.8" width="3.33" height="3.27" fill="#289cee"/>
<rect x="347.13" y="108.8" width="3.33" height="3.27" fill="#289cee"/>
<rect x="350.42" y="108.8" width="3.33" height="3.27" fill="#2867e8"/>
<rect x="353.7" y="108.8" width="3.33" height="3.27" fill="#289cee"/>
<rect x="356.99" y="108.8" width="3.33" height="3.27" fill="#289cee"/>
<rect x="360.27" y="108.8" width="3.33" height="3.27" fill="#289cee"/>
<rect x="363.56" y="108.8" width="3.33" height="3.27" fill="#289cee"/>
<rect x="366.85" y="108.8" width="3.33" height="3.27" fill="#28c6e2"/>
<rect x="370.13" y="108.8" width="3.33" height="3.27" fill="#289cee"/>
<rect x="373.42" y="108.8" width="3.33" height="3.27" fill="#28c6e2"/>
<rect x="311" y="112.03" width="3.33" height="3.27" fill="#28c6e2"/>
<rect x="314.29" y="112.03" width="3.33" height="3.27" fill="#28c6e2"/>
<rect x="317.57" y="112.03" width="3.33" height="3.27" fill="#289cee"/>
<rect x="320.86" y="112.03" width="3.33" height="3.27" fill="#28c6e2"/>
<rect x="324.14" y="112.03" width="3.33" height="3.27" fill="#289cee"/>
<rect x="327.43" y="112.03" width="3.33" height="3.27" fill="#289cee"/>
<rect x="330.71" y="112.03" width="3.33" height="3.27" fill="#2867e8"/>
<rect x="334" y="112.03" width="3.33" height="3.27" fill="#289cee"/>
<rect x="337.28" y="112.03" width="3.33" height="3.27" fill="#289cee"/>
<rect x="340.56" y="112.03" width="3.33" height="3.27" fill="#289cee"/>
<rect x="343.85" y="112.03" width="3.33" height="3.27" fill="#2867e8"/>
<rect x="347.13" y="112.03" width="3.33" height="3.27" fill="#2867e8"/>
<rect x="350.42" y="112.03" width="3.33" height="3.27" fill="#2867e8"/>
<rect x="353.7" y="112.03" width="3.33" height="3.27" fill="#289cee"/>
<rect x="356.99" y="112.03" width="3.33" height="3.27" fill="#289cee"/>
<rect x="360.27" y="112.03" width="3.33" height="3.27" fill="#289cee"/>
<rect x="363.56" y="112.03" width="3.33" height="3.27" fill="#289cee"/>
<rect x="366.85" y="112.03" width="3.33" height="3.27" fill="#28c6e2"/>
<rect x="370.13" y="112.03" width="3.33" height="3.27" fill="#289cee"/>
<rect x="373.42" y="112.03" width="3.33" height="3.27" fill="#28c6e2"/>
<rect x="311" y="115.25" width="3.33" height="3.27" fill="#289cee"/>
<rect x="314.29" y="115.25" width="3.33" height="3.27" fill="#28c6e2"/>
<rect x="317.57" y="115.25" width="3.33" height="3.27" fill="#28c6e2"/>
<rect x="320.86" y="115.25" width="3.33" height="3.27" fill="#28c6e2"/>
<rect x="324.14" y="115.25" width="3.33" height="3.27" fill="#289cee"/>
<rect x="327.43" y="115.25" width="3.33" height="3.27" fill="#289cee"/>
<rect x="330.71" y="115.25" width="3.33" height="3.27" fill="#289cee"/>
<rect x="334" y="115.25" width="3.33" height="3.27" fill="#289cee"/>
<rect x="337.28" y="115.25" width="3.33" height="3.27" fill="#289cee"/>
<rect x="340.56" y="115.25" width="3.33" height="3.27" fill="#289cee"/>
<rect x="343.85" y="115.25" width="3.33" height="3.27" fill="#2867e8"/>
<rect x="347.13" y="115.25" width="3.33" height="3.27" fill="#222fc1"/>
<rect x="350.42" y="115.25" width="3.33" height="3.27" fill="#2867e8"/>
<rect x="353.7" y="115.25" width="3.33" height="3.27" fill="#2867e8"/>
<rect x="356.99" y="115.25" width="3.33" height="3.27" fill="#289cee"/>
<rect x="360.27" y="115.25" width="3.33" height="3.27" fill="#289cee"/>
<rect x="363.56" y="115.25" width="3.33" height="3.27" fill="#289cee"/>
<rect x="366.85" y="115.25" width="3.33" height="3.27" fill="#28c6e2"/>
<rect x="370.13" y="115.25" width="3.33" height="3.27" fill="#289cee"/>
<rect x="373.42" y="115.25" width="3.33" height="3.27" fill="#28c6e2"/>
<rect x="311" y="118.48" width="3.33" height="3.27" fill="#289cee"/>
<rect x="314.29" y="118.48" width="3.33" height="3.27" fill="#289cee"/>
<rect x="317.57" y="118.48" width="3.33" height="3.27" fill="#289cee"/>
<rect x="320.86" y="118.48" width="3.33" height="3.27" fill="#28c6e2"/>
<rect x="324.14" y="118.48" width="3.33" height="3.27" fill="#289cee"/>
<rect x="327.43" y="118.48" width="3.33" height="3.27" fill="#289cee"/>
<rect x="330.71" y="118.48" width="3.33" height="3.27" fill="#2867e8"/>
<rect x="334" y="118.48" width="3.33" height="3.27" fill="#289cee"/>
<rect x="337.28" y="118.48" width="3.33" height="3.27" fill="#289cee"/>
<rect x="340.56" y="118.48" width="3.33" height="3.27" fill="#289cee"/>
<rect x="343.85" y="118.48" width="3.33" height="3.27" fill="#289cee"/>
<rect x="347.13" y="118.48" width="3.33" height="3.27" fill="#2867e8"/>
<rect x="350.42" y="118.48" width="3.33" height="3.27" fill="#222fc1"/>
<rect x="353.7" y="118.48" width="3.33" height="3.27" fill="#222fc1"/>
<rect x="356.99" y="118.48" width="3.33" height="3.27" fill="#289cee"/>
<rect x="360.27" y="118.48" width="3.33" height="3.27" fill="#289cee"/>
<rect x="363.56" y="118.48" width="3.33" height="3.27" fill="#289cee"/>
<rect x="366.85" y="118.48" width="3.33" height="3.27" fill="#289cee"/>
<rect x="370.13" y="118.48" width="3.33" height="3.27" fill="#66de84"/>
<rect x="373.42" y="118.48" width="3.33" height="3.27" fill="#28c6e2"/></g>
<defs><linearGradient id="jb2" x1="0" y1="0" x2="0" y2="1"><stop offset="0" stop-color="#960f0a"/><stop offset="0.1" stop-color="#e13c14"/><stop offset="0.22" stop-color="#faa028"/><stop offset="0.34" stop-color="#d7e63c"/><stop offset="0.45" stop-color="#6ee178"/><stop offset="0.58" stop-color="#28c8e1"/><stop offset="0.7" stop-color="#2896f0"/><stop offset="0.88" stop-color="#283ce1"/><stop offset="1" stop-color="#19198c"/></linearGradient></defs>
<rect x="383.6" y="103" width="3" height="14.2" fill="url(#jb2)"/>
<text x="384.9" y="101.6" font-size="5" text-anchor="middle" font-weight="normal" fill="#000" stroke="#000" stroke-width="0.1">0.6</text>
<text x="384.2" y="122.6" font-size="5" text-anchor="middle" font-weight="normal" fill="#000" stroke="#000" stroke-width="0.1">−0.2</text>
<text x="395.2" y="109.7" font-size="5" text-anchor="middle" font-weight="normal" fill="#000" transform="rotate(-90 395.2 109.7)" stroke="#000" stroke-width="0.1">Correlation</text>
<text x="281" y="153.3" font-size="8.8" text-anchor="start" font-weight="bold" fill="#000" stroke="#000" stroke-width="0.55">f</text>
<text x="345" y="158.5" font-size="5" text-anchor="middle" font-weight="normal" fill="#000" stroke="#000" stroke-width="0.1">Spectral correlation</text>
<text x="344.5" y="165.6" font-size="5" text-anchor="middle" font-weight="normal" fill="#000" stroke="#000" stroke-width="0.1">Syllable 2</text>
<rect x="308.4" y="167" width="6" height="1.1" fill="#000"/>
<g filter="url(#bl)" shape-rendering="crispEdges"><rect x="308.6" y="169.6" width="72.4" height="18.2" fill="#000000"/>
<path fill="#222222" d="M347.82 170.61h1.01v1.01h-1.01zM335.75 171.62h1.01v1.01h-1.01zM332.73 172.63h1.01v1.01h-1.01zM344.8 172.63h1.01v1.01h-1.01zM346.81 172.63h1.01v1.01h-1.01zM312.62 173.64h1.01v1.01h-1.01zM329.72 173.64h1.01v1.01h-1.01zM309.61 174.66h1.01v1.01h-1.01zM327.71 174.66h1.01v1.01h-1.01zM361.89 176.68h1.01v1.01h-1.01zM344.8 177.69h1.01v1.01h-1.01zM347.82 177.69h1.01v1.01h-1.01zM350.83 177.69h1.01v1.01h-1.01zM353.85 177.69h1.01v1.01h-1.01zM360.89 177.69h1.01v1.01h-1.01zM368.93 177.69h1.01v1.01h-1.01zM353.85 178.7h1.01v1.01h-1.01zM372.96 178.7h1.01v1.01h-1.01zM326.7 179.71h1.01v1.01h-1.01zM322.68 180.72h2.01v1.01h-2.01zM332.73 180.72h1.01v1.01h-1.01zM347.82 180.72h1.01v1.01h-1.01zM356.87 180.72h1.01v1.01h-1.01zM359.88 180.72h1.01v1.01h-1.01zM363.91 180.72h1.01v1.01h-1.01zM335.75 181.73h1.01v1.01h-1.01zM369.94 181.73h1.01v1.01h-1.01zM344.8 182.74h1.01v1.01h-1.01zM347.82 182.74h1.01v1.01h-1.01zM374.97 182.74h1.01v1.01h-1.01zM308.6 183.76h1.01v1.01h-1.01zM310.61 183.76h1.01v1.01h-1.01zM330.72 183.76h1.01v1.01h-1.01zM365.92 183.76h1.01v1.01h-1.01zM371.95 183.76h1.01v1.01h-1.01zM376.98 183.76h1.01v1.01h-1.01zM310.61 184.77h1.01v1.01h-1.01zM329.72 184.77h1.01v1.01h-1.01zM332.73 184.77h1.01v1.01h-1.01zM362.9 184.77h1.01v1.01h-1.01zM313.63 185.78h1.01v1.01h-1.01zM330.72 185.78h1.01v1.01h-1.01zM366.92 185.78h1.01v1.01h-1.01z"/>
<path fill="#111111" d="M348.82 170.61h1.01v1.01h-1.01zM341.78 171.62h1.01v1.01h-1.01zM336.76 172.63h1.01v1.01h-1.01zM340.78 172.63h1.01v1.01h-1.01zM342.79 172.63h1.01v1.01h-1.01zM351.84 172.63h1.01v1.01h-1.01zM311.62 173.64h1.01v1.01h-1.01zM313.63 173.64h1.01v1.01h-1.01zM333.74 173.64h1.01v1.01h-1.01zM341.78 173.64h1.01v1.01h-1.01zM350.83 173.64h1.01v1.01h-1.01zM312.62 174.66h1.01v1.01h-1.01zM315.64 174.66h1.01v1.01h-1.01zM330.72 174.66h1.01v1.01h-1.01zM342.79 174.66h2.01v1.01h-2.01zM355.86 174.66h1.01v1.01h-1.01zM314.63 175.67h1.01v1.01h-1.01zM318.66 175.67h1.01v1.01h-1.01zM327.71 175.67h2.01v1.01h-2.01zM353.85 175.67h1.01v1.01h-1.01zM358.88 175.67h1.01v1.01h-1.01zM317.65 176.68h1.01v1.01h-1.01zM339.77 176.68h2.01v1.01h-2.01zM357.87 176.68h1.01v1.01h-1.01zM362.9 176.68h1.01v1.01h-1.01zM342.79 177.69h2.01v1.01h-2.01zM349.83 177.69h1.01v1.01h-1.01zM359.88 177.69h1.01v1.01h-1.01zM369.94 177.69h1.01v1.01h-1.01zM344.8 178.7h1.01v1.01h-1.01zM347.82 178.7h1.01v1.01h-1.01zM350.83 178.7h1.01v1.01h-1.01zM366.92 178.7h2.01v1.01h-2.01zM373.96 178.7h1.01v1.01h-1.01zM322.68 179.71h2.01v1.01h-2.01zM325.69 179.71h1.01v1.01h-1.01zM329.72 179.71h1.01v1.01h-1.01zM336.76 179.71h2.01v1.01h-2.01zM351.84 179.71h1.01v1.01h-1.01zM355.86 179.71h2.01v1.01h-2.01zM371.95 179.71h1.01v1.01h-1.01zM376.98 179.71h1.01v1.01h-1.01zM320.67 180.72h1.01v1.01h-1.01zM326.7 180.72h1.01v1.01h-1.01zM330.72 180.72h1.01v1.01h-1.01zM339.77 180.72h1.01v1.01h-1.01zM353.85 180.72h1.01v1.01h-1.01zM364.91 180.72h1.01v1.01h-1.01zM375.97 180.72h1.01v1.01h-1.01zM377.98 180.72h1.01v1.01h-1.01zM308.6 181.73h1.01v1.01h-1.01zM336.76 181.73h1.01v1.01h-1.01zM342.79 181.73h1.01v1.01h-1.01zM356.87 181.73h1.01v1.01h-1.01zM364.91 181.73h1.01v1.01h-1.01zM313.63 182.74h1.01v1.01h-1.01zM332.73 182.74h1.01v1.01h-1.01zM339.77 182.74h1.01v1.01h-1.01zM353.85 182.74h1.01v1.01h-1.01zM359.88 182.74h1.01v1.01h-1.01zM363.91 182.74h1.01v1.01h-1.01zM311.62 183.76h1.01v1.01h-1.01zM316.64 183.76h1.01v1.01h-1.01zM321.67 183.76h1.01v1.01h-1.01zM324.69 183.76h1.01v1.01h-1.01zM326.7 183.76h1.01v1.01h-1.01zM332.73 183.76h1.01v1.01h-1.01zM334.74 183.76h1.01v1.01h-1.01zM346.81 183.76h1.01v1.01h-1.01zM356.87 183.76h1.01v1.01h-1.01zM330.72 184.77h1.01v1.01h-1.01zM359.88 184.77h1.01v1.01h-1.01zM363.91 184.77h1.01v1.01h-1.01zM374.97 184.77h1.01v1.01h-1.01zM365.92 185.78h1.01v1.01h-1.01zM371.95 185.78h1.01v1.01h-1.01zM317.65 186.79h3.02v1.01h-3.02z"/>
<path fill="#555555" d="M336.76 171.62h1.01v1.01h-1.01zM340.78 171.62h1.01v1.01h-1.01zM346.81 171.62h2.01v1.01h-2.01zM358.88 176.68h1.01v1.01h-1.01zM362.9 177.69h1.01v1.01h-1.01zM371.95 178.7h1.01v1.01h-1.01zM349.83 179.71h1.01v1.01h-1.01zM375.97 179.71h1.01v1.01h-1.01zM352.84 180.72h1.01v1.01h-1.01zM330.72 181.73h1.01v1.01h-1.01zM346.81 181.73h1.01v1.01h-1.01zM348.82 181.73h1.01v1.01h-1.01zM355.86 181.73h1.01v1.01h-1.01zM378.99 181.73h1.01v1.01h-1.01zM329.72 182.74h1.01v1.01h-1.01zM364.91 184.77h1.01v1.01h-1.01zM315.64 185.78h2.01v1.01h-2.01zM318.66 185.78h1.01v1.01h-1.01zM327.71 185.78h2.01v1.01h-2.01z"/>
<path fill="#666666" d="M337.76 171.62h1.01v1.01h-1.01zM348.82 171.62h1.01v1.01h-1.01zM333.74 172.63h2.01v1.01h-2.01zM350.83 172.63h1.01v1.01h-1.01zM330.72 173.64h2.01v1.01h-2.01zM351.84 173.64h1.01v1.01h-1.01zM353.85 174.66h1.01v1.01h-1.01zM356.87 175.67h2.01v1.01h-2.01zM359.88 176.68h1.01v1.01h-1.01zM363.91 177.69h1.01v1.01h-1.01zM365.92 177.69h2.01v1.01h-2.01zM369.94 178.7h1.01v1.01h-1.01zM373.96 179.71h1.01v1.01h-1.01zM333.74 180.72h1.01v1.01h-1.01zM343.79 182.74h1.01v1.01h-1.01zM375.97 182.74h1.01v1.01h-1.01zM357.87 183.76h1.01v1.01h-1.01zM372.96 183.76h1.01v1.01h-1.01zM314.63 184.77h1.01v1.01h-1.01zM320.67 185.78h1.01v1.01h-1.01zM325.69 185.78h2.01v1.01h-2.01z"/>
<path fill="#777777" d="M338.77 171.62h2.01v1.01h-2.01zM341.78 172.63h1.01v1.01h-1.01zM345.81 172.63h1.01v1.01h-1.01zM342.79 173.64h2.01v1.01h-2.01zM328.71 174.66h1.01v1.01h-1.01zM364.91 177.69h1.01v1.01h-1.01zM370.94 178.7h1.01v1.01h-1.01zM374.97 179.71h1.01v1.01h-1.01zM310.61 181.73h1.01v1.01h-1.01zM333.74 181.73h1.01v1.01h-1.01zM310.61 182.74h1.01v1.01h-1.01zM312.62 182.74h1.01v1.01h-1.01zM328.71 183.76h1.01v1.01h-1.01zM345.81 183.76h1.01v1.01h-1.01zM375.97 183.76h1.01v1.01h-1.01zM328.71 184.77h1.01v1.01h-1.01zM372.96 184.77h1.01v1.01h-1.01zM319.66 185.78h1.01v1.01h-1.01z"/>
<path fill="#444444" d="M349.83 171.62h1.01v1.01h-1.01zM344.8 173.64h1.01v1.01h-1.01zM352.84 173.64h1.01v1.01h-1.01zM310.61 174.66h1.01v1.01h-1.01zM314.63 174.66h1.01v1.01h-1.01zM329.72 174.66h1.01v1.01h-1.01zM316.64 175.67h1.01v1.01h-1.01zM355.86 175.67h1.01v1.01h-1.01zM341.78 177.69h1.01v1.01h-1.01zM345.81 177.69h2.01v1.01h-2.01zM351.84 177.69h2.01v1.01h-2.01zM361.89 177.69h1.01v1.01h-1.01zM367.93 177.69h1.01v1.01h-1.01zM348.82 178.7h1.01v1.01h-1.01zM354.86 178.7h1.01v1.01h-1.01zM327.71 179.71h2.01v1.01h-2.01zM350.83 179.71h1.01v1.01h-1.01zM321.67 180.72h1.01v1.01h-1.01zM324.69 180.72h1.01v1.01h-1.01zM338.77 180.72h1.01v1.01h-1.01zM357.87 180.72h1.01v1.01h-1.01zM361.89 180.72h2.01v1.01h-2.01zM311.62 181.73h1.01v1.01h-1.01zM341.78 181.73h1.01v1.01h-1.01zM366.92 181.73h2.01v1.01h-2.01zM340.78 182.74h1.01v1.01h-1.01zM377.98 182.74h1.01v1.01h-1.01zM309.61 183.76h1.01v1.01h-1.01zM333.74 183.76h1.01v1.01h-1.01zM311.62 184.77h2.01v1.01h-2.01zM331.73 184.77h1.01v1.01h-1.01zM317.65 185.78h1.01v1.01h-1.01zM321.67 185.78h1.01v1.01h-1.01zM323.68 185.78h2.01v1.01h-2.01zM329.72 185.78h1.01v1.01h-1.01zM368.93 185.78h2.01v1.01h-2.01z"/>
<path fill="#333333" d="M335.75 172.63h1.01v1.01h-1.01zM349.83 172.63h1.01v1.01h-1.01zM332.73 173.64h1.01v1.01h-1.01zM311.62 174.66h1.01v1.01h-1.01zM313.63 174.66h1.01v1.01h-1.01zM352.84 174.66h1.01v1.01h-1.01zM354.86 174.66h1.01v1.01h-1.01zM315.64 175.67h1.01v1.01h-1.01zM317.65 175.67h1.01v1.01h-1.01zM354.86 175.67h1.01v1.01h-1.01zM360.89 176.68h1.01v1.01h-1.01zM340.78 177.69h1.01v1.01h-1.01zM342.79 178.7h2.01v1.01h-2.01zM349.83 178.7h1.01v1.01h-1.01zM355.86 178.7h1.01v1.01h-1.01zM368.93 178.7h1.01v1.01h-1.01zM372.96 179.71h1.01v1.01h-1.01zM325.69 180.72h1.01v1.01h-1.01zM329.72 180.72h1.01v1.01h-1.01zM358.88 180.72h1.01v1.01h-1.01zM360.89 180.72h1.01v1.01h-1.01zM309.61 181.73h1.01v1.01h-1.01zM334.74 181.73h1.01v1.01h-1.01zM337.76 181.73h1.01v1.01h-1.01zM351.84 181.73h1.01v1.01h-1.01zM365.92 181.73h1.01v1.01h-1.01zM368.93 181.73h1.01v1.01h-1.01zM376.98 181.73h1.01v1.01h-1.01zM331.73 182.74h1.01v1.01h-1.01zM354.86 182.74h1.01v1.01h-1.01zM358.88 182.74h1.01v1.01h-1.01zM315.64 183.76h1.01v1.01h-1.01zM322.68 183.76h2.01v1.01h-2.01zM327.71 183.76h1.01v1.01h-1.01zM342.79 183.76h1.01v1.01h-1.01zM313.63 184.77h1.01v1.01h-1.01zM360.89 184.77h2.01v1.01h-2.01zM373.96 184.77h1.01v1.01h-1.01zM314.63 185.78h1.01v1.01h-1.01zM322.68 185.78h1.01v1.01h-1.01zM367.93 185.78h1.01v1.01h-1.01zM370.94 185.78h1.01v1.01h-1.01z"/>
<path fill="#aaaaaa" d="M334.74 180.72h1.01v1.01h-1.01zM348.82 180.72h3.02v1.01h-3.02zM338.77 181.73h1.01v1.01h-1.01zM340.78 181.73h1.01v1.01h-1.01zM341.78 182.74h1.01v1.01h-1.01zM312.62 183.76h1.01v1.01h-1.01zM360.89 183.76h2.01v1.01h-2.01zM322.68 184.77h2.01v1.01h-2.01zM367.93 184.77h1.01v1.01h-1.01z"/>
<path fill="#cccccc" d="M335.75 180.72h1.01v1.01h-1.01zM337.76 180.72h1.01v1.01h-1.01zM351.84 180.72h1.01v1.01h-1.01zM331.73 181.73h2.01v1.01h-2.01zM377.98 181.73h1.01v1.01h-1.01zM311.62 182.74h1.01v1.01h-1.01zM330.72 182.74h1.01v1.01h-1.01zM342.79 182.74h1.01v1.01h-1.01zM313.63 183.76h1.01v1.01h-1.01zM329.72 183.76h1.01v1.01h-1.01zM362.9 183.76h1.01v1.01h-1.01zM373.96 183.76h2.01v1.01h-2.01zM317.65 184.77h1.01v1.01h-1.01zM325.69 184.77h1.01v1.01h-1.01zM370.94 184.77h2.01v1.01h-2.01z"/>
<path fill="#dddddd" d="M336.76 180.72h1.01v1.01h-1.01zM339.77 181.73h1.01v1.01h-1.01zM347.82 181.73h1.01v1.01h-1.01zM353.85 181.73h1.01v1.01h-1.01zM356.87 182.74h1.01v1.01h-1.01zM376.98 182.74h1.01v1.01h-1.01zM359.88 183.76h1.01v1.01h-1.01zM363.91 183.76h1.01v1.01h-1.01zM316.64 184.77h1.01v1.01h-1.01zM321.67 184.77h1.01v1.01h-1.01zM324.69 184.77h1.01v1.01h-1.01zM326.7 184.77h1.01v1.01h-1.01zM365.92 184.77h1.01v1.01h-1.01z"/>
<path fill="#999999" d="M352.84 181.73h1.01v1.01h-1.01zM345.81 182.74h1.01v1.01h-1.01zM355.86 182.74h1.01v1.01h-1.01zM319.66 184.77h1.01v1.01h-1.01zM368.93 184.77h2.01v1.01h-2.01z"/>
<path fill="#bbbbbb" d="M354.86 181.73h1.01v1.01h-1.01zM309.61 182.74h1.01v1.01h-1.01zM346.81 182.74h1.01v1.01h-1.01zM344.8 183.76h1.01v1.01h-1.01zM358.88 183.76h1.01v1.01h-1.01zM364.91 183.76h1.01v1.01h-1.01zM315.64 184.77h1.01v1.01h-1.01zM318.66 184.77h1.01v1.01h-1.01zM320.67 184.77h1.01v1.01h-1.01zM327.71 184.77h1.01v1.01h-1.01zM366.92 184.77h1.01v1.01h-1.01z"/>
<path fill="#888888" d="M308.6 182.74h1.01v1.01h-1.01zM357.87 182.74h1.01v1.01h-1.01zM314.63 183.76h1.01v1.01h-1.01zM343.79 183.76h1.01v1.01h-1.01z"/></g>
<g filter="url(#bl)" shape-rendering="crispEdges"><rect x="287.5" y="190.2" width="18" height="39.3" fill="#000000"/>
<path fill="#111111" d="M298.5 191.21h2v1.01h-2zM301.5 193.22h1v1.01h-1zM297.5 194.23h1v1.01h-1zM294.5 195.24h1v1.01h-1zM303.5 196.25h1v1.01h-1zM303.5 197.25h1v1.01h-1zM292.5 198.26h1v1.01h-1zM298.5 198.26h1v1.01h-1zM300.5 198.26h1v1.01h-1zM301.5 200.28h1v1.01h-1zM298.5 201.28h1v1.01h-1zM301.5 201.28h2v1.01h-2zM293.5 203.3h1v1.01h-1zM298.5 204.31h1v1.01h-1zM293.5 205.32h1v1.01h-1zM294.5 206.32h1v1.01h-1zM299.5 207.33h1v1.01h-1zM292.5 208.34h1v1.01h-1zM292.5 210.35h1v1.01h-1zM300.5 212.37h1v1.01h-1zM294.5 213.38h1v1.01h-1zM301.5 214.38h1v1.01h-1zM294.5 215.39h1v1.01h-1zM299.5 216.4h1v1.01h-1zM298.5 218.42h1v1.01h-1zM292.5 219.42h1v1.01h-1zM298.5 220.43h1v1.01h-1zM292.5 221.44h1v1.01h-1zM299.5 223.45h1v1.01h-1zM294.5 225.47h1v1.01h-1zM300.5 226.48h1v1.01h-1z"/>
<path fill="#666666" d="M298.5 192.22h1v1.01h-1zM299.5 199.27h1v1.01h-1z"/>
<path fill="#555555" d="M299.5 192.22h1v1.01h-1zM293.5 196.25h1v1.01h-1zM297.5 196.25h1v1.01h-1zM293.5 197.25h1v1.01h-1zM300.5 199.27h1v1.01h-1zM293.5 200.28h1v1.01h-1zM293.5 201.28h1v1.01h-1zM298.5 203.3h1v1.01h-1zM294.5 204.31h1v1.01h-1zM293.5 207.33h1v1.01h-1zM299.5 208.34h1v1.01h-1zM293.5 211.36h1v1.01h-1zM298.5 211.36h1v1.01h-1zM293.5 212.37h1v1.01h-1zM299.5 213.38h1v1.01h-1zM301.5 215.39h1v1.01h-1zM293.5 216.4h1v1.01h-1zM293.5 217.41h1v1.01h-1zM300.5 217.41h1v1.01h-1zM298.5 219.42h1v1.01h-1zM293.5 222.45h1v1.01h-1zM293.5 223.45h1v1.01h-1zM298.5 228.49h2v1.01h-2z"/>
<path fill="#bbbbbb" d="M298.5 193.22h1v1.01h-1zM299.5 200.28h1v1.01h-1zM299.5 209.35h1v1.01h-1zM299.5 210.35h1v1.01h-1z"/>
<path fill="#222222" d="M299.5 193.22h1v1.01h-1zM302.5 193.22h1v1.01h-1zM293.5 194.23h2v1.01h-2zM302.5 197.25h1v1.01h-1zM292.5 199.27h1v1.01h-1zM300.5 200.28h1v1.01h-1zM293.5 202.29h2v1.01h-2zM292.5 209.35h2v1.01h-2zM300.5 209.35h1v1.01h-1zM298.5 210.35h1v1.01h-1zM293.5 214.38h2v1.01h-2zM292.5 220.43h2v1.01h-2zM293.5 226.48h2v1.01h-2zM298.5 227.48h1v1.01h-1z"/>
<path fill="#cccccc" d="M298.5 194.23h1v1.01h-1zM299.5 198.26h1v1.01h-1zM299.5 201.28h1v1.01h-1zM299.5 204.31h1v1.01h-1zM300.5 207.33h1v1.01h-1zM299.5 212.37h1v1.01h-1zM300.5 214.38h1v1.01h-1zM300.5 216.4h1v1.01h-1zM299.5 218.42h1v1.01h-1zM299.5 220.43h1v1.01h-1zM300.5 223.45h1v1.01h-1zM299.5 226.48h1v1.01h-1z"/>
<path fill="#444444" d="M302.5 194.23h1v1.01h-1zM293.5 195.24h1v1.01h-1zM302.5 195.24h1v1.01h-1zM299.5 197.25h1v1.01h-1zM302.5 198.26h1v1.01h-1zM302.5 199.27h1v1.01h-1zM294.5 203.3h1v1.01h-1zM293.5 208.34h1v1.01h-1zM293.5 210.35h1v1.01h-1zM293.5 215.39h1v1.01h-1zM293.5 218.42h1v1.01h-1zM293.5 221.44h1v1.01h-1zM293.5 224.46h1v1.01h-1z"/>
<path fill="#333333" d="M297.5 195.24h1v1.01h-1zM302.5 196.25h1v1.01h-1zM293.5 198.26h1v1.01h-1zM293.5 199.27h1v1.01h-1zM302.5 200.28h1v1.01h-1zM298.5 202.29h1v1.01h-1zM294.5 205.32h1v1.01h-1zM300.5 205.32h1v1.01h-1zM293.5 206.32h1v1.01h-1zM299.5 206.32h1v1.01h-1zM293.5 213.38h1v1.01h-1zM293.5 219.42h1v1.01h-1zM300.5 221.44h1v1.01h-1zM299.5 222.45h1v1.01h-1zM299.5 224.46h1v1.01h-1zM293.5 225.47h1v1.01h-1zM300.5 225.47h1v1.01h-1z"/>
<path fill="#999999" d="M298.5 195.24h1v1.01h-1zM298.5 196.25h1v1.01h-1zM299.5 202.29h1v1.01h-1zM299.5 205.32h1v1.01h-1zM300.5 206.32h1v1.01h-1zM299.5 221.44h1v1.01h-1zM300.5 222.45h1v1.01h-1z"/>
<path fill="#aaaaaa" d="M298.5 197.25h1v1.01h-1zM299.5 227.48h1v1.01h-1z"/>
<path fill="#777777" d="M299.5 203.3h1v1.01h-1zM300.5 208.34h1v1.01h-1zM299.5 219.42h1v1.01h-1z"/>
<path fill="#888888" d="M299.5 211.36h1v1.01h-1zM300.5 213.38h1v1.01h-1zM300.5 215.39h1v1.01h-1zM299.5 217.41h1v1.01h-1zM300.5 224.46h1v1.01h-1zM299.5 225.47h1v1.01h-1z"/></g>
<text x="284.3" y="210" font-size="5" text-anchor="middle" font-weight="normal" fill="#000" transform="rotate(-90 284.3 210)" stroke="#000" stroke-width="0.1">Syllable 23</text>
<line x1="308.6" y1="188.4" x2="310" y2="192" stroke="#999" stroke-width="0.4" stroke-dasharray="0.8 0.6"/>
<line x1="314.4" y1="188.4" x2="312" y2="192" stroke="#999" stroke-width="0.4" stroke-dasharray="0.8 0.6"/>
<line x1="305.6" y1="190.3" x2="309.4" y2="192" stroke="#999" stroke-width="0.4" stroke-dasharray="0.8 0.6"/>
<line x1="305.6" y1="194" x2="309.4" y2="194.5" stroke="#999" stroke-width="0.4" stroke-dasharray="0.8 0.6"/>
<g filter="url(#bl3)" shape-rendering="crispEdges"><rect x="309.5" y="192" width="3.42" height="3.3" fill="#53d7a0"/>
<rect x="312.87" y="192" width="3.42" height="3.3" fill="#bae54c"/>
<rect x="316.23" y="192" width="3.42" height="3.3" fill="#bae54c"/>
<rect x="319.6" y="192" width="3.42" height="3.3" fill="#53d7a0"/>
<rect x="322.97" y="192" width="3.42" height="3.3" fill="#bae54c"/>
<rect x="326.33" y="192" width="3.42" height="3.3" fill="#bae54c"/>
<rect x="329.7" y="192" width="3.42" height="3.3" fill="#53d7a0"/>
<rect x="333.07" y="192" width="3.42" height="3.3" fill="#28b7e6"/>
<rect x="336.43" y="192" width="3.42" height="3.3" fill="#2855e5"/>
<rect x="339.8" y="192" width="3.42" height="3.3" fill="#28b7e6"/>
<rect x="343.17" y="192" width="3.42" height="3.3" fill="#28b7e6"/>
<rect x="346.53" y="192" width="3.42" height="3.3" fill="#28b7e6"/>
<rect x="349.9" y="192" width="3.42" height="3.3" fill="#53d7a0"/>
<rect x="353.27" y="192" width="3.42" height="3.3" fill="#28b7e6"/>
<rect x="356.63" y="192" width="3.42" height="3.3" fill="#bae54c"/>
<rect x="360" y="192" width="3.42" height="3.3" fill="#53d7a0"/>
<rect x="363.37" y="192" width="3.42" height="3.3" fill="#bae54c"/>
<rect x="366.73" y="192" width="3.42" height="3.3" fill="#53d7a0"/>
<rect x="370.1" y="192" width="3.42" height="3.3" fill="#bae54c"/>
<rect x="373.47" y="192" width="3.42" height="3.3" fill="#53d7a0"/>
<rect x="376.83" y="192" width="3.42" height="3.3" fill="#28b7e6"/>
<rect x="309.5" y="195.25" width="3.42" height="3.3" fill="#f4ac2b"/>
<rect x="312.87" y="195.25" width="3.42" height="3.3" fill="#bae54c"/>
<rect x="316.23" y="195.25" width="3.42" height="3.3" fill="#53d7a0"/>
<rect x="319.6" y="195.25" width="3.42" height="3.3" fill="#28b7e6"/>
<rect x="322.97" y="195.25" width="3.42" height="3.3" fill="#53d7a0"/>
<rect x="326.33" y="195.25" width="3.42" height="3.3" fill="#bae54c"/>
<rect x="329.7" y="195.25" width="3.42" height="3.3" fill="#53d7a0"/>
<rect x="333.07" y="195.25" width="3.42" height="3.3" fill="#28b7e6"/>
<rect x="336.43" y="195.25" width="3.42" height="3.3" fill="#2855e5"/>
<rect x="339.8" y="195.25" width="3.42" height="3.3" fill="#2855e5"/>
<rect x="343.17" y="195.25" width="3.42" height="3.3" fill="#28b7e6"/>
<rect x="346.53" y="195.25" width="3.42" height="3.3" fill="#f4ac2b"/>
<rect x="349.9" y="195.25" width="3.42" height="3.3" fill="#28b7e6"/>
<rect x="353.27" y="195.25" width="3.42" height="3.3" fill="#bae54c"/>
<rect x="356.63" y="195.25" width="3.42" height="3.3" fill="#f4ac2b"/>
<rect x="360" y="195.25" width="3.42" height="3.3" fill="#53d7a0"/>
<rect x="363.37" y="195.25" width="3.42" height="3.3" fill="#53d7a0"/>
<rect x="366.73" y="195.25" width="3.42" height="3.3" fill="#28b7e6"/>
<rect x="370.1" y="195.25" width="3.42" height="3.3" fill="#53d7a0"/>
<rect x="373.47" y="195.25" width="3.42" height="3.3" fill="#bae54c"/>
<rect x="376.83" y="195.25" width="3.42" height="3.3" fill="#53d7a0"/>
<rect x="309.5" y="198.51" width="3.42" height="3.3" fill="#e75519"/>
<rect x="312.87" y="198.51" width="3.42" height="3.3" fill="#28b7e6"/>
<rect x="316.23" y="198.51" width="3.42" height="3.3" fill="#2855e5"/>
<rect x="319.6" y="198.51" width="3.42" height="3.3" fill="#2855e5"/>
<rect x="322.97" y="198.51" width="3.42" height="3.3" fill="#28b7e6"/>
<rect x="326.33" y="198.51" width="3.42" height="3.3" fill="#28b7e6"/>
<rect x="329.7" y="198.51" width="3.42" height="3.3" fill="#bae54c"/>
<rect x="333.07" y="198.51" width="3.42" height="3.3" fill="#53d7a0"/>
<rect x="336.43" y="198.51" width="3.42" height="3.3" fill="#2855e5"/>
<rect x="339.8" y="198.51" width="3.42" height="3.3" fill="#2855e5"/>
<rect x="343.17" y="198.51" width="3.42" height="3.3" fill="#53d7a0"/>
<rect x="346.53" y="198.51" width="3.42" height="3.3" fill="#28b7e6"/>
<rect x="349.9" y="198.51" width="3.42" height="3.3" fill="#2855e5"/>
<rect x="353.27" y="198.51" width="3.42" height="3.3" fill="#53d7a0"/>
<rect x="356.63" y="198.51" width="3.42" height="3.3" fill="#bae54c"/>
<rect x="360" y="198.51" width="3.42" height="3.3" fill="#28b7e6"/>
<rect x="363.37" y="198.51" width="3.42" height="3.3" fill="#2855e5"/>
<rect x="366.73" y="198.51" width="3.42" height="3.3" fill="#1e25a8"/>
<rect x="370.1" y="198.51" width="3.42" height="3.3" fill="#28b7e6"/>
<rect x="373.47" y="198.51" width="3.42" height="3.3" fill="#53d7a0"/>
<rect x="376.83" y="198.51" width="3.42" height="3.3" fill="#28b7e6"/>
<rect x="309.5" y="201.76" width="3.42" height="3.3" fill="#f4ac2b"/>
<rect x="312.87" y="201.76" width="3.42" height="3.3" fill="#28b7e6"/>
<rect x="316.23" y="201.76" width="3.42" height="3.3" fill="#2855e5"/>
<rect x="319.6" y="201.76" width="3.42" height="3.3" fill="#2855e5"/>
<rect x="322.97" y="201.76" width="3.42" height="3.3" fill="#2855e5"/>
<rect x="326.33" y="201.76" width="3.42" height="3.3" fill="#28b7e6"/>
<rect x="329.7" y="201.76" width="3.42" height="3.3" fill="#bae54c"/>
<rect x="333.07" y="201.76" width="3.42" height="3.3" fill="#53d7a0"/>
<rect x="336.43" y="201.76" width="3.42" height="3.3" fill="#2855e5"/>
<rect x="339.8" y="201.76" width="3.42" height="3.3" fill="#2855e5"/>
<rect x="343.17" y="201.76" width="3.42" height="3.3" fill="#28b7e6"/>
<rect x="346.53" y="201.76" width="3.42" height="3.3" fill="#28b7e6"/>
<rect x="349.9" y="201.76" width="3.42" height="3.3" fill="#53d7a0"/>
<rect x="353.27" y="201.76" width="3.42" height="3.3" fill="#28b7e6"/>
<rect x="356.63" y="201.76" width="3.42" height="3.3" fill="#bae54c"/>
<rect x="360" y="201.76" width="3.42" height="3.3" fill="#28b7e6"/>
<rect x="363.37" y="201.76" width="3.42" height="3.3" fill="#288cee"/>
<rect x="366.73" y="201.76" width="3.42" height="3.3" fill="#2855e5"/>
<rect x="370.1" y="201.76" width="3.42" height="3.3" fill="#28b7e6"/>
<rect x="373.47" y="201.76" width="3.42" height="3.3" fill="#53d7a0"/>
<rect x="376.83" y="201.76" width="3.42" height="3.3" fill="#28b7e6"/>
<rect x="309.5" y="205.02" width="3.42" height="3.3" fill="#53d7a0"/>
<rect x="312.87" y="205.02" width="3.42" height="3.3" fill="#28b7e6"/>
<rect x="316.23" y="205.02" width="3.42" height="3.3" fill="#28b7e6"/>
<rect x="319.6" y="205.02" width="3.42" height="3.3" fill="#28b7e6"/>
<rect x="322.97" y="205.02" width="3.42" height="3.3" fill="#28b7e6"/>
<rect x="326.33" y="205.02" width="3.42" height="3.3" fill="#53d7a0"/>
<rect x="329.7" y="205.02" width="3.42" height="3.3" fill="#bae54c"/>
<rect x="333.07" y="205.02" width="3.42" height="3.3" fill="#53d7a0"/>
<rect x="336.43" y="205.02" width="3.42" height="3.3" fill="#28b7e6"/>
<rect x="339.8" y="205.02" width="3.42" height="3.3" fill="#2855e5"/>
<rect x="343.17" y="205.02" width="3.42" height="3.3" fill="#28b7e6"/>
<rect x="346.53" y="205.02" width="3.42" height="3.3" fill="#bae54c"/>
<rect x="349.9" y="205.02" width="3.42" height="3.3" fill="#28b7e6"/>
<rect x="353.27" y="205.02" width="3.42" height="3.3" fill="#53d7a0"/>
<rect x="356.63" y="205.02" width="3.42" height="3.3" fill="#28b7e6"/>
<rect x="360" y="205.02" width="3.42" height="3.3" fill="#28b7e6"/>
<rect x="363.37" y="205.02" width="3.42" height="3.3" fill="#28b7e6"/>
<rect x="366.73" y="205.02" width="3.42" height="3.3" fill="#53d7a0"/>
<rect x="370.1" y="205.02" width="3.42" height="3.3" fill="#28b7e6"/>
<rect x="373.47" y="205.02" width="3.42" height="3.3" fill="#53d7a0"/>
<rect x="376.83" y="205.02" width="3.42" height="3.3" fill="#28b7e6"/>
<rect x="309.5" y="208.27" width="3.42" height="3.3" fill="#28b7e6"/>
<rect x="312.87" y="208.27" width="3.42" height="3.3" fill="#53d7a0"/>
<rect x="316.23" y="208.27" width="3.42" height="3.3" fill="#28b7e6"/>
<rect x="319.6" y="208.27" width="3.42" height="3.3" fill="#53d7a0"/>
<rect x="322.97" y="208.27" width="3.42" height="3.3" fill="#53d7a0"/>
<rect x="326.33" y="208.27" width="3.42" height="3.3" fill="#bae54c"/>
<rect x="329.7" y="208.27" width="3.42" height="3.3" fill="#53d7a0"/>
<rect x="333.07" y="208.27" width="3.42" height="3.3" fill="#28b7e6"/>
<rect x="336.43" y="208.27" width="3.42" height="3.3" fill="#1e25a8"/>
<rect x="339.8" y="208.27" width="3.42" height="3.3" fill="#2855e5"/>
<rect x="343.17" y="208.27" width="3.42" height="3.3" fill="#28b7e6"/>
<rect x="346.53" y="208.27" width="3.42" height="3.3" fill="#bae54c"/>
<rect x="349.9" y="208.27" width="3.42" height="3.3" fill="#1e25a8"/>
<rect x="353.27" y="208.27" width="3.42" height="3.3" fill="#28b7e6"/>
<rect x="356.63" y="208.27" width="3.42" height="3.3" fill="#53d7a0"/>
<rect x="360" y="208.27" width="3.42" height="3.3" fill="#28b7e6"/>
<rect x="363.37" y="208.27" width="3.42" height="3.3" fill="#28b7e6"/>
<rect x="366.73" y="208.27" width="3.42" height="3.3" fill="#28b7e6"/>
<rect x="370.1" y="208.27" width="3.42" height="3.3" fill="#53d7a0"/>
<rect x="373.47" y="208.27" width="3.42" height="3.3" fill="#28b7e6"/>
<rect x="376.83" y="208.27" width="3.42" height="3.3" fill="#28b7e6"/>
<rect x="309.5" y="211.53" width="3.42" height="3.3" fill="#53d7a0"/>
<rect x="312.87" y="211.53" width="3.42" height="3.3" fill="#bae54c"/>
<rect x="316.23" y="211.53" width="3.42" height="3.3" fill="#bae54c"/>
<rect x="319.6" y="211.53" width="3.42" height="3.3" fill="#bae54c"/>
<rect x="322.97" y="211.53" width="3.42" height="3.3" fill="#bae54c"/>
<rect x="326.33" y="211.53" width="3.42" height="3.3" fill="#53d7a0"/>
<rect x="329.7" y="211.53" width="3.42" height="3.3" fill="#53d7a0"/>
<rect x="333.07" y="211.53" width="3.42" height="3.3" fill="#28b7e6"/>
<rect x="336.43" y="211.53" width="3.42" height="3.3" fill="#28b7e6"/>
<rect x="339.8" y="211.53" width="3.42" height="3.3" fill="#2855e5"/>
<rect x="343.17" y="211.53" width="3.42" height="3.3" fill="#28b7e6"/>
<rect x="346.53" y="211.53" width="3.42" height="3.3" fill="#28b7e6"/>
<rect x="349.9" y="211.53" width="3.42" height="3.3" fill="#53d7a0"/>
<rect x="353.27" y="211.53" width="3.42" height="3.3" fill="#28b7e6"/>
<rect x="356.63" y="211.53" width="3.42" height="3.3" fill="#bae54c"/>
<rect x="360" y="211.53" width="3.42" height="3.3" fill="#bae54c"/>
<rect x="363.37" y="211.53" width="3.42" height="3.3" fill="#bae54c"/>
<rect x="366.73" y="211.53" width="3.42" height="3.3" fill="#bae54c"/>
<rect x="370.1" y="211.53" width="3.42" height="3.3" fill="#f4ac2b"/>
<rect x="373.47" y="211.53" width="3.42" height="3.3" fill="#28b7e6"/>
<rect x="376.83" y="211.53" width="3.42" height="3.3" fill="#28b7e6"/>
<rect x="309.5" y="214.78" width="3.42" height="3.3" fill="#bae54c"/>
<rect x="312.87" y="214.78" width="3.42" height="3.3" fill="#f4ac2b"/>
<rect x="316.23" y="214.78" width="3.42" height="3.3" fill="#e75519"/>
<rect x="319.6" y="214.78" width="3.42" height="3.3" fill="#f4ac2b"/>
<rect x="322.97" y="214.78" width="3.42" height="3.3" fill="#f4ac2b"/>
<rect x="326.33" y="214.78" width="3.42" height="3.3" fill="#b4210e"/>
<rect x="329.7" y="214.78" width="3.42" height="3.3" fill="#53d7a0"/>
<rect x="333.07" y="214.78" width="3.42" height="3.3" fill="#28b7e6"/>
<rect x="336.43" y="214.78" width="3.42" height="3.3" fill="#28b7e6"/>
<rect x="339.8" y="214.78" width="3.42" height="3.3" fill="#288cee"/>
<rect x="343.17" y="214.78" width="3.42" height="3.3" fill="#28b7e6"/>
<rect x="346.53" y="214.78" width="3.42" height="3.3" fill="#2855e5"/>
<rect x="349.9" y="214.78" width="3.42" height="3.3" fill="#28b7e6"/>
<rect x="353.27" y="214.78" width="3.42" height="3.3" fill="#53d7a0"/>
<rect x="356.63" y="214.78" width="3.42" height="3.3" fill="#28b7e6"/>
<rect x="360" y="214.78" width="3.42" height="3.3" fill="#f4ac2b"/>
<rect x="363.37" y="214.78" width="3.42" height="3.3" fill="#bae54c"/>
<rect x="366.73" y="214.78" width="3.42" height="3.3" fill="#f4ac2b"/>
<rect x="370.1" y="214.78" width="3.42" height="3.3" fill="#b4210e"/>
<rect x="373.47" y="214.78" width="3.42" height="3.3" fill="#f4ac2b"/>
<rect x="376.83" y="214.78" width="3.42" height="3.3" fill="#bae54c"/>
<rect x="309.5" y="218.04" width="3.42" height="3.3" fill="#f4ac2b"/>
<rect x="312.87" y="218.04" width="3.42" height="3.3" fill="#f4ac2b"/>
<rect x="316.23" y="218.04" width="3.42" height="3.3" fill="#f4ac2b"/>
<rect x="319.6" y="218.04" width="3.42" height="3.3" fill="#bae54c"/>
<rect x="322.97" y="218.04" width="3.42" height="3.3" fill="#b4210e"/>
<rect x="326.33" y="218.04" width="3.42" height="3.3" fill="#bae54c"/>
<rect x="329.7" y="218.04" width="3.42" height="3.3" fill="#53d7a0"/>
<rect x="333.07" y="218.04" width="3.42" height="3.3" fill="#28b7e6"/>
<rect x="336.43" y="218.04" width="3.42" height="3.3" fill="#28b7e6"/>
<rect x="339.8" y="218.04" width="3.42" height="3.3" fill="#28b7e6"/>
<rect x="343.17" y="218.04" width="3.42" height="3.3" fill="#28b7e6"/>
<rect x="346.53" y="218.04" width="3.42" height="3.3" fill="#28b7e6"/>
<rect x="349.9" y="218.04" width="3.42" height="3.3" fill="#53d7a0"/>
<rect x="353.27" y="218.04" width="3.42" height="3.3" fill="#bae54c"/>
<rect x="356.63" y="218.04" width="3.42" height="3.3" fill="#28b7e6"/>
<rect x="360" y="218.04" width="3.42" height="3.3" fill="#f4ac2b"/>
<rect x="363.37" y="218.04" width="3.42" height="3.3" fill="#b4210e"/>
<rect x="366.73" y="218.04" width="3.42" height="3.3" fill="#f4ac2b"/>
<rect x="370.1" y="218.04" width="3.42" height="3.3" fill="#b4210e"/>
<rect x="373.47" y="218.04" width="3.42" height="3.3" fill="#f4ac2b"/>
<rect x="376.83" y="218.04" width="3.42" height="3.3" fill="#bae54c"/>
<rect x="309.5" y="221.29" width="3.42" height="3.3" fill="#bae54c"/>
<rect x="312.87" y="221.29" width="3.42" height="3.3" fill="#f4ac2b"/>
<rect x="316.23" y="221.29" width="3.42" height="3.3" fill="#e75519"/>
<rect x="319.6" y="221.29" width="3.42" height="3.3" fill="#f4ac2b"/>
<rect x="322.97" y="221.29" width="3.42" height="3.3" fill="#bae54c"/>
<rect x="326.33" y="221.29" width="3.42" height="3.3" fill="#bae54c"/>
<rect x="329.7" y="221.29" width="3.42" height="3.3" fill="#53d7a0"/>
<rect x="333.07" y="221.29" width="3.42" height="3.3" fill="#28b7e6"/>
<rect x="336.43" y="221.29" width="3.42" height="3.3" fill="#28b7e6"/>
<rect x="339.8" y="221.29" width="3.42" height="3.3" fill="#28b7e6"/>
<rect x="343.17" y="221.29" width="3.42" height="3.3" fill="#28b7e6"/>
<rect x="346.53" y="221.29" width="3.42" height="3.3" fill="#53d7a0"/>
<rect x="349.9" y="221.29" width="3.42" height="3.3" fill="#bae54c"/>
<rect x="353.27" y="221.29" width="3.42" height="3.3" fill="#28b7e6"/>
<rect x="356.63" y="221.29" width="3.42" height="3.3" fill="#28b7e6"/>
<rect x="360" y="221.29" width="3.42" height="3.3" fill="#f4ac2b"/>
<rect x="363.37" y="221.29" width="3.42" height="3.3" fill="#e75519"/>
<rect x="366.73" y="221.29" width="3.42" height="3.3" fill="#b4210e"/>
<rect x="370.1" y="221.29" width="3.42" height="3.3" fill="#f4ac2b"/>
<rect x="373.47" y="221.29" width="3.42" height="3.3" fill="#f4ac2b"/>
<rect x="376.83" y="221.29" width="3.42" height="3.3" fill="#bae54c"/>
<rect x="309.5" y="224.55" width="3.42" height="3.3" fill="#bae54c"/>
<rect x="312.87" y="224.55" width="3.42" height="3.3" fill="#bae54c"/>
<rect x="316.23" y="224.55" width="3.42" height="3.3" fill="#f4ac2b"/>
<rect x="319.6" y="224.55" width="3.42" height="3.3" fill="#bae54c"/>
<rect x="322.97" y="224.55" width="3.42" height="3.3" fill="#53d7a0"/>
<rect x="326.33" y="224.55" width="3.42" height="3.3" fill="#53d7a0"/>
<rect x="329.7" y="224.55" width="3.42" height="3.3" fill="#28b7e6"/>
<rect x="333.07" y="224.55" width="3.42" height="3.3" fill="#28b7e6"/>
<rect x="336.43" y="224.55" width="3.42" height="3.3" fill="#28b7e6"/>
<rect x="339.8" y="224.55" width="3.42" height="3.3" fill="#28b7e6"/>
<rect x="343.17" y="224.55" width="3.42" height="3.3" fill="#28b7e6"/>
<rect x="346.53" y="224.55" width="3.42" height="3.3" fill="#53d7a0"/>
<rect x="349.9" y="224.55" width="3.42" height="3.3" fill="#bae54c"/>
<rect x="353.27" y="224.55" width="3.42" height="3.3" fill="#28b7e6"/>
<rect x="356.63" y="224.55" width="3.42" height="3.3" fill="#28b7e6"/>
<rect x="360" y="224.55" width="3.42" height="3.3" fill="#bae54c"/>
<rect x="363.37" y="224.55" width="3.42" height="3.3" fill="#f4ac2b"/>
<rect x="366.73" y="224.55" width="3.42" height="3.3" fill="#f4ac2b"/>
<rect x="370.1" y="224.55" width="3.42" height="3.3" fill="#bae54c"/>
<rect x="373.47" y="224.55" width="3.42" height="3.3" fill="#bae54c"/>
<rect x="376.83" y="224.55" width="3.42" height="3.3" fill="#53d7a0"/></g>
<defs><linearGradient id="jb3" x1="0" y1="0" x2="0" y2="1"><stop offset="0" stop-color="#960f0a"/><stop offset="0.1" stop-color="#e13c14"/><stop offset="0.22" stop-color="#faa028"/><stop offset="0.34" stop-color="#d7e63c"/><stop offset="0.45" stop-color="#6ee178"/><stop offset="0.58" stop-color="#28c8e1"/><stop offset="0.7" stop-color="#2896f0"/><stop offset="0.88" stop-color="#283ce1"/><stop offset="1" stop-color="#19198c"/></linearGradient></defs>
<rect x="384.7" y="209" width="3" height="12.8" fill="url(#jb3)"/>
<text x="385.8" y="207" font-size="5" text-anchor="middle" font-weight="normal" fill="#000" stroke="#000" stroke-width="0.1">0.8</text>
<text x="385.3" y="228.3" font-size="5" text-anchor="middle" font-weight="normal" fill="#000" stroke="#000" stroke-width="0.1">−0.1</text>
<text x="395.8" y="214.5" font-size="5" text-anchor="middle" font-weight="normal" fill="#000" transform="rotate(-90 395.8 214.5)" stroke="#000" stroke-width="0.1">Correlation</text>
<text x="344.7" y="241.4" font-size="5" text-anchor="middle" font-weight="normal" fill="#000" stroke="#000" stroke-width="0.1">Neural correlation</text>
<g filter="url(#bl3)" shape-rendering="crispEdges"><rect x="310" y="243.1" width="3.38" height="3.3" fill="#28b7e6"/>
<rect x="313.33" y="243.1" width="3.38" height="3.3" fill="#53d7a0"/>
<rect x="316.67" y="243.1" width="3.38" height="3.3" fill="#bae54c"/>
<rect x="320" y="243.1" width="3.38" height="3.3" fill="#bae54c"/>
<rect x="323.33" y="243.1" width="3.38" height="3.3" fill="#28b7e6"/>
<rect x="326.67" y="243.1" width="3.38" height="3.3" fill="#53d7a0"/>
<rect x="330" y="243.1" width="3.38" height="3.3" fill="#28b7e6"/>
<rect x="333.33" y="243.1" width="3.38" height="3.3" fill="#28b7e6"/>
<rect x="336.67" y="243.1" width="3.38" height="3.3" fill="#288cee"/>
<rect x="340" y="243.1" width="3.38" height="3.3" fill="#28b7e6"/>
<rect x="343.33" y="243.1" width="3.38" height="3.3" fill="#28b7e6"/>
<rect x="346.67" y="243.1" width="3.38" height="3.3" fill="#28b7e6"/>
<rect x="350" y="243.1" width="3.38" height="3.3" fill="#53d7a0"/>
<rect x="353.33" y="243.1" width="3.38" height="3.3" fill="#28b7e6"/>
<rect x="356.67" y="243.1" width="3.38" height="3.3" fill="#28b7e6"/>
<rect x="360" y="243.1" width="3.38" height="3.3" fill="#28b7e6"/>
<rect x="363.33" y="243.1" width="3.38" height="3.3" fill="#53d7a0"/>
<rect x="366.67" y="243.1" width="3.38" height="3.3" fill="#bae54c"/>
<rect x="370" y="243.1" width="3.38" height="3.3" fill="#bae54c"/>
<rect x="373.33" y="243.1" width="3.38" height="3.3" fill="#53d7a0"/>
<rect x="376.67" y="243.1" width="3.38" height="3.3" fill="#28b7e6"/>
<rect x="310" y="246.35" width="3.38" height="3.3" fill="#53d7a0"/>
<rect x="313.33" y="246.35" width="3.38" height="3.3" fill="#28b7e6"/>
<rect x="316.67" y="246.35" width="3.38" height="3.3" fill="#53d7a0"/>
<rect x="320" y="246.35" width="3.38" height="3.3" fill="#28b7e6"/>
<rect x="323.33" y="246.35" width="3.38" height="3.3" fill="#53d7a0"/>
<rect x="326.67" y="246.35" width="3.38" height="3.3" fill="#28b7e6"/>
<rect x="330" y="246.35" width="3.38" height="3.3" fill="#28b7e6"/>
<rect x="333.33" y="246.35" width="3.38" height="3.3" fill="#288cee"/>
<rect x="336.67" y="246.35" width="3.38" height="3.3" fill="#28b7e6"/>
<rect x="340" y="246.35" width="3.38" height="3.3" fill="#2855e5"/>
<rect x="343.33" y="246.35" width="3.38" height="3.3" fill="#28b7e6"/>
<rect x="346.67" y="246.35" width="3.38" height="3.3" fill="#288cee"/>
<rect x="350" y="246.35" width="3.38" height="3.3" fill="#28b7e6"/>
<rect x="353.33" y="246.35" width="3.38" height="3.3" fill="#53d7a0"/>
<rect x="356.67" y="246.35" width="3.38" height="3.3" fill="#28b7e6"/>
<rect x="360" y="246.35" width="3.38" height="3.3" fill="#28b7e6"/>
<rect x="363.33" y="246.35" width="3.38" height="3.3" fill="#53d7a0"/>
<rect x="366.67" y="246.35" width="3.38" height="3.3" fill="#28b7e6"/>
<rect x="370" y="246.35" width="3.38" height="3.3" fill="#53d7a0"/>
<rect x="373.33" y="246.35" width="3.38" height="3.3" fill="#bae54c"/>
<rect x="376.67" y="246.35" width="3.38" height="3.3" fill="#28b7e6"/>
<rect x="310" y="249.61" width="3.38" height="3.3" fill="#28b7e6"/>
<rect x="313.33" y="249.61" width="3.38" height="3.3" fill="#53d7a0"/>
<rect x="316.67" y="249.61" width="3.38" height="3.3" fill="#28b7e6"/>
<rect x="320" y="249.61" width="3.38" height="3.3" fill="#28b7e6"/>
<rect x="323.33" y="249.61" width="3.38" height="3.3" fill="#53d7a0"/>
<rect x="326.67" y="249.61" width="3.38" height="3.3" fill="#28b7e6"/>
<rect x="330" y="249.61" width="3.38" height="3.3" fill="#53d7a0"/>
<rect x="333.33" y="249.61" width="3.38" height="3.3" fill="#28b7e6"/>
<rect x="336.67" y="249.61" width="3.38" height="3.3" fill="#28b7e6"/>
<rect x="340" y="249.61" width="3.38" height="3.3" fill="#28b7e6"/>
<rect x="343.33" y="249.61" width="3.38" height="3.3" fill="#2855e5"/>
<rect x="346.67" y="249.61" width="3.38" height="3.3" fill="#28b7e6"/>
<rect x="350" y="249.61" width="3.38" height="3.3" fill="#53d7a0"/>
<rect x="353.33" y="249.61" width="3.38" height="3.3" fill="#28b7e6"/>
<rect x="356.67" y="249.61" width="3.38" height="3.3" fill="#288cee"/>
<rect x="360" y="249.61" width="3.38" height="3.3" fill="#28b7e6"/>
<rect x="363.33" y="249.61" width="3.38" height="3.3" fill="#28b7e6"/>
<rect x="366.67" y="249.61" width="3.38" height="3.3" fill="#28b7e6"/>
<rect x="370" y="249.61" width="3.38" height="3.3" fill="#53d7a0"/>
<rect x="373.33" y="249.61" width="3.38" height="3.3" fill="#28b7e6"/>
<rect x="376.67" y="249.61" width="3.38" height="3.3" fill="#28b7e6"/>
<rect x="310" y="252.86" width="3.38" height="3.3" fill="#288cee"/>
<rect x="313.33" y="252.86" width="3.38" height="3.3" fill="#28b7e6"/>
<rect x="316.67" y="252.86" width="3.38" height="3.3" fill="#53d7a0"/>
<rect x="320" y="252.86" width="3.38" height="3.3" fill="#28b7e6"/>
<rect x="323.33" y="252.86" width="3.38" height="3.3" fill="#28b7e6"/>
<rect x="326.67" y="252.86" width="3.38" height="3.3" fill="#28b7e6"/>
<rect x="330" y="252.86" width="3.38" height="3.3" fill="#53d7a0"/>
<rect x="333.33" y="252.86" width="3.38" height="3.3" fill="#bae54c"/>
<rect x="336.67" y="252.86" width="3.38" height="3.3" fill="#f4ac2b"/>
<rect x="340" y="252.86" width="3.38" height="3.3" fill="#28b7e6"/>
<rect x="343.33" y="252.86" width="3.38" height="3.3" fill="#28b7e6"/>
<rect x="346.67" y="252.86" width="3.38" height="3.3" fill="#53d7a0"/>
<rect x="350" y="252.86" width="3.38" height="3.3" fill="#28b7e6"/>
<rect x="353.33" y="252.86" width="3.38" height="3.3" fill="#bae54c"/>
<rect x="356.67" y="252.86" width="3.38" height="3.3" fill="#28b7e6"/>
<rect x="360" y="252.86" width="3.38" height="3.3" fill="#28b7e6"/>
<rect x="363.33" y="252.86" width="3.38" height="3.3" fill="#288cee"/>
<rect x="366.67" y="252.86" width="3.38" height="3.3" fill="#28b7e6"/>
<rect x="370" y="252.86" width="3.38" height="3.3" fill="#53d7a0"/>
<rect x="373.33" y="252.86" width="3.38" height="3.3" fill="#28b7e6"/>
<rect x="376.67" y="252.86" width="3.38" height="3.3" fill="#53d7a0"/>
<rect x="310" y="256.12" width="3.38" height="3.3" fill="#28b7e6"/>
<rect x="313.33" y="256.12" width="3.38" height="3.3" fill="#28b7e6"/>
<rect x="316.67" y="256.12" width="3.38" height="3.3" fill="#28b7e6"/>
<rect x="320" y="256.12" width="3.38" height="3.3" fill="#53d7a0"/>
<rect x="323.33" y="256.12" width="3.38" height="3.3" fill="#28b7e6"/>
<rect x="326.67" y="256.12" width="3.38" height="3.3" fill="#bae54c"/>
<rect x="330" y="256.12" width="3.38" height="3.3" fill="#bae54c"/>
<rect x="333.33" y="256.12" width="3.38" height="3.3" fill="#28b7e6"/>
<rect x="336.67" y="256.12" width="3.38" height="3.3" fill="#28b7e6"/>
<rect x="340" y="256.12" width="3.38" height="3.3" fill="#28b7e6"/>
<rect x="343.33" y="256.12" width="3.38" height="3.3" fill="#288cee"/>
<rect x="346.67" y="256.12" width="3.38" height="3.3" fill="#28b7e6"/>
<rect x="350" y="256.12" width="3.38" height="3.3" fill="#bae54c"/>
<rect x="353.33" y="256.12" width="3.38" height="3.3" fill="#28b7e6"/>
<rect x="356.67" y="256.12" width="3.38" height="3.3" fill="#28b7e6"/>
<rect x="360" y="256.12" width="3.38" height="3.3" fill="#288cee"/>
<rect x="363.33" y="256.12" width="3.38" height="3.3" fill="#28b7e6"/>
<rect x="366.67" y="256.12" width="3.38" height="3.3" fill="#288cee"/>
<rect x="370" y="256.12" width="3.38" height="3.3" fill="#28b7e6"/>
<rect x="373.33" y="256.12" width="3.38" height="3.3" fill="#53d7a0"/>
<rect x="376.67" y="256.12" width="3.38" height="3.3" fill="#28b7e6"/>
<rect x="310" y="259.37" width="3.38" height="3.3" fill="#28b7e6"/>
<rect x="313.33" y="259.37" width="3.38" height="3.3" fill="#53d7a0"/>
<rect x="316.67" y="259.37" width="3.38" height="3.3" fill="#28b7e6"/>
<rect x="320" y="259.37" width="3.38" height="3.3" fill="#28b7e6"/>
<rect x="323.33" y="259.37" width="3.38" height="3.3" fill="#28b7e6"/>
<rect x="326.67" y="259.37" width="3.38" height="3.3" fill="#53d7a0"/>
<rect x="330" y="259.37" width="3.38" height="3.3" fill="#bae54c"/>
<rect x="333.33" y="259.37" width="3.38" height="3.3" fill="#288cee"/>
<rect x="336.67" y="259.37" width="3.38" height="3.3" fill="#2855e5"/>
<rect x="340" y="259.37" width="3.38" height="3.3" fill="#288cee"/>
<rect x="343.33" y="259.37" width="3.38" height="3.3" fill="#28b7e6"/>
<rect x="346.67" y="259.37" width="3.38" height="3.3" fill="#288cee"/>
<rect x="350" y="259.37" width="3.38" height="3.3" fill="#28b7e6"/>
<rect x="353.33" y="259.37" width="3.38" height="3.3" fill="#28b7e6"/>
<rect x="356.67" y="259.37" width="3.38" height="3.3" fill="#28b7e6"/>
<rect x="360" y="259.37" width="3.38" height="3.3" fill="#288cee"/>
<rect x="363.33" y="259.37" width="3.38" height="3.3" fill="#28b7e6"/>
<rect x="366.67" y="259.37" width="3.38" height="3.3" fill="#28b7e6"/>
<rect x="370" y="259.37" width="3.38" height="3.3" fill="#28b7e6"/>
<rect x="373.33" y="259.37" width="3.38" height="3.3" fill="#53d7a0"/>
<rect x="376.67" y="259.37" width="3.38" height="3.3" fill="#28b7e6"/>
<rect x="310" y="262.63" width="3.38" height="3.3" fill="#bae54c"/>
<rect x="313.33" y="262.63" width="3.38" height="3.3" fill="#bae54c"/>
<rect x="316.67" y="262.63" width="3.38" height="3.3" fill="#bae54c"/>
<rect x="320" y="262.63" width="3.38" height="3.3" fill="#bae54c"/>
<rect x="323.33" y="262.63" width="3.38" height="3.3" fill="#bae54c"/>
<rect x="326.67" y="262.63" width="3.38" height="3.3" fill="#bae54c"/>
<rect x="330" y="262.63" width="3.38" height="3.3" fill="#53d7a0"/>
<rect x="333.33" y="262.63" width="3.38" height="3.3" fill="#2855e5"/>
<rect x="336.67" y="262.63" width="3.38" height="3.3" fill="#288cee"/>
<rect x="340" y="262.63" width="3.38" height="3.3" fill="#2855e5"/>
<rect x="343.33" y="262.63" width="3.38" height="3.3" fill="#2855e5"/>
<rect x="346.67" y="262.63" width="3.38" height="3.3" fill="#288cee"/>
<rect x="350" y="262.63" width="3.38" height="3.3" fill="#288cee"/>
<rect x="353.33" y="262.63" width="3.38" height="3.3" fill="#28b7e6"/>
<rect x="356.67" y="262.63" width="3.38" height="3.3" fill="#28b7e6"/>
<rect x="360" y="262.63" width="3.38" height="3.3" fill="#28b7e6"/>
<rect x="363.33" y="262.63" width="3.38" height="3.3" fill="#53d7a0"/>
<rect x="366.67" y="262.63" width="3.38" height="3.3" fill="#bae54c"/>
<rect x="370" y="262.63" width="3.38" height="3.3" fill="#bae54c"/>
<rect x="373.33" y="262.63" width="3.38" height="3.3" fill="#bae54c"/>
<rect x="376.67" y="262.63" width="3.38" height="3.3" fill="#53d7a0"/>
<rect x="310" y="265.88" width="3.38" height="3.3" fill="#bae54c"/>
<rect x="313.33" y="265.88" width="3.38" height="3.3" fill="#f4ac2b"/>
<rect x="316.67" y="265.88" width="3.38" height="3.3" fill="#f4ac2b"/>
<rect x="320" y="265.88" width="3.38" height="3.3" fill="#f4ac2b"/>
<rect x="323.33" y="265.88" width="3.38" height="3.3" fill="#e75519"/>
<rect x="326.67" y="265.88" width="3.38" height="3.3" fill="#bae54c"/>
<rect x="330" y="265.88" width="3.38" height="3.3" fill="#bae54c"/>
<rect x="333.33" y="265.88" width="3.38" height="3.3" fill="#2855e5"/>
<rect x="336.67" y="265.88" width="3.38" height="3.3" fill="#2855e5"/>
<rect x="340" y="265.88" width="3.38" height="3.3" fill="#1e25a8"/>
<rect x="343.33" y="265.88" width="3.38" height="3.3" fill="#2855e5"/>
<rect x="346.67" y="265.88" width="3.38" height="3.3" fill="#288cee"/>
<rect x="350" y="265.88" width="3.38" height="3.3" fill="#288cee"/>
<rect x="353.33" y="265.88" width="3.38" height="3.3" fill="#28b7e6"/>
<rect x="356.67" y="265.88" width="3.38" height="3.3" fill="#53d7a0"/>
<rect x="360" y="265.88" width="3.38" height="3.3" fill="#bae54c"/>
<rect x="363.33" y="265.88" width="3.38" height="3.3" fill="#f4ac2b"/>
<rect x="366.67" y="265.88" width="3.38" height="3.3" fill="#e75519"/>
<rect x="370" y="265.88" width="3.38" height="3.3" fill="#f4ac2b"/>
<rect x="373.33" y="265.88" width="3.38" height="3.3" fill="#bae54c"/>
<rect x="376.67" y="265.88" width="3.38" height="3.3" fill="#28b7e6"/>
<rect x="310" y="269.14" width="3.38" height="3.3" fill="#bae54c"/>
<rect x="313.33" y="269.14" width="3.38" height="3.3" fill="#e75519"/>
<rect x="316.67" y="269.14" width="3.38" height="3.3" fill="#e75519"/>
<rect x="320" y="269.14" width="3.38" height="3.3" fill="#e75519"/>
<rect x="323.33" y="269.14" width="3.38" height="3.3" fill="#f4ac2b"/>
<rect x="326.67" y="269.14" width="3.38" height="3.3" fill="#bae54c"/>
<rect x="330" y="269.14" width="3.38" height="3.3" fill="#53d7a0"/>
<rect x="333.33" y="269.14" width="3.38" height="3.3" fill="#2855e5"/>
<rect x="336.67" y="269.14" width="3.38" height="3.3" fill="#1e25a8"/>
<rect x="340" y="269.14" width="3.38" height="3.3" fill="#2855e5"/>
<rect x="343.33" y="269.14" width="3.38" height="3.3" fill="#2855e5"/>
<rect x="346.67" y="269.14" width="3.38" height="3.3" fill="#2855e5"/>
<rect x="350" y="269.14" width="3.38" height="3.3" fill="#288cee"/>
<rect x="353.33" y="269.14" width="3.38" height="3.3" fill="#28b7e6"/>
<rect x="356.67" y="269.14" width="3.38" height="3.3" fill="#53d7a0"/>
<rect x="360" y="269.14" width="3.38" height="3.3" fill="#bae54c"/>
<rect x="363.33" y="269.14" width="3.38" height="3.3" fill="#e75519"/>
<rect x="366.67" y="269.14" width="3.38" height="3.3" fill="#b4210e"/>
<rect x="370" y="269.14" width="3.38" height="3.3" fill="#e75519"/>
<rect x="373.33" y="269.14" width="3.38" height="3.3" fill="#f4ac2b"/>
<rect x="376.67" y="269.14" width="3.38" height="3.3" fill="#28b7e6"/>
<rect x="310" y="272.39" width="3.38" height="3.3" fill="#f4ac2b"/>
<rect x="313.33" y="272.39" width="3.38" height="3.3" fill="#b4210e"/>
<rect x="316.67" y="272.39" width="3.38" height="3.3" fill="#e75519"/>
<rect x="320" y="272.39" width="3.38" height="3.3" fill="#e75519"/>
<rect x="323.33" y="272.39" width="3.38" height="3.3" fill="#e75519"/>
<rect x="326.67" y="272.39" width="3.38" height="3.3" fill="#bae54c"/>
<rect x="330" y="272.39" width="3.38" height="3.3" fill="#bae54c"/>
<rect x="333.33" y="272.39" width="3.38" height="3.3" fill="#2855e5"/>
<rect x="336.67" y="272.39" width="3.38" height="3.3" fill="#2855e5"/>
<rect x="340" y="272.39" width="3.38" height="3.3" fill="#1e25a8"/>
<rect x="343.33" y="272.39" width="3.38" height="3.3" fill="#2855e5"/>
<rect x="346.67" y="272.39" width="3.38" height="3.3" fill="#288cee"/>
<rect x="350" y="272.39" width="3.38" height="3.3" fill="#288cee"/>
<rect x="353.33" y="272.39" width="3.38" height="3.3" fill="#28b7e6"/>
<rect x="356.67" y="272.39" width="3.38" height="3.3" fill="#53d7a0"/>
<rect x="360" y="272.39" width="3.38" height="3.3" fill="#bae54c"/>
<rect x="363.33" y="272.39" width="3.38" height="3.3" fill="#f4ac2b"/>
<rect x="366.67" y="272.39" width="3.38" height="3.3" fill="#b4210e"/>
<rect x="370" y="272.39" width="3.38" height="3.3" fill="#e75519"/>
<rect x="373.33" y="272.39" width="3.38" height="3.3" fill="#f4ac2b"/>
<rect x="376.67" y="272.39" width="3.38" height="3.3" fill="#28b7e6"/>
<rect x="310" y="275.65" width="3.38" height="3.3" fill="#bae54c"/>
<rect x="313.33" y="275.65" width="3.38" height="3.3" fill="#b4210e"/>
<rect x="316.67" y="275.65" width="3.38" height="3.3" fill="#e75519"/>
<rect x="320" y="275.65" width="3.38" height="3.3" fill="#f4ac2b"/>
<rect x="323.33" y="275.65" width="3.38" height="3.3" fill="#f4ac2b"/>
<rect x="326.67" y="275.65" width="3.38" height="3.3" fill="#bae54c"/>
<rect x="330" y="275.65" width="3.38" height="3.3" fill="#53d7a0"/>
<rect x="333.33" y="275.65" width="3.38" height="3.3" fill="#288cee"/>
<rect x="336.67" y="275.65" width="3.38" height="3.3" fill="#2855e5"/>
<rect x="340" y="275.65" width="3.38" height="3.3" fill="#2855e5"/>
<rect x="343.33" y="275.65" width="3.38" height="3.3" fill="#288cee"/>
<rect x="346.67" y="275.65" width="3.38" height="3.3" fill="#2855e5"/>
<rect x="350" y="275.65" width="3.38" height="3.3" fill="#288cee"/>
<rect x="353.33" y="275.65" width="3.38" height="3.3" fill="#28b7e6"/>
<rect x="356.67" y="275.65" width="3.38" height="3.3" fill="#53d7a0"/>
<rect x="360" y="275.65" width="3.38" height="3.3" fill="#bae54c"/>
<rect x="363.33" y="275.65" width="3.38" height="3.3" fill="#f4ac2b"/>
<rect x="366.67" y="275.65" width="3.38" height="3.3" fill="#e75519"/>
<rect x="370" y="275.65" width="3.38" height="3.3" fill="#e75519"/>
<rect x="373.33" y="275.65" width="3.38" height="3.3" fill="#bae54c"/>
<rect x="376.67" y="275.65" width="3.38" height="3.3" fill="#28b7e6"/></g>
<defs><linearGradient id="jb4" x1="0" y1="0" x2="0" y2="1"><stop offset="0" stop-color="#960f0a"/><stop offset="0.1" stop-color="#e13c14"/><stop offset="0.22" stop-color="#faa028"/><stop offset="0.34" stop-color="#d7e63c"/><stop offset="0.45" stop-color="#6ee178"/><stop offset="0.58" stop-color="#28c8e1"/><stop offset="0.7" stop-color="#2896f0"/><stop offset="0.88" stop-color="#283ce1"/><stop offset="1" stop-color="#19198c"/></linearGradient></defs>
<rect x="384.3" y="260" width="3" height="13.7" fill="url(#jb4)"/>
<text x="385.6" y="258.3" font-size="5" text-anchor="middle" font-weight="normal" fill="#000" stroke="#000" stroke-width="0.1">0.6</text>
<text x="384.9" y="280" font-size="5" text-anchor="middle" font-weight="normal" fill="#000" stroke="#000" stroke-width="0.1">−0.2</text>
<text x="395.5" y="266.6" font-size="5" text-anchor="middle" font-weight="normal" fill="#000" transform="rotate(-90 395.5 266.6)" stroke="#000" stroke-width="0.1">Correlation</text>
</svg>
</body></html>
